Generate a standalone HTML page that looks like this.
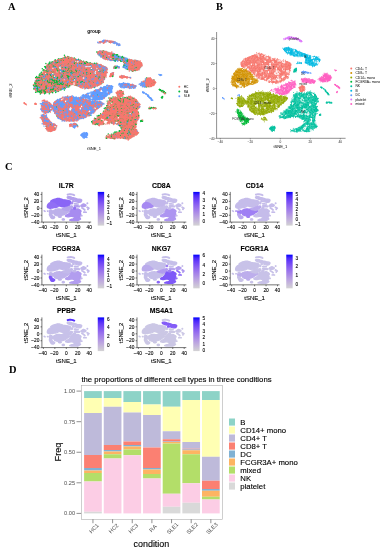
<!DOCTYPE html>
<html><head><meta charset="utf-8"><title>Figure</title><style>html,body{margin:0;padding:0;background:#fff}body{width:384px;height:550px;overflow:hidden}</style></head><body>
<svg width="384" height="550" viewBox="0 0 384 550" style="display:block" font-family="'Liberation Sans',Arial,sans-serif">
<rect width="384" height="550" fill="#fff"/>
<text x="8" y="9.8" font-family="'Liberation Serif','Times New Roman',serif" font-weight="bold" font-size="10.4">A</text>
<text x="216" y="9.8" font-family="'Liberation Serif','Times New Roman',serif" font-weight="bold" font-size="10.4">B</text>
<text x="5.1" y="170.1" font-family="'Liberation Serif','Times New Roman',serif" font-weight="bold" font-size="10.4">C</text>
<text x="9" y="373.2" font-family="'Liberation Serif','Times New Roman',serif" font-weight="bold" font-size="10.4">D</text>
<g id="panelA">
<path d="M44.6 67.3L47.1 64.7L51.0 62.4L54.9 60.1L60.0 58.5L66.0 56.6L71.8 57.0L74.2 58.0L79.0 59.6L83.2 61.1L88.6 62.1L93.7 63.1L99.5 64.2L104.3 65.7L107.3 67.8L107.9 70.2L107.3 73.0L106.6 75.3L105.5 78.2L104.3 80.5L103.1 82.8L101.3 84.4L97.7 86.4L93.7 88.0L88.6 89.0L83.2 88.5L78.4 86.9L74.2 85.6L69.8 85.3L66.7 84.0L63.7 81.3L60.7 79.0L56.5 77.1L51.6 75.1L48.1 72.9L45.9 70.9Z" fill="#ad8a92" opacity="0.8" stroke="#fff" stroke-width="0.6"/>
<path d="M33.7 86.9L34.4 82.8L35.0 80.5L36.8 77.6L38.9 75.3L41.0 73.5L44.0 72.0L47.2 72.2L51.8 73.2L55.7 74.7L58.7 77.3L60.9 79.7L64.2 82.5L66.9 84.9L67.5 87.5L64.5 89.0L59.7 90.6L54.9 91.6L50.1 92.6L45.3 93.4L40.4 93.1L36.8 92.1L34.4 90.0Z" fill="#869575" opacity="0.8" stroke="#fff" stroke-width="0.6"/>
<path d="M40.4 106.0L41.4 103.5L42.7 101.5L45.3 100.7L48.0 100.9L50.1 102.4L52.5 104.8L54.0 102.2L56.7 99.8L60.0 98.3L63.3 97.1L67.5 96.3L71.8 96.2L74.2 97.0L77.8 97.0L81.7 97.0L85.6 98.3L89.2 99.6L93.4 100.4L98.3 100.9L101.9 101.7L104.9 103.3L103.1 105.0L101.3 107.3L98.3 109.1L95.2 111.2L92.8 113.3L90.7 115.1L87.4 116.9L84.7 118.3L81.4 119.5L78.7 120.2L74.2 121.8L68.1 121.8L63.0 120.9L59.7 119.5L57.0 117.7L55.3 114.8L54.0 112.5L53.3 109.7L51.0 111.2L48.9 113.1L46.5 113.8L44.0 113.3L41.9 112.5L40.7 109.7ZM78.0 125.4L77.7 126.1L76.7 126.7L75.3 127.1L73.6 127.2L71.9 127.1L70.4 126.7L69.4 126.1L69.1 125.4L69.4 124.6L70.4 124.0L71.9 123.6L73.6 123.5L75.3 123.6L76.7 124.0L77.7 124.6Z" fill="#a98aae" opacity="0.8" stroke="#fff" stroke-width="0.6"/>
<path d="M40.4 114.4L43.4 114.0L46.5 115.1L47.7 116.9L48.7 119.0L50.4 121.0L52.5 122.8L54.9 124.1L57.0 125.4L57.3 127.2L56.1 129.3L54.3 130.8L51.8 131.9L48.9 131.7L46.5 130.6L45.3 128.8L44.2 126.7L42.8 124.1L41.9 121.5L41.0 119.5L40.4 117.7Z" fill="#9b8ea9" opacity="0.8" stroke="#fff" stroke-width="0.6"/>
<path d="M81.4 95.8L86.2 93.4L90.7 92.1L94.6 90.0L99.8 88.2L103.7 86.7L107.3 85.6L111.5 84.9L113.3 86.9L112.5 90.9L110.3 93.8L107.4 96.0L104.5 98.3L101.9 100.1L97.7 100.8L93.7 100.7L89.0 99.6L84.4 98.1Z" fill="#689af2" opacity="0.8" stroke="#fff" stroke-width="0.6"/>
<path d="M92.2 120.9L95.2 118.3L99.8 115.8L102.5 113.3L104.3 111.2L105.8 108.6L106.6 106.0L107.3 103.5L108.0 100.9L109.1 99.0L110.3 97.7L113.9 97.1L117.8 97.0L121.1 97.6L123.9 98.3L126.6 96.7L129.9 95.8L133.2 97.1L135.9 99.1L138.6 101.4L140.4 104.2L139.2 107.6L137.4 110.7L139.0 113.3L139.7 115.9L138.6 119.0L137.4 122.3L136.8 125.7L135.9 128.8L137.8 131.1L138.9 133.3L136.8 135.3L134.4 136.5L131.4 138.4L128.4 139.7L122.4 139.1L119.3 138.3L114.5 139.1L110.3 139.0L106.7 138.6L104.3 137.6L107.3 135.8L110.9 134.2L114.8 133.2L118.1 131.7L120.5 130.3L122.4 128.7L120.3 126.8L117.8 125.4L114.5 124.1L111.8 123.5L107.9 123.9L104.3 124.7L101.3 125.4L98.3 125.4L95.2 124.6L92.2 123.5L91.4 122.1Z" fill="#c28570" opacity="0.8" stroke="#fff" stroke-width="0.6"/>
<path d="M87.8 135.1L87.5 136.1L86.8 136.9L85.6 137.5L84.3 137.6L82.9 137.5L81.8 136.9L81.1 136.1L80.8 135.1L81.1 134.1L81.8 133.2L82.9 132.7L84.3 132.5L85.6 132.7L86.8 133.2L87.5 134.1Z" fill="#6d99f3" opacity="0.8" stroke="#fff" stroke-width="0.2"/>
<path d="M113.6 75.2L113.0 76.1L112.3 76.8L111.5 77.1L110.7 77.1L110.1 76.7L109.7 76.0L109.7 75.1L109.9 74.1L110.5 73.2L111.2 72.5L112.0 72.2L112.8 72.2L113.4 72.6L113.8 73.3L113.8 74.2Z" fill="#c18485" opacity="0.8" stroke="#fff" stroke-width="0.2"/>
<path d="M142.3 92.6L145.9 94.7L149.5 98.2L151.9 100.8L153.1 99.9L150.7 97.4L147.0 93.7L143.1 91.4Z" fill="#649bfc" opacity="0.8" stroke="#fff" stroke-width="0.2"/>
<path d="M148.8 108.8L152.4 108.5L156.9 109.0L157.1 107.8L152.5 107.3L148.7 107.6Z" fill="#709b50" opacity="0.8" stroke="#fff" stroke-width="0.2"/>
<path d="M143.4 121.0L143.3 121.4L143.0 121.7L142.5 122.0L142.0 122.1L141.4 122.0L141.0 121.7L140.7 121.4L140.5 121.0L140.7 120.6L141.0 120.3L141.4 120.1L142.0 120.0L142.5 120.1L143.0 120.3L143.3 120.6Z" fill="#32ac43" opacity="0.8" stroke="#fff" stroke-width="0.2"/>
<path d="M96.8 52.1L99.5 50.6L104.3 50.2L107.9 51.3L111.8 52.8L115.7 53.9L119.3 55.3L123.6 56.8L127.8 58.2L132.0 59.6L135.6 59.6L139.2 60.6L142.5 63.1L142.2 66.3L139.5 70.2L135.6 71.2L132.0 71.4L128.4 70.4L124.8 68.9L122.4 67.6L123.0 65.2L123.9 63.1L121.7 61.6L119.3 61.1L115.7 61.3L111.8 61.1L107.9 60.3L104.3 59.2L101.3 57.7L98.3 56.0L97.1 53.9ZM119.3 67.3L119.1 67.9L118.5 68.3L117.5 68.6L116.3 68.8L115.2 68.6L114.2 68.3L113.5 67.9L113.3 67.3L113.5 66.8L114.2 66.3L115.2 66.0L116.3 65.9L117.5 66.0L118.5 66.3L119.1 66.8Z" fill="#5d9f9c" opacity="0.8" stroke="#fff" stroke-width="0.6"/>
<path d="M98.0 44.0L101.0 42.8L104.4 42.3L107.3 42.0L110.7 42.4L114.1 43.4L116.9 44.6L118.6 46.2L120.1 45.0L118.1 43.2L114.9 41.8L111.2 40.7L107.3 40.2L104.1 40.5L100.4 41.2L97.1 42.5Z" fill="#ab8ab2" opacity="0.8" stroke="#fff" stroke-width="0.2"/>
<path d="M125.7 76.8L125.5 77.3L124.7 77.8L123.6 78.1L122.4 78.2L121.1 78.1L120.0 77.8L119.2 77.3L119.0 76.8L119.2 76.3L120.0 75.9L121.1 75.6L122.4 75.5L123.6 75.6L124.7 75.9L125.5 76.3ZM124.7 77.6L131.3 78.3L131.5 77.4L124.8 76.7Z" fill="#e47b72" opacity="0.8" stroke="#fff" stroke-width="0.2"/>
<path d="M118.7 84.4L122.4 82.8L127.2 83.3L132.0 84.4L136.5 85.9L135.6 88.0L130.8 88.5L124.8 88.0L119.9 86.9Z" fill="#7a96e1" opacity="0.8" stroke="#fff" stroke-width="0.2"/>
<path d="M123.6 93.7L123.3 94.9L122.5 96.0L121.3 96.7L119.9 97.0L118.6 96.7L117.4 96.0L116.6 94.9L116.3 93.7L116.6 92.4L117.4 91.3L118.6 90.6L119.9 90.3L121.3 90.6L122.5 91.3L123.3 92.4Z" fill="#d87f6f" opacity="0.8" stroke="#fff" stroke-width="0.2"/>
<path d="M156.0 82.1L155.7 83.8L154.2 85.3L151.7 86.6L148.7 87.4L145.6 87.5L142.8 87.1L140.8 86.0L139.8 84.5L140.1 82.9L141.6 81.3L144.0 80.0L147.1 79.3L150.2 79.1L153.0 79.6L155.0 80.6ZM151.9 79.7L151.6 80.5L150.8 81.2L149.6 81.6L148.3 81.8L146.9 81.6L145.7 81.2L144.9 80.5L144.6 79.7L144.9 78.9L145.7 78.2L146.9 77.8L148.3 77.6L149.6 77.8L150.8 78.2L151.6 78.9Z" fill="#d87f6f" opacity="0.8" stroke="#fff" stroke-width="0.6"/>
<path d="M161.4 74.9L161.3 75.2L161.1 75.5L160.7 75.7L160.3 75.8L159.9 75.7L159.5 75.5L159.3 75.2L159.2 74.9L159.3 74.5L159.5 74.2L159.9 74.0L160.3 73.9L160.7 74.0L161.1 74.2L161.3 74.5Z" fill="#7098f0" opacity="0.8" stroke="#fff" stroke-width="0.2"/>
<path d="M158.7 90.1L162.1 92.0L164.6 94.4L165.9 93.4L163.3 90.8L159.7 88.8ZM162.9 97.3L162.9 97.6L162.7 97.9L162.4 98.1L162.1 98.2L161.8 98.1L161.5 97.9L161.3 97.6L161.3 97.3L161.3 96.9L161.5 96.6L161.8 96.4L162.1 96.3L162.4 96.4L162.7 96.6L162.9 96.9Z" fill="#639f4d" opacity="0.8" stroke="#fff" stroke-width="0.2"/>
<path d="M23.5 103.1L26.5 105.7L27.2 105.1L24.2 102.5ZM44.9 100.4L44.8 100.6L44.5 100.9L44.0 101.0L43.4 101.1L42.9 101.0L42.4 100.9L42.1 100.6L42.0 100.4L42.1 100.1L42.4 99.9L42.9 99.7L43.4 99.6L44.0 99.7L44.5 99.9L44.8 100.1Z" fill="#f07874" opacity="0.8" stroke="#fff" stroke-width="0.2"/>
<path d="M36.6 103.8L36.5 104.0L36.2 104.2L35.8 104.3L35.4 104.4L34.9 104.3L34.5 104.2L34.3 104.0L34.2 103.8L34.3 103.5L34.5 103.3L34.9 103.2L35.4 103.2L35.8 103.2L36.2 103.3L36.5 103.5Z" fill="#df7d68" opacity="0.8" stroke="#fff" stroke-width="0.2"/>
<path d="M64.4 55.3h0m3.4 1.1h0m-12.6 3.3h0m3-.3h0m.3-.5h0m1.7 0h0m1.7-.2h0m.4 .5h0m.9-1.1h0m0 1.5h0m1.6-1.6h0m1.2-.1h0m1.7 2.1h0m.5-1.9h0m.1 .3h0m.5 .7h0m1.8-.2h0m.7 .3h0m.2 .7h0m.7-.3h0m.2-.7h0m1.3 .5h0m.6-1.4h0m2.2 2h0m2-.7h0m0 .6h0m-28.6 2h0m.1 .8h0m.1 .2h0m2.1-1.2h0m2.4-.9h0m.3 .3h0m0 1.9h0m.7-1.5h0m.1-.8h0m.4 .4h0m.8 1.2h0m.2-.8h0m0 1.3h0m.3-.8h0m.4-1.9h0m1.5 1.8h0m.1 .7h0m.4-.7h0m1.3 .2h0m.2-1.1h0m2.7-.2h0m0-.3h0m.4-.2h0m.2-.1h0m.2 .1h0m1.1-.3h0m.8 2.6h0m.2-.1h0m.1-1.2h0m1.1-1.3h0m1.2 2.7h0m.1 .2h0m0-1.1h0m.1-1.7h0m.1 2.7h0m.3-1.5h0m.7 .4h0m2.4-.6h0m.7-.6h0m3.6 1.2h0m1.3 0h0m.8-.9h0m.5 1.8h0m.6-2.5h0m.6 2.4h0m.5-.6h0m.5-.3h0m.2 .7h0m1.3-1.1h0m2.4 1.2h0m.3-.7h0m-40.4 1.7h0m2.1 1.4h0m.9-.8h0m.1-.9h0m2.4 .3h0m.1 1.8h0m.6-.4h0m.1 .3h0m.5-.5h0m.9-1.2h0m1.2 1.1h0m.3 .3h0m.6-1.1h0m.3 0h0m1.3-.1h0m.5-.6h0m.4 1.7h0m.3-1.1h0m.1 1.9h0m.4-.9h0m1.1 1.3h0m.8-2h0m1.8 .7h0m.5 .8h0m.1-.4h0m.1 .7h0m0 .3h0m1.4-.8h0m.5-1.5h0m1 1h0m.6 .5h0m.7-1.5h0m.9 1h0m1.2-1.6h0m.1 1.2h0m1.7 1.4h0m1.7 .3h0m1.4-.6h0m.6-.3h0m.7-.4h0m0 .7h0m.4-1.2h0m.4-.5h0m.5 1h0m.7-1.5h0m.2 1.9h0m1.7-1.7h0m2.7-.2h0m.1 1h0m.8 .8h0m.6 .2h0m1.3-1.6h0m1.2 .9h0m.7-.5h0m.3 1.5h0m.4-.5h0m1.4-.1h0m.1-1.3h0m.3 .6h0m.2 1.1h0m.2 .1h0m.2-1.3h0m.4 .5h0m.1 1.2h0m.9-2.2h0m.7 2h0m.3-1.1h0m.2 .8h0m1.1 .3h0m.4-2.4h0m1.5 1.5h0m.4-1.4h0m3.1 2h0m1.6 0h0m-58.7 3.5h0m2.3-2h0m1.1 1.1h0m.2-1.5h0m.3 .2h0m1.7-.5h0m.2 1h0m.7 .7h0m1-1.1h0m.7 .5h0m.4 .6h0m1-1.3h0m1.4 .5h0m.3 .4h0m.1-1.2h0m.2 2.1h0m.3-.6h0m.6 .9h0m.1-2.6h0m.1 .6h0m1.4 0h0m.3-.1h0m.5 0h0m.8 .2h0m0 1.3h0m1.6 1h0m0-.7h0m.2-2.1h0m1.2 1.9h0m.6-.7h0m.2-.5h0m1.3 1.8h0m.2-.1h0m.7-2.5h0m.9 .2h0m.8 2.6h0m1-1.4h0m.5-.2h0m.5 1.3h0m.6-1.1h0m.5-.1h0m.1-.4h0m.1 1.8h0m.1-2h0m.1 .4h0m2.3-1h0m.8 1.2h0m2.1-.6h0m.6 1.2h0m.8-1.5h0m.2 .6h0m.5 1.5h0m.6-.1h0m.7-2.2h0m0-.1h0m.2 .2h0m1.6 2.2h0m.1 .4h0m.1-2h0m.2 1.3h0m.5 .2h0m.1-1.5h0m1.5 1.1h0m3.7 .6h0m.2-.6h0m.1 .7h0m.4-2.5h0m.2 1.1h0m.5 .9h0m1.2 .5h0m.4-2.6h0m.6 1.7h0m1 .9h0m.6 0h0m.5-2.8h0m.1 2.6h0m.4-.2h0m.1-.7h0m.2 .2h0m1.2 .8h0m3.7-2.5h0m.2-.1h0m.1 .9h0m1.1 1.3h0m0-1.6h0m2.9 2.1h0m.5 .2h0m1.7-2.6h0m-60.7 4.3h0m0-.1h0m.5-.9h0m.9 .5h0m.5 .8h0m.3 .5h0m.8-.8h0m.5-.6h0m.3 1.9h0m.5-.9h0m.5-.8h0m.1 1.3h0m.5-.6h0m.2 0h0m.3-.2h0m0 .6h0m.1-.1h0m.6-.3h0m.9 .5h0m.2 .1h0m2.2-.4h0m0 .2h0m.1 .6h0m.6-.3h0m.1 .2h0m1.9-.7h0m1.2-1.4h0m.8 1.7h0m.3-2.2h0m1.2 .6h0m.6 1.4h0m2.1-.1h0m.3-.1h0m.1-1.8h0m.3 .9h0m.9-.6h0m0 1.9h0m1.6-1.8h0m.2 .9h0m.6-.8h0m.8 0h0m.1 .6h0m0 1.2h0m1.1-1.5h0m.2 1.8h0m1.4-1.5h0m.3 0h0m.2-.1h0m1.5 1.4h0m1.2-1.2h0m.4 0h0m.2-.7h0m.1 .7h0m.8 .9h0m.3-.4h0m1.3 0h0m.1-.8h0m.8-.3h0m2.1 1.1h0m.7-.4h0m.9-1.1h0m.3 1.8h0m.6 .7h0m.3-2.3h0m.8 0h0m1.8 .9h0m1.6-.9h0m.5 .3h0m.5 .5h0m.2-.2h0m.3 .5h0m.5-.9h0m.6 .7h0m2.2-.7h0m.1-.5h0m.7 2.4h0m.7-1.9h0m.1-.5h0m.6 .8h0m0 1.2h0m.1 .5h0m1-2.1h0m.6 .2h0m.6 .3h0m.1 0h0m.3 1.2h0m2.7-1.4h0m.9-.7h0m0 2h0m.3-1.7h0m.5 .7h0m1.2 .6h0m2.6 .3h0m.3-1.8h0m1.3 1.4h0m-66 4h0m.8-1.1h0m1.2-1.1h0m.2-.6h0m.2 2.3h0m1.3-.8h0m.5 1.2h0m1-1.5h0m.2 .4h0m.2-1.1h0m.2 1.2h0m.5-1h0m.3-.5h0m.6 1.8h0m.4-1.3h0m.4-.5h0m1.6 1.4h0m.4 .8h0m.8-.3h0m1-1.4h0m0 1h0m.2-.7h0m.2 1.3h0m.1 .5h0m.6-.1h0m.1-1.9h0m.2 1h0m.2 0h0m.1 .8h0m.4-.1h0m.3 0h0m.2-.9h0m.1-1.5h0m.1 1.3h0m.5-.4h0m.3 1.7h0m.2-.5h0m0-1.3h0m.4 1.3h0m.4 .4h0m.1-.1h0m.4-1.1h0m.3-.3h0m0-1.1h0m.4 2.3h0m0-2.1h0m.8 2h0m.6 .2h0m.1-1.3h0m1.5-.6h0m.2-.3h0m.9 .4h0m.1 .1h0m.8 1.5h0m.8-1.3h0m.3 0h0m2.8-.5h0m.6-.1h0m.9 2.3h0m.6-.1h0m1.3-1.1h0m.8-1.4h0m.6 2.2h0m.4-.9h0m.6-.6h0m.1 1.2h0m1.7-.9h0m1.3 .8h0m.5-1.5h0m.1 1.5h0m1-1.5h0m.7 1.9h0m1.3-1.6h0m1-.5h0m3.3 0h0m2.5 .4h0m1.4 .1h0m.3 2.1h0m.1-1.9h0m.8 1h0m1.2 0h0m.7-1.8h0m.1 2.2h0m.6 0h0m0-.8h0m1.3 .3h0m0 .6h0m2.4-.1h0m1.3-1.1h0m.6 0h0m1.6 1.1h0m.2-1.3h0m1.4-1h0m1.4 1.9h0m1.6-1.5h0m.8 1.2h0m1.1 .7h0m.9-2.1h0m-69.2 5.3h0m.4 .3h0m.2-.2h0m.5-1.1h0m2.9-.7h0m.1-.7h0m.8 .6h0m.2 2.2h0m.4-2.2h0m1.4 2.3h0m.2-2h0m1 .2h0m.3 1.6h0m.4-.2h0m1-1.6h0m.2 1.1h0m.6-1.1h0m.6 1.4h0m.7-1.2h0m.2-.9h0m.1 1.9h0m.2-.7h0m0 .7h0m.1-1.7h0m.2 .6h0m.4 1.7h0m.5-2.1h0m.4 1h0m.5-.3h0m.9 .5h0m.2-.7h0m1.5 1.2h0m.1-2.4h0m.3 .2h0m.2 1.9h0m.1 .4h0m.2-2.3h0m.7 .3h0m.1 1h0m.1 1h0m0-1.1h0m.5-1.1h0m.2 .1h0m.2 .7h0m0-.9h0m.2 .5h0m.1 .7h0m.5-.3h0m.3 1.5h0m.3-2.1h0m.9 1.4h0m.3-1.6h0m.5 1.1h0m.3 .8h0m0-.8h0m.4 1.4h0m1.1-.3h0m0-.9h0m0-.7h0m.1 1.9h0m.1-1.8h0m1.5 1.7h0m1.3-1h0m.2-.5h0m0 .7h0m.8-.3h0m1.3-.5h0m.2-.1h0m.9 1.1h0m.1 .1h0m.2 .5h0m.2-1.4h0m.3 .7h0m.6 .3h0m1.7-1.2h0m1.7 .7h0m.5 .8h0m.9-1.6h0m.7 .7h0m0-.2h0m.4-.1h0m1.2 .3h0m2.4 0h0m.1 .4h0m.6 .8h0m.7-.9h0m1.1-1.3h0m.2 1.4h0m1.7-1.8h0m.3 1.8h0m.1-1.2h0m.2 .6h0m1 1.2h0m1-1.2h0m1.2 1.1h0m.4-1.6h0m3 1.6h0m.3-1.9h0m.1 1.2h0m.1 1h0m.4-1.2h0m.1-.4h0m.9 .6h0m2.2-1.5h0m.9 .5h0m.9 .8h0m.8-.1h0m.9 1.1h0m.2-1.9h0m1.4 .8h0m0 .7h0m.1-1.9h0m.1 2.5h0m1.2-1.5h0m.1-.1h0m.3 1.2h0m.2-2h0m1 .7h0m1.4 1.4h0m.6-1h0m-67.2 4.4h0m.5-2.9h0m.3 1.3h0m.3 1.1h0m.7-1.3h0m.7 .5h0m0-.2h0m.3 .6h0m.7-1.3h0m.7 1.4h0m.1-1.7h0m.9 1.4h0m.2-1h0m.2 .3h0m2.1 1.6h0m.4-1.1h0m.2 .6h0m.3-2.3h0m.2 2.5h0m.1-2h0m.3 1.8h0m.6 .3h0m.2-2.3h0m1.3 2.2h0m.1-.1h0m.3 .5h0m1-.7h0m.3-.2h0m.3-1.9h0m.6 1.9h0m.7-2h0m.1 2.9h0m.6-2.7h0m.2 2.1h0m.1-.5h0m.3 .1h0m.1 .4h0m2.3-.9h0m.4 .4h0m.3-.9h0m.9-.6h0m.5 2.4h0m.2-2.7h0m1.2 .9h0m.2 .3h0m.3 .5h0m.2-.6h0m.3-.2h0m.2-.8h0m.1 1.8h0m.5 1.1h0m.2-.1h0m.1-.5h0m.4-2.3h0m0 .9h0m.2 .1h0m0 1.9h0m.1-2.9h0m.5 .1h0m.4 .6h0m.5 1.6h0m.8-.5h0m0-1.7h0m.8 1.6h0m.3-.2h0m.3 1.2h0m.3-2.3h0m.5 .8h0m1-.1h0m.1-.4h0m.2-.5h0m.2-.1h0m1.3 1.6h0m.1-.4h0m.7-.3h0m0-.3h0m.6 .3h0m0 1.8h0m.1-.2h0m.2-1.6h0m.1-.4h0m4 .4h0m1.1-.2h0m.2-.3h0m1.4 .9h0m.8 1.5h0m.2 0h0m0-.8h0m.6 .2h0m.5-1.2h0m.5 .6h0m.2-.6h0m1.7 .1h0m.1 1.6h0m.6-.5h0m5.1-1.9h0m1.7 2h0m0 0h0m.2 .1h0m2.6-.8h0m.4-1.4h0m.8 .1h0m.4 2.4h0m1-1.8h0m.5-1h0m.4 1.2h0m.9-.7h0m.5 .1h0m.6 1.1h0m2.4-.8h0m.7 1.7h0m.9-1.2h0m.1 1.1h0m.2 .1h0m.2-2h0m.4 1.9h0m-66.9 2.5h0m.4-.7h0m.4 .6h0m0-2h0m0 2.5h0m.5-.4h0m.1-1.6h0m0 .7h0m.5 0h0m.1 .2h0m.6 .7h0m.6-.9h0m.5 1.4h0m.5-1.4h0m.3 1.5h0m.2-1.3h0m.2 0h0m.3 0h0m0-1.1h0m.1 .7h0m.1-.9h0m.1 .1h0m.2 2.7h0m.2-2.3h0m.1-.5h0m.5 2.9h0m.3-.5h0m.6-.8h0m.3 .2h0m.1 .9h0m.1 0h0m1.3-2.6h0m.2 1.7h0m0-1.5h0m0 1.7h0m.7 .4h0m.5-.6h0m.1-.5h0m.5 0h0m.1-.6h0m1.3 2.1h0m1.1-.6h0m.4-.2h0m.2-.1h0m.3 .9h0m.2-2.4h0m0-.3h0m.6 2.7h0m.4-2.7h0m.9 1.5h0m.9-.1h0m0 .1h0m.2-.5h0m.9 1.1h0m1-.1h0m1.4-.5h0m1.7-.7h0m.5 .7h0m.5-1h0m.6 2.2h0m.1-1.5h0m.5-.5h0m0-.8h0m.2 1.2h0m3.5-.5h0m0-.5h0m.4 1.8h0m.6-1.7h0m.3 .7h0m.4-.8h0m.1 1.7h0m.3-1.6h0m.1 2.5h0m.3-2.8h0m.6 2.8h0m.2-2h0m.3 1.3h0m.8 .5h0m.6-.7h0m0-.1h0m1.2 .4h0m.1 .3h0m1.8-.6h0m1.5-1.2h0m.1 .6h0m1.2 1.5h0m.4-1h0m1.3-1.8h0m3.6 .8h0m.6 0h0m1-.3h0m1-.3h0m.1 1.8h0m1.1-.3h0m1.1-.5h0m.1-.4h0m2.7 1h0m.1-1.6h0m.8 0h0m0 0h0m.1 .3h0m.2 .7h0m.5-.5h0m.9-.1h0m.1 1.8h0m2.6 .4h0m.6-2.7h0m.4 1.7h0m1.8-1.7h0m.4 .9h0m.4 .6h0m.2-.3h0m0 .6h0m.4-.1h0m0 .1h0m.1 .7h0m.4-.6h0m0 .2h0m.3 .1h0m.7-2h0m.3 1.8h0m1-.8h0m.1-.7h0m.2 .2h0m1.3-.5h0m-67.8 4h0m1.7 1.3h0m0-2.1h0m1.7 .1h0m.6 1.6h0m.3-1.1h0m.1 .1h0m1.6 .7h0m.4-1.4h0m.3-.4h0m.5 1h0m.1-1h0m.1 1.5h0m1.2 .1h0m.3 .3h0m.3-1.3h0m.7 1.3h0m0-1.7h0m.6 1.5h0m3.3-1.8h0m.9 2h0m0 .2h0m.4-2.1h0m.5 1.9h0m.4-.1h0m.9-1.8h0m.1 2.4h0m.2-.9h0m.2 .7h0m0 0h0m.5-1.2h0m.3 1.5h0m.2-2.4h0m.1 .8h0m.1 .4h0m.2 .7h0m0-1.4h0m.6 .2h0m.4 1.6h0m.5-1.1h0m.1 .1h0m.5-1.6h0m.8 1.3h0m1.3-.8h0m.2 2.2h0m.3-2.2h0m.8-.2h0m0 2.4h0m.9-1h0m.2 .3h0m.9-.1h0m.7-.8h0m.1 1.6h0m.4-1.1h0m.2 1.2h0m.3-.9h0m1.1 .5h0m.1 .3h0m.2 .1h0m.7-.2h0m0-1h0m.2 1.1h0m0-1.9h0m.5-.6h0m.3 2h0m.5-.7h0m.1-.2h0m.4 .6h0m.1 .9h0m.1-1h0m.3 0h0m.1 .4h0m.3 0h0m0-1.5h0m.3 1.1h0m.1-1.1h0m1 .9h0m0 .2h0m1.1-.3h0m.1 0h0m.7 .2h0m.1 .1h0m6.7-1h0m1.1 0h0m.1-.3h0m.5 .9h0m2.2-.4h0m.6-.1h0m.8-.7h0m2.7 1.2h0m.2 .9h0m.1-.9h0m.9-.5h0m.5 1.3h0m.6-.5h0m.3 1.3h0m1.3-1.1h0m1.2-1.7h0m.4 .4h0m1.8-.4h0m.6 .7h0m1.4 .1h0m.1 .2h0m.9-1.1h0m-61.2 4.8h0m.3-.3h0m1.2 .2h0m1-.8h0m.2 1.3h0m.2-.2h0m.3 .6h0m.6-2.6h0m.9 .2h0m.6 2.3h0m.9-2.2h0m.2-.1h0m1.5 2.4h0m.3-2.4h0m0 0h0m.2 .4h0m.5 1.1h0m.4 .7h0m.5-2h0m1.1 2.4h0m.1-1.7h0m1.7 1h0m.3 .8h0m2.1-2h0m.1-.3h0m.9 .6h0m.9 .9h0m.3-2h0m.6 2h0m.3 0h0m.4-2.1h0m.2 .2h0m.2 2.4h0m.1 .2h0m.1-.9h0m.2-1.1h0m.3 1h0m.5-.3h0m.6 1.2h0m.6-2.5h0m0 .8h0m.1 .8h0m.8-1.7h0m2.8 .1h0m1.2 1.3h0m.9 1.4h0m.4-1.2h0m.1-1.4h0m.8 .4h0m2.2 2.2h0m2.7-3h0m1.7 .1h0m15 .9h0m3.4-.4h0m.7-.2h0m-52.3 4.8h0m.4 .1h0m.4-2.3h0m.4 1h0m.4 .5h0m.5 .3h0m.8-.3h0m.3-.2h0m.1-.9h0m.2 1.2h0m.3 .1h0m.7-1.5h0m.2 2.7h0m2.2-2.6h0m1 1.8h0m1.5 .7h0m1.9-1.9h0m.2-.6h0m.8 1.6h0m.3-.8h0m.3-.5h0m.7 1.3h0m.4-.2h0m.3-1.1h0m.9 .9h0m.2 .5h0m1-1.6h0m.4 1.8h0m.3 .6h0m2.4-2.4h0m.4 .3h0m.1-.7h0m.1 2.4h0m.9-1h0m1.3-.7h0m.1 .9h0m.6-.5h0m-18.3 3h0m.4-.6h0m3.9 .2h0m.7-.6h0m4 .6h0m59.6 4.2h0m2.2 .5h0m.2-.2h0m1.7-1.2h0m2.3 .1h0m.1 1.9h0m.4-1h0m0-.5h0m3.1 1h0m1.5 .2h0m.7 0h0m0 .2h0m2.4-.6h0m.7-.2h0m.7-.6h0m.8 .5h0m1 .3h0m2-1.8h0m.3 2.2h0m.2-.3h0m1.4-.4h0m1.3 .8h0m.6-.7h0m.9 .4h0m.2 .1h0m.7 .2h0m-27.1 2.3h0m2.9 .1h0m.6-1h0m.6 .6h0m.1 .5h0m1.3-1.1h0m.5-.9h0m1.1 2.4h0m.1-.7h0m.1-1.8h0m.3 .3h0m.1-.4h0m0 .2h0m.2 1.7h0m1.6 .4h0m1.2-1.7h0m.3 0h0m1.1 .9h0m1.4-.1h0m.1 1.4h0m.5-1.9h0m.5 1.6h0m1.1 .1h0m.5-1.2h0m.3-1.5h0m.4 2.1h0m.2-1.9h0m1.4 2.3h0m.2-2h0m1.4 1.7h0m1-1.8h0m.4 2.4h0m3.3-1.7h0m1.3-.5h0m.1 .4h0m.1 1.4h0m.8-.8h0m.4 1.3h0m1-1.5h0m.8 1.1h0m-29 1.6h0m1 .3h0m1.5-.2h0m.2 1.1h0m.6-1.5h0m.2-.4h0m.1 .9h0m2.1-1.1h0m1 1.4h0m.9-1.2h0m.6 1h0m.5 .2h0m1.2-1.3h0m.3 .1h0m2.9 .3h0m.8 2.2h0m.4-.2h0m.9-2.5h0m1 2.8h0m.6-.3h0m.1-2.5h0m1.1 .1h0m.4 1.7h0m.2-.7h0m1.5 .2h0m.5-.5h0m.4 1h0m1.8-.9h0m1.1 1.5h0m.1 0h0m.1 .1h0m.4 .1h0m.2-2.1h0m0 .9h0m.5 0h0m2-.8h0m.9 2.2h0m.5-.5h0m1 0h0m0-1h0m.5 .4h0m.3 .5h0m-31.9 3.5h0m.2-.1h0m0-.3h0m.5-1.8h0m.9 1.8h0m1.8-2.3h0m0 2.6h0m.1-2.3h0m0 2.4h0m.8-.1h0m.5-1.4h0m.7 1.6h0m2-1.5h0m1.7 1.5h0m.1-2.9h0m0 2.1h0m1.1-.6h0m.6 1.3h0m.1-1.8h0m.4-.2h0m.1 1.2h0m.9 .9h0m.4-2.6h0m0 .6h0m.3 .1h0m.8 .1h0m5.5 .3h0m.2 .4h0m.1-.6h0m0 1.3h0m.4-2.1h0m.9 2.2h0m3.1-.4h0m.5-1.3h0m1-.2h0m.2 0h0m1 1.8h0m1.7-.6h0m.1-.9h0m.4 .8h0m.2-1.9h0m.2 1h0m2.2 .5h0m.3 .2h0m.5-.6h0m.3 0h0m-34.6 2.5h0m.3-.5h0m.9 2.1h0m.2-.6h0m.2-1.3h0m1.7 .5h0m.1-.6h0m0 1.9h0m1.7-1.4h0m1.1 1.9h0m.9-2h0m.4 2h0m.2-.6h0m.7-.6h0m.9 .4h0m0-1h0m.5 .1h0m1.3 1h0m2.8-.9h0m.2 1.6h0m.7-1h0m1.3-.6h0m.5 1.3h0m.2-1.1h0m.8-1h0m.4 2.7h0m.7-1.8h0m.1 .1h0m0 .7h0m.5 .7h0m.3-2.6h0m.7 1.2h0m.1-.5h0m.4-.5h0m.1 1.7h0m0 .6h0m1.8-1.7h0m1.9-.8h0m.5 .5h0m.1-.2h0m1.8 2.7h0m.7-1.4h0m.1-1.1h0m1.6 1.1h0m.2 1h0m1.1-.8h0m.5-1.7h0m.3 .1h0m.1 1.7h0m.1 1.1h0m-35.2 2.8h0m2.8-2.6h0m.8 1.7h0m.4 .7h0m.4 .1h0m.4-.9h0m.1-.9h0m1.3 2.1h0m6-2.2h0m.2 .3h0m.1 1.8h0m1.3-.3h0m.7-2.5h0m.9 1.4h0m.4-.9h0m.5 1.3h0m.5 .9h0m.4-2.5h0m.1 2h0m1.7-.2h0m.2 0h0m0 .4h0m1.2 .3h0m.6-.8h0m1.7-.9h0m2.1 1.1h0m1.3 0h0m.8-.4h0m.4-.5h0m.1-.5h0m.6-.2h0m.5 2.2h0m1-.1h0m.8 .1h0m1.1-2.6h0m.2 2.8h0m.8-2.1h0m.1 .8h0m.2 0h0m1.4 1.3h0m.5-1.8h0m1 1.1h0m0-2.2h0m.2 2.5h0m-39.4 2.3h0m.8 .7h0m.7-1.2h0m0 1.3h0m.5 0h0m.2-.7h0m1-1.1h0m.6 .3h0m1.5 1.7h0m0-.7h0m.3-.1h0m.9-.8h0m.2 .4h0m.1-.1h0m.4 1.1h0m0-1.7h0m.4 .5h0m1.9 1h0m.8-.6h0m.7 .2h0m1 .9h0m.7-.5h0m0-.7h0m.4 .4h0m.6-1.3h0m.9-.8h0m.8 1.8h0m.2-.1h0m.2-.7h0m.9-.1h0m1.3 0h0m.1 .9h0m.6-1.7h0m2.1 1.2h0m.3 1.2h0m.7-.5h0m.3 .5h0m.1-.4h0m.4-.2h0m.7-.6h0m.3 .7h0m.9-.4h0m.3-.2h0m.3-.1h0m.1 .5h0m.3-1.8h0m.8 .9h0m.2 .8h0m.9-.6h0m1.4 .8h0m1.9 .7h0m.3-2h0m.2 .4h0m1.3 .3h0m.5-1.3h0m.1 .6h0m.2 1.3h0m.4-.1h0m.9-1.7h0m.1 2.6h0m2.1-1.6h0m.3-.4h0m.6 1.1h0m.9-1.8h0m.1 .8h0m.6 1.6h0m.3-.3h0m.4-1.1h0m-42.4 3.1h0m.1 1h0m3.7 0h0m1.1-.8h0m.4-1h0m1.7 1.3h0m.2 1.2h0m.9-1.9h0m1.5 .7h0m.3 1.1h0m.4-.2h0m.6-1h0m.5-.8h0m2.3 .9h0m.1 .2h0m.4-.7h0m0 .4h0m.8 0h0m1.1 1.3h0m.2-2.7h0m1.2 1.5h0m1.5 .4h0m3-2.1h0m.2 2.7h0m.1-2.2h0m2.7 1.5h0m1.4-.5h0m.6 .5h0m.4 .8h0m.4-1.7h0m0 .8h0m1-.1h0m.4-1.6h0m.1 1.2h0m.2 1.2h0m.3-.6h0m.3-1.1h0m1 1.7h0m0 .2h0m.7 .1h0m.1-.2h0m.3-.8h0m.4-.5h0m.7-1.3h0m.9 .6h0m.7-.2h0m2.5 .4h0m.2-.1h0m0 .7h0m.3-.8h0m0 .6h0m.3-.8h0m.5-.4h0m2.9 2.4h0m-44.7 2.1h0m.8-.3h0m.1 1.6h0m.2-1.6h0m.7 1.2h0m1 .2h0m.1-2.5h0m.2 2.2h0m.6 .5h0m.6-.7h0m.9-1.1h0m1.5-.6h0m.5 2.5h0m.3-1.5h0m.4-1.5h0m.7 .7h0m.1 1.8h0m.7 .4h0m.7-2h0m.1 1.5h0m.9-1.5h0m4.3-.7h0m.5 1.5h0m.1-.5h0m.3-.2h0m.3-.3h0m1.5 .2h0m2.4-.6h0m0 2.1h0m.2-1.8h0m2.2 1.6h0m1.5-.6h0m1.9-.1h0m.2 0h0m1 1.1h0m.4-2h0m1.2-.2h0m.1-.3h0m0 1.7h0m.2 0h0m.4-1.6h0m2.2 1.5h0m.2-1.4h0m.9 .5h0m.7 1h0m.4-.3h0m.1 1.4h0m1.2-.2h0m.2-1.7h0m3.2 .7h0m.2-1.5h0m.1 2.6h0m.2-1.2h0m.9-.4h0m.1-.4h0m1 1h0m.2-1.8h0m.4 2.9h0m.1-1.5h0m.3-.3h0m1.5-1h0m-41.3 3.4h0m3.3 .3h0m1 1h0m20.4-.2h0m.1 .5h0m.7-1h0m2.3 1.6h0m1.1-2.2h0m.6 1.6h0m1-.7h0m.3 1.1h0m.5-2.1h0m1 .1h0m1.4 1.3h0m.1-.6h0m1.1 1.1h0m.8 .6h0m.2-1.8h0m.4 .2h0m1.2 .8h0m.2-2h0m.5 2.8h0m1.3-2.7h0m.9 2.7h0m.2-2.6h0m0 2.7h0m-14.4 .5h0m.8 1.7h0m0-.8h0m1.1-.5h0m0-.6h0m.4 1.4h0m.9 .4h0m1.1-1.6h0m.2 1.8h0m.3 .1h0m.3 .3h0m.2-1.6h0m.2-.2h0m1.2 1h0m.3-1.5h0m.1 .2h0m.7 1.9h0m.6 .3h0m1.8-1.5h0m1.5-.6h0m.4 1.2h0m2.2-1.5h0m-19.8 5.5h0m1.9 .1h0m2.2-.1h0m.3-1.2h0m.7-.1h0m.1 .8h0m1.4-1.4h0m1.3 .5h0m0 .2h0m.6 1.2h0m.3-.8h0m.8-2h0m.1 2h0m1.7-.3h0m2 .3h0m.4 .7h0m3.4 .1h0m.7 0h0m1.4-.2h0m.3-1.9h0m.2 1.4h0m.4-1.7h0m.1 2.2h0m1-.8h0m-27.9 3.1h0m3.1 .2h0m2-1.1h0m.3 1.5h0m1.1-1.7h0m.1 .9h0m.9-1.5h0m2.5 1.5h0m.7-1.7h0m1.3 1h0m.1 1.7h0m.1-.8h0m1.2 1h0m.3-1.9h0m.8 .3h0m1.4 1.3h0m1.3-.4h0m.1-1.1h0m.1 1.4h0m.5-1.2h0m.5 1.3h0m.3-2.5h0m.4 2.1h0m0-1h0m2.4 .6h0m.6 .3h0m.7-.5h0m.3 .9h0m.6-2.4h0m.8 1.7h0m1.3 .1h0m-27.5 1.9h0m1.7 .9h0m1.8 .8h0m1.1-1.4h0m.4-.6h0m.4 1.6h0m.4-2h0m.9 2.3h0m.5-2.1h0m.3 .7h0m.2-1.1h0m.7 .7h0m1.8 .7h0m1.7-.2h0m0-1h0m0 1.1h0m.8-.7h0m.3 .8h0m.6-.7h0m2.5 .3h0m.5 1.4h0m0-.5h0m.2 .5h0m.6 .5h0m.4-2.5h0m.8 2h0m2.4-1.6h0m1.3 .7h0m.6-.3h0m.3 .6h0m.3-.5h0m.7-1h0m0 0h0m.9 .1h0" stroke="#00BA38" stroke-width="1.45" stroke-linecap="round" fill="none"/>
<path d="M112 41.9h0m-11.2 9.8h0m12.3 2.2h0m-48 2.8h0m37.5-1h0m8.5 .2h0m.5-1.7h0m.5 .3h0m.5 2.3h0m2.3-.1h0m2.6-2h0m-58.7 4.5h0m5.8 .6h0m4.1-2.7h0m1.1 2.5h0m6 .3h0m36.9-1.6h0m.4 1h0m.6-.1h0m1-1h0m2.7-1.1h0m3.6 1.3h0m4.1 .1h0m-68.1 4.3h0m.3-1.6h0m1.2 1h0m1.3-.7h0m.8-.9h0m.6-.5h0m11.2 2.6h0m.5-2.2h0m.8 .8h0m1.3 .7h0m1.2 .4h0m10.8-.1h0m.5 .2h0m33.9-1.2h0m0-1h0m2.5 1.7h0m1.4-.5h0m.9 .9h0m.3-1.9h0m.2 .7h0m.4 1h0m.2-.4h0m.1-.6h0m.1 .5h0m.8 .8h0m.5-.1h0m5.7-.6h0m-85.7 2.9h0m2.6-1.1h0m1.8 1.7h0m6.9-.1h0m1-.6h0m.8 .1h0m5.7-.6h0m5.9 1.6h0m1.1-2h0m.8 .2h0m4 .1h0m.8-.3h0m8.2 1.1h0m1.9-.5h0m3 .2h0m30.4 1.4h0m.1 0h0m3.6-.1h0m6.3-.8h0m-87.3 1.6h0m.4 1.9h0m.6-2.2h0m9.1-.1h0m1.5 .8h0m5.8 .4h0m1.1 .1h0m0 .4h0m0-1h0m1.3 1h0m4.9-1.7h0m2.2-.1h0m2.1 0h0m13.2 2.3h0m2.5-1h0m12.3 .3h0m10.9-.6h0m.4 .8h0m.8-1.3h0m2.8 .7h0m5.5-.2h0m2.8-.8h0m2.6 .4h0m3.3 1.9h0m-85 2.1h0m7.6-1.7h0m1 .2h0m.5 .5h0m.3-.3h0m1.4 2.6h0m3.3-2.2h0m1.4 1h0m.1-.8h0m2.2 1.5h0m4.9-2.2h0m.8 1.1h0m4.8 .7h0m.6-1.4h0m3.1 .1h0m1.7-.5h0m.4 .4h0m4.6 1.6h0m.6-1.9h0m0 .2h0m14.2 .9h0m30.9 0h0m-84.3 2.5h0m2.9 1.2h0m1.5 .8h0m9.1-1.4h0m.1-.4h0m1.4 1.6h0m1.6-1.8h0m.6-.5h0m5.8-.2h0m1.4 .8h0m.2 0h0m3.2 0h0m3.9 1.8h0m10.6-1.8h0m.6-.3h0m.5 2.1h0m1.4-.6h0m1.4-.5h0m-53 3.1h0m.1-1.1h0m1.6-.4h0m.1 1.3h0m.6 .1h0m2.4 .6h0m2.9-2.3h0m.2 .1h0m4 1h0m.4-.4h0m2-.4h0m.5 2.2h0m6.2-1h0m8.5-.1h0m4.4 1h0m.1 0h0m3.5-.7h0m17.5-1.7h0m2.3 1.7h0m.8 .5h0m.4 .6h0m3.9-.9h0m43.3 .9h0m-108.9 .3h0m.5 1.1h0m.1 1.4h0m1.6-.5h0m.9-1.3h0m.3 1.2h0m.2 .7h0m.2-.2h0m.6-2.4h0m.7 1.5h0m1.1 1h0m1.8-2h0m4.1 1.5h0m2.6 .8h0m.1-1.1h0m.4-.7h0m.2 .4h0m1.4 .4h0m3.4-1.4h0m9.9 .4h0m.8-.7h0m2.6 1.2h0m.1-.2h0m5.3 .3h0m27-.6h0m-67.5 4.5h0m.4 .1h0m1.6-.5h0m1.9-.7h0m1.5 .1h0m.1 .5h0m.5-.3h0m.9 .1h0m.1 1.1h0m.1-.5h0m.2-2.2h0m1 0h0m1.2 1.3h0m.6-1.3h0m3.5 0h0m1.1 1.5h0m2-1.1h0m.1-.4h0m.8 1.5h0m.4-.7h0m.2-.5h0m.9 1.3h0m1.5-1.2h0m.7 1.7h0m.1-1h0m.7 1.6h0m0-.8h0m1.2 .6h0m.9-.3h0m1 .5h0m1.7-2.2h0m7.8-.4h0m1.9 .8h0m3.2 1.7h0m2-1.2h0m4.4-1.4h0m6.6 .7h0m.8-.3h0m.1 0h0m1 .8h0m5.6-.4h0m.7 .1h0m51.4-.2h0m3.5-.4h0m-116.4 4.3h0m1.7-1.5h0m2.3 0h0m1.1 0h0m.3 1.8h0m2.5 .4h0m1.4-2.4h0m1 2.3h0m5.3-2.2h0m3 .1h0m.7-.1h0m1.9 1.8h0m3.3-1.2h0m2.1 2h0m15.6-1.2h0m8.3 1.4h0m12-2.1h0m54.1-.7h0m-117.4 3.2h0m8.8 2.2h0m2.9-.8h0m2-.1h0m1-.7h0m1.6 .9h0m1 .7h0m1.4-1.2h0m0 0h0m.1-.4h0m0-.1h0m2.2 1.6h0m2.2-1.3h0m.9 0h0m1.2 .2h0m.4 .7h0m0 0h0m1.5-1.2h0m.5-.4h0m0 .3h0m97.3 1.8h0m.6 .2h0m-121.9 .7h0m.4 1.1h0m.4-1.4h0m.4 1.7h0m.2-1.6h0m.2 .6h0m1 .8h0m2.5-.9h0m.2 .1h0m5.8 .6h0m1 .1h0m.8-.7h0m3.1-.2h0m105.8-.2h0m5 2.2h0m-60.6 2.5h0m12.6-2.1h0m3.6 2.7h0m44.8-2.7h0m-98 3.9h0m49.3 1.1h0m5.9-.1h0m6.3-.1h0m1 .7h0m3 .2h0m29.4-2.2h0m.2 .3h0m-45.8 3.3h0m.2-1.1h0m5.4 2.9h0m6.4-1.6h0m1.3-.8h0m5.2 .4h0m.3 2h0m.1-.3h0m-77.2 2.4h0m30.2-1h0m27.6-.2h0m8.1 .4h0m0-.9h0m1-.2h0m1.6 .4h0m2.1 1h0m5.8 1.1h0m.4-2.6h0m-91.3 5.3h0m45.4-1.6h0m16.5 1.9h0m1.2-.1h0m.4-2.3h0m13 1.9h0m.3-.2h0m10.6 0h0m1.7-1.6h0m21.7 2.4h0m-91.7 3.2h0m47.5-.9h0m5.9-1.8h0m13.3 .7h0m20.6-.4h0m.5-.6h0m-107.3 3.2h0m47.5 1.2h0m21.6-1.4h0m1.4 2.1h0m2.9-.2h0m3.9-.3h0m.6-1.1h0m4.6 .4h0m.1-.8h0m1.7 2.3h0m.5 .5h0m.6-1.5h0m.1-1.4h0m2.4 .8h0m-25.6 2.5h0m1.5 1.4h0m.3-.9h0m3.3 .6h0m1.4-1.4h0m2.3 .1h0m7.4 .7h0m.4 1.5h0m8.7-2.1h0m7.3 1.6h0m-93.1 2h0m28.9-.3h0m21.1 1.3h0m10.7-1.7h0m14.5 2.7h0m11.3-.2h0m1-1.2h0m3.8 .5h0m-91.1 2.8h0m2 1h0m49.4-.3h0m4.5 0h0m4 .3h0m6.4-1.4h0m10.5 1.4h0m1.1-2.6h0m3.3 .4h0m.3 .3h0m6.1-.5h0m7.6 .8h0m.4-.6h0m-65.9 4h0m21.3-.7h0m6.7 .3h0m3.3-.9h0m5.2-.1h0m7.9 2.2h0m.5-.4h0m.8 0h0m4.4 .4h0m1.4-2.1h0m.2 .8h0m.3 1.1h0m1.4 .1h0m6.2 .8h0m-1.4 1h0m-83.9 3.7h0m78 1.2h0m-11 1.9h0m3.7 .3h0m.6-1.5h0m1.3 1h0m1.1 .2h0m.9 .9h0m1.4-1.1h0m1.4 .5h0m.1-.8h0m.8 .5h0m2.4-.1h0m1.8-1.5h0m5.4 1.1h0m-17.8 3.2h0m.3-.6h0m3.3-.2h0m.3 .5h0m4.3 1.5h0m.3-2.7h0" stroke="#00BA38" stroke-width="1.5" stroke-linecap="round" fill="none"/>
<path d="M102.5 41.4h0m1.4 .3h0m.5-.3h0m7 .4h0m.1 0h0m1.9-.2h0m-15.6 .7h0m8.2-.2h0m6.7 .2h0m3.4 .6h0m.7 .5h0m1.4 .8h0m.3 1.1h0m1.2-.1h0m-19.4 7.4h0m.4 .7h0m2.6-1.7h0m6.9 2.1h0m-10.3 1.4h0m.5-.3h0m.1 .7h0m3.2-1.2h0m3 1h0m.2 .4h0m.2-1.5h0m.1 .6h0m1.1 2h0m1.7-.5h0m3.3-1.7h0m.5 2.4h0m1.4 0h0m.5-.4h0m.7-.8h0m.7 1.1h0m-40.1 2.9h0m36.3-1.9h0m.3 2h0m.1-.5h0m.2-.1h0m.2-2.1h0m.2 2.7h0m.7-2.4h0m.1 1.8h0m.9-1.3h0m.8-.3h0m.4-.5h0m1 2.6h0m1.8-1.3h0m1.3-.6h0m.9 .9h0m.4 .9h0m.5-.4h0m.3 .6h0m-62.1 .8h0m5.3 .5h0m5.6-.8h0m3.2 .3h0m1.7-.6h0m.7 .6h0m1.5-.3h0m4.1 2h0m29.9-2.2h0m.6 .1h0m.2 0h0m2 0h0m5.8 .3h0m.9 0h0m1.9-.5h0m1.2 1.3h0m5-.9h0m.2 1.5h0m1.9-.2h0m.2 1.1h0m-80.4 2.3h0m.8 .2h0m1.1-1.3h0m.7-.1h0m2.6-.1h0m5.2 .5h0m4.9-.9h0m4.1 2h0m11.8-.1h0m2.2 .5h0m4-.4h0m0-2h0m1.4 1.5h0m2.6 1h0m2.7-.3h0m27.5 0h0m1.7-.6h0m.9 .2h0m1-1.8h0m.5 1.9h0m4-.8h0m1-.9h0m.3 .6h0m2.5 .7h0m-90.1 2.8h0m3.4 .7h0m2.5-1.6h0m2.5 0h0m.3 1.2h0m0-.3h0m.8-.4h0m12.9 .9h0m2.6-.1h0m.2-.6h0m1.8-.9h0m1.3 1.4h0m1.2-.2h0m1.1 .9h0m.4-.6h0m1.1-2h0m1.6 .6h0m.9 1.1h0m.4-.1h0m.7 .3h0m1.1 .3h0m.2 .4h0m2.4-2.6h0m2.8 2.5h0m.1-1.1h0m.3 .3h0m.9-1.8h0m1.8 .2h0m.4 2.5h0m1.2-1.7h0m1.7-.9h0m.2 .3h0m.9-.2h0m.1 1.2h0m.1-1.3h0m1.5 .4h0m.8 .7h0m.1-.6h0m0 2.2h0m.6-2.8h0m.7 1.3h0m1.8 .8h0m3.3-.4h0m.1-.8h0m.6 .2h0m1.4 1.4h0m10.9-1.3h0m1 .6h0m.4-.7h0m3.7-.3h0m2.5-.4h0m.2 1.4h0m1.3 0h0m6.2-1.2h0m-72.6 3.3h0m.8 1.7h0m1.4-.7h0m1.2-.2h0m.6-.5h0m2.9-.7h0m.8-.5h0m2.1 .3h0m6.6 1.7h0m.6-.2h0m3.3-.3h0m.9-1.6h0m6 2.2h0m.8-2h0m5.8 .2h0m6.9 1.7h0m1.8 .3h0m.4-1.9h0m.5 .1h0m.2 1h0m.7-.2h0m-58 4.4h0m1.1 .1h0m.4-.8h0m6.1-.7h0m3.4-.2h0m3.2 .6h0m3 .3h0m1.9 .3h0m.1 .2h0m.6-2.1h0m.6 1.4h0m2.3-1.2h0m1.3 1.6h0m.4-1h0m4.5-1h0m1.4 .7h0m0-.4h0m8.1 1.4h0m.2-.6h0m1.6-.7h0m9 1.3h0m2.4 .6h0m.6-.9h0m.1 .6h0m.8-.1h0m.1-.2h0m1.1 0h0m1.7 .4h0m.3 .3h0m9.7-1.2h0m-70.5 3.7h0m2.6-.4h0m1.8 .9h0m2.2-.4h0m6.9-.8h0m.1 .6h0m.3-.1h0m5.2-.4h0m10.6-.2h0m1.7 1.6h0m1.5-2.3h0m.2 0h0m3.2 1.8h0m3.4-.3h0m1.5-.3h0m2 .4h0m.6 .5h0m2-2.2h0m2.7 1.3h0m.7-1.1h0m.2 1.2h0m.2 .8h0m.4-.1h0m1.8-1.6h0m1.1-.1h0m.9 .4h0m.1-1.4h0m1.5 .4h0m2.3-.4h0m1.7 .6h0m1 1.9h0m23.8-.3h0m33.6-1.8h0m.4-.3h0m-121.9 5.9h0m1.4-.5h0m.1-2.2h0m.6 1.2h0m.4-.1h0m3 .3h0m2.6-.5h0m3.6 .6h0m2.4-1.2h0m2.4-.2h0m2.2 .5h0m6.7 1.8h0m.7-.2h0m2.5-.5h0m9.2 .7h0m5.2-.3h0m5.3-2h0m6 1.2h0m.9-.4h0m.7-1h0m.1 .8h0m2.3 .9h0m2-.6h0m5.4-.7h0m43.6 2.2h0m-112.1 2.4h0m.3 .4h0m2-2.5h0m2.6 2.8h0m1.1-1.8h0m2.9-.6h0m.6 1.6h0m7.6 .4h0m.6 .3h0m6-2.2h0m.5 1.2h0m.5-.9h0m.2 .6h0m.9-.8h0m.2 .7h0m4.5-.4h0m.7-.2h0m4.1 1.2h0m.3-1.4h0m3.7 .8h0m3.4-1.2h0m1.6 2h0m1.1-1.8h0m1.2 .6h0m2.3-.8h0m.4 .2h0m3.2 1.1h0m.1 .3h0m.7-.4h0m5.5 .6h0m.2-1.6h0m2 1.5h0m.8-.4h0m.4-1.2h0m.8 .8h0m1 .2h0m25.7 1.2h0m3.4 .4h0m11.1-.2h0m1.4-1.8h0m.7 2h0m1.2-.9h0m.8-.7h0m9.6-.9h0m-115.6 4.5h0m2-1.2h0m20.1 1.8h0m1.4-2.3h0m15.5-.1h0m8 .8h0m3.8-.6h0m1.4 .2h0m1.3 1.1h0m6.1-1.4h0m8.9 1.3h0m5.5 1.5h0m0-.3h0m.5-.1h0m6.8-2.5h0m1.1 .8h0m.2 .8h0m.2-.7h0m.4-.8h0m.9 0h0m2.2 2.8h0m0-1.7h0m.2-.8h0m0 .5h0m.1-.6h0m1.1 2.6h0m.8-1.4h0m.3-.4h0m5.5-1h0m.1 2.7h0m.3-2.5h0m.1 1h0m.6 .6h0m1 0h0m.1-.2h0m.2 1h0m.6-.7h0m.6 0h0m5.4-1.4h0m.1-.4h0m.8 2.4h0m.2-1.2h0m.1-.5h0m.5 .8h0m.1-1.2h0m1 2.3h0m.6-.2h0m.5-.8h0m-107.3 2.7h0m1-.5h0m3.4 1h0m.3-1.2h0m4.6 .8h0m1.2-1.3h0m5.6 2.4h0m31.2-1.3h0m.2-1.1h0m.3 .1h0m11.5 2.4h0m1.8 .1h0m2-1.6h0m.3-.9h0m.1 1.8h0m.6 .4h0m.2-1.1h0m1.3-.4h0m.1-.9h0m.2 1.4h0m.5 1.1h0m0-1.2h0m.5-1h0m.7 .2h0m.2 .4h0m1-.1h0m.2 1.5h0m.7 .2h0m.3-2.2h0m0 1h0m.2-.7h0m2 1.5h0m.3-.1h0m.1-2.1h0m1.3 1.5h0m12.5-1.2h0m.7-.3h0m1.2 0h0m3.1 1h0m.7-.9h0m.1 0h0m.9 1h0m2.5-.4h0m1.1-.4h0m-87.5 2.8h0m1 0h0m45.2 1.1h0m1 .1h0m.1-.4h0m.4 0h0m.3 .4h0m.3-1.1h0m.7 1.9h0m1.2 .2h0m.1-1.2h0m.1 1.1h0m.3 .2h0m0-.1h0m1.2-1.5h0m2.8 .2h0m.4 1.3h0m.9-.7h0m1 .1h0m.1 0h0m1.6 .7h0m0-2.3h0m.3 1.3h0m.1 .5h0m1.2-1.3h0m.1 1.4h0m.9-1.4h0m.3 2h0m.1-2.7h0m.7 .4h0m.6 1.6h0m.7-.4h0m.3-1h0m31.5 1.6h0m1.3 .2h0m-62.1 3.5h0m.9-.7h0m.5 .6h0m5.3-.5h0m1.3-2.4h0m.4 2.6h0m2.1-1.2h0m.1 1.2h0m0-1.4h0m.1-.4h0m.5 1.3h0m0-1.6h0m.1 .9h0m.9 .4h0m.3-.3h0m.5-.4h0m1.1 1.6h0m.4-.4h0m.1-2.2h0m0 .9h0m0 .7h0m.8-.8h0m.2-.1h0m.1-.7h0m.2 1.5h0m.1-.8h0m.2 1.1h0m.6 .3h0m.4-1h0m.4 .5h0m0 .9h0m.3-.1h0m.4-2.5h0m.3 2.6h0m.2-.7h0m.1 .4h0m0-.4h0m0-.3h0m.3 1.1h0m.4 .1h0m.2-2.3h0m.3 1.6h0m.1-1.7h0m.3 0h0m0 2.3h0m.4-.2h0m1.4-.6h0m0-.5h0m.2-.1h0m1.1-.8h0m.4-.1h0m.6 1.3h0m1.4-1.5h0m1 .5h0m37 0h0m1.8 1h0m.6 1.2h0m-84.3 2.7h0m.8 .3h0m3.8-.8h0m.2-.1h0m3.6 .7h0m.1-.2h0m.1-1.3h0m.7 .3h0m.5 1h0m.5-.8h0m1.9 .5h0m.4 .3h0m.1-.5h0m1.4 .5h0m2.7-.5h0m.2-.6h0m0 1h0m.2 .4h0m.4-.3h0m.3-.5h0m0 .3h0m.3-.2h0m3.6-1.5h0m.6-.1h0m0 .6h0m.5-.1h0m.1 .8h0m1 1.1h0m1-1.6h0m.1 1.4h0m.3-2.2h0m.7 1.9h0m.1-.3h0m.2 .2h0m5.5 .3h0m.1-1.7h0m0 1.8h0m.4-2.6h0m.7 1.7h0m.2 .5h0m.1-1h0m0 1.1h0m.2 .4h0m1.1-.3h0m.4-1.4h0m.2 .2h0m.7-1.3h0m.1 .1h0m.1 1.6h0m.2 .5h0m.1-1.9h0m.2 2h0m.6 .7h0m0-2.3h0m.2 2.3h0m.2-.6h0m.5-1.3h0m.5-.4h0m.8-.7h0m.7 1.2h0m.1-.8h0m.1-.1h0m.1 .1h0m.9 0h0m.6-.1h0m41.9-.2h0m2.2 1.6h0m1 .9h0m.1 .3h0m.1 .1h0m-106.9 2.6h0m11.7-.5h0m.1-.7h0m.7 .2h0m.3 0h0m.4-1.1h0m0 1.9h0m1 .2h0m.4-1.1h0m.6 .1h0m.3 .6h0m3-.5h0m.7 .1h0m3.4 .9h0m1.4-1.8h0m3.5-.6h0m1.2 .4h0m.2 .1h0m.5 .2h0m.1-.5h0m.3-.1h0m.6 .5h0m.1-.3h0m.4 2.1h0m2.6-.1h0m.1-2.4h0m.1 2.8h0m.4 0h0m0-3h0m1 1h0m.1-.2h0m1.8-.1h0m.2-.4h0m1.4 0h0m.2 2.7h0m1.9-.1h0m.4-.2h0m.3-.7h0m.5-.2h0m0-.3h0m2.5 .5h0m.3-.2h0m.7 .6h0m.2 .2h0m.2-.1h0m0 .2h0m.7-.5h0m0 .7h0m1.8-2.3h0m.2-.2h0m1.3 2h0m.3-1.8h0m.7 .5h0m.6 .9h0m1.7 .8h0m2.1-2.6h0m.2 .2h0m9 2.5h0m5.3-1.7h0m4.5 1h0m.4-.3h0m2.8-1.1h0m.5-.6h0m8.6 1.5h0m21.7-.5h0m-110.1 3.1h0m0-.5h0m0 1.5h0m1.5-.9h0m2.9 .7h0m6.7-1h0m1.8 1.8h0m.5-1.5h0m1.3-.6h0m1 1.6h0m1.5-.8h0m.1 1.2h0m.3-.4h0m1.6-.9h0m1 .9h0m1.1 .2h0m2.4-.6h0m.2-1.2h0m2.1 .9h0m0 .7h0m.5 .2h0m.4-1.8h0m.1 1.3h0m.1-1.5h0m.2 .4h0m.7 .1h0m0-.3h0m1.4 1.2h0m.8 .4h0m.3-.9h0m.7-.1h0m.2 1.2h0m0-.4h0m.3-.4h0m.3 .7h0m.8 .3h0m0 0h0m1-.6h0m.6-.7h0m1.8-.9h0m.2 1.1h0m.1-1.7h0m0 1.6h0m.1-.5h0m.5 1.4h0m.9-1.4h0m.2 .3h0m2 .8h0m3.4-1.3h0m.6 2h0m.6-1.5h0m.2 .4h0m1.3-.6h0m.1-.7h0m2.9 .9h0m.5-.4h0m.3-.9h0m.3 0h0m.4 1.4h0m.3 .1h0m.1-.1h0m.3-.5h0m4.1-.6h0m.5 .1h0m.6 1h0m1.3-.9h0m.1 1.7h0m0-1.3h0m.5 .1h0m.9 .5h0m0 .8h0m28.2-.9h0m.4-1.1h0m.9-.4h0m6.7 1.7h0m-95.2 1.5h0m1.6 1.9h0m0-.9h0m.4 0h0m.7 1.3h0m.9-.6h0m1-.8h0m1-.7h0m.1 1h0m1.4 1.3h0m.1-2h0m.3 0h0m0-.3h0m.8 .1h0m.8 1.4h0m.2-.7h0m1.7 1h0m1.4 .1h0m.4-.5h0m1.7-1.1h0m.6 2.1h0m.2-2.5h0m.4 .3h0m.6 1.4h0m1.4-.6h0m0-.6h0m.3 .1h0m.5 1.5h0m.2-2.1h0m.5 .3h0m.3-.2h0m1.2-.3h0m3 1.3h0m1.1-.4h0m.1 .2h0m4.1 0h0m2.1-.7h0m1.2 .3h0m.2 1.4h0m.3-1h0m1.1 .1h0m.7-.3h0m.7-.9h0m.1 2.4h0m.8-.6h0m1.7-.1h0m2.1 .8h0m.5 .2h0m.2 0h0m.9-.6h0m.2-.6h0m1.4 .3h0m.8 .6h0m.2-1h0m0 1h0m.9-.7h0m1.8-.1h0m.3-1h0m.5 .3h0m.1 .8h0m2 .4h0m2.6-1.7h0m1.7 1.8h0m1.1-2.2h0m.7 1h0m2.7-1.1h0m25.7 1.2h0m-82.6 2.6h0m.2 1.7h0m.5-1.3h0m3.7 1.4h0m.7-2.5h0m3.2 1.8h0m.8 .7h0m4.5-.6h0m1.7-.2h0m.7 .8h0m.3-1.4h0m0 1.7h0m.8-1h0m.8-.5h0m.4-.2h0m.1-.8h0m.4 2.6h0m.6-2.7h0m1.1 2.6h0m0-1h0m3.6-.2h0m.8-1.4h0m2.4 .9h0m.1 1h0m1.7-1h0m.7 .2h0m.9 .3h0m1.5 1.3h0m.1-.9h0m.9-2h0m1 2h0m1.8 .8h0m1-1.2h0m.1-.1h0m.1-.5h0m1.6-1h0m.8 .8h0m0 .2h0m.8 1.5h0m1-2.3h0m.1 1.2h0m.3 1.5h0m.2-1.8h0m2 .4h0m.6-1.6h0m1 1.6h0m.9-1.2h0m.3 1.4h0m.5-.3h0m2.6-.9h0m12.2 2.2h0m.2-1.6h0m-62.6 3.7h0m3.5-.3h0m6.8-.5h0m.1 .4h0m0 .4h0m1.4-1.4h0m.5 0h0m2.1 2.1h0m4.8 .3h0m1.1-1.2h0m.2-1.2h0m0-.1h0m1-.2h0m.5 .6h0m.1-.7h0m2.2 1.7h0m.1-.3h0m1.9-.5h0m.4-.8h0m.1 1.4h0m.8-.3h0m.7-1h0m1.8 .3h0m.1 2.3h0m.9-.4h0m.1-1h0m.1 .5h0m.2-1.4h0m.4 1h0m.1-.7h0m.9-.2h0m.4 0h0m.4-.2h0m.2 1.7h0m2-.3h0m.3 .6h0m.2-.2h0m1.4-1.5h0m.7 .2h0m1.1-.8h0m2.2 .8h0m0-.8h0m2.2 1.5h0m1 1.1h0m2.3-.6h0m.1-1.8h0m.3 .6h0m1-.9h0m23.5 .2h0m3.1 1.2h0m.6 .9h0m10.6 .1h0m4.4-2.2h0m-92.3 5.4h0m.4-.3h0m.3-.5h0m.1 .6h0m.2 .4h0m.5-.9h0m1.5-.4h0m13.7-1.3h0m0 .8h0m1.5 1.6h0m.5-2.2h0m1.8 .7h0m.8 .1h0m.6 1.2h0m.2-1.2h0m1.6 1h0m.1-1.6h0m.3 .3h0m1.1 .6h0m1.3-1.2h0m.2-.2h0m.2 2.2h0m.7-1.2h0m.5 .5h0m.3 .3h0m1.4-.4h0m.3-.5h0m.3-.7h0m1.9 1.6h0m1.5 .4h0m.2-2.2h0m.5 2.1h0m3-2.2h0m.3 1.3h0m1.9 1.5h0m0-2h0m.4 .5h0m.6-.6h0m.2-.8h0m1 3h0m.2-.9h0m.6-1.5h0m2.7 .9h0m2.7-.3h0m23.1-1.1h0m12.5 1h0m2.3 .2h0m.4-.4h0m6.2 .6h0m-93.4 4h0m2.6-2.3h0m.1 .7h0m12.8-.4h0m2 .6h0m.1-.4h0m.5 1.5h0m1.3-2.1h0m2.9 1.3h0m.6-.2h0m.5-.4h0m.7 .5h0m1 .7h0m2.9 .5h0m2.3-2.3h0m.1 1.4h0m.4 .3h0m.7-1.5h0m.1 2.2h0m.2-1.5h0m.9-.8h0m.4 1.2h0m1.6-.9h0m.7 .7h0m.5 1.7h0m1.7-2.6h0m.8-.2h0m.1 .3h0m.6 .2h0m38.1 .1h0m13.4-.4h0m-89 3.8h0m.7-.7h0m.5-.2h0m.8 1.3h0m.2-.6h0m1.6-.6h0m.1 1.5h0m.8-.9h0m.2 1.6h0m.7-.1h0m15.1-1.5h0m29.1 1.1h0m12.6-2h0m15.2 2.6h0m2.1-1.5h0m11.8 .6h0m-90.7 2.4h0m.6 0h0m1.3 .7h0m1.9-.3h0m1.2-1h0m.4 .7h0m3.3 .2h0m1.4-.3h0m16.3 .1h0m2-.2h0m.3 1.9h0m.2-2.5h0m2 1.3h0m1.6 .6h0m41.5-.1h0m-70.7 .8h0m2.1 .5h0m.8 .2h0m0-.2h0m3.3-.3h0m0-.1h0m19.7 .6h0m1.5-.3h0m46.4 .6h0m-71 2.1h0m74.3 2.6h0m11.7-1h0m-54.4 3.2h0m.6 .9h0m0-1.7h0m2.7 .7h0m.4-1.1h0m.5 .9h0m0-1h0m.3 1.3h0m0-.8h0m.3 1h0m42.1-.5h0m4.8-.6h0m1.1-.2h0m-53.6 2.4h0m2.5 2.7h0m.5-2.1h0m.1-.4h0m.2 1.2h0m1.2-1.6h0m.2 1.8h0m.6 .6h0m28.3-1.5h0m2.9 1.8h0m.8-1.2h0" stroke="#619CFF" stroke-width="1.5" stroke-linecap="round" fill="none"/>
<path d="M101 41.4h0m2.2-.5h0m2-.5h0m1.6 0h0m2.2 1.5h0m.3-.1h0m.4-.5h0m-9.5 1.5h0m3.5-.6h0m.4 .2h0m5.4-.3h0m1.1 .6h0m-8.5 8.3h0m-4.5 2.4h0m.4-1.4h0m.9 1.8h0m.4-.5h0m.3-.6h0m1-1.4h0m.1 .7h0m.2 1.9h0m2-1.3h0m1.3 1.1h0m.3-1.1h0m.4 .9h0m.2-1.1h0m.4-.3h0m1.2 1.7h0m.2-.3h0m.3 .4h0m4.8 0h0m2.4-.1h0m-45.7 3.2h0m30.7-2.8h0m1.7 1.9h0m0 .3h0m.2-.2h0m.2-.2h0m.1 .1h0m.9 .6h0m.3-1.8h0m.5-.3h0m.1-.3h0m.1 1.4h0m0 .5h0m.8-.1h0m.4-.4h0m0 .9h0m.1 .2h0m.3-.2h0m.3-.3h0m.2 .2h0m0-.6h0m.7-.2h0m.9-1.2h0m.6 1.3h0m0 .7h0m.1-1.4h0m1.4 1.1h0m.1 .1h0m.1-1.2h0m.6-.7h0m0 .8h0m.1 .5h0m.4-1.5h0m.3 .3h0m.5 .7h0m.4-1h0m.7 1.2h0m.9-.6h0m-55.6 4.6h0m5.2-.2h0m1.7 0h0m.6-.1h0m1.3-1.1h0m.2 .8h0m1 .7h0m1.6-.6h0m.4 .9h0m1.1-1.2h0m1.8-.3h0m.7 1.4h0m2-.9h0m27.4-.7h0m.1-.8h0m1.1 1.2h0m0-1.4h0m.9 .5h0m.1 0h0m.7 1.8h0m.8-1.8h0m.7 1.3h0m1.5-1h0m1 1.2h0m.3 .4h0m0-2.3h0m.8 2.3h0m0 .3h0m1.4-2.7h0m4 1.3h0m.9-1.1h0m4.4 .4h0m2.4 .9h0m5.4 .8h0m2.4 .3h0m-78.6 3.1h0m.9-.2h0m.2 0h0m.1 0h0m.1-.6h0m.1-1h0m1.2 1.9h0m.3-1.5h0m.1 .3h0m1.4 .8h0m.1-.2h0m.7 .4h0m.3 0h0m.4-2.6h0m.1 2.6h0m1.5 .3h0m.3-.4h0m1 .4h0m.8-1h0m1.3-1.8h0m.8 .5h0m.2 .6h0m0-.5h0m.4 1.2h0m.4-1.6h0m.4 1.9h0m.9-1.2h0m.1 0h0m.5 .9h0m2-.7h0m.4-.3h0m1.3 .8h0m.1-1.2h0m.2-.1h0m.4 1.6h0m.2-1h0m1.1 1.3h0m4.6-1.1h0m.4 1h0m1.2-2h0m1.6 1.7h0m.3 .9h0m1.4-1.2h0m.1 .4h0m1.7 .2h0m1.1 .1h0m25.7-2.3h0m9.1 .4h0m2.9 .8h0m5.1 1.4h0m.8-.6h0m.2 .1h0m.1-2h0m.6 2.2h0m.2-.8h0m.1-1.4h0m1.1 1.8h0m.4-.4h0m.8-.1h0m1.5-.2h0m.4-1h0m1.2 2.2h0m.3 .4h0m.8-.1h0m.6-1.4h0m.1-.1h0m.2 0h0m0-.1h0m1.3 .6h0m-90.9 3.4h0m2-.2h0m.7-2h0m.2 1.2h0m0-.9h0m.2 0h0m.1 .9h0m1.1-.7h0m1.6 .6h0m.7 .9h0m.4 .3h0m.7 .3h0m.3-.6h0m1.5-1.4h0m1 .4h0m.1 1h0m1.8-1.5h0m.2-.2h0m.9 0h0m.4 1.6h0m1.1 .5h0m1.4-.3h0m1.5 .1h0m1.3-2.1h0m.1 .3h0m1.5-.2h0m.4 1.3h0m.1 1h0m.8-1.6h0m.6 1.6h0m.7-2.5h0m.2 .2h0m2 1.7h0m1.8-1.3h0m.9 1.8h0m1.6-.4h0m.3 .2h0m.1-1.3h0m.1 1.3h0m2.9 0h0m.6-.1h0m.2 .2h0m.1 .4h0m.4-1.6h0m1.9 .8h0m.6-1.6h0m.4 1.9h0m.6-1.2h0m.4 .1h0m.6 1.1h0m.7-1.4h0m3.4 1.1h0m.5 .7h0m.2-.9h0m.1 .7h0m.8-1.2h0m.7 1.3h0m1.4-1.1h0m5.2 1.6h0m1.2-.1h0m22.3-1.6h0m.9-.2h0m.4-.2h0m2.6 1.3h0m.6-.5h0m0 .8h0m1-.7h0m0 .4h0m.1 .4h0m.8-.2h0m.2-1.3h0m.7 .5h0m.2 .3h0m.1-.9h0m.9 .9h0m.2 .6h0m1-.4h0m.3-.4h0m2.8-.6h0m.2 .2h0m1.3-.4h0m.1-.4h0m0 .8h0m.2-.9h0m.9-.1h0m.3 1.3h0m1.4-.8h0m.1-.4h0m.8 2.3h0m-94.3 2.6h0m0 .6h0m.1-1.7h0m1.8 .9h0m.3-.5h0m.9 .7h0m.9 .4h0m.3-1.1h0m0 1.3h0m1.3-1.3h0m.9 .3h0m1.4 0h0m.9-1.7h0m.7 1.4h0m.4 .2h0m.1-.5h0m.7 .3h0m1.6-.3h0m2 1.5h0m.1-2.3h0m.4 1.6h0m1-.1h0m.5 .1h0m0-1.9h0m.1 .5h0m.9-.1h0m.6 .9h0m0-.1h0m0 1.6h0m1.6-.7h0m.9-1h0m1.5 .7h0m.8-.9h0m.1 .5h0m.7 .6h0m.4-1.4h0m.1 .2h0m.3-.6h0m.1 1.5h0m0-1h0m1.8-.8h0m3.9 2.8h0m.1-.5h0m1.1-2.4h0m.3 1.5h0m.4 .5h0m1.1-1.8h0m.8 2h0m2.8-1.8h0m.7-.4h0m2.1 2.4h0m.7-.7h0m.7-1.7h0m.1 .5h0m0 1.5h0m.1 .8h0m.3-2.6h0m4.8 .3h0m2.4-.4h0m2.1 1.7h0m1.1 1.2h0m1-.7h0m.9-.4h0m.8-1.8h0m2.4 .6h0m1.8 1.5h0m0-.7h0m12.7 .3h0m8.5 0h0m1.4-.9h0m.9 1.7h0m.1-.2h0m1.8-1.2h0m.4-.4h0m.2 1h0m.3-1.4h0m1 1.5h0m0 .9h0m4.2-2.5h0m1.2 1h0m.4-.3h0m-95.8 4.4h0m.6-1.3h0m3.8-.6h0m.5-.2h0m.1 .1h0m.3 .6h0m1.3-.8h0m2.4 2.2h0m.4-1.1h0m2.3 1.1h0m3.2 0h0m.6-.4h0m.8 .4h0m.2-.3h0m1.3-1.2h0m1.2 .4h0m.7 .3h0m1.1-1.3h0m1.5 2.1h0m.3-2h0m.6-.1h0m0 2.6h0m.1-2.5h0m.3 1.2h0m1.1 .4h0m0-.9h0m.2 .9h0m1-1.3h0m1.1 .7h0m.6 .3h0m.3-.3h0m1.1 .8h0m.2-.3h0m.1-.2h0m1-1.7h0m1.1 2.9h0m.7-.9h0m1.4 0h0m.1 .9h0m3-2.8h0m.8 1h0m.7-.5h0m.5 .5h0m.1-.5h0m.1 1.2h0m.7-1.2h0m.1 1.1h0m0 .4h0m1.5-1.6h0m.7 0h0m.4 1h0m1.6 1.5h0m.7-2.8h0m.4 2.3h0m.3-2.3h0m.1 1.6h0m.2 .7h0m.1-.3h0m.3-.9h0m0-.9h0m.1 2.5h0m2.8-2.7h0m.3 2.2h0m.5-.1h0m.1-2.1h0m0 2.7h0m1.3-2.3h0m.4 .5h0m.6-.2h0m2 .9h0m.5-1.3h0m1.7-.1h0m.1 2.6h0m.6-2.6h0m.9 2.3h0m1.6-2.2h0m1.4 0h0m.4 0h0m.2 .6h0m1.8-.9h0m.1 .1h0m22.2-.1h0m.5-.1h0m1.4 .5h0m1.9 1.1h0m.6-.9h0m0 .7h0m3.2-.6h0m1.5-.7h0m-96.9 5.2h0m.9-.9h0m.9-.6h0m2.2 1.1h0m.2 1h0m.2-.6h0m.9-1.8h0m.2-.3h0m2 1.5h0m.3 .6h0m.3-.2h0m.1 .1h0m.3-.3h0m.9-.7h0m.3 .1h0m.8-1.1h0m.4 2h0m1.4-1.7h0m.4-.3h0m.7 .4h0m.1 .5h0m0 1.7h0m.1-2h0m1.2 .1h0m.8-1h0m.4 1.2h0m.6 1.7h0m.7-2.8h0m.8 2.7h0m.2-2.4h0m1.1 2.5h0m3.2 .1h0m.2-.7h0m2.4-.9h0m.5 0h0m.2 .2h0m.2 .1h0m.7-.5h0m1.5 .7h0m.1 .4h0m.3 .2h0m2.3-1.7h0m.3 .9h0m.4 1h0m.1 0h0m.1-.6h0m.4 .7h0m2.1-1.6h0m.1-.6h0m.8 .9h0m.5-1.2h0m0 .9h0m.7 .6h0m.7 .8h0m.4-.6h0m2.6-.8h0m.3-.4h0m0 .6h0m.3-.8h0m2.2 1.3h0m2.1 0h0m1.2-.1h0m0 .2h0m.7 .9h0m.4-1.4h0m0 .4h0m.2-.8h0m.9 .4h0m.1 1.4h0m.2-1.3h0m0-.7h0m.1-.3h0m.1 2.2h0m.2 .1h0m.5 0h0m.1-.1h0m.2-.3h0m.1-.2h0m.1-.4h0m.7 .9h0m2.1-.7h0m.2-.2h0m1.9 .2h0m1.6-1.4h0m.9 1.1h0m.2 .6h0m1.7 0h0m1.1-.9h0m.2 .2h0m1.6-.2h0m.2-.6h0m.2 1.5h0m0-2h0m.8 1.4h0m.5-.9h0m0 1.5h0m.8-2.4h0m4.2 2.1h0m1.5-.1h0m1.1-1.1h0m-73.5 3.5h0m.4-.6h0m.2 .7h0m.7 .7h0m.2-1.6h0m3-.1h0m.8 1.8h0m1.7-1h0m1.4 1.5h0m.2-1h0m1.2 .3h0m.7-1.4h0m.1-.2h0m.1 2.4h0m.2-1.5h0m.4 .9h0m.9-2.1h0m.2 .3h0m.4 0h0m.5 .3h0m.5 .7h0m2.2-1h0m.4 0h0m.3 1h0m.5-.7h0m.6 0h0m.6-.5h0m.2 1.1h0m0 .8h0m0-.8h0m.9-1.3h0m.6 1.4h0m.2-.9h0m1.2 1.4h0m.5 .2h0m.9-2.1h0m.7 1.6h0m1.9 .5h0m.2-.4h0m.2-.6h0m.1 .9h0m.3 0h0m1 0h0m.4 .8h0m1.2-.3h0m.7-2.4h0m2.3 .8h0m.1 1.8h0m.8-.7h0m1.6-.3h0m.8 1.1h0m.2-.7h0m1.1 .2h0m.2-2.1h0m.1 2.3h0m.9-2.3h0m.2 2.5h0m.4 0h0m.2-2.3h0m.7 1.7h0m2.5 .8h0m.8-2.6h0m0 0h0m2.2 1h0m1.2 .5h0m.7 .2h0m.1-.6h0m.3-.5h0m.5 .6h0m1.4-.9h0m0 .7h0m.7-.2h0m1.2 .7h0m.5 .4h0m1.5-.8h0m1.3-1h0m0 .2h0m.3 1.6h0m5.3 0h0m.2-1h0m1.7 .1h0m.3 .9h0m.1-1.7h0m2.1 1.3h0m.5-.6h0m0 .9h0m.4-.4h0m.8-.7h0m4.6 .2h0m.5-.3h0m.2-.6h0m1.4 .5h0m.5-.3h0m7.3 1.3h0m.3 .1h0m.5 .6h0m1-.2h0m.1-.9h0m.8 1.4h0m.2-1.1h0m1.2 .8h0m1.7-.7h0m.3-.1h0m1.7 .7h0m-91.5 1h0m.6 1.2h0m3.3-1.1h0m1.8 .5h0m2.8-.2h0m.2 .1h0m0-.6h0m.3 .8h0m1.5 1.4h0m.2-.9h0m1.7-.8h0m0 1.7h0m.1-2.4h0m1.6 2.7h0m.1-1.6h0m.8 .7h0m.3-1.9h0m4 .4h0m3 .6h0m.2 1.3h0m1-2.1h0m.1 2.1h0m.4-2.1h0m.2 1.5h0m1.1-1.1h0m1 .5h0m.5-1h0m.7 1.5h0m.9-1.5h0m2.1 1.1h0m2.6 .7h0m.3 .5h0m1-.1h0m.1-1.9h0m.4 1.7h0m.1-2.1h0m.6 1.8h0m.6-.6h0m.1 1.5h0m2.7-2.5h0m.1 1.9h0m.5-.5h0m.3 .5h0m1.1 .7h0m2.2-1.3h0m0-1h0m.2 1.1h0m.1 1h0m0-.7h0m.3 .4h0m.1-.4h0m.5 .2h0m.7-2h0m.5 1.8h0m1.8-1.2h0m.2-.1h0m.5-.2h0m.5 2.2h0m1.3-1h0m1.5 0h0m.2-.5h0m.7 .5h0m.8-1.1h0m1.1 0h0m.5-.2h0m.1 .3h0m2.3 1.1h0m1.9-.8h0m.3-.6h0m.5 0h0m.4 .8h0m.5-.6h0m1.5 1.9h0m1.9-2h0m.1 .8h0m1.3 .9h0m.5-.2h0m.5-.4h0m1.7-.5h0m41.2 1.2h0m.5-.1h0m.8 .4h0m.3 .2h0m.2-.1h0m.6-1.4h0m.6 1.6h0m.1-1.9h0m.2 1.2h0m.2 .5h0m.1 .2h0m.2-1.8h0m0 .7h0m.1 .2h0m0 .4h0m.6 .4h0m.1-1.6h0m1.7 1.2h0m-115.9 .7h0m.9 .2h0m.1 .9h0m.5-.5h0m.5 1.7h0m0-.7h0m.2-.5h0m2.8-.3h0m1.2 .4h0m.4 .8h0m.3-.8h0m.3 1h0m.1-1.5h0m1-.7h0m.6 .8h0m1.2-.7h0m.6-.1h0m.4 .5h0m.2 2.4h0m3.1-2.1h0m.5 .3h0m.3-.1h0m.7-.2h0m.2 0h0m1.4 1.8h0m3.1 .1h0m1.4-1.9h0m1-.7h0m1.3 2.3h0m2-1h0m.2-1.3h0m1.2 .8h0m.7 .1h0m.4 1.8h0m.3-.1h0m.3-2.1h0m.4 2h0m.1-1.7h0m.3 1.1h0m.5-1.3h0m2-.2h0m.5 1.3h0m.2 .7h0m.8-1.9h0m.1 .4h0m0 .4h0m.3 1.1h0m.2 0h0m.3-.1h0m.1 .4h0m.4-.3h0m.3-1.8h0m.3 1.2h0m.5 .5h0m.9-1.4h0m2 1.6h0m.6-1.8h0m.7 0h0m1.4 1.4h0m.2-1.3h0m.8 .5h0m.1-1.3h0m1.1-.1h0m.5 .2h0m1.5 .2h0m.9 1.4h0m.4-1.8h0m.3 .2h0m.1 2.6h0m1.8-.7h0m1-1.8h0m.3 2h0m.5-.3h0m.4-.3h0m1.9 0h0m3.7-1.6h0m.4 2h0m.8 .4h0m1.1-1.3h0m.4-1h0m.1 1.2h0m2.8-.9h0m.6 2.1h0m.2-1.7h0m.1-.7h0m1.2 1.3h0m1.7-.1h0m40.3-1.1h0m1.8 .1h0m.2 .7h0m.7 1.4h0m0-2h0m1.2 1.8h0m.4-.1h0m.5-2h0m.1 0h0m.2 .7h0m.2-.9h0m.6 2.1h0m0 0h0m.3-.4h0m.8-1.7h0m.4 .3h0m.1 1.8h0m.6 .7h0m.3-.9h0m.4 .8h0m.1 .1h0m.1-1.4h0m.5-.1h0m.1 1.2h0m.1-1h0m0 1.2h0m.4-.9h0m0-.6h0m.9 .6h0m1.1-.3h0m-117.5 3.2h0m.7 .4h0m.3-1.7h0m.3 1.2h0m.6 0h0m1.3-.1h0m.1 .9h0m.3-.3h0m.7-1.7h0m.1 1.9h0m.3 .2h0m.4 .3h0m.7-1.1h0m.3 .4h0m.3-.8h0m.6-1.3h0m.7 2.3h0m1.1-1.3h0m.9 .4h0m.8-.2h0m.7 1.3h0m.4-1.8h0m.4 1.6h0m2.6-1.4h0m.2-.1h0m.2 .5h0m2.5-.6h0m.1 1.3h0m1.2 .3h0m.7-.4h0m.4 .3h0m.5-.8h0m1.3-.2h0m1.5-.8h0m.3 .9h0m.5-.8h0m.5 2h0m.7-1.8h0m.3 .8h0m1.6-.6h0m.4 1.1h0m.5 .4h0m.2-.6h0m1.5-1h0m1.1-.4h0m2 .3h0m.7-.4h0m5.4 1.2h0m3.2-.8h0m1.5 .7h0m.1 .7h0m1.5-1.9h0m.1 1h0m.1 0h0m1.4-.5h0m.7 2h0m1.6-2.3h0m.1 .4h0m.7 1.9h0m.3-.7h0m.5-.4h0m2.2-.6h0m.2 1.1h0m.9 .5h0m1.1-2.6h0m.5 2.5h0m.5-1.7h0m.6 1.3h0m.8-1.1h0m1.6 .9h0m1.3-1.2h0m1.1-.1h0m.3-.4h0m9.4 1.4h0m11.4 .1h0m.6-.2h0m.8 1h0m1.3-2.3h0m1.9 1.1h0m5.3-.9h0m.8 1.4h0m14.2-.7h0m.3 .4h0m1.4 .2h0m.1-.8h0m.2-.3h0m.8-.6h0m1.4 2.7h0m.6-1.8h0m.6 0h0m.1 1.3h0m1.6-1h0m1.2-.8h0m-118.6 2.6h0m.4 .6h0m1.8 1.8h0m2.3-.8h0m2.3 .5h0m.5 .1h0m.4-1.3h0m.3 .4h0m1-.5h0m.6 .8h0m0 .4h0m2.1-1.1h0m3.1 1.6h0m.4-.1h0m.8-1h0m1.3 .6h0m1.9-.8h0m0-.9h0m.4 1.4h0m1.5-.2h0m.6-1.6h0m3.3 2.2h0m.1-1.1h0m.7-1h0m4.1 .7h0m15.7-.4h0m3.8-.3h0m3.2 .9h0m.7 .1h0m1-1.1h0m1.7 .9h0m7.7 1.6h0m30.7-1h0m.3-1.4h0m4.3 0h0m-97.6 4h0m.1 0h0m.3-.7h0m2.4 .7h0m1.1 .6h0m1 .2h0m.5-.3h0m1.4 .9h0m2.1-1.7h0m1.9 1.1h0m.5 .2h0m1.8 .2h0m.8-.5h0m2.7-.2h0m42 1h0m.1-1.1h0m12.3-.5h0m9.6 .2h0m1.6 1.7h0m1-.7h0m.2-1.1h0m.9-.3h0m.4 1.7h0m1.6-1h0m40.5 .6h0m.7 .7h0m-121.2 .2h0m43.2 1.5h0m31.2-1.2h0m.2 1.5h0m.5-1.5h0m0 2.6h0m1.9-.3h0m.8-2.3h0m.7 1.2h0m.4 .6h0m.1 .7h0m.1-.5h0m-61.1 3.2h0m3.4-.6h0m.5 .1h0m1.5 .5h0m.2-1.3h0m2.4 1.7h0m1-.2h0m.1-1.1h0m.1 1.3h0m.5-.4h0m.2-.1h0m.2 0h0m.4-.7h0m.7 1.2h0m.1-.5h0m.2 .1h0m10.1 .4h0m.6-.2h0m13.2-2.6h0m14.3 2.4h0m3-.3h0m3-.2h0m1.4-1.5h0m.4-.1h0m0 2.5h0m1.1-.6h0m0-1.7h0m.6-.5h0m.3 2h0m1.6 .9h0m5.4 0h0m1.2-.2h0m1.3-.2h0m.4-.8h0m1.4 .7h0m2 .4h0m.6-.6h0m-92.3 2.8h0m2.5-.1h0m11.4 .6h0m.2 .2h0m2.3 .1h0m.8-.1h0m.7-2.5h0m1.9 1.8h0m1.3-2h0m1.1 1.1h0m.8-1h0m.6 .8h0m3.8 1.1h0m.3-.4h0m.4 .2h0m7.7 .3h0m.3-1.4h0m0 1.3h0m.5-.9h0m.2 .5h0m1.2-.7h0m.1 1h0m3.2-1.7h0m1.7 1.4h0m1.1 1.1h0m7.3-.5h0m5.8 .1h0m9.9 .1h0m.4 0h0m1.5-.4h0m.4-1.5h0m.3-.5h0m.5 2.8h0m1.2-1.9h0m.1-.7h0m.5 2.5h0m0-1.4h0m.9 1.3h0m.9-1.4h0m.1 1.2h0m.2-.8h0m.4-1.3h0m.3 1.7h0m2.1 .6h0m.4-.8h0m.1-.3h0m1 0h0m.3-.4h0m.7-1h0m.1 1.7h0m.2-.8h0m0 1.6h0m2.5-.3h0m.3-2.1h0m.2 1.3h0m.1 1h0m.1-2h0m.6 .3h0m.3 1.6h0m0-1.8h0m.7 .9h0m.4 .2h0m.9 .2h0m2.2-.8h0m.6-.7h0m.1 .2h0m1.8 .1h0m1.1-.1h0m.1 1.4h0m.4-.6h0m.1 1.4h0m1.9-2.1h0m.5 1.7h0m-112.2 1.8h0m1.5 .9h0m8.6-.3h0m1.4 .4h0m6.7 .6h0m.1-1.3h0m.2-.2h0m1.2 .1h0m1 .8h0m.6 .4h0m1.2-1.2h0m6.8 .5h0m.5 .8h0m2.8-2.5h0m.9 .3h0m.2-.1h0m.8 2.1h0m6.2-1.7h0m.1-.1h0m1 2.1h0m5.2-.5h0m.5-.5h0m4.4 0h0m1.4-.3h0m.2 1h0m3 .2h0m1.3-1.4h0m.4-.5h0m3.5-.5h0m.8 .1h0m2.9 1.6h0m.7 .8h0m1-.1h0m3.8-.2h0m1-2.5h0m.5 .3h0m1.2 2.1h0m2.5-1.7h0m.7 2.1h0m7.6-1.1h0m1.5 .5h0m.1 .1h0m.6-.3h0m1.2 .2h0m.6-2h0m0 2.5h0m.1-1.5h0m1.9 .4h0m.1 .4h0m.1 .2h0m.2-.1h0m.1-.8h0m.3-.1h0m.6-.8h0m.2 .8h0m.2 .6h0m.4 .4h0m.2-2.2h0m.1 1.2h0m.1-1.1h0m.6 0h0m.5 1h0m2.2-.2h0m.8 0h0m1.6-.3h0m1.1-.3h0m.9 .9h0m.5-.7h0m.8 .9h0m.7 1.4h0m0-1h0m0-1.2h0m0 1.6h0m.3 .6h0m.9-1.2h0m1.9-.3h0m.3-.6h0m.2 1.5h0m.5-.5h0m.6-.3h0m1.1 .2h0m.5 .8h0m.8-1.8h0m1.4 1h0m1.1 .6h0m.1 .4h0m1.6-.7h0m0 1h0m.3-.4h0m.5-.3h0m.1-.4h0m.1 .7h0m.1 0h0m-96.9 2.2h0m.3 .7h0m1-2.4h0m.6 .8h0m.1 .4h0m.3-.5h0m.1 2.1h0m.5-2.6h0m1.8 1.9h0m.2-.8h0m.2-.6h0m1.5 .6h0m2.2 .5h0m1.2 .5h0m1.8 .2h0m3.3-.6h0m0 .1h0m.3 0h0m.2 0h0m.3 .8h0m.3-.5h0m.7 .1h0m1.8-.5h0m.3-.3h0m1.9 .8h0m1.6-.3h0m.8-1.6h0m.4 .3h0m.9-.5h0m1-.4h0m2.9 1h0m.3 1.3h0m.3 .4h0m.3-.1h0m.1 .2h0m3.2-.9h0m1.2-.1h0m1.3 .2h0m.9-.4h0m.3 .9h0m1.3-1.1h0m1.4-.7h0m3.3 .7h0m6.4 .4h0m.7-1.4h0m.1-.3h0m1.2 .3h0m1.3 1.1h0m1 1.3h0m1.8-.5h0m1.6-.4h0m9.4 .2h0m.2 .7h0m1.6-1.3h0m.3-.1h0m.1-.5h0m.4-.8h0m.7 1.9h0m1-.8h0m1.4 1.3h0m1.2-1.3h0m.2-.4h0m1 .1h0m.8 .6h0m.2-1.3h0m.1 1.8h0m.9-.1h0m0-1.3h0m.1 .7h0m.7-.9h0m.6 1.4h0m.4-1h0m1.5 0h0m1.4 .4h0m0 1.7h0m1.3-2.1h0m.5-.3h0m1 1.6h0m1 .5h0m.6 .1h0m.1 .3h0m.4-2.4h0m1.8 .8h0m.3 1.2h0m.4-.3h0m.4-2.1h0m1-.2h0m.5 .2h0m0 1.4h0m2.1 .9h0m.2-1.6h0m.3 2h0m1.2-2.1h0m.3-.1h0m.1-.5h0m.2 0h0m.1 .2h0m1.3 1.8h0m.3 .5h0m13.3 .1h0m-110.3 1.5h0m.5 .5h0m.2-.2h0m.8-.5h0m.4 .9h0m.6-1h0m1.4 .2h0m1.3-.6h0m1.5 .8h0m.1-1.3h0m.4 1.2h0m.1-.2h0m.8 .4h0m2.3-1.2h0m.9 .8h0m.5 .2h0m1.3 1.2h0m.5-2.3h0m2.4 1.1h0m1.5-1.3h0m.4 .3h0m1.2 .9h0m4.2 0h0m.2-.2h0m.8 .2h0m1.2 1.6h0m4.3-1.8h0m.2-.4h0m.6 .6h0m.8 .5h0m2.4-1.4h0m.2 1.4h0m1.1 .5h0m0-1.8h0m2.4 .7h0m3.3 1.2h0m.2-.1h0m5.5 .4h0m.2-.1h0m1.9 .2h0m1.5-2.1h0m.6 1.4h0m1-.3h0m.3 0h0m3.6-1.1h0m7.8 .9h0m.3-.3h0m.8 1.1h0m.7-1.2h0m.2-.2h0m1.3 1h0m.1-.1h0m.2 .3h0m.3-1h0m.4 1.2h0m.3 .2h0m.1 .5h0m.8-1.1h0m.2 .3h0m.7-1.8h0m1 .9h0m2.3-.8h0m.1 1.3h0m3 .8h0m.8-1.7h0m.8 1.2h0m.8 .5h0m.4 .3h0m2.3-1.8h0m.9 .9h0m0 1h0m0-.6h0m.5-.1h0m.7 .3h0m.2-2.4h0m.2 .8h0m.3-.5h0m.3 .2h0m.3-.4h0m.2 .9h0m.1 .9h0m.9-.2h0m1.1 1h0m.8-1.9h0m.2-.1h0m1 1.5h0m.1-2h0m.3 .5h0m1.5 1.2h0m.1-1.7h0m.2 2.4h0m.3-1.4h0m.3-.7h0m.3-.5h0m.3 .4h0m1.2 1.8h0m.8-.7h0m.5-.7h0m.2-.8h0m.5 1.4h0m.7-1.2h0m14.9-.3h0m.5 .4h0m2 .2h0m-109.7 3.4h0m.9-.7h0m8.1 1.9h0m.1-.4h0m2.8 .2h0m1.4-.6h0m.7-.2h0m.4 .3h0m1.8-.9h0m.1 .3h0m1.4 1.2h0m.4-.2h0m1.7-.7h0m1 .6h0m1.3-.9h0m.9 .4h0m.9-.5h0m1.2 .8h0m.2 .3h0m.7-1.9h0m0 2.4h0m2.3 .4h0m1.3-.1h0m1.5-.3h0m2.3-1.3h0m1.7-.7h0m.2 .7h0m.9 1.6h0m1.5-1.8h0m.3-.6h0m.2 .9h0m1.1 1.3h0m.2 .3h0m.3-2.2h0m.5 .9h0m.3 .2h0m.7 .1h0m.9-.7h0m1.3 1.5h0m.6-1.1h0m.1-.7h0m1.1-.3h0m0-.3h0m1.7 .6h0m.8 1.1h0m1-1.3h0m8 1.6h0m.6 .6h0m1-1.2h0m.9-.1h0m.2-.2h0m1 .5h0m.6-.5h0m.2-.2h0m.7 .9h0m.1-1h0m.8-.6h0m.6 0h0m0 2.5h0m1.7-2.7h0m.5-.1h0m.3 2.4h0m.2-2.3h0m.8 0h0m1 2.1h0m.5-.7h0m.1-1.4h0m1.5 1.9h0m0-1.9h0m.4 1.4h0m1-.2h0m.1-1.4h0m.3 1.1h0m2.1 .6h0m.1 1.1h0m.1-1.3h0m.5 .5h0m.1-.8h0m2.9 .6h0m.1-1.8h0m.2 .4h0m.3 .3h0m.9 .3h0m.4 1.3h0m.3-.1h0m.7 .6h0m1.5-.9h0m1.8-.7h0m.2-.8h0m.2-.2h0m.6 1h0m.7 .3h0m1.1-.9h0m.2 1.4h0m.5-1h0m.1-.9h0m1.3 .4h0m0 1.8h0m.2-.5h0m.5-1.6h0m.6 .8h0m.9 1.3h0m.1-2h0m.2 2.5h0m1.1-1.5h0m.1 1h0m.2 .6h0m-94.6 1.8h0m13.1-.5h0m.5 .8h0m1.3-.7h0m1 .9h0m.3 .1h0m.2-1.7h0m2 .8h0m.2 .2h0m1.3 .4h0m1.3 .1h0m1.3-1.4h0m1.4 0h0m1.1-.5h0m1.6 .8h0m1 1h0m0-1.2h0m1 .2h0m.8 .2h0m.1 1.1h0m.1 .3h0m0 .3h0m.6-2.1h0m.2 1.6h0m1.2-.1h0m2-1h0m.2 0h0m.4-1h0m.5 2.2h0m.2-2h0m.4 .5h0m.3 1.9h0m2.4-.9h0m.5 0h0m.5-1.9h0m1.7 1.5h0m.2-1h0m1.4-.2h0m0-.1h0m2 1.2h0m1-1.3h0m8.7 2.4h0m1.6-.2h0m1.1-1.3h0m1.4-.7h0m.9 1h0m.3-.7h0m.9 .9h0m.3-1.4h0m1.4 2.4h0m.1-.1h0m.2 .1h0m.9-2.6h0m1.3 1.5h0m.2-.7h0m.3-.7h0m.1 2.5h0m.6-1.6h0m.2 1.4h0m2.7-.8h0m1.2 .3h0m.6 .2h0m.2-2h0m.1 1.3h0m.6 1.5h0m.5-2.7h0m.7 2.1h0m.1 .6h0m.1-.3h0m.4-1h0m0-.2h0m.3-.5h0m.2 .4h0m2 1.2h0m.4 0h0m.2 .2h0m.6-1.3h0m.7 1.2h0m.6-2.4h0m1.1 1.9h0m.1 .6h0m.1-.1h0m.1 0h0m0-1.9h0m.1 1.9h0m.3-1.3h0m1.1 .3h0m.2 1.2h0m.4-.9h0m.2-.3h0m1.3-.8h0m.3 1.9h0m3.2-.8h0m.6-.5h0m.1 .8h0m1.1-2h0m1.3 1.7h0m.8-2h0m.4 2.2h0m0-.8h0m.1 .8h0m.5 .4h0m.2-1.1h0m.4-.6h0m1.4 .6h0m.4-1.2h0m.3 1.7h0m.3 .2h0m.2 0h0m-95.8 2.1h0m1.1 .4h0m.5-.1h0m.3-.1h0m1.1 .2h0m.3 .8h0m.4 .2h0m12.5-2.3h0m2.2 .9h0m.9 1h0m.1-1h0m2-.7h0m.2 2.4h0m.5-2h0m.8 .5h0m.8 1.3h0m1.3-1.3h0m.8-.2h0m.5-1h0m2 2.7h0m1.2-.7h0m1.1-1h0m2.7-1.1h0m1.5 2.2h0m.8-.6h0m7.4-1.3h0m8.4 1.5h0m5-1.3h0m.1-.2h0m.1 .3h0m.3 0h0m1.2 .1h0m.1 1.2h0m.1 .3h0m1.4-.3h0m.1-.8h0m.3-.3h0m.3 .6h0m.4-1.6h0m.4 2.9h0m.5-2.4h0m1.1 1.9h0m.6-.4h0m.8 .7h0m.6-.2h0m.2-2.1h0m.6 1.8h0m.2-1h0m.1 1.7h0m.5-.4h0m.1-.3h0m.4-1.4h0m.3 1.9h0m.1-1.9h0m.6 1h0m.1 1.1h0m.3-1.8h0m.5 1.7h0m.2-1.7h0m.3-.1h0m.3 1.7h0m.9-2.6h0m.3 2.3h0m.2-.4h0m.4 .9h0m2.7-.1h0m.2-.3h0m.4-2h0m.4 .6h0m1.5 .2h0m.8 .3h0m1.3 .9h0m.4-1.4h0m.5-.8h0m1.2 1.7h0m1.4 .1h0m0-.1h0m.1 .2h0m1.2-1.2h0m.3 .2h0m.2 1.2h0m.5 .2h0m.6-2.1h0m.2 1.2h0m1.2-1.2h0m.1 .7h0m.7 .3h0m.3-.3h0m2.3-.6h0m.7 1.4h0m.2 0h0m.5 .3h0m1.7-1.9h0m.4 .6h0m1-1h0m.1 1.8h0m1.5-.9h0m-95.1 4.8h0m0 .3h0m.1-.7h0m1.2 0h0m.4 .4h0m.4-1.7h0m1.4 1.9h0m.2-.2h0m3.8-.1h0m12.4-2.1h0m3.9-.1h0m1.8 .2h0m.6 .7h0m6.2-.5h0m1.1-.1h0m16.4 1.6h0m.3-.4h0m1-.8h0m.3 0h0m.7-.6h0m.3 1.1h0m.2-1h0m.2 2.2h0m.6 0h0m2.1-1.6h0m.9 .5h0m1.4 .8h0m1.8 .5h0m.4-.9h0m.3-1.8h0m.7 1.9h0m.8-1.9h0m.7 .5h0m.1-.6h0m.7 1.6h0m0-.4h0m.5 .2h0m.3 .9h0m.8-.3h0m0-.2h0m.3 .2h0m0 .3h0m.4-2.5h0m.1 2.4h0m1.9-2.2h0m.5 .7h0m.1-.6h0m.8 .5h0m.6 .9h0m.1-.4h0m0-.4h0m.1 .6h0m1.7-.8h0m.5 .2h0m2 1.1h0m.1-.5h0m.4 .2h0m.8-1.4h0m1 .2h0m.9 .5h0m.7 .1h0m0-.1h0m.3-.5h0m.6 2.1h0m.1-1.9h0m.6 .3h0m1.3 1.6h0m.9-.5h0m1 .5h0m0-2.3h0m.1 2.2h0m.2-1.5h0m.8-.3h0m.2-.7h0m0 1.7h0m.9 .4h0m0 .1h0m.3-.7h0m.8 .5h0m.8-.6h0m.3 1.4h0m.4-.4h0m.3 .2h0m.3-1.7h0m.7-.3h0m.2 .9h0m.2 .7h0m1.2 .6h0m.4-1.8h0m.4 1.5h0m.3-2.3h0m.9 .9h0m.2-.2h0m.2-.6h0m-91.3 3.4h0m.3 0h0m.2 1.3h0m.5-1.8h0m.2 0h0m.4 2.6h0m1.4-2.7h0m.2 1.3h0m.2-.7h0m.1 1.2h0m1.4-.6h0m.4-.7h0m.6 1.9h0m0-2.1h0m.3 1.9h0m1.6-.5h0m0 .6h0m.1 .1h0m.2 .1h0m1.3-.6h0m16.3 .4h0m2.9-.4h0m.3-.9h0m.1 1.3h0m.5-1.7h0m.5 2.1h0m19.1-2.7h0m1.1 .3h0m.4 1.1h0m.1-1h0m3.4 1.1h0m.3-.7h0m.2 .7h0m2-.7h0m1.4 0h0m2.4-.1h0m.6-.3h0m1.5 .3h0m4.6-.3h0m1.4 1h0m5.7-.7h0m.3-.6h0m.1 2.5h0m.2 .2h0m.8-.7h0m.9-.1h0m.2-.7h0m.7-1.1h0m1.6 .5h0m1.7 .4h0m2.2-.4h0m.5 1h0m0-1.3h0m.6 .6h0m1.1 .5h0m1.1 .8h0m0-1.6h0m.1 1.7h0m.1-1.3h0m0-.2h0m0 1h0m.8-.8h0m0 1.7h0m.7-2.1h0m1.3 .7h0m.5 1.2h0m.2-2.6h0m-88.1 3.8h0m.1 1.5h0m.6 .3h0m1.1-.2h0m.3-1.4h0m.4 .6h0m.8-1.5h0m.5 2.5h0m.3 .1h0m.7-1h0m.2-.8h0m.6 .4h0m0-1.1h0m.8 .5h0m.2-.4h0m.5 2.6h0m1.3-2.8h0m15.2-.1h0m51.8 1.2h0m.9-.3h0m.3 .6h0m.2-1.4h0m.4 1.9h0m.6-1.2h0m.1-.7h0m.2 0h0m.3 1.3h0m1.1-1h0m1.1 0h0m.2 .6h0m.8-.2h0m1.2 .6h0m1.1 1.5h0m.2-2.4h0m0 .3h0m1.7-.2h0m.2-.2h0m.7 1.8h0m.1-.8h0m.5-.9h0m.2-.6h0m.3 .4h0m.5 .6h0m.1 .4h0m0-.6h0m.1 0h0m-88.5 3.1h0m.2-.8h0m.3 0h0m.5 2.2h0m.7-1.5h0m.3 1h0m.6-.5h0m1.3 0h0m.7 .9h0m3.4-1.6h0m66.1 1.6h0m1.1 .3h0m.6-1.5h0m.4-.4h0m.1 1.7h0m.8-1.5h0m.2-.5h0m.3 .1h0m1.5 .2h0m.3-.4h0m.9 2.5h0m.5-.5h0m0-1.3h0m.3-.5h0m.8 2h0m.3-2h0m.3 .5h0m1.6-.6h0m.2 1.9h0m.3-.3h0m1.4 .9h0m.4-1.6h0m.1 .7h0m2.3-.6h0m.6-.9h0m-22.2 4.9h0m.1-.1h0m0-.1h0m1.5-.3h0m1.6 .5h0m.1-1.8h0m1.1 1.4h0m.5 .1h0m.2-1.3h0m.3 1.5h0m.6-1.6h0m.8-.5h0m3.7 2.2h0m.3-2.3h0m.4 2.6h0m0-.2h0m.7-.8h0m.5 1.2h0m1-.3h0m2-1.8h0m.3-.4h0m.7 0h0m.3-.3h0m.9 2.3h0m.3-1.4h0m.2 .1h0m.6 1.3h0m.1-.7h0m2.2-.6h0m.4 1.7h0m.7-1.4h0m.1 1.4h0m.4-2.6h0m.1 2.4h0m.2-.4h0m.5-1.7h0m-28.1 3.9h0m.4 .7h0m1.8-1.8h0m1.4 2.1h0m1.5-1.9h0m.5 .8h0m.2 0h0m.6 .4h0m.2-.3h0m.7 .6h0m1.3 .3h0m.6-.9h0m.9 .7h0m.2 .5h0m1.5-1.5h0m1 .2h0m0 .4h0m.7 .1h0m.8 .4h0m.9 .6h0m.4-2.4h0m.2 2.7h0m.1-.3h0m0-2.2h0m.3 0h0m.1 1.1h0m.7 .7h0m.1-2.2h0m.2 .9h0m1.3-.3h0m.4 1.3h0m.2 .2h0m.4 .1h0m.1 .2h0m.1-1.2h0m.7 1.1h0m.4-.6h0m.1-.2h0m0-1.3h0m.6 1.8h0m.2-2h0m.8 1h0m.1 .7h0m.7-1.4h0m-26.8 2.9h0m5.5 0h0m1.5 .2h0m.9 .3h0m.3-.6h0m.3 .8h0m.7-.8h0m12.8 1.9h0m.8-1.1h0" stroke="#F8766D" stroke-width="1.5" stroke-linecap="round" fill="none"/>
<path d="M103.4 50.9h0m-2.9 2.7h0m1.5-.7h0m1.5-1.7h0m-3.4 3h0m3.3 2h0m2.4-.5h0m7-.2h0m1.6-.5h0m7.9 1.6h0m-62.1 3.3h0m1.1 .1h0m.1-.5h0m8.3 .1h0m.9-1.4h0m43 .5h0m.3-.8h0m5.2-.7h0m4.1 .5h0m.8 .7h0m-72.3 4.5h0m7.5-1.9h0m.5 .2h0m.3 .6h0m5.7 .1h0m5.1 .3h0m1-2h0m9.5 .9h0m3.6 1.7h0m29-2.7h0m1.1 .4h0m2.6-.2h0m1.7-.2h0m1.4 1h0m3.4 1h0m1 .4h0m1.9-.4h0m.3-2h0m.3 2.6h0m.1-2.3h0m.5 .6h0m4.2 .7h0m5.5 1.2h0m-88.2 .5h0m3.1 2.3h0m.1-.2h0m2.4-2.5h0m2.7 2.3h0m.7-1.7h0m1.9 1h0m6.6-.8h0m.8-.3h0m3 2.5h0m10.3-2.6h0m8.8 1.3h0m10.1 .6h0m24.7-.8h0m2.5-.7h0m4.2 1.9h0m.7-.2h0m1.7-.6h0m.1-.3h0m-86.7 2.6h0m5.5-1.1h0m.6 .2h0m2.3 .5h0m.6 .9h0m2.3 .8h0m.5-2h0m.5-.4h0m1.9 1.4h0m3.2-.2h0m1 .6h0m2.4 .3h0m.3 .7h0m1.4-2.6h0m.8 1.4h0m.2 1.1h0m.9-.3h0m5.9 .4h0m3.5-.8h0m3.5 .2h0m2-.2h0m27.8-1.1h0m1.5 .2h0m.5-.3h0m.1 .8h0m8.3-1.6h0m7.2 2.5h0m-83.7 2.3h0m13.2-.6h0m.7-.7h0m.4 2.2h0m.9-1.1h0m2.7 .8h0m1-1h0m.3 .1h0m3.5 .5h0m.5-.1h0m.6 .4h0m2.3-.5h0m.7-.6h0m1.5 .7h0m1.6-1.1h0m5-.4h0m2.4-.3h0m.1 1.3h0m1.1-.9h0m16.6 .5h0m26.1-1h0m4.9 1.1h0m-89 4.7h0m.3 0h0m1.5-.3h0m1.2-2h0m2.2 .3h0m1.4-.3h0m0 .5h0m.4-.6h0m1.3-.3h0m8 .1h0m0 1.3h0m2.7 .1h0m11.7-.8h0m0 1.1h0m.9-.8h0m8.2 .2h0m.9 .1h0m1.6-.6h0m2.5-.5h0m2.9 2.2h0m-55 3.1h0m.8-.2h0m.4 0h0m2.5-.7h0m1.7-.4h0m2.5-.5h0m.9 .3h0m.1-.9h0m2.6 1.6h0m2.4 1.1h0m1.9-2.1h0m2.6 1.5h0m1.3-.3h0m6.1-1.5h0m3 .4h0m2.3-.4h0m1.4 .5h0m9.2-.8h0m6.2 2.1h0m4.2 0h0m7.8 .2h0m5.1-.7h0m.6 .2h0m.6 .7h0m8.4-1.2h0m-75.9 1.6h0m0 2h0m.4-1.1h0m0-.7h0m1 1.8h0m1-.3h0m.1-1.6h0m1 2.3h0m.7-1.6h0m.6 .4h0m1.8-.9h0m5.7 2.2h0m.2-1.6h0m.4 .4h0m0-.9h0m1 .3h0m.5 .7h0m.4-.5h0m1 1.5h0m1.2-.5h0m.8-.6h0m1.1 .7h0m.1 .2h0m3-1.4h0m7 1.7h0m.9-2h0m1.9 .3h0m3 .3h0m4.5-.1h0m77.7 .9h0m-118.8 2.9h0m2.7 .3h0m3.4-.6h0m.3-.4h0m.7 .8h0m2.5-.1h0m4.1-1.3h0m.7 2h0m.1-1.8h0m.5 .8h0m1.1 1.2h0m.8-1.1h0m1.2 1h0m.7-.4h0m.1 .5h0m3.5-2.4h0m2.4 1.4h0m.5 .6h0m.6-.3h0m.4 .5h0m.5-.7h0m3.2-2h0m5.5 .8h0m1.4 .7h0m.7 1h0m11.1-1.2h0m5.3 .9h0m2-.4h0m.1-.4h0m5.5-.6h0m1.2 2.1h0m3.3-2.8h0m50.4 1.8h0m-117.3 3.5h0m1.5-.3h0m1.2 .7h0m.5 0h0m1.1-2.8h0m.1 .1h0m.4 .3h0m1.1 .7h0m1-.3h0m.4-.4h0m.3 1.9h0m.3-1.8h0m4 1.1h0m.8-.1h0m2.1-.5h0m1.2-.2h0m4.9 1.7h0m.6 .2h0m3.8-1.9h0m.3-.5h0m1 2.6h0m5.7-2.2h0m9.1 .3h0m1.8-.5h0m12.4 1.7h0m.4 .1h0m38-1.4h0m18.5-.2h0m-109.2 5.1h0m6-1.3h0m1.3-.1h0m.4 .6h0m.9-1.4h0m1.3 1.9h0m4.9-.2h0m.1-1.5h0m.6 1.3h0m1.1-.1h0m1.6 .2h0m2.3-.7h0m.5 1h0m.5-2.1h0m3.5 .3h0m1 .5h0m.3-.5h0m23.3 .1h0m7.2-.3h0m65.4 2.1h0m.5 .1h0m.1 0h0m-123.6 .5h0m1 1.1h0m.1-1.1h0m2.2 .3h0m.5 .1h0m.6 1.9h0m3.6-1.7h0m.5 1.7h0m1.7-2.1h0m73.1 2.6h0m41.5-1.5h0m2.4 .1h0m.6 .8h0m-45 4.4h0m7.4 1.8h0m2 .3h0m.2-.6h0m32.7-.4h0m.4 0h0m-98.8 3.7h0m48.6-.4h0m4.6 .3h0m3.1 0h0m1.5-.5h0m6.7-1.2h0m.1-.6h0m1.1 1.1h0m3.7 .7h0m-16.2 3.6h0m2.6-2h0m1 .5h0m3.2-.2h0m5.8-.5h0m-33.8 5.1h0m12.3-.1h0m1.9 0h0m3.4-1.3h0m.3 1.7h0m1.7-2.1h0m.8 1.2h0m3.9 1h0m.5-2h0m1.7-.5h0m9.8 1.6h0m.1-.9h0m1.3 1.9h0m2.5-.7h0m.8 .5h0m14.9-.2h0m2-.1h0m-91.4 2.8h0m45.2-.4h0m7.5-.1h0m5.5-.7h0m3.2 .4h0m4.2 1.1h0m7.6-2.5h0m15.1 .4h0m-70.4 3.6h0m.1-.1h0m37.1 1.4h0m.4-.1h0m.1 .3h0m3.8 .2h0m.3-2.1h0m3 .7h0m1.8-.9h0m2.3 1.3h0m.1 .8h0m4.4-2.4h0m-76.2 5h0m21-1.6h0m27.3 .6h0m8.2 .1h0m1.8 .7h0m7.3-1h0m10.3-.6h0m3.7 .2h0m-92.5 4.1h0m18.2 1h0m11.8-.8h0m21-.1h0m3.9-.7h0m1.5 .8h0m5.4-.5h0m1.9-.8h0m.4 .6h0m6 .2h0m12.9-.2h0m6.2 .9h0m-41.2 3.1h0m7.5-2h0m2.9 .8h0m12.3-.2h0m1.9 1.4h0m.1-1.4h0m3.2 1.6h0m.1-1.3h0m6.5-.1h0m6.3 1.5h0m7.8-1h0m1-.7h0m-96.2 3.3h0m8.7 1.7h0m22.3-1h0m16.8-1.3h0m.6-.1h0m1.1 1h0m2.1-1.1h0m6.6 0h0m13.5 0h0m2.4 2.1h0m1.3-.3h0m3.4-1.1h0m2.6 .6h0m1.3 1.2h0m6.1-2.1h0m1.7 .1h0m-89.1 2.5h0m5.5 1.1h0m69.2 .3h0m2-.7h0m5.9 1.4h0m3-1.2h0m.6-.5h0m1.7 .1h0m-4.3 3.5h0m4.8 .6h0m-7.5 1.9h0m.4-.7h0m.8 2.6h0m.6-.6h0m-17.6 2.7h0m1 1.2h0m.3-2.4h0m11.7 .5h0m.5 1.2h0m-11.5 1h0" stroke="#00BA38" stroke-width="1.5" stroke-linecap="round" fill="none"/>
<path d="M103.1 40.5h0m.4-.3h0m1 .7h0m2.5-.1h0m.5-.4h0m3.6 1.5h0m-11.1 .8h0m4.2-.5h0m8.7 .3h0m.3 .5h0m.4-.5h0m3.8 1.9h0m.3-.9h0m2.2 1.5h0m-21.8 8.9h0m5.7-.4h0m2.9 .4h0m6.3-.7h0m-12.6 2h0m.4-.5h0m0 0h0m.3 1.4h0m6-.2h0m.3-.2h0m1.7-.5h0m.7 1.2h0m.7-2.4h0m4.2 1.4h0m.1 .7h0m1.8-.6h0m-45 2.7h0m6 1.6h0m29.2-1.9h0m.1 .4h0m2 .7h0m1.1 1h0m3.5-2.8h0m.8 .2h0m0 2h0m.4-2.4h0m1.8 1.2h0m.7 .1h0m.1-.2h0m.3 .3h0m1.2 1h0m.3-.5h0m.6-1.7h0m2.2 2.5h0m.2-.7h0m.2 .5h0m.8-1h0m.7-1.2h0m1.6 1.3h0m.5-.6h0m-71.9 4.1h0m3.1 .3h0m.9-1.2h0m.1 .3h0m2.3 .8h0m.2-.6h0m1.5 0h0m3.7-.4h0m.4 .2h0m2.7-.3h0m2.7 1.5h0m2.1-.9h0m.8-1.6h0m4 2.1h0m.3-1.3h0m0 0h0m32.4-.6h0m1.8-.4h0m2 1.3h0m1-1.1h0m1.7 .7h0m5.1 .2h0m.4-1.1h0m1.1 .5h0m1.2-.3h0m.3 1.4h0m1 1.1h0m.5 0h0m3.8-.4h0m2.7 .6h0m-85.4 3h0m1.8-1.7h0m2.4-.2h0m1.6 1.1h0m7.4-1.4h0m1.3 .5h0m3.3 .3h0m3.3 1.3h0m.4-1h0m4.7 .3h0m2.5-.1h0m.5-.2h0m1.7 1h0m2.1-.9h0m1.6-1.8h0m.7 .7h0m.1 1h0m3.7 .4h0m.2 .7h0m2.2-.2h0m3.3-1h0m1.5-.1h0m.2 1.2h0m.5-1.9h0m0 .5h0m1.8 1.3h0m.5-.9h0m1.1 .7h0m2.1 .5h0m16.4-.1h0m8.2-2.7h0m1.2-.2h0m6.5 .3h0m1.9 .2h0m-88.4 4.8h0m7.1 .4h0m1.1-1.1h0m.7 .8h0m.7-.6h0m.4-1h0m.2 1.3h0m1.9-.6h0m2.6-.4h0m4.6-.7h0m12.7 1.7h0m1.8-1.1h0m.5 1h0m9 .3h0m.2-2.2h0m.4 2.8h0m1-2h0m.9 0h0m.1 1h0m2-1.8h0m2.8 .5h0m.9 .2h0m2.4 .7h0m2.3-.9h0m14.9 .7h0m1.3-.2h0m4.7-.1h0m.8-.3h0m1.5 1.2h0m.5 0h0m1.2-1.3h0m.1 1.4h0m.3-2h0m6.6 2.5h0m-84.2 1.6h0m9.2 0h0m.5-1h0m3.3 .7h0m4.8 2.2h0m7.5-3h0m3.6 .1h0m2.3 1.1h0m1.6-1.1h0m1.1 1.2h0m0-1.3h0m2.6 2.1h0m.2-.2h0m3.6-.3h0m.3 .2h0m1.4-1.5h0m.3 1.1h0m.3-.9h0m.9 1.3h0m.9-.1h0m.1-.4h0m.4 .3h0m4.6 1.1h0m1.3-2.4h0m1 .4h0m1 .4h0m1 .9h0m.5-.8h0m.4 1.7h0m.4-2.5h0m-58.4 3.8h0m3.6 1h0m1.3 .1h0m2.1 .2h0m4.5-1.1h0m4.2-1.1h0m.5 1.7h0m0-.7h0m8.7-.3h0m6.8-.9h0m1 .1h0m.3 1.1h0m0-.7h0m5 .5h0m1.1 .2h0m4.5-.7h0m2.2 .9h0m4.8-.7h0m1.7-.2h0m3.6 2.3h0m9.5-1.9h0m46.2 1.4h0m-116.9 1.8h0m1.6 1.6h0m.1-.6h0m.1-1.9h0m1.2 1h0m8.4-1h0m.4-.2h0m6.2 .7h0m2.4 0h0m4.3 .7h0m1.1-.4h0m1.1 1.8h0m3.4-.2h0m.5-.2h0m2.8 .3h0m2-2.1h0m3.6 .7h0m1.6 1.4h0m1-.5h0m2.1-.6h0m9.4-1.1h0m1.7 .9h0m.1-.4h0m3.3 .4h0m2.4 .6h0m24.8 .1h0m33.1-2.1h0m-125.4 5.9h0m10.4-1.4h0m6 .5h0m13.2-.9h0m1.2 .2h0m3.6-.3h0m.5 0h0m3.1 1.3h0m11-.9h0m.3 .1h0m.8-1.5h0m.2 1.3h0m.4 .1h0m1.3-1.1h0m1.7 1.7h0m2.5-1.2h0m6.6-.6h0m1.3 .5h0m4.9 .5h0m41-.2h0m7.3 1.1h0m-111.9 1.8h0m.2-.3h0m6 1.9h0m1.8-2.6h0m4.3 .4h0m5.2 .1h0m.9 1.8h0m.3-.1h0m1.5-2.1h0m.1 1h0m1.3 1.8h0m1.6-1.4h0m4-.2h0m.5-1.1h0m12.1 1.7h0m.7 .1h0m.6-1.2h0m2.1 1.9h0m.8-2.7h0m.6 1.8h0m1.4-1.8h0m.4 .9h0m1.2-.1h0m1.5-.7h0m2 .5h0m1.5 2.2h0m2-1.4h0m0 1.3h0m1.6-1.1h0m.3 .1h0m.3 .7h0m1.1-1h0m3.6-1.2h0m.2 1.4h0m18.4 1.1h0m2.1 .1h0m.7-1.1h0m.6 1h0m.9 .2h0m2.3-.3h0m1.7 .3h0m11.7-.3h0m.5-.3h0m1.1 .6h0m10.1-.6h0m-111.4 1.5h0m2.9 .1h0m8.5 .5h0m2-1h0m1.7 1.8h0m2.2-.5h0m19.8 .1h0m.3-.6h0m.2-.1h0m.3 1h0m1.6-1.9h0m9.7 .2h0m1-.4h0m.6 2.3h0m13 .3h0m2.3-1.4h0m1.7 1h0m1.1-.1h0m1.2-.1h0m7.9-1.7h0m.2-.1h0m1.2 .7h0m.1 2h0m.1-.7h0m.2-1.8h0m.2 1.9h0m1 .7h0m.7-1.8h0m1.2 1.7h0m1.1-1.9h0m2.3 .9h0m.5 .8h0m.1-.9h0m.8 .9h0m.4-1.4h0m.3-.1h0m1.4 1.1h0m2.2-.2h0m1.5-.3h0m5.9-.2h0m1.2-1.3h0m1.3 .6h0m.3 1.1h0m.2-.3h0m.1-1.2h0m.9 .5h0m.3-.1h0m.2-.6h0m.2 1.7h0m.2-.2h0m-98.4 3.8h0m.2-.3h0m.5 .5h0m1.1-1.5h0m.7-.9h0m2.3 .1h0m.8 2.5h0m3.2-2.3h0m1.4-.3h0m2.2 2.2h0m2.2-.8h0m1.3-.1h0m2.1 0h0m22.2-1.1h0m12.8 1.1h0m1 .1h0m1.4-.3h0m.2 .5h0m0 .4h0m.7-2h0m.2 .2h0m.8-.5h0m1 .6h0m.6-.7h0m.5 2.8h0m0-1.5h0m.1-.2h0m.8 1.1h0m.7-.5h0m.1-1h0m.3-.1h0m.6 1.7h0m.4-1.2h0m.1 1.4h0m.2 0h0m.1-1.6h0m.1 0h0m1.1 .2h0m.6 1.2h0m.4-.4h0m.1 .4h0m12.5-1.7h0m0-.3h0m.8 0h0m4 .6h0m3.6-.7h0m1.5 .4h0m.4 .3h0m-93.4 3.7h0m4.3 .9h0m1.5-2.2h0m.9 .5h0m1.4 .8h0m41.4 .4h0m1.9 .5h0m.5 .3h0m.4-1.1h0m1.1 .6h0m.6-1.1h0m.1-.9h0m.1 2.3h0m0-1.1h0m0 .1h0m1 .1h0m.1 0h0m.3 1.2h0m.5-.1h0m1.5-.7h0m.9 .5h0m0-.4h0m.2-1.1h0m.3-.5h0m.4 1.3h0m0 .8h0m.6-2.6h0m.4 .3h0m0 1.5h0m0 .7h0m.6-.1h0m.4-2h0m.2 2.4h0m1-2.8h0m.4 1.6h0m.9-.3h0m.1 .9h0m.3 .7h0m.3-1.1h0m.2-.6h0m.1 1.2h0m1.5-1.6h0m.6 1.3h0m1.4 .2h0m1-.7h0m.1 .9h0m0-1.2h0m.9 .7h0m30.6 0h0m-59.3 2.7h0m.5 .4h0m1.3 .4h0m1.1 0h0m.1 .3h0m.4-.5h0m.8-1.9h0m.8-.1h0m0 .5h0m2 .1h0m.9 .7h0m.2-.1h0m.4 1.3h0m.2-1.6h0m.8 1.2h0m.5-2.4h0m1.5-.1h0m.1 2.5h0m.6-1.9h0m.7 2.1h0m.6-2.6h0m.8 1.2h0m.5 .3h0m.6-.5h0m.4-1h0m.2 1.2h0m.8-1h0m.2 2.2h0m.5-.9h0m0 .3h0m.5-.4h0m.8-.7h0m.2-.3h0m.8 2.2h0m1.7-.6h0m.1 .6h0m.4-.6h0m.4-.9h0m.3 .5h0m.7 .4h0m1-1.6h0m.2-.5h0m0 .3h0m.1 .2h0m1.5 .5h0m9.2 .4h0m27.5-.2h0m2.3 1.3h0m.1 .4h0m-88.5 2.8h0m3.9-1.7h0m3.4 .6h0m.5 .5h0m.1-.8h0m.9 .6h0m1.1-1.5h0m.1 1.4h0m.7-.8h0m.5-.4h0m2.1 .5h0m0 .4h0m.1 .5h0m.2-1h0m0 1.8h0m.1-.7h0m.3 .7h0m1.2-1h0m0 .6h0m0-.8h0m.9-.5h0m.4 .8h0m0 1h0m.5-.6h0m.9-.1h0m2.9-.4h0m.2 .9h0m1.6-1.6h0m1.3-.9h0m1-.1h0m0 1.3h0m1.3 .1h0m1.1-.4h0m1.8 .7h0m.5-1.2h0m.9 .3h0m1.9 1.8h0m1.2-.9h0m.2-1.3h0m1.6-.1h0m.3 .4h0m.4-.8h0m.4 .9h0m.4 1.4h0m1.3-.4h0m.1-.1h0m.5-.6h0m.1 1.4h0m.3-1.7h0m.9 .6h0m.8 .5h0m.1 0h0m.3-1h0m0 1.5h0m1.2-1.5h0m.2 .8h0m.8-.7h0m.7-.8h0m.4-.3h0m43.1 .1h0m.3 0h0m.1 0h0m.8 .9h0m1 1h0m.5 .4h0m.9 .2h0m-94.9 2.6h0m1.9 .8h0m.5-1.7h0m.4 .4h0m.4 .1h0m.5-.5h0m1.2 1.4h0m1.3-2h0m.8 .5h0m1.7-.7h0m2 2.5h0m2.7-.6h0m3.1-1.3h0m.2 1.1h0m1.1-2h0m1.4 .7h0m.3 1.4h0m.2-1.7h0m.7 2.2h0m1.2-.1h0m.2-2.3h0m.5 .6h0m.1-.7h0m.4 .3h0m.4 2.1h0m1-2.5h0m.1 2h0m.5-1.7h0m.3 .1h0m1 .4h0m1.2 1.9h0m1.5-.5h0m.6-1.7h0m1.9 .9h0m.1 1.1h0m2.5-.4h0m1.5-2h0m.5 2.4h0m.2-1.8h0m.1 1.4h0m2.7-2h0m1.2 .5h0m1.1-.2h0m.1 .2h0m.8-.5h0m.4-.2h0m1.8 2.3h0m.4-2.3h0m.4 .2h0m11.6 1.4h0m6.2 .3h0m13-1.5h0m19.2-.3h0m-111.2 4.6h0m1.1-.1h0m1.2-.5h0m.1-.6h0m4.2-.1h0m7.5 .5h0m.7 .1h0m.7 .2h0m.5 .9h0m.1 .8h0m1.6-1.3h0m1 .2h0m.4 .9h0m.6-2h0m.1 1.2h0m.4-.2h0m.2 .8h0m.1 .1h0m.6-2.3h0m.1 1.9h0m.9-1h0m.9-.8h0m.4 1.8h0m4.5-.2h0m.9 .1h0m1.8-1.5h0m.2-.3h0m.1-.3h0m1.5 1.8h0m.1-1.5h0m.2 .1h0m.2 1.6h0m1.2-1.7h0m.4-.3h0m.2 .9h0m.1 .9h0m.4 .7h0m.1-2h0m.1 2.2h0m0-2.7h0m.3 .7h0m.4 1h0m.6 .1h0m.8-1.1h0m.8 2.1h0m.1 0h0m.2-.6h0m.2-.2h0m.9-1.5h0m3.3 1.7h0m.5-1.1h0m.5-.8h0m.1 2.2h0m1-.1h0m2.4-1.4h0m2.2 1.8h0m1.7-.7h0m0-2.2h0m1 1.2h0m.1-.7h0m.1 .5h0m.3 .9h0m1.5-1.3h0m.2 .8h0m1 .1h0m1.1-1.3h0m.3 2.3h0m.1-1.2h0m1 .6h0m.4 .2h0m.3 .3h0m.1-.9h0m.3-.2h0m0 0h0m.7-.1h0m.1 .1h0m.5 1h0m1.1-.8h0m.5 .3h0m1.4 .3h0m4.9-1.5h0m19.4 .3h0m1.6-.2h0m5.3 .1h0m2.3-.5h0m-93.3 4.9h0m1.2-1.3h0m.1 1.3h0m.5-2.1h0m2.7 .9h0m1.6 1.3h0m.3-1.4h0m1 .4h0m2.4-.8h0m.6 2.5h0m1.3-.3h0m.5-1.6h0m.8 .7h0m.4-1.6h0m.9 1.1h0m.3 1h0m.2-1.3h0m.6 .8h0m1.1-.3h0m.3 0h0m0-.3h0m.3 .1h0m1.3 .2h0m.5 .4h0m.4 .3h0m2.1-.5h0m1.5-1.2h0m.1 2.4h0m.3-1.6h0m1.5 1.7h0m.1-1.6h0m.2-.1h0m.4 .5h0m3.4 .7h0m.1-.5h0m1.5-.8h0m0-.9h0m4.5-.2h0m.6 1h0m.1-.3h0m.4 1.6h0m2.3-1.5h0m.3-.7h0m1.7 2.8h0m.6-2.2h0m.3 1.1h0m.4 .2h0m.4 0h0m.4-.6h0m.6 .9h0m.3-2.2h0m1.2 .1h0m.3-.1h0m.2 2.6h0m.9-1.1h0m.2 1.2h0m1-.5h0m.8 .2h0m.2-2.3h0m.5 1.1h0m3.3-1h0m1.3-.1h0m.3 1.4h0m.3-1.7h0m.6 .5h0m.2 1.3h0m24.2-1.4h0m12 1.6h0m-91.5 3.4h0m1-.5h0m1 .4h0m.6-1.1h0m1 1.4h0m0-1.1h0m2-1.5h0m4.4 .5h0m.6 1.6h0m1-.4h0m.7-1.3h0m.5-.2h0m.2 1h0m.5-.2h0m1.3 1.6h0m.1-1.3h0m2-.8h0m.7 1.9h0m.3-1.5h0m.6 1.5h0m.1-.7h0m1-1.1h0m.9 1.3h0m.5-1.6h0m1.2 2.4h0m.4-.2h0m.6 .5h0m.3-1.7h0m1.8 1.2h0m1.6 .3h0m1.7-1.4h0m0 .3h0m1.5-.8h0m.2-.6h0m1.2 1.2h0m0 .9h0m1.3 .3h0m4.3-.8h0m.2-.6h0m0-.4h0m2.5-.5h0m.6 1.8h0m.7-1.4h0m.8 1.3h0m1-2h0m.1 2.4h0m.1-1h0m.6 1.2h0m.6-2.7h0m.8 1.8h0m.1 .7h0m.6-1.5h0m2.1 .4h0m.8 .9h0m0-1.9h0m2.6 1.9h0m.4-1.8h0m2.3 0h0m15.9 1.6h0m13.5-1h0m.7 1.8h0m8.3-2.7h0m-92.4 3.3h0m.9-.4h0m2.2 0h0m.1 1.1h0m.1-.2h0m1.8-.2h0m6.4-.4h0m1 .9h0m.9 1.2h0m.5-.3h0m1.4-1.3h0m.3 1.4h0m2-2.3h0m1.5 .8h0m.1 .5h0m.1 .1h0m.8-.4h0m.3-.5h0m.3 1.8h0m.3-1.7h0m.7-.3h0m.5 2.2h0m.8-2h0m.4 1.1h0m.5-1.6h0m.4 .3h0m.1 1.2h0m.2 .7h0m2.7-2.1h0m.7 1.7h0m.5-1.4h0m1 .7h0m.4-.1h0m1.8 1.9h0m.5-2.1h0m.3-.7h0m.7 2.7h0m.9-2.1h0m2.6-.5h0m.2 2.6h0m2.2-1.7h0m1.9 1.5h0m.1-1.4h0m.6 .5h0m1.7-.7h0m.5 .4h0m1.7 1h0m.2-.3h0m.9-.9h0m.3 1.5h0m1.4-2.2h0m1-.2h0m24.4 .7h0m.3 .3h0m3 .1h0m7.4-1.3h0m1.2 1h0m5.4 1.4h0m-93 2.4h0m1.2-.5h0m.4 1.1h0m.2-.3h0m.3-.2h0m13.7-.8h0m1.7-.6h0m.5 .5h0m.1 .8h0m.7-1.2h0m0 2.3h0m.2-1.2h0m.1 .8h0m.6-2.3h0m1.4 .2h0m4.3 1.7h0m1.6-.1h0m.5 .1h0m1.4 .3h0m.7-.3h0m.2 0h0m.7-1.1h0m2.7-.9h0m5.5 .5h0m2 0h0m.5 1.6h0m.6-1.9h0m.7 2.5h0m5.7-2.8h0m11.9 1.6h0m1.1-1h0m17.7 1.9h0m.6-.1h0m.9-.4h0m15.6 .5h0m-94.8 2.7h0m1-1.1h0m.4 1.2h0m1.9 .5h0m.2-.7h0m.6-1.4h0m11.4 .8h0m.4-1.5h0m4.8 .4h0m1.1 .4h0m.1-.2h0m1.1 .9h0m1.3 .4h0m.7 .6h0m3.5-2h0m.4 1.3h0m.3-1.5h0m1 .9h0m.3 1.6h0m.1-.8h0m.1 .6h0m1-1.9h0m0-.7h0m2.2 .3h0m.2 1.6h0m.7-.6h0m3.8-.2h0m4-1h0m25 2h0m23.5 .8h0m2.5-.3h0m1.7-.2h0m-94.3 .7h0m.7 1.3h0m.2-.2h0m0-1h0m.9 2.7h0m.2-1.3h0m.1-.4h0m.2 .4h0m0-1.2h0m.9 .1h0m2-.2h0m.1 2.1h0m1.1 .2h0m11.9-1.6h0m1-.8h0m.8 .1h0m7.7 .3h0m2.7-.4h0m18.8 1.5h0m27.2-1.8h0m9.7 2.2h0m-87.8 1.6h0m5.8 .8h0m.4-.2h0m.4 .9h0m.7-.8h0m.9-.1h0m1 .1h0m.2-.6h0m.5 1.7h0m.3-1.2h0m1.4 0h0m17.1-.3h0m.4 .3h0m3.3-1.2h0m1.3 .5h0m22.5 .3h0m19.9 .3h0m6-.1h0m-70.1 3.9h0m19.3-.9h0m.8-.2h0m1.3-.3h0m58.3 4.4h0m-52.2 3.5h0m.5-.9h0m.6 .3h0m1.3 .2h0m.4-.2h0m.6-.8h0m.1 1.2h0m1.6-.9h0m44.3 1.2h0m-49.7 .8h0m.4-.2h0m1.1 2.2h0m0-1.1h0m.7 .7h0m.6-1.9h0m1.1 1.7h0m1.3-1h0m.2-.8h0m26.1 .2h0m1.7 1h0m10.1 1.7h0m-14 .2h0" stroke="#619CFF" stroke-width="1.5" stroke-linecap="round" fill="none"/>
<path d="M102.1 41.9h0m3 0h0m.2-1.3h0m.4-.1h0m2.1 .2h0m2.5 .8h0m1.6-.4h0m.1 .6h0m-10 .6h0m13-.2h0m2.1 2.1h0m2.3 .4h0m-21.3 8.6h0m.2-1h0m1.6-.3h0m.5 .4h0m.7 1.2h0m.3 .3h0m.7-2.1h0m.4 2.3h0m1.6-2.1h0m2.8 1.9h0m.3-1h0m.6 .6h0m1.3 .2h0m0 .3h0m1.9-.2h0m.4-.3h0m.2 .1h0m.2-1.4h0m-46.4 4.4h0m33.1-2.1h0m2.4 1.8h0m.3-.1h0m.5 .3h0m0-.2h0m.4-1.1h0m.6 1.8h0m0-1.2h0m.5-.8h0m.4 1.1h0m.3 .6h0m1.3-.1h0m.5-.2h0m0 .7h0m.4-.2h0m.7-.7h0m.1-1.3h0m1.2 .9h0m0-.9h0m1.5-.1h0m1.3 1.6h0m.3-.8h0m.8-.8h0m.7 .1h0m.7 1.3h0m.2 .6h0m-53.4 3.2h0m3.3-2h0m2.1 1.1h0m1.2-.1h0m.3-.1h0m.4-1.5h0m1.4 2.3h0m.7-.5h0m.3-.4h0m.2 .1h0m.6 .7h0m.3-1.3h0m.6-.7h0m1.1 1.5h0m1 .4h0m.5 .4h0m30-1.6h0m1.2-.4h0m.5 0h0m.8 1.1h0m1-.8h0m0-1h0m.4 .2h0m.7 1.4h0m.9 .8h0m2.4-2h0m.4 2.2h0m.6-2.5h0m1.2 .4h0m2.2 2h0m.3-1.2h0m.1 0h0m2.1 1.2h0m.4 .3h0m4.3-1.2h0m.4-.4h0m1.9 1.7h0m3.8-.5h0m-76.6 3.4h0m.9-1.3h0m1.9 1.1h0m.3-1.9h0m.3 1.3h0m.1 0h0m.7 .7h0m1 .1h0m2.3-2.4h0m.6 .4h0m1.3 1h0m.4-1.9h0m.7 .2h0m.2 1.1h0m.7 .9h0m.8-.7h0m.1 .5h0m0-.3h0m.5 .1h0m.2-.5h0m1.2 .4h0m.1-1.7h0m.6 2h0m.2-.3h0m.2-1.2h0m.2-.3h0m.5 2.4h0m.1 .1h0m.5-1.7h0m.2 1h0m.3-.8h0m.2 1.7h0m.7-1.7h0m.1-.5h0m1 1.8h0m.3-2.4h0m.3 .6h0m1.5 1.2h0m.6-1.5h0m0 2.2h0m.2-1.5h0m.6 .8h0m1.2 1h0m1.3-.9h0m1.6 .6h0m0-1.6h0m.4 .4h0m.3 .1h0m.8-.4h0m1.3 1.6h0m27.9-2.6h0m0 .4h0m12.4 .2h0m1.4 1.1h0m.2-1.1h0m.9 .8h0m2.9-.4h0m0-.9h0m.7 .4h0m1.2 1h0m0 .6h0m1.2 0h0m.1-.2h0m.6 .9h0m.3-2h0m.6 .1h0m.4 1.1h0m1.1-1.1h0m.7 .7h0m.2 .6h0m.1-.2h0m.1-1.7h0m1.3 .3h0m0 .6h0m.6 1.3h0m.1-.2h0m.1-1.3h0m3.2 1.6h0m-94 2.7h0m3.4-.6h0m0-.1h0m2.7-.7h0m1.6 .4h0m1.4 .8h0m.7-.1h0m.4-.8h0m.8 1.4h0m0-1.4h0m.1 1.6h0m.2-.1h0m.2-1.4h0m.1-.3h0m.1-.9h0m.3-.1h0m.3 .3h0m1.1 1.2h0m.7-1.3h0m.7 .4h0m.1 1.7h0m.3-1.7h0m1.3-.7h0m.9 1.9h0m.1-.1h0m.1 .9h0m1.9-2.5h0m0 .4h0m1.7 2.4h0m1.6-2.6h0m.2 .5h0m.9 .1h0m1.6-.2h0m.7 .3h0m1.5 1h0m.5 .2h0m.1 0h0m.9 .7h0m2.2-2.6h0m1 1.4h0m.2-.4h0m1-.4h0m.8 1.3h0m.1-1.1h0m.4-.6h0m.1 1.6h0m.6-.5h0m1.5-1.3h0m.2 .7h0m.5 1.9h0m.2-2.2h0m3.1 .3h0m.2 .3h0m2.6 .6h0m1-.8h0m.6 1.5h0m1.7-.1h0m.4-.7h0m1.5 .6h0m1.2-2.1h0m.5 .7h0m2.4 .5h0m25.2-1.2h0m.1-.1h0m3.6 .8h0m.8 1.5h0m0-1.5h0m.1 .7h0m.7-.3h0m1.4-1.2h0m.3 .9h0m1.3 1.4h0m1.4-1.5h0m.7 .8h0m1.6 .2h0m.6-.1h0m.3 0h0m.7 .7h0m.9-.9h0m.3-.5h0m.6-.9h0m.4 2.2h0m.2-2.3h0m.1 2.1h0m-94.9 1.3h0m.9 .8h0m2-1.3h0m1.8 1.5h0m.4-1.5h0m.2 2.8h0m.7-1.6h0m.8-.7h0m.3 .7h0m.3 1h0m.4-1.6h0m.4 1.6h0m1 .1h0m1.3-2h0m.4 2.3h0m.6-1.3h0m.2 0h0m.3-.1h0m.4 .5h0m4.2 .9h0m0-2.3h0m.9 1.9h0m.3-2.3h0m.1 2.3h0m3.5-.7h0m2.1 .5h0m.1-.1h0m.2-1.8h0m.2 1.8h0m.1 .7h0m1.7-1.5h0m1 .9h0m.1-.8h0m.5 .6h0m.2-.8h0m.1 .5h0m.5-.5h0m0 1.4h0m1-2h0m.3 1h0m.6-1.5h0m.6 .9h0m0 .2h0m.6 .7h0m.4 .3h0m.8 .4h0m2.7-.5h0m2.2-.6h0m0 1.4h0m1-2h0m1 1h0m0-.2h0m.2 .2h0m1.1 .8h0m.1 .3h0m.1-2.1h0m.3 0h0m.8 1.4h0m.2 .1h0m1.4-.9h0m2.2-.2h0m.9-.6h0m1.2 .5h0m.1-1h0m.8 2.4h0m.2-2h0m.5 1.3h0m0-1.7h0m.7 1h0m.8 .6h0m.8-1h0m.7 1.6h0m2.5-.7h0m.3 .5h0m.7-2h0m1.9 1.2h0m1 .8h0m9-1h0m3.3 .1h0m10.6-.3h0m.6 1.7h0m.1-1.6h0m.1 .4h0m.2-.5h0m0 1.3h0m.1-2.3h0m0 .2h0m1.5 .8h0m.6 1.1h0m.2-.4h0m.2 .4h0m.5-.8h0m2.7-.5h0m.5 .5h0m.1-.3h0m.5 1h0m.9 .6h0m1-1.2h0m.2 .7h0m.3-1.1h0m.1 .2h0m.4 .7h0m.1-1.2h0m1.2 .3h0m-95.1 4.9h0m5-.3h0m2.2-2.2h0m.3 2.5h0m.2-2.1h0m.1 1h0m.9-.6h0m1 .4h0m.9-.8h0m.4 1.7h0m.1-1.6h0m1.6-.4h0m1.1-.4h0m8.7 2.3h0m1-.6h0m.1 1.2h0m.3-1.1h0m1.6-1.9h0m1 1h0m.3-.5h0m.8 .9h0m.7-.7h0m.2 1.5h0m0 .1h0m.9 .6h0m1.5-.8h0m.5-.7h0m0-.7h0m.6 .4h0m.6-.4h0m.3 .6h0m0 1.5h0m.2-2.5h0m.1-.1h0m1.2 2.3h0m1.1-2h0m2.4 .6h0m.3 1.7h0m.9-.9h0m.6 0h0m1.8 .3h0m0-2.1h0m.1 1.6h0m.5 .7h0m.1 0h0m.7-.7h0m.2-.5h0m1.3-.3h0m2-.3h0m.8 1.4h0m.8-.2h0m1.4-1.7h0m.2 .4h0m.3 1.5h0m.2-.8h0m.5 1.3h0m.4-.3h0m1.1-.5h0m1.4 0h0m.7-1.3h0m.4 1.1h0m.2 .1h0m.2-.1h0m2-.1h0m.1 1.2h0m.1-2.2h0m.9 .2h0m.9 1h0m1.5 .6h0m23.6-1.8h0m.5-.3h0m.2 .3h0m2.5 1.8h0m2.1-.9h0m.2-1h0m1.4 .1h0m.1 .4h0m.4-.6h0m2 .5h0m-94.8 3h0m.3 1.4h0m1.1-.7h0m.3 .2h0m1.4-.8h0m1.2-.4h0m1 2.6h0m.2-.8h0m.2-.8h0m.4-.8h0m.1 .4h0m.5-.1h0m.5 1.4h0m3.3-.5h0m.6-.1h0m.4-.1h0m.5-1.4h0m.9 1.4h0m.5 .6h0m.8-.7h0m.8-1.3h0m.4 1.6h0m.3 .5h0m1.4-1.2h0m.7 .5h0m.9 .6h0m1-.4h0m.7-.7h0m1-.7h0m.7 2.3h0m.2-2.6h0m2.5 2.1h0m.1-.9h0m.1-.5h0m.1 1.6h0m.1-.2h0m.9-.3h0m2.3 .4h0m.1-.5h0m.8 .3h0m.5 .4h0m.3-2.2h0m.4 .5h0m1.9 1.4h0m.2-1.7h0m.1 1.4h0m.2-1.7h0m.1 1.4h0m.2-.2h0m0 .3h0m2-.1h0m.2-1.1h0m1.4 2.2h0m.2-2.3h0m1.5 1h0m1.2-.4h0m.2 1.8h0m1.2-2.7h0m0 1.3h0m5.2-.6h0m.3 1.2h0m1.4-1h0m1.2 1.9h0m3.1-.7h0m.1-1.9h0m.6 .4h0m1.3 .9h0m.7-1.4h0m.4 .3h0m1.3 1.8h0m.5 .5h0m.5-2.7h0m1.1 1.3h0m1.2 .9h0m.5-.6h0m.3-.3h0m0 .4h0m1.1-.9h0m.3-.8h0m4.6 1.9h0m1.6 .8h0m.2-1.5h0m.6 .5h0m-69 3.9h0m1-.3h0m.9-1.9h0m0 .7h0m.1-.3h0m2.2-.1h0m.9 1.8h0m.2-1.6h0m.3-.7h0m0 2h0m.7-.6h0m.2-1.6h0m.8 .3h0m.1 1.4h0m.3 1.2h0m.2-1h0m.4 .7h0m.5-2.4h0m.1 .2h0m.2 .7h0m.5-.6h0m2.5 .6h0m.2 1.4h0m1-.8h0m1 .7h0m.3-.8h0m0 .5h0m.5-1.7h0m.2 1.7h0m.5-2h0m.7 2.5h0m.1-2.6h0m.5 2.7h0m.3-.9h0m1.1 .8h0m.7-2.6h0m.9 .9h0m.4 1.4h0m0-.2h0m.1-2.2h0m4.1 .1h0m.7 1.3h0m.9-.6h0m.8-.3h0m.1 1.4h0m.2-1.1h0m1.4-.7h0m.5 .5h0m.2 .1h0m.2-.4h0m.2 2h0m0-.3h0m.8 .6h0m1-2.5h0m1.8 .3h0m1.5 1.9h0m.2-.8h0m.1-.4h0m1.3 1.1h0m.4-.6h0m.6-1.4h0m.4 2.5h0m.4-.4h0m.8 .3h0m2.3-1.7h0m1.5 .2h0m0 .8h0m0 1h0m1.1-1h0m1.2-1h0m1.5 1.2h0m.2 .5h0m.1-2.1h0m1.9-.5h0m.6 .7h0m.2 1.7h0m.1-2.3h0m.5 1.6h0m.8 1h0m2.2-.8h0m0-1.4h0m1.8 1h0m1.3 .8h0m.5-.1h0m1.2-1.5h0m.1 1.5h0m.2-.9h0m.7-.8h0m1.7-.4h0m.9 .2h0m0 1.6h0m3.7-.3h0m.7-1.3h0m.1 0h0m.1 1.3h0m9.5 .8h0m.2-.6h0m1.1 .8h0m.2-2h0m2.3 .6h0m.4 .6h0m.7 .2h0m.6-.3h0m.9 1h0m2.8-.1h0m20.7 .3h0m-114.7 3h0m.9-2.4h0m2.3 .1h0m2.9 2.2h0m1-1h0m.9-.6h0m4.4-.7h0m.6 .2h0m.2 1h0m5.1 .1h0m1.1 .3h0m.5 .7h0m.8-1.5h0m.3-1h0m1.8 .8h0m.1 .2h0m0-.8h0m0 2.3h0m.6-2.7h0m.2 1.8h0m1.4 0h0m.1 .1h0m.1 .6h0m.2-2.3h0m2 1.6h0m.2 .7h0m.2-.8h0m.2 .4h0m.7-.9h0m.1-1h0m1.1 2.3h0m.2-.4h0m.1 .6h0m.5-1.3h0m.6 .8h0m1.3-2h0m1 2.2h0m.1-2.3h0m.4 1.6h0m0 .2h0m.9-.1h0m.4 0h0m.4 .1h0m1.2-1.5h0m.4 0h0m1.6 .2h0m.5 1h0m.1 .1h0m.9 .7h0m.8-.2h0m.5-1.7h0m.1 1.7h0m3.3-1.8h0m.4 1h0m.3-.2h0m1.1 1.5h0m.1-.3h0m1.4 0h0m.9-2.3h0m3.8 1.8h0m.2-.8h0m1.7-.6h0m0 1.4h0m.7-.6h0m.5-1.4h0m.2 1.4h0m.8-1.4h0m1.9 .3h0m.1 1.9h0m.3-.4h0m0-.9h0m.8 1.6h0m.2-1.9h0m.1 2.3h0m1.1 .1h0m.7-.4h0m.9-2h0m.3 .9h0m1.3 1.1h0m.9-1.9h0m2.2-.4h0m.6 1h0m26.4-1.2h0m16 2.7h0m.5-1.2h0m.2-1h0m.1 .5h0m.4 1.2h0m.6-.6h0m0-.5h0m.1 1.5h0m.2-1.7h0m.6 1.8h0m.3-.4h0m.2 .1h0m.3-.8h0m.7 .3h0m.4 .6h0m0-1.6h0m0 1.2h0m.2 .6h0m.5 0h0m1.4-.9h0m.8 .4h0m-118.1 1.7h0m1.7 1.2h0m1.9-.9h0m.5 .8h0m.1-2h0m.4 2.2h0m0-1.4h0m.1-.7h0m0 2.1h0m.2-1.4h0m0 1.1h0m.2-.6h0m.1-.4h0m2.2 1.4h0m.1-.7h0m.1 .2h0m.4-1.5h0m.5 2h0m.2 .1h0m.9-1.2h0m1.7-.9h0m.3 1.9h0m.5-.6h0m1.9 1.1h0m.1-.1h0m0-1.9h0m2.7-.5h0m3.7 2.5h0m2.3-1h0m1.7-1.2h0m1.9 2.4h0m1.6-2.5h0m1.5 1.4h0m.5 .5h0m2.4-.1h0m1.1 .3h0m.2-1.8h0m.7 .9h0m.1 0h0m.9-1.2h0m1.3 1.7h0m0 .5h0m.9-.5h0m1.1-1h0m0 1.6h0m.1-.7h0m.2-.1h0m.9-2h0m.1 1.6h0m1.8-1.6h0m.5 1.7h0m.1 0h0m0 1.1h0m1.1-1h0m.2-1.5h0m3-.1h0m.3 1h0m.1 1.6h0m.3-2.1h0m4.4 0h0m.8 .4h0m1.5 1.1h0m0-.4h0m.7-1.8h0m.1 .3h0m.4 .8h0m.1 .6h0m.6-.4h0m.4 1.2h0m1.4-1.9h0m.6 .1h0m.4-.3h0m1.1 .6h0m.3-.9h0m.3 .3h0m.1-.2h0m.1 1.3h0m1.4 .3h0m1.4-.7h0m1.1-.8h0m45.8 2.5h0m.9 .2h0m.1-.4h0m.2-2.4h0m.4 .7h0m.7 2h0m.1-2h0m.4 1.1h0m.8-1.6h0m.1 .4h0m.1 1.2h0m.1-1h0m.1 1h0m1-1.6h0m.1-.1h0m.6 1h0m.2 .8h0m.7-1.9h0m.7 2.1h0m.6 0h0m.2 .6h0m.4-.9h0m-119.1 1.7h0m1.3 .1h0m1 1.7h0m.1-1h0m1.6-.3h0m1.2 .3h0m.3-.1h0m1.5 1.1h0m.3-.5h0m.7 .9h0m.4-1.5h0m.2 .1h0m.8 0h0m.2-1.2h0m.8 1.3h0m2.3-1.3h0m.6 2.4h0m.5-.3h0m.6-.8h0m0-1.3h0m.1 2.2h0m.9-1.1h0m1.2 .1h0m.6-.5h0m.8 1h0m.7-1.7h0m1.6 1.9h0m.3-.5h0m3.9 1.1h0m.7-1.1h0m.6 .4h0m1.8-.7h0m.5 .2h0m.4-.3h0m.9 0h0m.2 .1h0m.6-.3h0m1 .8h0m0 .3h0m1.6-1.4h0m6.2 .3h0m1.4-1h0m.2 .5h0m.5 1h0m2.7-1h0m.3 1.7h0m.1-.7h0m.6-1.1h0m1.1 .9h0m1.2 .4h0m.8-.1h0m.5-.4h0m.1 1.6h0m1.2-.7h0m.6-.1h0m1.3-.8h0m1.3-.2h0m0 .5h0m.8 1h0m.4-2h0m1.9-.5h0m.3 .7h0m1.2 .1h0m0 .7h0m.2-1.3h0m0-.3h0m.3 1.5h0m0-.5h0m.4 1.5h0m4-2.5h0m.5 .3h0m10 1.6h0m11.7 .8h0m1.7-.7h0m3.5 .2h0m.5-.6h0m.1 .5h0m2-.3h0m3-1.3h0m1.3 .8h0m2.8 .8h0m8.1-.8h0m1.9-.7h0m1.8 .7h0m1.3-1.1h0m0 2h0m1.7-2h0m0 .1h0m.1 .7h0m.6 .9h0m.3 .3h0m.9-2h0m.3 .3h0m.1 .9h0m.6 .2h0m.1-.7h0m.1-.6h0m-118.7 3.4h0m1.4-.1h0m3.9 .8h0m.4 1.3h0m.2-.9h0m.1 .3h0m.7-1.5h0m.2 .4h0m.6-.7h0m.2 .5h0m1.3 2h0m1.1-2.4h0m.6-.3h0m.1 1.5h0m.4-1.1h0m3.2 2.3h0m.1-.6h0m.2-.4h0m.6-1.5h0m.1 .9h0m4.4 .4h0m.3 .8h0m.3-1.2h0m.3 .3h0m1.2 1.5h0m1.3-2.9h0m1 1.7h0m.7-.4h0m.3-.7h0m.5 .2h0m1.8-.8h0m3.7 .2h0m14.5 0h0m.3 .1h0m1.7 .9h0m1.7-1.2h0m.7 1.7h0m.5-1.6h0m.7-.2h0m2.2 .4h0m.7 1h0m12.5 1.3h0m-64.9 1.2h0m4 .3h0m.7 1.7h0m.3-1.9h0m.2 2h0m.6-2.1h0m.9-.6h0m0 .7h0m1.5 .8h0m1.5 .1h0m1.2-1.3h0m.6 .2h0m.4 0h0m.2 .5h0m.7 .1h0m.8-.7h0m.5-.2h0m.2 1.9h0m1.4-1.1h0m1.1-.3h0m46.1-1h0m16.9 2.7h0m.6 .2h0m1.4-.4h0m2-.6h0m.9 0h0m.2-.1h0m.7 .4h0m1.5 .7h0m38.7-1.4h0m2.1 1.1h0m-73.9 3.4h0m26.6-2.7h0m.5-.1h0m.1 .8h0m.9 1.2h0m2-.1h0m.6-1.6h0m0 1.2h0m.2 1.2h0m.4-1.2h0m2.1-.3h0m-61.2 2.8h0m1.9 .8h0m1.6-.9h0m.9 1.8h0m.4-.1h0m.4-2.8h0m2.3 2h0m0-.1h0m1.6-1.7h0m.3 1.5h0m11.4 .8h0m.4-1.1h0m7.1-.4h0m7.8-.8h0m3.6 .1h0m7.7 2.5h0m2.2 0h0m3.2-1.5h0m1.4 1h0m.2 .4h0m2.3-1.4h0m.8-.9h0m.3-.2h0m.8 2.7h0m1.3 .1h0m4.4-1.8h0m2.3 .1h0m.4-.1h0m.4 .5h0m.5-1.4h0m.5 1.9h0m-87.5 2.2h0m1.2 0h0m12.1 .9h0m.7-.4h0m2.8 .1h0m.6-.4h0m.9-.4h0m.3 1.5h0m.1-2.6h0m1 .9h0m.7-.7h0m.5 1.2h0m4.4 .5h0m2-1h0m.7 .2h0m6 .1h0m2 .9h0m.9-1.3h0m.4 .8h0m.4-.6h0m1.4 1.5h0m1.1-2.1h0m0 1.8h0m2.2-.6h0m.6-.1h0m23.5 1.2h0m.1-2.6h0m.8 2.1h0m.9-.7h0m.9-.9h0m0 1.8h0m.2-.4h0m.5-.8h0m.3-.7h0m.7 1.7h0m.6-2.2h0m.9 2.7h0m.9-.6h0m0-1.9h0m1.3 1.7h0m.6 .4h0m.1-2.4h0m2 1.3h0m.3-.6h0m1.5 1h0m2.3 0h0m.1-1.2h0m.3 .2h0m1.3 1.4h0m.3 .3h0m.4-1.5h0m.2 .4h0m.8 .3h0m.1-.6h0m.5 1.8h0m.2-.8h0m.7 .1h0m.1-1.2h0m.2 .4h0m.3-.8h0m.3 1.6h0m.3-.3h0m.5 .5h0m.4-.5h0m.7 .6h0m.8-1.2h0m1.3-.9h0m0 .5h0m.1-.4h0m.1 .9h0m.1-.5h0m.3 .7h0m1.1 .5h0m.6 0h0m-112.6 2h0m1 1h0m10.3 .1h0m.1-.4h0m8.1 .9h0m.2-1.1h0m.8-.1h0m.2 .5h0m.6 .4h0m.6 .3h0m2.8-2.2h0m5.6-.1h0m1.8 2.3h0m1.2-.7h0m1.6 0h0m8.9-.8h0m.5 1.6h0m.3-.6h0m.5 .4h0m1.2 .4h0m.3-.7h0m1.6-1.8h0m1.6 0h0m9.2 .7h0m4.5-.8h0m.3 .8h0m.1-.6h0m.2 1.2h0m.8-1h0m.5 1.9h0m4.1 .3h0m1.2-.1h0m1.4-1.2h0m2.2 .9h0m1.4-.3h0m2.1-.6h0m5.6 .9h0m0 .2h0m.7-.4h0m.7-.5h0m.2 0h0m0-.5h0m.1-1h0m.5 1.9h0m.7 .6h0m.8-2.4h0m.4 1.5h0m.5-1.4h0m.2 .6h0m.1 1.7h0m.1-2.5h0m2.3 .2h0m.3 .4h0m.2 2.1h0m2-.8h0m1.5-1.9h0m.1 2.5h0m.5-2.3h0m.2 1.5h0m.1 .7h0m.7-2.5h0m.7 1.2h0m.4-.2h0m.7 .4h0m.3-.6h0m.3 .2h0m.1 .3h0m1.7 0h0m.2-1.2h0m1.4-.3h0m.2 .2h0m.1 .3h0m0 .3h0m2.1 1.8h0m.1 0h0m.4-.7h0m1.8 .6h0m.6-.6h0m.1-1.1h0m2.2 2.1h0m.3-2.6h0m0 2.5h0m1.3-1.7h0m0-.5h0m.1 .9h0m.6 .8h0m.6-.3h0m.1-1.1h0m.3 2h0m1-.7h0m1.5 .6h0m-97 1.5h0m.3-.4h0m.2 1.1h0m.2-1.7h0m.1 2h0m.6-1.2h0m.2 .7h0m.3 1.1h0m.2-.7h0m.9-1.8h0m1.5 .1h0m.3 .4h0m1.6-.6h0m.4 .7h0m1.4 1h0m.5-.5h0m.1 1.1h0m.2 .2h0m1.5-.4h0m1.8 .4h0m.1-.6h0m4.1-.7h0m.1 .7h0m.1-1.8h0m4.1 .1h0m.9 1.7h0m.1-1.2h0m1 .8h0m1 .9h0m.2-.8h0m.8-.2h0m.7-1.3h0m.2 .8h0m.4 1.3h0m1.3-2.1h0m.4 1.2h0m.8-.5h0m.6-.2h0m.1 .6h0m.7 .4h0m1 0h0m1.7 .2h0m0-.1h0m.6-1.7h0m.1 2.5h0m1.3-2.3h0m.1-.2h0m.2 2.2h0m.2-.5h0m.5-.1h0m1.7 0h0m.2-.1h0m0-1.2h0m.5 1.4h0m.9 .4h0m0-1.5h0m.8 .8h0m3.1 .7h0m1.2-2.3h0m.6 2.8h0m6.2-2h0m.3 0h0m.3 .6h0m.6-.2h0m.3-.3h0m.1-.2h0m.1-.6h0m.9 .4h0m5.2 .5h0m6.3 .5h0m1.1-.7h0m1.6 0h0m.3-.8h0m.7 2.1h0m.3-.9h0m0 1.6h0m1.9-2.7h0m1.4 1.9h0m.3-1.2h0m1.4 1.9h0m.1-2.1h0m.7 1.8h0m.1-1.6h0m.1 1h0m.8 1.1h0m.4-.7h0m0 .4h0m.4-.5h0m.1-.3h0m.3-.3h0m.2-.8h0m0 .3h0m1.4 1.2h0m.1-2.2h0m.7 1.5h0m.7 .4h0m.3 .8h0m.2-2h0m.5 .7h0m1.7-.2h0m0-.7h0m.9 1.6h0m.3 .4h0m.5-.8h0m.5-1.7h0m1.4 1.3h0m2 .7h0m.2 .7h0m.6-1h0m.5-1.5h0m.4 1.3h0m2-.4h0m.7 .4h0m.2 1.3h0m.4-2.2h0m.3 1.5h0m.1-.6h0m.3-1h0m2.2 2.1h0m.7-.9h0m9.6 1.2h0m-108.1 .9h0m1-.1h0m.2 .7h0m.3 .3h0m.4-.4h0m.4-1.2h0m.3 .6h0m.9 1.1h0m.5-.8h0m1.6 .5h0m1.6-1.5h0m2.4 2h0m.4-.4h0m.3-1.3h0m2.3 .5h0m.1-.1h0m3.3 1.4h0m1.2-2.1h0m.1 1.7h0m.4-.8h0m.4 .3h0m.7-.2h0m.1-1h0m.1 1.2h0m1.9 0h0m1-1h0m.5 .3h0m0 .3h0m1.7 .6h0m.3-.8h0m2.2 1.2h0m.1-1.1h0m1.5 2.2h0m2.7-.5h0m0-.7h0m0-1.2h0m2.1 1.9h0m1.9 .3h0m.1-2h0m1.8 1.1h0m0-1h0m.4 2h0m.3-1.6h0m2.3-1.1h0m.9-.2h0m.5 0h0m.8 1.4h0m.7 .8h0m1.2 .5h0m3.4-.2h0m4.6-.4h0m1.4-.6h0m.2-.9h0m0 1.9h0m.9-.8h0m.2-.5h0m.3-.6h0m9.5 2.2h0m.2-.2h0m1.9-2.2h0m.9 .7h0m.2-.8h0m.6-.2h0m.4 2.3h0m.6-1.5h0m.1 .7h0m.1 .6h0m.7-1.8h0m.9-.4h0m.1 1.3h0m1.6 .4h0m.8-1.4h0m0 2.3h0m.4-1.6h0m.2-.7h0m.1 0h0m0 .4h0m.1 1.9h0m.8-2.1h0m.6 .2h0m.2 1.4h0m.3-2h0m.2 2.3h0m0-1.5h0m0 .8h0m.4-.8h0m.4 .8h0m.6 .7h0m.5 .1h0m0-1.8h0m.5-.1h0m.8 .9h0m.8 .9h0m.5-1.3h0m0 1.1h0m1.7 .2h0m.2-.4h0m.4-1h0m.4 1.7h0m.4-1.8h0m.4 1.4h0m0-1.2h0m.2-.9h0m.1 1.3h0m.8 .9h0m.4-2.1h0m1.4-.1h0m.4 2.7h0m1.1-1.2h0m.3 .3h0m0-.1h0m1-.8h0m.6 1.9h0m.5-2.4h0m1.5 2.1h0m.4-1.3h0m.3 1.3h0m.1-2h0m1.1-.1h0m0 1.3h0m.4-.3h0m0-.7h0m.1 1.7h0m.4-.7h0m.3-1h0m.5 .1h0m11.6 0h0m6.1-1h0m.1 .5h0m-113.3 2.5h0m.3 .5h0m2.8 .4h0m2.5 .1h0m.3-.7h0m7.5 .1h0m2.5 .6h0m.2-.4h0m.9 2h0m1.8-1.7h0m.1 .2h0m1.8 .9h0m1.5-.8h0m1.3-.6h0m.7 .4h0m.2-.3h0m.7 1.5h0m2.3-.9h0m1.2-.4h0m2.5 .2h0m4.8 1.6h0m.2-2.4h0m.4 2.3h0m.5-2.6h0m1.2 .8h0m.4 .7h0m.8-1.3h0m.3 .1h0m.3-.1h0m.1 .2h0m.2 2.4h0m1.7-.1h0m2.7-2h0m0 .7h0m.9-1.1h0m0 2.5h0m.1-2.1h0m.4-.5h0m3.4 1.5h0m3-1.3h0m10.3 .8h0m.5 1.7h0m2.6-1.1h0m.8-.8h0m1.1 .3h0m1.2-.7h0m1.1 1.2h0m.8-.3h0m.2 1.5h0m2-.9h0m0-.3h0m0-.3h0m.2 .4h0m1.1-1.8h0m.6 .4h0m.7 2.3h0m.2-.5h0m1.1-1.9h0m.4 2.3h0m.2-1.5h0m.1-1.1h0m.1 2.5h0m.9-2.6h0m1.3 1.6h0m.1-1.5h0m.4 1.7h0m.7-1.2h0m.6-.1h0m1.7 1.7h0m0 0h0m.3-1.1h0m.4-.9h0m.4 .4h0m3.9-.3h0m.4 .4h0m3 1.2h0m0 .4h0m0-2.1h0m.4 1.3h0m.3-.7h0m1.1-.7h0m.4 .6h0m0 1.5h0m.1 .6h0m.3-1.3h0m.1-.5h0m0 .2h0m.4-1.1h0m1.2 2.4h0m-95.1 3.4h0m.4-2.6h0m13.6 .6h0m.7 .4h0m1.6 1.1h0m2.3 .3h0m1.2-.8h0m0 .2h0m.1-1h0m3.6 .7h0m3-1.8h0m.9 1.8h0m.1-1.4h0m1.1-.3h0m1.7 1.7h0m.8-1.6h0m1.2 1.5h0m1.4 .7h0m.2-2.1h0m.4 1.5h0m0-1.4h0m.7 .8h0m.3 1.1h0m.3-1h0m.5-.3h0m.3 .3h0m3.5 .9h0m.1 0h0m.7-.4h0m2.1-.3h0m1.3-1.3h0m.3 0h0m1.3 .1h0m12.1 .3h0m.1 2.4h0m.3-1.8h0m.7 1.8h0m.1-1.1h0m1.6 .8h0m1.3-.7h0m.1 .6h0m.2-.7h0m2.1 1.1h0m.2-1.7h0m.5-1.2h0m.3 .6h0m.1 0h0m.2 .9h0m.7-1h0m.3 1.6h0m.3-.8h0m1.1 .7h0m.2 .6h0m.4-.3h0m.9 .6h0m.8-.1h0m.2-.5h0m.3 .1h0m1-.6h0m2.4-1.3h0m.1 .8h0m2-.9h0m0 2.3h0m1.1-2.5h0m1.8 1h0m.7-.8h0m2.2 2.5h0m.3-.9h0m.3 .5h0m0-.7h0m.4-.6h0m0 .4h0m1.2 .4h0m2.1-.3h0m.4-1.3h0m.3 .3h0m.7 1.5h0m.2-1.4h0m.1 .1h0m1.1-.2h0m.2 1.9h0m.2-1.4h0m.2-.3h0m.2 1.9h0m.4-1.5h0m.8 0h0m.6 .9h0m.3-.4h0m.6 1.1h0m.9-1.8h0m.4 .8h0m.1-2h0m.9 2.9h0m.3-1.5h0m-98.2 2.4h0m1.6 .7h0m0-.3h0m1-1h0m.5 .7h0m1-.8h0m1.3 .8h0m1 1.1h0m.6 .5h0m12.4-1.9h0m.4-.1h0m.8 .2h0m1.9 1.8h0m.2-2.1h0m1.9 2.4h0m.2-1.2h0m1.5-1.1h0m1 2.4h0m3.8-1.9h0m.3 .3h0m.2-.1h0m.2-.7h0m2.6 1.2h0m1.3-1.3h0m.1 .3h0m3.1 .9h0m19.7-1h0m1 1.4h0m.3 0h0m.2-1.1h0m0-.9h0m.2 2h0m1-.1h0m1.8-.9h0m.8 1.2h0m.1-1.2h0m.3 .5h0m.2-1.4h0m.5 .3h0m.5-.1h0m1.4 1.4h0m.9-.3h0m.4 .1h0m.6 1h0m.7 .3h0m.8-2.7h0m0 .1h0m.4 2.3h0m.5-1.6h0m.2-.2h0m.4-.7h0m0 1.9h0m.4-1h0m.4-.9h0m.1 .4h0m.6 2.1h0m.7-1.4h0m2.9-.3h0m.5 .1h0m.7 1.7h0m1.1-2.2h0m.2 1.4h0m3.1 1h0m.3-2.7h0m.3 1.7h0m.2-1h0m.3 1.4h0m.4 .6h0m.5-1.4h0m.4-.5h0m.9-.2h0m0 1.9h0m1.5-1.3h0m1.8 .7h0m.7-.8h0m0 .4h0m.2 1h0m.8-1.9h0m.5 .3h0m.4 1.5h0m1-1.5h0m.3 .9h0m.1 0h0m.5-.9h0m.2-.1h0m.6-.8h0m2.3 .3h0m.2 0h0m1.8-.3h0m-96.3 3.1h0m1.2 1.9h0m1.1-.1h0m.3-.2h0m.2 .6h0m.3 .6h0m.1-.2h0m1.2 .2h0m1.5-.2h0m1.3-1.5h0m16.4-.2h0m3.1-1h0m.4 .2h0m3.2 .2h0m.9 0h0m19.1 .4h0m.2 1.6h0m.9-.9h0m.1 .3h0m0 .4h0m.6-.4h0m.6 .5h0m.1-1.1h0m.3-.4h0m.2-.1h0m.2-.5h0m1.2 1h0m.4 .6h0m.3-1.3h0m.2 1h0m.4-.3h0m.4-.2h0m.5-.6h0m.2 2.1h0m.2-1.9h0m.2 2.2h0m.2-.2h0m.4-1.6h0m.2 .4h0m1.5 .6h0m.3-.5h0m.1-.9h0m.1 2.3h0m.9-1h0m.4 .9h0m3.6-2h0m.1 1.6h0m.4-.7h0m.3-.2h0m.5 0h0m.5 .8h0m.2-1.1h0m.4 .1h0m.1 .2h0m.9-1.3h0m.8 .5h0m.2 .1h0m.1 1.5h0m.6-1.1h0m0 .4h0m.1 1h0m.2-2.3h0m.1-.2h0m.2 0h0m.6 1.6h0m.1 .1h0m.1 1h0m2.8-.5h0m.3 .5h0m.4-.8h0m.3-1.8h0m.9 2.1h0m.3 .2h0m.7-1.8h0m.9-.3h0m0-.3h0m.2 .9h0m1 1.5h0m0-1.5h0m.3 .6h0m.9 .4h0m.3-2h0m.2-.1h0m.4 .5h0m.6 .3h0m.1 1.6h0m.9 .5h0m.2-.9h0m.3 .5h0m.8-2.3h0m.8 1.2h0m.2 1.2h0m.4-2.4h0m.1-.2h0m.5 1.6h0m.1-1.1h0m2 1.9h0m.3-.4h0m1.1-.2h0m1.5-1.3h0m.9 1.6h0m1-1.4h0m0 .2h0m1.1-.8h0m-91.6 4h0m1.1 1.4h0m1.4-1.7h0m1.2 2.1h0m.2-2.2h0m.9 1.3h0m0-1h0m1.5 1.7h0m.7 .2h0m0-.6h0m1-.9h0m1.1 1.3h0m.7-.8h0m14.4-.3h0m.5 .6h0m.2-.8h0m.8 0h0m1.9-.1h0m.7 1.5h0m1.7-1.8h0m17.2 .1h0m1-.5h0m3.7-.2h0m1 1.5h0m0-.1h0m2.4-1.1h0m.4-.6h0m.4 .1h0m.7 .3h0m10.5-.5h0m.5 .5h0m.5 .1h0m6.6 0h0m1.3 2.2h0m.7-2.4h0m.2 1.1h0m1.8 .6h0m.2-1.4h0m.3 1h0m.2-.3h0m.2 .2h0m.3 .3h0m2.7-1.4h0m.8 .1h0m.2 1.7h0m1.4-1h0m.5 .6h0m.1 .1h0m.1 .2h0m.2-1.5h0m.4 .8h0m.7-.6h0m1.2 1h0m.4 0h0m.2-1.1h0m.1 .6h0m1.6-.6h0m-90.6 4.2h0m.3 .3h0m0-.8h0m1.6-.5h0m.3 1.8h0m.5-.2h0m.9-1.4h0m1 .2h0m1.3-.1h0m.3 1h0m.3-1.6h0m.6 1.6h0m.5-1.5h0m.1-.8h0m.1 2.6h0m.5-.4h0m1.2 .3h0m65.7-1.9h0m.8 .2h0m.1-.8h0m.7 2.5h0m1.1-.2h0m.7-1.1h0m2.2 1h0m.1 0h0m.2-.3h0m.2-.9h0m.3 .8h0m.7-1.6h0m.4 2.1h0m.2-.5h0m.8-1.4h0m.4 0h0m.5 .9h0m0 0h0m1-.1h0m.3 .8h0m0-1.8h0m.6 .4h0m.9 .6h0m.3 .8h0m0-1h0m.1 .5h0m.3 .5h0m.2-1.4h0m.9-.2h0m.9 .5h0m-88 2.6h0m.8-.4h0m2.3 .8h0m.3-.1h0m.6 .3h0m.8 .1h0m.7-.4h0m0-.5h0m.1 .2h0m.1 0h0m0-.2h0m.8 0h0m66.2 2.4h0m1.4-.6h0m.2-.5h0m.4-.5h0m.5 .5h0m1.2 .9h0m1.5-.3h0m.1-.7h0m.3 .3h0m.2-1.2h0m.1 2.2h0m.2-2.6h0m0 .5h0m.1 1.2h0m.4-.8h0m.9 1.7h0m.6-1.5h0m2.4 .2h0m.6-.2h0m.6 .4h0m1-1.1h0m.1 1.3h0m1.6-.6h0m.3 1.6h0m.9-1.1h0m0 .2h0m1.3 .5h0m-20.7 2.2h0m.6-.2h0m.3 .9h0m.1-1.2h0m.2 1.5h0m.2-.2h0m1.4-1.7h0m.4 1.7h0m.9-2.4h0m.2 2.5h0m1.1-.1h0m.9-2.5h0m1 2.2h0m.1-.4h0m.1 1.1h0m.4-.7h0m.4-.7h0m.8 1h0m.1-.7h0m.5 .4h0m3.8-1.4h0m.8-.7h0m.1 .9h0m.7 1.8h0m2.2-.1h0m.8-1.7h0m.5 .5h0m1.1-.1h0m0-.5h0m.1 1.6h0m0-1.7h0m.1 .1h0m.6 0h0m1.3-.2h0m-32.2 3.6h0m1.1 1.4h0m0-.8h0m.6-1.8h0m.6 1.8h0m.3 .2h0m1.3-1.6h0m3 .6h0m.2 1.3h0m.1-.3h0m.3 .1h0m.9-.6h0m1.5-1.1h0m.4 .5h0m1.4 .2h0m.6-.5h0m.2-.6h0m.2 2.7h0m.8-.2h0m.1-2.4h0m.4 .1h0m.3 1.8h0m.4-1.5h0m.5-.4h0m.2 .5h0m1.5 1.1h0m0-.7h0m1.5 1.5h0m.9-1.5h0m1.2 .2h0m.1 .7h0m.6-1.4h0m0 .1h0m.3 .9h0m.3-.2h0m.6 1.1h0m.6-2.3h0m.1 1.5h0m.6 .8h0m0-.3h0m.6 .8h0m.2-.2h0m.1-1.4h0m.3 0h0m.8-.5h0m.7 .2h0m-21.4 2.2h0m2.6-.2h0m3.6 0h0m3.1 .2h0m4.4 .3h0m.5-.2h0m.7-.4h0" stroke="#F8766D" stroke-width="1.5" stroke-linecap="round" fill="none"/>
<path d="M109.9 42.1h0m-13.1 9.9h0m5.2 .2h0m1.3 3.8h0m8.3 .1h0m1.3-1.4h0m.2 1.3h0m.3-1.1h0m2.7-.2h0m.6 .4h0m1.6 1.3h0m-11.5 1.2h0m4.5 .5h0m1.6 .5h0m3.2 .4h0m2-.7h0m3.6-.6h0m1.1 2.1h0m.8-1.9h0m2.5 1.9h0m-74.2 2.6h0m4.2-.2h0m1.4-1.5h0m.1 1.5h0m3.6-1.9h0m2.1-.1h0m6.4 1.8h0m4.6 .9h0m.1-1.4h0m.6 .7h0m5.6 .3h0m4.3 .2h0m5.2 0h0m25.2-1.8h0m5.3-.1h0m.3 0h0m2.8 .6h0m1 .1h0m.5-1.3h0m.5-.2h0m.6 .5h0m1.3 .6h0m.4-.8h0m7.1 1.5h0m1.7-.2h0m-85.1 2.1h0m.1 .6h0m3.3 .7h0m21 .8h0m5.1-2.2h0m2.4 1.1h0m.7-1.4h0m1.3 .1h0m4.8 .4h0m4.3 0h0m29.8 .5h0m.3-1.2h0m-79.2 4.3h0m3.1-1.1h0m.2 .6h0m.6 .7h0m3.7-1.4h0m1.3-.2h0m6 3h0m2.1-1.9h0m7.2 1h0m20.8-.2h0m24.6-.7h0m.4 1h0m1.2-1.6h0m9.8-.2h0m9.5 1.1h0m-88.9 2.6h0m3.7 1.8h0m5.9-2.8h0m.7 1.8h0m0 0h0m.4-.2h0m1.1-.6h0m.4 .5h0m.7-.6h0m3.9 1.5h0m1.6-1.3h0m3.2-.9h0m.4 1.9h0m2.2 .3h0m.9 0h0m4.1 .3h0m.4-.7h0m10.2-1.5h0m.2 1.3h0m4.9-1.2h0m7.8 1.5h0m2.5 .6h0m.7-1.5h0m24.1-1h0m5.4 1.7h0m1.5-1.7h0m1.1 1.2h0m-93.2 4.1h0m3.8-.1h0m1.5-1.3h0m.2 .8h0m.1 .8h0m2.2-.6h0m.5 .2h0m6 .1h0m3.7-1.5h0m2 1.7h0m1.5-1.1h0m3.6-.6h0m1.1-.4h0m.4-.5h0m2.3 1h0m.1-.9h0m.8 1.3h0m2.5-1.1h0m0 .5h0m1.8 .1h0m.2 .1h0m7.4-.1h0m3.3 0h0m2.4 1.8h0m1.3-1.2h0m9.6-1h0m3.2-.6h0m-63.5 3.6h0m5.5 1.7h0m5.3-1.8h0m.5 1h0m2.5-.3h0m.4-.9h0m3 1.9h0m2.2-1.6h0m1.9 1.7h0m1.1-1.3h0m.3-.6h0m1.1 0h0m3 .1h0m.5 1.1h0m.8-.9h0m.2 1.5h0m0-1.2h0m.5 0h0m1 0h0m.8-.4h0m3.8 1.7h0m3.8-.6h0m17.5 0h0m4.2 .4h0m12.7-1.6h0m-75.3 5.4h0m1.8-.8h0m2.8-.9h0m1 .9h0m.2 .4h0m.8-1.1h0m1.6 .4h0m2.4 .5h0m.6-.3h0m1.8-1.5h0m.4 1.3h0m.8-.6h0m1.5 1.2h0m.3 .4h0m0 .1h0m1.5-.5h0m2.3-1.4h0m.1-.8h0m.4 .2h0m.6-.3h0m.4 2.7h0m.7-.3h0m4-2h0m4.2-.5h0m0 2.2h0m.7-.6h0m.1-1.2h0m.1 .8h0m6.1-1.2h0m2.8 2.8h0m20.7-2h0m.3-.6h0m2.7 1.8h0m44.6 .4h0m-110 2.7h0m.3 .2h0m.2-1h0m1.3 1.1h0m.2 .5h0m1.4-.3h0m3.5-.1h0m.7-.6h0m.2 .3h0m1.5-1.8h0m.4 1h0m2.2-.7h0m1.6 .7h0m5.4 1h0m1.3 .4h0m.8-1.8h0m.3-.8h0m1.5 .1h0m1.5 .5h0m.6 1.9h0m1.7-2h0m14.9 1.1h0m1.2-1h0m.2 .3h0m.8-1h0m1.2 .4h0m.3 .7h0m1.1-.5h0m.5-.3h0m6.7 .5h0m12.2 .9h0m.2-.3h0m.7 .5h0m51.8-.9h0m-117.8 2.1h0m.4 1.3h0m.7-1.2h0m.7-.1h0m.4 .6h0m.5 2.1h0m2.3-2.2h0m0 .7h0m2.6-1.4h0m2.2 2.3h0m4.9-1.9h0m.5 .1h0m.6 .1h0m.8 1.2h0m7-1.3h0m.9-.4h0m1.5 .5h0m.4 2.4h0m.8-2.9h0m1.8 1h0m1.2 1.8h0m.6-1.2h0m9.6-1h0m71.7 1.9h0m-111.3 .4h0m.6 1.5h0m8.3 .5h0m0-.2h0m.1-1.2h0m4.6 1.7h0m2 .5h0m1.1-1.5h0m7.3 .9h0m1.1-1.6h0m.7 .5h0m1.1-.8h0m1.1 .6h0m.6-.3h0m80.6-.6h0m13 2.5h0m-119.7 1.7h0m.3-.9h0m1 .9h0m.6 1h0m.4-2.2h0m2.2 .2h0m.2 .7h0m.5 0h0m.4-.5h0m.3 1.9h0m.3-.7h0m.6-.9h0m3.7 1.5h0m.9-1h0m.3-.6h0m.3-.4h0m.2 .6h0m69.2-.4h0m40.7 .4h0m1.3-.2h0m.4 1.7h0m.7 0h0m.3-.6h0m-66.5 3.4h0m25.1-1.9h0m-11.9 5.2h0m9.5 .1h0m5-.6h0m1.7 .7h0m.2-.7h0m34-.3h0m.1-.3h0m-51.7 2.5h0m9-.3h0m.5 1h0m1 .7h0m3.4-2.1h0m6.2 .1h0m6 2h0m-23.8 1.6h0m.3-.8h0m3.8 2h0m3.9-.2h0m0-.6h0m2.8-.8h0m2.5 2.3h0m.2 .3h0m8-.7h0m-77.4 2.7h0m53.3 .5h0m13.9-2.4h0m4.1 1h0m5.1-.7h0m-83.2 5.5h0m9.3-.8h0m4.3 .5h0m44.2-2.5h0m.1 .7h0m.1 1.4h0m5.9-1.4h0m.6-.4h0m1.5 1.2h0m2.2-.6h0m8.9 1.9h0m.7-.3h0m9.2-1.9h0m12.7-.5h0m4.4 .4h0m-44.5 2.5h0m7.7 2.5h0m.4 .2h0m.4-2.5h0m4.7 1h0m6.7 .2h0m.1-.1h0m.1 .9h0m1.8-.5h0m1.4-.6h0m6 0h0m-76.6 2.2h0m12.5-.2h0m5.7 1.3h0m8.3-1.4h0m1.7 1.4h0m20-.1h0m3.1 .3h0m1.7 1.1h0m2.5-1.5h0m.9 0h0m17.6 1.3h0m3-1.2h0m.1 .5h0m-96 1.3h0m56.9 .7h0m.4 1.7h0m7.2-1.5h0m.9-.9h0m0 0h0m12 .7h0m2.8 1.7h0m5.2 .1h0m4-2.1h0m.2 .2h0m2.6 2h0m-16.8 1h0m2.1 1h0m.9 .2h0m4.1 .6h0m2-.6h0m.7-1.1h0m3-.3h0m10.1-.2h0m1 .3h0m.2 .6h0m-91.7 2.6h0m1 .9h0m44.7-1.4h0m.9 .1h0m.5 .6h0m34.4 1.4h0m.6-.6h0m2.8-.4h0m.8-.6h0m-81.9 3.8h0m23.2-1.7h0m55.8 2.9h0m0-2.5h0m-8.9 4h0m4.1 .5h0m.9-1.1h0m.1-.3h0m1.4 .7h0m.5-.8h0m-15.5 5.3h0m5.2-2.1h0m.8 1.3h0m1.7-.1h0m4.9-1.6h0m0 1.6h0m.9-1.5h0m-17.9 4.3h0m.1-.4h0m3.7 .7h0m5-1.5h0m3.2 2.3h0m4.8-2.4h0m-21.9 3h0m18.8-.1h0" stroke="#00BA38" stroke-width="1.5" stroke-linecap="round" fill="none"/>
<path d="M102.3 41.2h0m2.2-.9h0m7.1 1.5h0m3.2 0h0m-11.4 .3h0m10.8 1.5h0m.7-1h0m1.6 1h0m.2 1.3h0m.2-1.6h0m.1 1h0m2.5-.3h0m-.6 1.5h0m-19 5.5h0m-.2 2.1h0m1.9-1h0m2 1.4h0m-4.6 .9h0m2.6 1.7h0m3.7-.3h0m.1-1.6h0m1.3 2.1h0m4.5-1.4h0m4.2 .8h0m.5 .8h0m.2 0h0m1.2 .5h0m-52.7 1.9h0m36.3-1.9h0m3 1.2h0m3.9-.3h0m.6 1h0m.3 .5h0m5.3-1.9h0m.8 .1h0m.8-.2h0m.2 .4h0m2.3 1.9h0m1-2.1h0m.1 1.4h0m0 .4h0m.3-.9h0m.7 .1h0m.2-1.2h0m.2 .4h0m1.2 1.7h0m2.5 .5h0m.8-1h0m.9 .4h0m.2 .4h0m.9-1.3h0m-72.2 4.5h0m2.5-2.1h0m15.3 .8h0m.5 .1h0m.1-1h0m6.3-.4h0m30.8-.2h0m7.3 .5h0m3.9-.3h0m.1 .1h0m.3-.1h0m3.1 1.6h0m.5-1.2h0m1.8 2h0m4.3-.2h0m1-.4h0m4.2-1.1h0m-84.9 2.1h0m6.1 1.6h0m1.9 .2h0m6.8-1.2h0m9.8 1h0m.4 .6h0m.5-1.2h0m2 .6h0m.3 .6h0m1.2 .3h0m1.5-.3h0m.4-2.4h0m.4 2.2h0m0-2.1h0m.6 2.6h0m1.2-.8h0m1.8-.3h0m4.1 1.3h0m.1-.2h0m4.9-.7h0m2.9 0h0m0 .8h0m1.5-.1h0m24.1-1.8h0m1.1 .5h0m.6 .8h0m.8 0h0m.5-.9h0m.2 .5h0m4.6-1.3h0m1.2 1.2h0m-85.1 2.4h0m3.9 .6h0m1.7-.5h0m.6 .4h0m5.5-1.2h0m3.5-.3h0m.4 1.5h0m2.8-.5h0m.2 .5h0m4.2 1.3h0m6.3-2.4h0m.4-.2h0m2 1.3h0m1-.6h0m5-.6h0m1.9-.4h0m.7 .2h0m1.9 2.2h0m2 .5h0m2.1 .1h0m2-2.5h0m.3 .7h0m2.6-.8h0m.9-.2h0m1 2.3h0m.6-.9h0m1.3 .5h0m.1-1.6h0m.4 .8h0m.2 1.3h0m.8-1.5h0m1.6 1.3h0m7.6-.5h0m2.2-1.6h0m2.4 .4h0m6.2 .4h0m1-.6h0m0 .7h0m0 1.4h0m.2-1.6h0m1 .5h0m.6-.5h0m-80.6 2.3h0m1.9 1.7h0m1.9-1h0m9.5 0h0m.4-.1h0m1 .3h0m3.2-.3h0m13.6 .2h0m2.5 1.5h0m.1-2.1h0m.2 .5h0m.1-.6h0m3.5 .4h0m2.5 1h0m2.5 .6h0m3.1-.8h0m.7-.7h0m5.2 .2h0m.4 .9h0m2.8 1h0m1.5-.3h0m.5-1.7h0m.6 .3h0m27.6-.3h0m-86.5 4.9h0m.4-.1h0m0 .1h0m2-.8h0m3.2 .6h0m.6 .2h0m3.3-.7h0m5.8 .5h0m.2-2.4h0m.8-.2h0m.4 1.6h0m2.1-.6h0m3.3 0h0m3.1 .2h0m.2 0h0m3.2 0h0m1.6 .3h0m3.9 .4h0m1.7-.8h0m.7-.7h0m.2 .4h0m2.2 1.2h0m2.9-.5h0m6-.6h0m1.8-.1h0m5.2 0h0m13 1.4h0m46.5 .6h0m1.6 0h0m-119.1 1.7h0m.3-.8h0m.8 1.6h0m1.1-.4h0m4.7 0h0m6.2 .5h0m.6-2.4h0m0 2.2h0m2.8-1.9h0m1.8-.4h0m1.3 3h0m2-2h0m.6 .9h0m4.5 1.1h0m1.3-1.2h0m.1 .5h0m.9-2.2h0m.4 .4h0m0 0h0m2.6 1.8h0m3.4-2.1h0m1.5 2.5h0m1.7-1.3h0m2.2 1h0m.3-.3h0m2.2 .8h0m8.3-.3h0m2.9-.4h0m0-.3h0m3.4-1.2h0m.7 1h0m.4 .1h0m20.7-.7h0m8.1 1.4h0m-92.8 2.3h0m1.6-.4h0m1.3-.4h0m4.4 1.4h0m1.2-.7h0m.2-.5h0m4.8-.5h0m3.3-.5h0m3.9 1h0m2 0h0m3.6-.6h0m1.7 .3h0m1.3-.2h0m.8 1.2h0m2.1 0h0m.5 .7h0m5.4-2.6h0m.6 1.6h0m8.6-1h0m1.2 1.9h0m5.4-1.6h0m1.5 .7h0m0-1h0m.2 1.7h0m.5-1.6h0m.3 .8h0m5.7-.1h0m.5-.9h0m2.2 1.8h0m1.2-.8h0m41.8 1.2h0m-100 1.9h0m1.1 1.1h0m14.7-2.1h0m6.2 1h0m10.3 1.2h0m.6-1.7h0m2.5-1.1h0m1.7 1.6h0m2.7-.8h0m.5 1.2h0m.3-.4h0m.2-1.6h0m.3 1.2h0m0-1.2h0m2 2.4h0m6.9-1.3h0m.7 1h0m1.1-.1h0m.1-1.9h0m.5 2h0m0 .6h0m0-1.3h0m.1 1.4h0m.4 .1h0m3.9-2.7h0m.4 .8h0m16.9 1.5h0m.4 .4h0m1.9-.2h0m1.2-.3h0m1.7 .6h0m3.5-.5h0m13.9-.3h0m.8-.1h0m.2 .8h0m0-.7h0m1.8 .7h0m.1-1h0m.5-1.3h0m3.4-.4h0m1.1 2.2h0m4.1-1.9h0m-113.7 2.5h0m12.3 2.5h0m.3-2.3h0m10 2.4h0m3.6 .2h0m12.7-1.1h0m1.9-1.1h0m2.5 .3h0m.6-.5h0m.4 .5h0m5 .4h0m5.3 1.6h0m.5-1.3h0m8.7 1.4h0m3.9-1.6h0m2.8 1.6h0m.7-.6h0m.1-.5h0m7.3-1h0m1.3 1.6h0m.8-.2h0m.2 .1h0m.5-.2h0m.2-.8h0m.7-.2h0m.9-.9h0m1.1 .2h0m.4-.3h0m1.1 .9h0m.6-1.1h0m.3 2.2h0m1.3-1.2h0m.6 1.6h0m1.7-.2h0m1.1-.5h0m.2 .1h0m.1-.9h0m.3 1.5h0m6.9-2.4h0m2.5 .6h0m2.5 .6h0m.6 1.2h0m.6-1.3h0m0-1.1h0m.2 .3h0m-111.3 2.7h0m1.3 2.1h0m.7-1.9h0m.4 2.5h0m1.7-2.6h0m1.4 1.2h0m1.8 .3h0m.8-.9h0m8.1 .2h0m3.6-.5h0m5 1.1h0m.1-.3h0m3.4-.3h0m.1 1.1h0m3.4-2h0m17.5 .2h0m3.8 .5h0m2.7-.7h0m6.5 2.7h0m3.6-1.7h0m0 1.6h0m.4-2.4h0m.2 .2h0m0 2.1h0m.3-.2h0m1.5 .1h0m2.2-1.5h0m0 .3h0m.2-.5h0m.7 1.2h0m0-1.7h0m.2 2.2h0m.2-.6h0m1.1-.4h0m1.5-1.2h0m.1 1.9h0m0 0h0m.3 .6h0m1.3-2.1h0m.2 .4h0m.1-1h0m.1 2.3h0m11.2-1.8h0m1.6 0h0m1-.2h0m1.2-.5h0m.6 0h0m6.4 .4h0m.6 .2h0m.1 .4h0m-84.9 2.7h0m7.8 .5h0m36 1.4h0m.2 .2h0m1.1-.2h0m.2-.3h0m.5-.9h0m.9-.1h0m.1 1.5h0m.3-2.4h0m.1-.3h0m1.7 1.9h0m.6-.5h0m0-.6h0m.1 .4h0m.2-.9h0m.4 2.4h0m.7-1.2h0m.6 1.4h0m.6-2.6h0m.6 2.4h0m.3 .1h0m.3-1.2h0m.3-.7h0m1.3-.8h0m.3 .5h0m.6 1.3h0m.1-1.1h0m.4-.4h0m0 1.5h0m.3-1.5h0m1.6 1.4h0m.1 1.1h0m.4-.1h0m.1-2.1h0m0 .1h0m1.2 1.8h0m.1 0h0m.4-1.3h0m.1-1.3h0m.4 1.7h0m.4 .1h0m.4-1.8h0m.2 2.4h0m.3-1.8h0m.2-.6h0m.5 .5h0m31.2 2h0m.4-.3h0m.2 .5h0m-58 2.5h0m1 .7h0m.1 0h0m.8-2.4h0m1.2-.1h0m0 2.3h0m.1-1h0m.1-.4h0m1 1.2h0m.6-1.5h0m1.5 1.7h0m.4-1.5h0m0-1h0m.2 2.4h0m.1-2.2h0m.2 .8h0m.3 1.3h0m.2-1.7h0m1.3 .6h0m.1 1.4h0m.6-2.4h0m1.1 1.8h0m.7-1.8h0m.1 2.4h0m.3-2.8h0m.8 .8h0m.2-.2h0m.1 1.6h0m.5-1.7h0m.1-.2h0m.4 1.2h0m.1-1.1h0m0 .4h0m.1-.1h0m.1 1.9h0m1.7-1.4h0m.2-1.1h0m.4-.1h0m.5 .9h0m1.6 0h0m0 .7h0m.1 0h0m.2-.8h0m2.3 .1h0m.6 .7h0m0-1h0m35.9-.6h0m.5 0h0m-78.7 5.1h0m.7-1.2h0m1.4 1.3h0m2.6 .5h0m2.8-2.7h0m1.5 1.3h0m1.5 .5h0m3 .4h0m.3-.9h0m.6 1h0m1.3-1.3h0m1 .4h0m.4 .1h0m.4 .7h0m.4-1.2h0m.5 1.2h0m.8-2h0m.9 .9h0m.2-.7h0m.2 2.3h0m2-2.3h0m1 0h0m.3 1.8h0m.5-1h0m.4 .1h0m.8-.3h0m.6-.1h0m1.3 1.8h0m.6 0h0m.4-1.2h0m1 1.2h0m.4-1.6h0m.5 1.7h0m.4-1.1h0m1.5 1.1h0m0-1.3h0m1.6 .5h0m.4 .5h0m.8-2.2h0m1-.3h0m.3 .4h0m.3 1.2h0m.1 .3h0m.2-.6h0m.1 .5h0m.5-1.4h0m.2 2.4h0m.1-.2h0m1-1.7h0m.3 1.1h0m21.6 .8h0m22.5-2.7h0m.8 1.3h0m1.1 .6h0m.4-.1h0m.2 .2h0m-105.2 3.7h0m11.9-.5h0m1.6-1.1h0m.3 .3h0m.6-1.2h0m.3 1.5h0m1.6 1.1h0m1-.5h0m2.4-2.3h0m2.7 2.6h0m.2-1.6h0m.1-.4h0m1.1 2.1h0m.5-2.4h0m2.1 .5h0m.7-.9h0m.2 .8h0m.2 1.3h0m.1-1.5h0m.4 .8h0m.1-.6h0m1 1.6h0m.1-.5h0m.4 .3h0m1.6-.4h0m.5 .6h0m.1-.3h0m.6-1.9h0m.3 1.8h0m.3 .7h0m.8 .2h0m.8-2.7h0m.2 2.1h0m.6-1.5h0m.2 .5h0m.8-.5h0m.2-.1h0m.1 .6h0m4.3 .4h0m1.9-.2h0m.6-.1h0m.3 .9h0m.4-2.2h0m.1 .9h0m0 .1h0m.1 1.5h0m.3-1.9h0m2.2 2h0m1-.3h0m.1-2.5h0m.8 2.6h0m.6-.2h0m.1-1.6h0m.4-.1h0m.3-.2h0m.3-.2h0m2.4 0h0m.3-.1h0m3.3-.2h0m49.3 1.2h0m0-.4h0m-109 5h0m.9-.9h0m.2-1h0m.1 1.8h0m.2-2.5h0m.5 .7h0m1.9-.7h0m.5-.1h0m1.8 2.6h0m.9 0h0m7.1-2.5h0m.5 1.3h0m.6-1h0m.2 1.1h0m.7-1.1h0m.7 2h0m1.5 0h0m.5-.5h0m.7-2h0m.9 1.8h0m.9 .4h0m0 .4h0m.2-1.9h0m.6 2.2h0m1.1-1.9h0m.2 .6h0m.2 .3h0m.9-1.4h0m.8-.4h0m2.9 2.7h0m.3-.9h0m1.1-.2h0m.2-1.2h0m.4 .5h0m.5 .3h0m.4-.4h0m.2 .9h0m.4-1.6h0m.2 2.3h0m.8-2.2h0m1.1 1.3h0m1 .6h0m.6-2h0m.4 1.1h0m1.5 1.1h0m.8-1.9h0m.8 1.3h0m.6-.6h0m.1 .2h0m0-.6h0m2-.5h0m.4 1.9h0m.8 .5h0m.2-.1h0m.4-2.2h0m.1 1.5h0m.2-1.6h0m.2-.1h0m0-.1h0m.5 2.8h0m.5-.9h0m3-1.6h0m.3 1.6h0m.4-.8h0m.8-.5h0m.1-.5h0m.6 .7h0m.2 .4h0m.4 .1h0m.5 .2h0m1.1-1.6h0m.1 1.7h0m1.5 0h0m1.6-1.5h0m.2 1.3h0m.1-.5h0m.1 .9h0m1.1-1.4h0m.2-.5h0m2 2.5h0m.3-.8h0m28.3-.8h0m5.1-.2h0m2.1-.2h0m-95.7 2.7h0m1.8-.1h0m1.1 .2h0m.3 .3h0m.7 1.1h0m.2-.6h0m.4 0h0m.6 .3h0m.3 1.4h0m1.8-.2h0m.1-1.4h0m.6 .4h0m1.1 .9h0m.9-.8h0m.2-.8h0m1.2 .4h0m.9 .5h0m.2 .5h0m.7-.4h0m0-.1h0m.3 .1h0m.4 0h0m.2 1h0m3.5-.5h0m.2 .2h0m1.1-1.8h0m1.1-.1h0m.5 1.7h0m.3-1h0m0-.1h0m.6-.3h0m3.9 .1h0m2.9 .6h0m2.6-1.5h0m.6 .8h0m.3 .4h0m2 1.1h0m.2-.2h0m0 .6h0m3.2-2.1h0m.6-.2h0m4.1 1.9h0m.5-.8h0m.2-1h0m1.1 .5h0m.2 1.8h0m.8-2.5h0m.7 1.1h0m.2-.7h0m.6-.1h0m.3 1.1h0m.6-.6h0m.1 1.6h0m1.7-.9h0m1.2 .2h0m.3-.3h0m.1-1h0m.1 1.3h0m.1-1h0m1.1-.1h0m0 1.2h0m.3-.5h0m.3 .2h0m.1-1.6h0m1-.3h0m1.4 2.1h0m2-.7h0m.5 .8h0m.8-2h0m1 .3h0m.3-.3h0m31 2.2h0m2.1-1.6h0m4.7 1.1h0m.9-.3h0m-98.8 2.4h0m.1 .4h0m.9 .9h0m2.4-2.1h0m2.4 2h0m.5-1.2h0m1.1 1.7h0m.5-.8h0m.9-1.4h0m.5 2.1h0m.7-2.1h0m3.6 .3h0m.1-.6h0m.4-.2h0m.3 2.7h0m1.9-2.1h0m.7 2.2h0m.5-1.7h0m.8 .5h0m.3 .3h0m.1 .4h0m3.2-.6h0m2.5 0h0m.2 .6h0m.3-1h0m.1 .4h0m.1-.7h0m.1 .8h0m.2-1.4h0m.1 .5h0m.3 .1h0m.4 .4h0m.1 1.1h0m.2-.6h0m1.4 .4h0m1.9 .2h0m2-.4h0m.2-1.1h0m.1 1.6h0m1.2-1h0m.3 1.2h0m.9-.1h0m0-1.1h0m4.1-.5h0m1.5 .5h0m.2-.7h0m1.6-1h0m.4 1h0m.6-.7h0m.4-.2h0m2.2 2.1h0m0-2.2h0m0 .5h0m.2 2.1h0m.8-1.2h0m.4-1h0m1.1 .4h0m.3 .4h0m.3 .8h0m1.3-.7h0m2.6 .6h0m.6 0h0m3.5-1.7h0m.4 .1h0m10.2 1.2h0m4.8-.5h0m.9 1.1h0m11.1 .3h0m-79.9 1.4h0m.2 .6h0m0-.2h0m0 .6h0m1.5-1.7h0m1.3-.1h0m.5 1.1h0m4.9-1.1h0m3.3 2.2h0m1.8-1.5h0m2.7 2.2h0m1.5-2.6h0m1.1 .7h0m.2 .8h0m1.3-.6h0m1.5-.6h0m.4-.2h0m.1 1.6h0m.5-1.5h0m.5 .1h0m1.7-.5h0m4.2 .9h0m.1-.5h0m.2 .7h0m1.1-.7h0m.1-.4h0m.8 2.8h0m.4-2.3h0m.2-.3h0m.3 1.5h0m.2-.5h0m1.3 .8h0m2.4-2.1h0m.3 1.8h0m0-.4h0m1.6-1.2h0m2.3 1.3h0m4.9-.7h0m.4-.3h0m.7 .4h0m0 1.6h0m.7-2.1h0m.7 1.2h0m.1 0h0m1-1h0m35.3 1.6h0m4.5-1.2h0m-91.4 3h0m.6 1.3h0m.4-.3h0m.8-.3h0m1 .2h0m1.3-1h0m11.8 1.9h0m.6-2.8h0m.7 .5h0m1.7 2.2h0m.3-.4h0m2.1-1.9h0m1 .2h0m.1 1.8h0m.8-1.3h0m1.8 1h0m.1-.5h0m.4-1.5h0m0 2.2h0m0-.7h0m.5 .9h0m1.1-.3h0m0-.1h0m.7-1.9h0m2.4 .5h0m2.1 .9h0m2.2-.9h0m.7-.6h0m2.6 .9h0m3.4 .6h0m.2 .7h0m.3-1.4h0m1.3 1.2h0m.1-.3h0m.5-.6h0m2.6-.5h0m.5-.6h0m19.2 2.1h0m11.4-1.9h0m11.6 .7h0m4.1-.1h0m-92.2 2.9h0m.3 1h0m1 .8h0m.2-.7h0m.9-1.4h0m.7-.4h0m1.7 2.6h0m13.9-1.1h0m6.5 .4h0m1.9 .8h0m1.9-.5h0m2.7-1.2h0m1.6 1.6h0m.8-2.6h0m.2 1.5h0m1.7-.8h0m1.6 .3h0m2.2 .1h0m.5 .4h0m24.9-1.2h0m1.8 1.9h0m8.8-1.5h0m1-.2h0m-75.9 3.6h0m.1 0h0m.6-.4h0m.2 0h0m2.1 .7h0m.6 .2h0m.9-1.1h0m.1 1.8h0m0 .3h0m2.7 .2h0m21.2-2.3h0m1.2-.5h0m21 .4h0m2.7 2.3h0m24.5-1h0m5.2 .4h0m-82.8 2.7h0m.4-1.1h0m3.1 2.1h0m1.4-2.6h0m.7-.2h0m1.6 1.9h0m1-.4h0m.1 .9h0m1.8-.2h0m.3 .1h0m19.2-.2h0m.8 .6h0m1.4-.4h0m.7 .3h0m35.6-2.6h0m2.8 0h0m6.3 2.4h0m-77.4 .8h0m9.7 2.3h0m19.4-2.2h0m.2 .6h0m.9 .1h0m.1 .9h0m51.5 1.2h0m2.7 2.7h0m.5-2.6h0m7.8 2.3h0m-56.2 3.3h0m2.3-.2h0m.1-.4h0m.2 .1h0m.7-2h0m.7 1.6h0m.1 .3h0m.8-.7h0m1.7-.2h0m.1 1.6h0m0-.9h0m36.5 .9h0m4.6-1h0m-47.1 1.7h0m1.7 0h0m.7 .1h0m.1 2.1h0m0-1.2h0m1.2 .2h0m.8-.2h0m27.1-.2h0m1.9-1.1h0m.6 .2h0m.5 1.8h0m2.1-2.4h0m6.5 3h0" stroke="#619CFF" stroke-width="1.5" stroke-linecap="round" fill="none"/>
<path d="M99.4 41.8h0m.9-.1h0m4.5-.7h0m4.7 .4h0m.5-.5h0m1.7 1h0m1.5-.1h0m-9.8 1.4h0m.9-.4h0m5.6-.7h0m.8 .5h0m.1-.1h0m-12.4 10.2h0m.2-.1h0m.3-.8h0m1-.5h0m.4 1.7h0m1-.7h0m.7 1.6h0m.9-.1h0m.5-2.6h0m.2 1.4h0m1 .7h0m.2-1.9h0m1.3 0h0m.4 2h0m.2 .4h0m0-1.7h0m.9 1.3h0m1.1-.5h0m.5 .5h0m0 .3h0m.4-.5h0m.6-.1h0m1 .4h0m1.1 .1h0m-11.2 .8h0m2.6 .2h0m.5 .5h0m1.3 1.3h0m.1-1.2h0m.3 .9h0m1.6 .5h0m.3-2.2h0m1.4 .3h0m1 2.2h0m.2-2.2h0m.3 1.8h0m.1-2.4h0m.2 2.5h0m.1-1.6h0m.8 2h0m-52.8 2.7h0m.4-.1h0m1.4 0h0m.3 0h0m1.9-1.1h0m.1 1h0m1.3 .5h0m.3-.6h0m.3-.1h0m1 .3h0m.5-.8h0m1.3-1h0m.4 2.2h0m1.3-.8h0m2.4 .3h0m.1-.6h0m.5 .2h0m1.5 .5h0m.1 .1h0m29.3-2.4h0m.7 1.7h0m3.4 .8h0m.3-2.5h0m.1-.1h0m2.5 .3h0m.1-.4h0m1 .9h0m.2 1.3h0m2.1-2.1h0m.5 1.7h0m4.4 0h0m1.5 .5h0m2.9-.5h0m0 .2h0m.9 .8h0m4.7 .1h0m-76.6 2.9h0m4.3-2.1h0m.3 .8h0m2.6-1.4h0m.3 1.1h0m2.6-.5h0m.1-.6h0m.2 1.4h0m.1 1.3h0m.7-1.2h0m.4 .9h0m.4-1.2h0m.8 .4h0m.1-.5h0m.8 1.2h0m0-2.3h0m0 2.2h0m.4-.3h0m.2-.7h0m1.1 1.3h0m.4-2.3h0m.4 .8h0m.1 1.2h0m.6-1.5h0m.7 1.3h0m.8 .2h0m1.5-2.2h0m.6 .5h0m.1-.1h0m1.3 1.4h0m.1-.9h0m2 1.9h0m.8-2.1h0m.1-.3h0m.9 .1h0m2.3 .8h0m.3 1.3h0m.9-.7h0m1.5 .4h0m2.5-.6h0m32.9-1.9h0m4.8 1.4h0m.5 .4h0m.8 .6h0m.9 .5h0m3-.3h0m.4-.9h0m.1-.2h0m.6-.1h0m0 1.5h0m.1-1.2h0m1.8-1.2h0m.8 .5h0m.5 1.4h0m.1-.1h0m2.1-1.5h0m.3 1.5h0m0-.5h0m.7-.1h0m.3 1.1h0m1-1h0m1 .9h0m.4-.5h0m1.6-1.1h0m.5 1.4h0m-93.5 1.8h0m1.9 1.3h0m1.4-1.2h0m.3 1.5h0m.2-.2h0m1-1.5h0m0-1h0m.1 2.2h0m1.5-1.9h0m.1 .1h0m.1 .6h0m.4 .7h0m.1 .2h0m1.2 .7h0m.3-1.9h0m.4 1.8h0m0-.3h0m.1-.7h0m.2 .9h0m.5-1.1h0m.2-.1h0m.1 .4h0m.1 .6h0m.6 .5h0m1.4-.7h0m.5-.8h0m.5-1.1h0m1.1 2.1h0m.6-.5h0m.8 .4h0m.2-.4h0m1.2 .9h0m.6-2.5h0m.2 1h0m.7 .4h0m.3-.6h0m.3 .9h0m.1-.1h0m.7-1.8h0m.2 2.6h0m.4-1.7h0m.4 .9h0m.8 0h0m1.1 1h0m.1 0h0m.2-2.6h0m.2 0h0m.1 .6h0m1.6 .8h0m.3-.7h0m0 .3h0m2.8 1.5h0m.3-2.3h0m.1 1h0m.4 1.3h0m3 0h0m3 0h0m1.6-.9h0m2.5-.1h0m.6-1.6h0m.3 1.7h0m.1-.6h0m.4 .6h0m.1 .9h0m.1-1h0m1-.3h0m.3 .6h0m.3-1.2h0m1-.3h0m.7 .2h0m.1 .5h0m1.1 .3h0m1.6 .7h0m.1-.2h0m.9-.6h0m2.6 1.2h0m3-.8h0m.8 0h0m26.1-1h0m2.3-.5h0m.2 1.6h0m0-.2h0m.7 1h0m.2-1.2h0m.1-1.1h0m.5 1.2h0m.8-.1h0m.7-.5h0m.1 1.6h0m.9-.2h0m.4-2.2h0m.5-.2h0m0 1.8h0m.6-1.8h0m.4 2h0m0 .4h0m.3 .2h0m.3-2.1h0m.1 1.9h0m1.1-.1h0m.2-1.8h0m.2 .3h0m.2 1.2h0m.8-.3h0m.1-1.2h0m.4 2.2h0m.4-2.6h0m.1 2.8h0m.9-.3h0m.3-1.1h0m0-.4h0m.7 0h0m-94.9 2.9h0m.5 .8h0m1.1-1.1h0m.8 1.3h0m1.3-1.6h0m.2 .8h0m.5 1.4h0m.4-2.6h0m.7 2.9h0m.2-.9h0m.1-.8h0m.7 1.5h0m1.6 .1h0m1.7-1.8h0m2.4 1.5h0m1.8-1.7h0m.4-.3h0m.2 2.2h0m1-.4h0m0-2.1h0m.5 1.8h0m1.2-2h0m2.5 .4h0m.8 2.3h0m2.1 .1h0m0-1.7h0m1.5 1.7h0m1.2-.7h0m.7-.1h0m.1-2h0m.1 .5h0m.5 .4h0m.4 .2h0m1.8 .6h0m0-1.6h0m2 2.6h0m.6-2h0m.1 .1h0m.4 1.9h0m.2-.7h0m.1 0h0m0-.8h0m.3 1h0m.4 .4h0m.3-1.5h0m1.2-.6h0m.9 .5h0m1 1.2h0m1.9 .3h0m1.4-.9h0m.9 .5h0m1.6 .6h0m.2 0h0m.2-.2h0m.3-1.3h0m.3 .6h0m1.7-1h0m1 1.7h0m.4 .1h0m.4-2h0m.8 1.2h0m1.3-1.2h0m1-.1h0m.5 2.2h0m2.8-.2h0m1-.1h0m.2-1.3h0m2.2-.7h0m9.9 1.4h0m1.4-1.8h0m13.6 .9h0m.3 1.8h0m.1-2.2h0m.2 1.5h0m1.1-.7h0m.5-.3h0m.1 .2h0m.9 .3h0m.1-1.4h0m.3 2.2h0m1-1.9h0m.1 .3h0m.4 1.2h0m1.5-1.3h0m.6-.1h0m.2-.1h0m1.1 2.1h0m.3-.5h0m.2 0h0m.5 .2h0m.1-1.5h0m.1 2.1h0m.7-.3h0m-93.9 3h0m1.5-2.3h0m.6 1.4h0m1.3-.9h0m1.3 1.2h0m.2 .3h0m1.5-1.5h0m1.3 .3h0m2.3 1.4h0m.3-.7h0m.5-1.1h0m.4 1.6h0m2.4-1.7h0m.3 1.9h0m0-1h0m3.4-.9h0m.4-.5h0m2 .6h0m1.2-.2h0m.2 1.3h0m.3-.8h0m.3 .1h0m.4-1.1h0m.8 2.6h0m.9 .3h0m.1-.2h0m.3-2h0m1.5 1.7h0m1.9-.3h0m1.5 .1h0m.2 .5h0m.1-1.1h0m.8 1.4h0m2.2-2.5h0m0 1.9h0m2.3-1.5h0m.3-.3h0m.7 .4h0m1.1 1.1h0m.3-1.6h0m.7 2.1h0m.4-2.5h0m.2 .7h0m.4 2.1h0m.8-2.1h0m.3 1.7h0m.7-.3h0m1.1-.1h0m.6-1.8h0m.6 1.8h0m.1 .3h0m.5-2.2h0m.4 .2h0m.4 1.2h0m.3 1h0m.2-.9h0m1.3 .5h0m.6 0h0m.4-.9h0m1.4 1.3h0m1.1-1.4h0m1.1 .8h0m.4 .1h0m.1 .1h0m.2 .6h0m5.7-.8h0m2.3 .9h0m.6-.1h0m1.1-2.1h0m.3-.3h0m.3 .2h0m.1-.3h0m22 0h0m.4 1.6h0m2.7-1.6h0m0 .8h0m.2 .6h0m.6-.4h0m.4-.9h0m1.5 .2h0m.5 .1h0m.2-.3h0m.9 .6h0m1 0h0m-94.4 3h0m.9 .9h0m.3 .9h0m1.3-.7h0m.1-1.1h0m.9 .1h0m1.4 0h0m.4 0h0m.2 1.8h0m0-2h0m.7 1.2h0m.1-2h0m.9 1.5h0m.6-1.4h0m1.1 .4h0m2.1 .2h0m.1-.2h0m0 0h0m1.9 1.2h0m.3 .6h0m.1 0h0m.3-.6h0m.9 .1h0m1.2 .1h0m.2-1.7h0m1.3 1.8h0m.9-1.9h0m1.4 1.2h0m.5-.4h0m1.4-.4h0m.3 1.8h0m.1-1.1h0m2-.1h0m.4 1.4h0m1.7 .3h0m.1-.4h0m.4-1.1h0m4.3 .5h0m.1 .3h0m.2-.1h0m.2-.3h0m1.1 .3h0m1.3-1.2h0m.1 .1h0m1-.6h0m0 2.1h0m2.9-.5h0m.8-1.6h0m.7 1.2h0m.9 1.4h0m1.8-1.5h0m.2-1.5h0m.3 2.7h0m2.2-1.4h0m1.4-.6h0m.1 2h0m.2-1.9h0m.1 .5h0m.1-.2h0m.4 1.6h0m.2-2.4h0m1.7 .7h0m0 .4h0m.2-1.4h0m.4 2.3h0m.3-.6h0m.6 .9h0m.1 .3h0m.5-2.3h0m2.7-.3h0m.1 1.1h0m.8-1h0m0 1h0m.4 .5h0m.2-.4h0m1.8 .7h0m.2-1.6h0m.4 0h0m1.2 1.2h0m.5-1.1h0m.4 1.3h0m.7 .9h0m1.8-2h0m.1-.3h0m.1 2h0m2.1-2.1h0m3.8 2.5h0m.2-.7h0m.7 .3h0m.2-.5h0m.9 .8h0m.1-.1h0m.3-2h0m-73.9 3.6h0m1.3-.4h0m.5 .6h0m0-.6h0m.7 .3h0m.8 .6h0m1-1.8h0m.3 .1h0m1.9 1.8h0m.1 .3h0m.5-1.5h0m.2 1.9h0m.7-1.4h0m.2-.4h0m0 .5h0m.3 .9h0m.2-1.8h0m.2 .5h0m.3 0h0m.6 .6h0m0-.4h0m.3 .5h0m1 0h0m1.8-1.1h0m.1-.3h0m2 0h0m.2 .4h0m1-.6h0m.8 1.2h0m1-1.1h0m.5 .4h0m.5-.3h0m.3 .6h0m.3 0h0m.2 1.7h0m.2-2.3h0m3.4-.2h0m.6 1.1h0m.4 0h0m.7 1.8h0m0-2.4h0m.7-.1h0m.3 .2h0m.9 .9h0m.1 .4h0m3.2-1.3h0m.8 .6h0m.8-.4h0m1.2 1.9h0m.2-.6h0m2 .4h0m1.2-2.5h0m.5-.1h0m.4 1h0m2.6 1.1h0m.9-.2h0m.3-.5h0m2.3 1.5h0m0-1.9h0m1.5 .7h0m.4-1.4h0m2.2 .7h0m.2 .8h0m.6-1.1h0m.2 .8h0m.4-.8h0m.3-.4h0m.7 2.2h0m.1-.3h0m.4-1.3h0m.7-.5h0m.2 2.6h0m.1 0h0m1.3-.3h0m.5-2.6h0m.5 2.2h0m1.9-.1h0m0-2.1h0m1.3 2.6h0m1.7-1.6h0m0-.8h0m2.5 1.1h0m.2-.2h0m.7 1.6h0m0-1.8h0m.1-.9h0m1.8 .5h0m.1-.3h0m.3-.1h0m.1 1.7h0m7.3-.9h0m8.6 .2h0m.8 .4h0m.9 .8h0m.2 .5h0m.2-1.8h0m1.6 0h0m.4 0h0m.9 1h0m2.5-.1h0m0 .1h0m22.8 .9h0m-113.5 1.6h0m0-.6h0m1.4-.3h0m1.5 .2h0m.2-.2h0m1.2 1.3h0m1-1.3h0m1.3 .3h0m1.2 .6h0m.7-1.6h0m1.9 1.2h0m1.4 .5h0m.2 1h0m1.1-2h0m1 1.9h0m2.6-2h0m2.5 .8h0m2.3 1.4h0m.2-2.6h0m3.7 2.4h0m.4-.6h0m.5-.9h0m.2 0h0m.6 1.6h0m.7 0h0m.4-.1h0m.4-.5h0m.1 .5h0m1.5-2.3h0m.5 .6h0m0 1.4h0m1.4-.4h0m.5 .3h0m.8-1.8h0m.8 1.1h0m1.1-1.3h0m4.9 .8h0m.4 1.5h0m.2-1.6h0m.6 .9h0m.3 .5h0m.1-2.1h0m.1 .5h0m.3 .6h0m.1-.9h0m.4-.1h0m.3-.3h0m.3 2.3h0m.8-.9h0m.8-.1h0m.2-1.1h0m.8 .9h0m.7 1.1h0m.8 .8h0m.3-2.7h0m1.8 1.7h0m.1-.1h0m1.8-1.7h0m1.7 1h0m2.7 1.3h0m1.5-1.3h0m.1 .7h0m.3-1.1h0m0 2h0m2.4-2.6h0m.2 .9h0m.2 .7h0m.4-.2h0m.4-1.6h0m2 2.1h0m.1 .8h0m.5-.2h0m.5-2.7h0m.1 1.6h0m.3 .7h0m.7-.2h0m1.1-1.1h0m23.7-.9h0m19.2 2.4h0m.1 .2h0m.1-.4h0m.1 .6h0m.1-1.2h0m.2-.8h0m1 .7h0m.1-1.5h0m.9 1.7h0m.1 .7h0m0-2h0m.4 .1h0m2 .8h0m1 1.1h0m-116.3 1.9h0m1.4 1.1h0m.6-1.5h0m1.5-.4h0m.3 1.9h0m.3-.9h0m.9 .8h0m.2-.6h0m1.2-.1h0m1 .3h0m.1 .9h0m0-.5h0m.2-1.7h0m.1 .7h0m1.4 .9h0m.2-1.7h0m1.1 .8h0m1 1.3h0m2.3 .1h0m.6-.1h0m2.2 .1h0m.6-1.6h0m1.8 1.3h0m5.1-2.1h0m1.9-.3h0m2.3 2.7h0m.5-.4h0m.1-1.6h0m.9 1.7h0m2.5 .2h0m.8-.1h0m.5-2.5h0m2.2 2.1h0m.6-1.7h0m.6 2.1h0m1.2-2.2h0m0 1.8h0m0-.7h0m1.1 .9h0m.2 0h0m.1-2.4h0m0 1.4h0m2.1 1.6h0m1.1-2.3h0m.3 1.5h0m0-.6h0m.5-.9h0m2.5 1.8h0m2.8 .4h0m.3 0h0m.2-1.6h0m0 .2h0m.2 .9h0m.2-.5h0m1.4-.7h0m.1-1.1h0m1.7 .8h0m0 .9h0m.6 .8h0m1.2-1.8h0m.7 1.2h0m.2-.2h0m.5-.3h0m2-1.5h0m.2 .9h0m.8 1.8h0m.1-2.7h0m.3 1.1h0m2.6-1h0m1.6 2.6h0m.4-1h0m.1-1.6h0m.1 2.2h0m.2-1h0m.4 1.7h0m.7-1.4h0m1-1.4h0m.3 0h0m.1 1.1h0m42.3 .4h0m.4-.7h0m.4-.1h0m.3 .8h0m0 1h0m1.6-2.1h0m.2-.1h0m.1 1.6h0m.1 .4h0m0-2.3h0m.2 1.9h0m.5-.4h0m0 1.1h0m.4 0h0m.1-.3h0m.3-.7h0m.2-1.5h0m.2 1.5h0m.3-1h0m.1 1.5h0m1.1-.7h0m.5 .5h0m.3-.2h0m.2 .4h0m.6-1.8h0m.2 1.8h0m.6-1.5h0m.4-.2h0m.4 .3h0m-121.7 2.5h0m3.3 .1h0m1.4 .1h0m.1-.4h0m.8 1.9h0m.9-.9h0m.9 1.3h0m0 .1h0m.8-.4h0m.8-.6h0m.2-1.3h0m1.2 0h0m0 2.1h0m.1-1.6h0m3-.5h0m.2 2.4h0m.2 .1h0m.4-1h0m.9 .2h0m.1-1.2h0m.2 .2h0m0 1.1h0m.4-1h0m.6 .2h0m.1 0h0m.9-.2h0m.8 .8h0m.1-.2h0m1.1-.9h0m.4-.1h0m3.6 .9h0m1.3-.2h0m1.1 .9h0m.1 .4h0m0-.7h0m.7 .7h0m.1-.2h0m.2 .4h0m0-2h0m.2 1.9h0m2.8-1.3h0m.6 .3h0m.3-1.5h0m.3 1.7h0m0 .4h0m.3-.3h0m1.6-2h0m1.6 1.9h0m.9-1.8h0m.2 .1h0m3.7-.3h0m2.1 1h0m1.3-.9h0m2.7 2.1h0m1.3 .7h0m.4-1.4h0m.3 1.5h0m2.2-2.2h0m1.8 .5h0m.5 .5h0m.1 .6h0m.2 .5h0m.7-1.5h0m.4 .6h0m.7 .5h0m2.4 .3h0m1-2.2h0m.1-.4h0m1.1 2.1h0m1.1-.4h0m.7-1.3h0m.6-.3h0m.4 1.3h0m.2 .3h0m.4-1.7h0m.1 .3h0m1.9 0h0m.7 .4h0m25.7-.2h0m1.8-.5h0m.4 .4h0m1.7 2.3h0m2.6-1.5h0m1.3-.6h0m1.8 .1h0m12 .1h0m.7 .7h0m.3 .3h0m.1-.9h0m.5 1.5h0m.3-.3h0m.8-.3h0m1.7-1.3h0m1 1.8h0m0-1.2h0m.5-.6h0m.2 .8h0m.2-.6h0m0 .5h0m1-.8h0m.8 .8h0m-119.3 3.9h0m.9 0h0m3.8-.2h0m1.1 .3h0m.7-1.3h0m.6-1.1h0m.3 1.6h0m1.7 0h0m.9 .1h0m.4-.7h0m2 1.8h0m.7-.1h0m2.2-1.1h0m2.3-1.1h0m.3-.5h0m.2 .9h0m2.5 .9h0m.4-.7h0m.7 1.4h0m.1-.7h0m.3-.2h0m1.3-1.2h0m1 1.3h0m.3-.3h0m.1 1.5h0m1.4-2.6h0m.4 1.8h0m.5-1.9h0m1.5 .1h0m.3-.2h0m2.3 .2h0m19.4 .8h0m2.5-.8h0m2.5 .7h0m2.1-.7h0m8.8 1.4h0m6.4-.5h0m21.1-1.2h0m5 .5h0m-97.6 3h0m2.9-.2h0m6.6 .1h0m.8 0h0m.5 .8h0m0-.8h0m.2 0h0m0 2.2h0m3.1-.1h0m.7-1h0m1.2-1.1h0m2 .4h0m3.2-.1h0m.2-.5h0m.2 .8h0m1.2-.6h0m36.2 .2h0m.2 .4h0m5.2-.2h0m17.7 1.7h0m.9-.6h0m.6-1.5h0m.3 1.3h0m.2 1.3h0m.4-1.9h0m1.4 1.4h0m.4-.9h0m.1 1.2h0m42-.1h0m-71.1 3.1h0m15.3-2.7h0m8.2 .1h0m.5 2.7h0m.8-1.6h0m0 1h0m2.1-2.1h0m1 1.5h0m1.2-.2h0m.1 1.2h0m42.7-1.9h0m-99.7 5.1h0m1.6 0h0m.1-.2h0m2.4 .1h0m.6-.6h0m1 .7h0m1.1-.7h0m7.6-.2h0m24.3 .1h0m5.4 .7h0m.5-1h0m3.9-.7h0m1.9 1.2h0m.4-.5h0m.2 1.1h0m.5-.1h0m1.5-2h0m1.2 1.3h0m.1-1h0m1.1-.9h0m2.1 0h0m.9 2.6h0m1.9 .1h0m.4-.8h0m2.4-1.3h0m.1 1.3h0m1.5 .2h0m1.2 0h0m.4-1h0m-87.2 4.2h0m.1-1.2h0m.2 1.5h0m1.5 0h0m.7-.7h0m0 .3h0m7.6 .6h0m1-.3h0m4.7-1.1h0m1.2 .2h0m1-1h0m0 .4h0m.5-.8h0m.6 1.5h0m.5 .8h0m3.5-2.2h0m2.6 1.9h0m.1-1.8h0m.4 .6h0m.3 .6h0m.2-.8h0m0 .3h0m.9-.2h0m4.6 .4h0m.6 .8h0m.6 .2h0m2.5-1h0m2-1.2h0m2 1.6h0m1.7-1.3h0m.8 2.2h0m.3-.3h0m.8-1.2h0m2.2 1.4h0m4.2-.7h0m4.9 .3h0m9.1 0h0m1.9-1.8h0m.7 2.1h0m1-1.6h0m1.6-.7h0m.1-.1h0m.1 1.8h0m.1-.5h0m1.1 .1h0m.2 1.2h0m.1-1.5h0m0 0h0m.4-.3h0m.3 0h0m.1 1.9h0m.7-2.2h0m.7 1.1h0m1.4 1h0m.2-2.7h0m.7 .3h0m1.6 2h0m.4-.7h0m.4 1h0m.4-1.5h0m2 .1h0m.1-1h0m.3-.2h0m.1 1.6h0m.1-1.5h0m.2 .6h0m.4 .1h0m.2 .9h0m.6-.5h0m.4-.4h0m.1-.7h0m.7 2.1h0m.4-1.3h0m3.2 .1h0m.7 .1h0m.7-.5h0m.8 .2h0m.3 .6h0m.1 .2h0m0 0h0m0 0h0m.8 .2h0m.9-1.5h0m.4 .9h0m1.2 1.3h0m-113.2 1.4h0m.4 .5h0m10.8-.2h0m.7 .7h0m7.6-.6h0m5.9-.3h0m.2 .9h0m0-.4h0m.1-.1h0m.5 .9h0m.5-.1h0m2.8-.1h0m.4 .8h0m1.3-2.9h0m1 2.7h0m1-1.1h0m6.6-1.5h0m.1 0h0m.1 .4h0m.3-.4h0m.2 .3h0m.8 .4h0m.2 2.1h0m.9-.2h0m.7-2.4h0m3.1 2.4h0m0 0h0m.3-.5h0m1.4 .3h0m6.1 .2h0m1.2-2.3h0m2.4 2.1h0m2.2-2h0m2.8-.5h0m.2 .4h0m.9 1.8h0m1.4-.9h0m.1 .6h0m1-.7h0m4.9 .2h0m.3-.1h0m2.5 .8h0m.9 .7h0m.5-.5h0m1.9 .4h0m6.1-.7h0m.6-1.7h0m.3 2h0m1.4 .3h0m1.9-1h0m.2 .1h0m.1 .7h0m1-2.3h0m.3 1.6h0m.2-1.4h0m.8 .1h0m.3 .6h0m2.1 .5h0m.1 .6h0m.4 .1h0m.6-.3h0m0 .4h0m.9-1.4h0m0-.3h0m.4 .9h0m.5-.1h0m.1-.6h0m.2 1.6h0m.8-.8h0m1.9 .7h0m.6-1.4h0m.3 1.5h0m.7-.1h0m.6-2.1h0m.6 .9h0m.1 1.3h0m1.6-.8h0m0 .6h0m.4-.2h0m.3 .6h0m.1-.3h0m.2-.2h0m.6-1h0m.5-.4h0m.2 1.3h0m.4 .6h0m1.6-2.1h0m1 .3h0m.2-.3h0m1-.6h0m0 1.2h0m.9 0h0m.2-1.1h0m.2 2.5h0m1.4-.3h0m0-1.1h0m2.3 1.2h0m0-.2h0m.3 .5h0m-97.2 1.1h0m2.6 1.4h0m.3-1.5h0m.5 1.7h0m2.1-2.2h0m.7 2.2h0m.6-.4h0m2.8 .1h0m2.6-1.2h0m2.1-.1h0m.1-.7h0m.1 0h0m1.6 .8h0m.4 1.7h0m6.9 .1h0m.5 .1h0m4.4-.5h0m.8-1.2h0m.3-1h0m.1 1h0m.9-.3h0m.3 .5h0m.8 1.4h0m.8-.2h0m.6-2.1h0m1.2 1.4h0m.7 1.1h0m.1-1.2h0m.5-.4h0m.6 .2h0m1.5 .3h0m1.3 .4h0m.3 0h0m1.1-.9h0m.1 .3h0m1.4 1.3h0m1.9-1.1h0m.4-1.4h0m1.7 1.3h0m1.7-.8h0m1.1-.5h0m.8-.1h0m.8 .8h0m.6-.5h0m.7 1.9h0m.2-1.2h0m.4-1.3h0m.5 2.6h0m1.6-1.6h0m11 1.3h0m.4-.5h0m2.1 .7h0m.5-.4h0m.5-1.7h0m1.2 1.6h0m1.1-1.6h0m0 0h0m.9-.1h0m.3 2.1h0m1 .3h0m.4-.8h0m.3-1.1h0m3.9 .7h0m1.2 .7h0m.3 .2h0m1-.7h0m1.8-1.4h0m.7 1.1h0m0 .9h0m.4-1.4h0m.1-.9h0m.1 1.8h0m.2-1h0m.7 .4h0m.2 1.3h0m.6-1.3h0m.3 1.5h0m.6-2.5h0m.2 2.4h0m1.3-2.3h0m.4 2h0m2.1-.9h0m.4 1.4h0m.9-1.8h0m.6-.6h0m.1 .2h0m1.2 .9h0m.5-.1h0m.5 1.2h0m.2-1.5h0m.1 .9h0m2.2-.6h0m.1-1.3h0m11.5 2.2h0m-107 .9h0m2.3 .3h0m1.5 .8h0m1.7 .6h0m0-.6h0m.4 .7h0m2.3-.4h0m3.7 .8h0m4-1h0m.2-.8h0m.3 .4h0m.2 1h0m.1-1h0m.3-.9h0m1.8 1.3h0m.7 .6h0m0-1.6h0m1.3 .5h0m.8 1.3h0m.3-.2h0m1.2 .7h0m2.2-1.1h0m.3 1.4h0m7.1-1.4h0m.1-1h0m.1-.5h0m.8 1.9h0m.8-.1h0m.1-1.1h0m.1 .2h0m.9-.9h0m2.2 1.6h0m2.3-1.7h0m.1 2.7h0m2.1-.1h0m3.2-2.3h0m8-.1h0m1.1 .1h0m8.1 2h0m1.1 .3h0m.6-2.3h0m1.4 2.7h0m2.2-2h0m.5 1.3h0m.2-1.5h0m.6 .2h0m.3 1h0m.3 .6h0m.1-2h0m1 1.9h0m.7 .1h0m.3-.3h0m.6-1.2h0m.3 1.2h0m.3-.1h0m.3-.2h0m1.3 .4h0m.7-1.3h0m1.1-.6h0m.2 1.4h0m0 .1h0m.4 .5h0m1.1 0h0m.2-.7h0m1 .6h0m.6-1.3h0m.1 1.4h0m.4-.8h0m1.1 .4h0m0-.2h0m.2-.6h0m.4 1.6h0m.9-1.6h0m.6 .7h0m1.3-1.6h0m1.4 1.5h0m.7 .4h0m.1 .5h0m.1-.8h0m.5-.7h0m.7 1.3h0m1.3-.1h0m.3 .1h0m0-2.5h0m1 2.6h0m.3-1.8h0m.2 .6h0m.5 .5h0m1.2-.1h0m.1-.1h0m17-1.4h0m.9 .1h0m-109.8 3.4h0m.7 .7h0m.5 .9h0m.1-.4h0m.2-1.6h0m1-.1h0m3.5 .7h0m5.3 .2h0m.5-.6h0m2.3 .9h0m0-1.4h0m3.7 .6h0m.3 1h0m.2-1.1h0m1.3 .1h0m1.1 1.7h0m3.7-.3h0m.9-1.2h0m0-.3h0m.6 .9h0m.1 .2h0m.4 1h0m.4-1.8h0m.1 .8h0m0-1.7h0m.9 2.6h0m.8-1.2h0m1.5 1.4h0m1-2.9h0m2.5 .9h0m0 .5h0m1.1-.3h0m1 1.4h0m0-1.2h0m.6 .8h0m1.3-.1h0m.3-.5h0m.8-.7h0m.3-.7h0m.1 .2h0m.9 1.2h0m.1 .9h0m1.7 .6h0m.5-.4h0m.2-.7h0m1-1h0m.2 .7h0m1.7 .4h0m13.6-.4h0m.5 .8h0m.4-1.5h0m0 1h0m.2-1.6h0m.6 2.3h0m.2-.5h0m.4 .8h0m.5-.3h0m.6-2h0m.1 2.2h0m0-.6h0m.4-.1h0m.1-1.8h0m.8 2.1h0m.9-2.1h0m1.2 2.5h0m0-.2h0m.4-.7h0m.4-1.5h0m.3 1.8h0m.3-1h0m1.2-.9h0m.2 .3h0m.4 .2h0m.3-.2h0m.2 1.2h0m.1-1.1h0m.1-.4h0m.3 1.9h0m.1-1.8h0m.1 2.2h0m.7-2.2h0m.3 1.7h0m.9-1.2h0m.2-.2h0m0 2.2h0m2-1.6h0m.8-.8h0m.9 .8h0m1.2 .4h0m.4 .3h0m.9 .5h0m.1-1.2h0m.1 .5h0m0 .7h0m0 .1h0m.9 .1h0m.1-.4h0m.6 .2h0m.1-.9h0m.1-.2h0m.2-1.4h0m.6 1.6h0m.9-1h0m.5-.4h0m.1 0h0m.3 .4h0m0-.3h0m.5 .3h0m.1 1.5h0m.6-1.7h0m1.2 .7h0m.8 1h0m.6-1.6h0m.2 1.1h0m1.7 1.1h0m.9-2.4h0m1 2.1h0m.6-.4h0m.8-1h0m.2 .7h0m.5-.1h0m0-.8h0m.6 .7h0m-96.1 4.5h0m2.1-2.3h0m1.4 1.6h0m.1 .3h0m12.3 .2h0m1.6 .2h0m.3-2.8h0m1.4 1.5h0m.2-1.2h0m0 2.3h0m.5-1.7h0m.4 .4h0m.2 1.4h0m.6-2.5h0m.3 1.6h0m2-1.5h0m0 .8h0m1.8-.6h0m1.6-.6h0m.2 .8h0m.8 0h0m3.1-.7h0m.2 .8h0m.9 .1h0m.9 .1h0m.1-.6h0m4-.2h0m1.5 2.5h0m.4-.4h0m1.2-2.2h0m1 2.6h0m3.2-2h0m.4 1.4h0m.5-2.3h0m2.1 1.8h0m11.6 1.2h0m.7-.8h0m1.7 0h0m.1 .1h0m.5 .5h0m.5-1.3h0m0 1.1h0m.5-2.1h0m.2 1.7h0m.5 0h0m.1-2.2h0m.6 .5h0m.3 1.3h0m1.3-.4h0m.4-.5h0m.3 1.4h0m1.9-2.1h0m0 .6h0m.5-.6h0m.9 2.5h0m.2-.9h0m0-1h0m1 1.8h0m.1-1.8h0m.5 .6h0m.3-.4h0m.1 1.6h0m.1-2h0m.1 1.8h0m1.6-1h0m.5 1.1h0m.4-.4h0m1.2-2h0m.4 .4h0m.8 2.4h0m.1-2.6h0m.6 .2h0m.2 0h0m.1 2.1h0m.2-2.3h0m.6 2.5h0m.5-1.2h0m0-1.3h0m.1 1.1h0m.3 .7h0m.2-1.5h0m.9 .7h0m.1 1.2h0m1.3-.3h0m.5 .3h0m1.1-1.1h0m.9-.7h0m1.4-.4h0m.1 .4h0m.5 .1h0m1.1 1.7h0m.8-1h0m.4 .8h0m.1 .1h0m.2 .4h0m.8-.3h0m.7-.7h0m.6-1h0m.6 1.2h0m.7-1.5h0m.2 .9h0m.5 .8h0m.8-1.9h0m.3-.1h0m.3 .8h0m.3-.7h0m.1-.2h0m.3 1.1h0m.2-.6h0m-95.4 2.6h0m.3 1.3h0m.2 .4h0m0-.3h0m1.4-1.1h0m1.1 1.3h0m1.5 .3h0m.1-.6h0m1.7 .8h0m.1 .5h0m12.8-1.2h0m.4-1.5h0m.3 .7h0m.4 .8h0m.1 0h0m.2 1.4h0m2.3-1.1h0m.5-.3h0m1.2 .3h0m1.6 0h0m.1 .9h0m.2-1.6h0m.4 1.7h0m.3-2.9h0m.4 2.5h0m.6-1.5h0m.1-.5h0m0-.2h0m1.6 2.7h0m.3-.9h0m.1-1.2h0m.1 1.8h0m.4 .2h0m.1-2.9h0m.9 1.9h0m.6-.3h0m1.6-.3h0m2.7-1.2h0m.6 .2h0m1.5 .1h0m2.9 .1h0m10.6 1.9h0m.2-.1h0m1.3 .6h0m1.2-1.9h0m.1 .4h0m1.3-.8h0m.1 .6h0m.2 .2h0m.4-1.4h0m.8 .3h0m.2 2.2h0m.4-1.7h0m.2 .7h0m.7 .4h0m.9-1.3h0m.4 2.1h0m.1-1.1h0m0-.8h0m.4-.1h0m.2 .8h0m.2-1.3h0m.3 1.5h0m0 .7h0m.4-.6h0m1 .4h0m5-1.3h0m.3 .4h0m.4 1h0m.2-.1h0m0-1.9h0m.3 2.3h0m.7-1.5h0m1.7 .6h0m.3 .3h0m0 0h0m.7-1h0m.6-.8h0m.4 2.4h0m.8 .3h0m.1-1.3h0m1.3-.3h0m1.4-1h0m0 .8h0m.1-.5h0m.1-.2h0m.1 1.9h0m0-1.7h0m.2 .1h0m1 2.1h0m.6-.7h0m.1-1.6h0m.3 1.6h0m.4-1.8h0m.4 2.1h0m.7-2h0m.9 .4h0m.2 1.2h0m.8-.2h0m.2-.8h0m0 1.9h0m.8-2.3h0m.7-.2h0m.1 1.9h0m1.1-2.1h0m.2 .7h0m1.8-.5h0m1.3 2.5h0m.9-2h0m1.7 .3h0m3.2 1.1h0m.1-2.3h0m.2 1.7h0m4.5 1.2h0m-99.6 1.7h0m.5-1.3h0m.1-.2h0m5.6 2.8h0m.7-1.4h0m19-.7h0m3.8 0h0m.9 0h0m.5 .2h0m20.7 1.7h0m1.5 .1h0m1.3-.4h0m.5-.5h0m.8 0h0m.5-.1h0m.3 .7h0m.7-2.3h0m3.5 1.6h0m.1 .3h0m.2-1.6h0m3.3 .8h0m.5 .3h0m1 1h0m.4-.5h0m0-2h0m.3 1.3h0m1.8-.6h0m.4-.5h0m1.6 .2h0m.1 1.4h0m.2 .1h0m.7-1.9h0m.1 2.4h0m1.6-1.5h0m1.9 1.1h0m1.2-.8h0m.3-.8h0m.1 .5h0m.1-.8h0m1.4 1.3h0m.4-1.3h0m.6 .6h0m.5 .5h0m.3 .2h0m1.3-1h0m.8 .3h0m.2-.6h0m.1 1.9h0m.3 .8h0m.3-1.4h0m3.1 .9h0m.2-2.4h0m.1 .9h0m.3-.5h0m.7 .8h0m1.6 1.8h0m.5-.4h0m.4-.4h0m.2 .6h0m.6-1.7h0m.2-1h0m.2 .9h0m1.1 .6h0m-91.6 2.3h0m1.1 .1h0m.3 .5h0m1.2-.2h0m2.1 .1h0m.2-1.3h0m.4 .2h0m1.9 2.2h0m0-2h0m.5 .7h0m2.2 1.2h0m.1-1.4h0m.6-.1h0m.8 2h0m1.8-.2h0m12.9-.7h0m4.2-.2h0m.4-1h0m.9 .2h0m.9 .8h0m18.4-.7h0m.3-.7h0m4.4 .9h0m.2 1.4h0m.8-1.5h0m0-.1h0m9.3-.3h0m2.6-.8h0m4.6 1.1h0m2.4-.2h0m1 .4h0m.5 0h0m.9-.7h0m1 .5h0m0 .2h0m.8-.5h0m.5 .9h0m.5-1.3h0m.1-.2h0m1.1 1.3h0m.6-.6h0m.1 1.4h0m1.6 0h0m.1-1.2h0m.1 .1h0m.5 .1h0m.5 1.1h0m.7-2h0m.6 2.1h0m.1-2.2h0m.8 1.8h0m.1-2h0m.1 .6h0m.1 1.3h0m.1-.2h0m.5-.7h0m.4-.2h0m.4 .4h0m0 .7h0m.2 .8h0m.2-2.3h0m1.3 2.4h0m.5-.7h0m1.4-1.6h0m-90.3 3.7h0m.5 .8h0m.3-.3h0m.2 1h0m.3-2.8h0m1.7 1.4h0m.5 .5h0m.6-.9h0m1 1.6h0m.3-1.4h0m1.1 .6h0m.1-.6h0m.1 1.1h0m.3 .1h0m.7-1h0m.4-.2h0m1.2 1.5h0m.2 .3h0m.1-.7h0m.2-1.9h0m14 0h0m2.3 .2h0m5.5 .1h0m44.1-.2h0m1.7-.2h0m.4 1.7h0m1.6-.5h0m.7-1.4h0m1.9 2.3h0m.5-.9h0m1.5 .5h0m.4 0h0m.2 .2h0m.7-.6h0m1.5-1.5h0m.1 2.9h0m.8-.4h0m.5-.6h0m1.3-1.4h0m-87.5 2.9h0m1.2-.2h0m.8 1.3h0m.3 .8h0m.1-2.2h0m1.1 .1h0m1.2 .3h0m.7 .3h0m1.2 .3h0m66.6 .5h0m.1 .6h0m.7-2h0m.9 1.9h0m.1 .1h0m.8 0h0m.3 .5h0m1.2-.1h0m0-1.8h0m.6 .8h0m.2-.5h0m0-.8h0m.2 .3h0m.6 .9h0m.2-.5h0m.7 .9h0m.7-1.9h0m1.3 1.3h0m.7 .6h0m.2-1.7h0m.2 .6h0m1.3 1h0m2-1.8h0m.3 2.2h0m0-1.7h0m.2 2.1h0m.3-1h0m.3-.8h0m.2 1.9h0m.1 0h0m.8 0h0m-27.1 3.1h0m2.8-.1h0m3.8-.9h0m0-1h0m.4 1.5h0m.1-.4h0m.7 .7h0m.5-1.9h0m.3 2.1h0m.9-1.5h0m0-1h0m.2 1.5h0m.2-.3h0m.2 .4h0m.8 .3h0m.1-1.1h0m.2 1.1h0m0-2.1h0m.3-.1h0m.1 1.9h0m.7-1.7h0m.1-.3h0m1 2.1h0m.1 .4h0m.7-.2h0m.1 .4h0m.9-1h0m.1-1.2h0m.5-.3h0m.2 2.5h0m.7-2.5h0m1.1 .4h0m1.8 .7h0m.3 1.5h0m2.1-1.8h0m1.5 0h0m.2 .2h0m.2-.1h0m.1 .2h0m.5-.4h0m.4 .2h0m.3-1h0m.5 2.3h0m.9-2h0m.9-.3h0m.6 .6h0m-29.8 4.7h0m.1-.4h0m1.5 .5h0m.2-.8h0m.6 .9h0m2.2-.3h0m.2-.9h0m.4-.9h0m.2 1.6h0m.4-.7h0m.3-.7h0m.3-.7h0m.2 1.7h0m.8 .1h0m.3-.7h0m0 1.5h0m0 .2h0m.2-.2h0m.8-1.2h0m1-.3h0m.5 1.1h0m1.1-1.7h0m.3 .4h0m.1 1.5h0m.8-1h0m.5 1h0m.5-1h0m.3-1.4h0m.3 .4h0m.7 1.7h0m.2 .2h0m.6-.4h0m.1-1.4h0m1.2 .1h0m1.2 .1h0m1.1-.5h0m.6 1.1h0m1.2 1h0m.3-1.5h0m.4-.2h0m.8 1.8h0m0-2h0m.6 .6h0m.6 .5h0m.7-.5h0m.1-.3h0m.4-.3h0m1.3 1.1h0m-23.3 1.8h0m12.7-.2h0m2.7 .1h0m.7 .2h0m.3 .7h0" stroke="#F8766D" stroke-width="1.5" stroke-linecap="round" fill="none"/>
<path d="M109 55.6h0m1.9 2.9h0m-35.1 3.1h0m1.7 .4h0m.1-.1h0m.2-.3h0m.3 0h0m-25.2 6.8h0m6.8-1.1h0m.1 .6h0m.2-1.1h0m.2 1.9h0m.2-.7h0m25.2-1.3h0m.8 .1h0m.3-.1h0m.3-.1h0m1.2 0h0m1.5 0h0m.5-.1h0m1.1 1.8h0m.2 .1h0m5.4-.2h0m-39.9 3.7h0m3.6-.2h0m35.1-.3h0m2.9-1h0m-53.2 3.1h0m7.2 0h0m0 0h0m.6 .2h0m41.8-1h0m.3 .9h0m.1-.8h0m-41.3 3.8h0m.5-.5h0m29.1 1.9h0m-40.5 2.1h0m21-.3h0m10.4 .1h0m8.6-1.8h0m.1-.1h0m.1 .2h0m.5-.1h0m-10.1 4.9h0m.1 .3h0m.2-.2h0m0-.1h0m.1 .1h0m28.7 .1h0m-28.8 1.2h0m9.7 3.8h0m28.9 1.7h0m-11.8 1.3h0m.1 .1h0m.1 .1h0m.2-1.1h0m.3 1.1h0m0-.1h0m0 0h0m.1 .2h0m.3 0h0m5.2 .4h0m-18 2.5h0m.6 .8h0m0-.4h0m.3-.7h0m.1-.1h0m-27.2 4.8h0m28.1-.9h0m.7 .4h0m-30.4 1.4h0m.6-.1h0m3.4 2h0m.1-.5h0m.2 .4h0m43.6 3.5h0m1.6-2.2h0m.9 .4h0m-41.1 4.4h0m10.8-1h0m.1-.2h0m.1 .2h0m0-.3h0m13.3 1.6h0m.2 0h0m-44.5 .7h0m.2-.3h0m18.8 .7h0m.3 .8h0m0-1.3h0m.4 1.5h0m.3-.8h0m.4-.8h0m9-.3h0m.2 .9h0m.2-.8h0m.1 .1h0m14.5 0h0m.2 .2h0m-6.1 2.9h0m.6-.3h0m40.3 2.4h0m.1 0h0m9.6 2.5h0m-38.3 3.1h0m1.2 .4h0m.6 .4h0m14.8-1.9h0m0-.1h0m.2 0h0m.3-.3h0m-15.3 2.7h0m.9 1.5h0m.3 .4h0m.2 .4h0m.2-1.5h0m0 .3h0m.3 .4h0m0 .8h0m.2-1.4h0m.4-.3h0m.3 .2h0m0 .7h0m.2 1h0m.1 .2h0m.2 0h0m.3-1.4h0m.2-.1h0m9 .8h0m.2 .3h0m.3 .1h0m0-.4h0m.5 .2h0m-72.6 3.4h0m.5-.6h0m60.1-2.2h0m.6 .1h0m-60.8 4.1h0m.6 .2h0m9.3-.8h0m.5-.1h0" stroke="#fff" stroke-width="1.1" stroke-linecap="round" fill="none"/>
</g>
<text x="94" y="33.2" font-size="4.7" font-weight="bold" text-anchor="middle">group</text>
<text x="94" y="149.8" font-size="4.05" text-anchor="middle">tSNE_1</text>
<text transform="translate(12 90.6) rotate(-90)" font-size="4.05" text-anchor="middle">tSNE_2</text>
<circle cx="179.3" cy="86.70" r="1" fill="#F8766D"/>
<text x="183.7" y="87.85" font-size="3.3">HC</text>
<circle cx="179.3" cy="91.45" r="1" fill="#00BA38"/>
<text x="183.7" y="92.60" font-size="3.3">RA</text>
<circle cx="179.3" cy="96.20" r="1" fill="#619CFF"/>
<text x="183.7" y="97.35" font-size="3.3">SLE</text>
<g id="panelB">
<path d="M239.5 63.0L241.5 60.5L244.8 58.2L248.0 56.0L252.2 54.5L257.2 52.6L262.0 53.0L264.0 54.0L268.0 55.5L271.5 57.0L276.0 58.0L280.2 58.9L285.0 60.0L289.0 61.4L291.5 63.5L292.0 65.8L291.5 68.5L290.9 70.8L290.0 73.5L289.0 75.8L288.0 78.0L286.5 79.5L283.5 81.5L280.2 83.0L276.0 84.0L271.5 83.5L267.5 82.0L264.0 80.8L260.4 80.4L257.8 79.2L255.3 76.5L252.8 74.3L249.3 72.5L245.3 70.5L242.4 68.4L240.5 66.5Z" fill="#F8766D" opacity="0.72" stroke="#fff" stroke-width="1.5"/>
<path d="M230.4 82.0L231.0 78.0L231.5 75.8L233.0 73.0L234.8 70.8L236.5 69.0L239.0 67.5L241.6 67.7L245.4 68.7L248.7 70.2L251.2 72.7L253.0 75.0L255.7 77.7L258.0 80.0L258.5 82.5L256.0 84.0L252.0 85.5L248.0 86.5L244.0 87.5L240.0 88.2L236.0 88.0L233.0 87.0L231.0 85.0Z" fill="#D39200" opacity="0.72" stroke="#fff" stroke-width="1.5"/>
<path d="M236.0 100.5L236.8 98.0L237.9 96.1L240.0 95.3L242.2 95.5L244.0 97.0L246.0 99.2L247.2 96.8L249.5 94.5L252.2 93.0L255.0 91.8L258.5 91.1L262.0 91.0L264.0 91.8L267.0 91.8L270.2 91.8L273.5 93.0L276.5 94.2L280.0 95.0L284.0 95.5L287.0 96.3L289.5 97.8L288.0 99.5L286.5 101.8L284.0 103.5L281.5 105.5L279.5 107.5L277.8 109.2L275.0 111.0L272.8 112.4L270.0 113.5L267.8 114.2L264.0 115.8L259.0 115.8L254.8 114.9L252.0 113.5L249.8 111.8L248.3 109.0L247.2 106.8L246.7 104.0L244.8 105.5L243.0 107.3L241.0 108.0L239.0 107.5L237.2 106.8L236.2 104.0ZM267.2 119.2L266.9 119.9L266.1 120.5L264.9 120.9L263.5 121.0L262.1 120.9L260.9 120.5L260.1 119.9L259.8 119.2L260.1 118.5L260.9 117.9L262.1 117.5L263.5 117.4L264.9 117.5L266.1 117.9L266.9 118.5Z" fill="#93AA00" opacity="0.72" stroke="#fff" stroke-width="1.5"/>
<path d="M236.0 108.6L238.5 108.2L241.0 109.2L242.0 111.0L242.9 113.0L244.3 115.0L246.0 116.8L248.0 118.0L249.8 119.2L250.0 121.0L249.0 123.0L247.5 124.5L245.4 125.5L243.0 125.3L241.0 124.2L240.0 122.5L239.1 120.5L238.0 118.0L237.2 115.5L236.5 113.5L236.0 111.8Z" fill="#00BA38" opacity="0.72" stroke="#fff" stroke-width="1.5"/>
<path d="M270.0 90.6L274.0 88.3L277.8 87.0L281.0 85.0L285.2 83.2L288.5 81.8L291.5 80.8L295.0 80.0L296.5 82.0L295.8 85.8L294.0 88.6L291.6 90.8L289.2 93.0L287.0 94.7L283.5 95.4L280.2 95.3L276.3 94.3L272.5 92.8Z" fill="#FF61C3" opacity="0.72" stroke="#fff" stroke-width="1.5"/>
<path d="M279.0 114.9L281.5 112.4L285.2 109.9L287.5 107.5L289.0 105.5L290.3 103.0L290.9 100.5L291.5 98.0L292.1 95.5L293.0 93.7L294.0 92.4L297.0 91.8L300.2 91.8L303.0 92.3L305.2 93.0L307.5 91.5L310.2 90.6L313.0 91.8L315.2 93.8L317.5 96.0L319.0 98.8L318.0 102.0L316.5 105.0L317.8 107.5L318.4 110.0L317.5 113.0L316.5 116.2L316.0 119.5L315.2 122.5L316.8 124.8L317.8 126.9L316.0 128.8L314.0 130.0L311.5 131.8L309.0 133.1L304.0 132.5L301.5 131.8L297.5 132.5L294.0 132.4L291.0 132.0L289.0 131.1L291.5 129.3L294.5 127.8L297.8 126.8L300.5 125.3L302.5 124.0L304.0 122.4L302.3 120.6L300.2 119.2L297.5 118.0L295.2 117.4L292.0 117.8L289.0 118.6L286.5 119.2L284.0 119.2L281.5 118.5L279.0 117.4L278.3 116.0Z" fill="#00C19F" opacity="0.72" stroke="#fff" stroke-width="1.5"/>
<path d="M275.3 128.6L275.1 129.6L274.5 130.4L273.5 130.9L272.4 131.1L271.3 130.9L270.3 130.4L269.7 129.6L269.5 128.6L269.7 127.6L270.3 126.8L271.3 126.3L272.4 126.1L273.5 126.3L274.5 126.8L275.1 127.6Z" fill="#00C19F" opacity="0.72" stroke="#fff" stroke-width="0.4"/>
<path d="M296.7 70.6L296.3 71.5L295.7 72.1L295.0 72.5L294.3 72.4L293.8 72.1L293.5 71.4L293.5 70.5L293.7 69.6L294.1 68.7L294.7 68.1L295.4 67.7L296.1 67.8L296.6 68.1L296.9 68.8L296.9 69.7Z" fill="#00C19F" opacity="0.72" stroke="#fff" stroke-width="0.4"/>
<path d="M320.5 87.4L323.6 89.5L326.5 92.9L328.5 95.4L329.5 94.6L327.5 92.1L324.4 88.5L321.3 86.4Z" fill="#00C19F" opacity="0.72" stroke="#fff" stroke-width="0.4"/>
<path d="M326.0 103.2L329.0 102.9L332.7 103.4L332.8 102.2L329.0 101.7L325.8 102.0Z" fill="#00C19F" opacity="0.72" stroke="#fff" stroke-width="0.4"/>
<path d="M321.5 115.0L321.4 115.4L321.1 115.7L320.8 115.9L320.3 116.0L319.8 115.9L319.5 115.7L319.2 115.4L319.1 115.0L319.2 114.6L319.5 114.3L319.8 114.1L320.3 114.0L320.8 114.1L321.1 114.3L321.4 114.6Z" fill="#00C19F" opacity="0.72" stroke="#fff" stroke-width="0.4"/>
<path d="M282.8 48.2L285.0 46.8L289.0 46.4L292.0 47.5L295.2 48.9L298.5 50.0L301.5 51.4L305.0 52.8L308.5 54.2L312.0 55.5L315.0 55.5L318.0 56.5L320.8 58.9L320.5 62.0L318.2 65.8L315.0 66.8L312.0 67.0L309.0 66.0L306.0 64.5L304.0 63.2L304.5 61.0L305.2 58.9L303.5 57.5L301.5 57.0L298.5 57.2L295.2 57.0L292.0 56.2L289.0 55.1L286.5 53.7L284.0 52.0L283.0 50.0ZM301.5 63.0L301.3 63.5L300.8 64.0L300.0 64.3L299.0 64.4L298.0 64.3L297.2 64.0L296.7 63.5L296.5 63.0L296.7 62.5L297.2 62.0L298.0 61.7L299.0 61.6L300.0 61.7L300.8 62.0L301.3 62.5Z" fill="#00B9E3" opacity="0.72" stroke="#fff" stroke-width="1.5"/>
<path d="M283.8 40.5L286.3 39.3L289.1 38.7L291.5 38.4L294.3 38.9L297.2 39.9L299.5 41.0L300.9 42.6L302.1 41.4L300.5 39.6L297.8 38.3L294.7 37.3L291.5 36.8L288.9 37.1L285.7 37.7L283.0 38.9Z" fill="#DB72FB" opacity="0.72" stroke="#fff" stroke-width="0.4"/>
<path d="M306.8 72.2L306.6 72.7L306.0 73.1L305.1 73.4L304.0 73.5L302.9 73.4L302.0 73.1L301.4 72.7L301.2 72.2L301.4 71.7L302.0 71.3L302.9 71.0L304.0 70.9L305.1 71.0L306.0 71.3L306.6 71.7ZM305.9 72.9L311.4 73.6L311.6 72.8L306.1 72.1Z" fill="#619CFF" opacity="0.72" stroke="#fff" stroke-width="0.4"/>
<path d="M301.0 79.5L304.0 78.0L308.0 78.5L312.0 79.5L315.8 81.0L315.0 83.0L311.0 83.5L306.0 83.0L302.0 82.0Z" fill="#FF61C3" opacity="0.72" stroke="#fff" stroke-width="0.4"/>
<path d="M305.0 88.5L304.8 89.7L304.1 90.8L303.1 91.5L302.0 91.7L300.9 91.5L299.9 90.8L299.2 89.7L299.0 88.5L299.2 87.3L299.9 86.2L300.9 85.5L302.0 85.3L303.1 85.5L304.1 86.2L304.8 87.3Z" fill="#F8766D" opacity="0.72" stroke="#fff" stroke-width="0.4"/>
<path d="M331.9 77.3L331.7 78.9L330.4 80.5L328.4 81.7L325.9 82.4L323.3 82.6L321.0 82.1L319.3 81.1L318.5 79.7L318.7 78.1L320.0 76.5L322.0 75.3L324.5 74.6L327.1 74.4L329.4 74.9L331.1 75.9ZM328.5 75.0L328.3 75.8L327.6 76.4L326.6 76.8L325.5 77.0L324.4 76.8L323.4 76.4L322.7 75.8L322.5 75.0L322.7 74.2L323.4 73.6L324.4 73.2L325.5 73.0L326.6 73.2L327.6 73.6L328.3 74.2Z" fill="#FF61C3" opacity="0.72" stroke="#fff" stroke-width="1.5"/>
<path d="M336.4 70.3L336.3 70.6L336.1 70.9L335.8 71.1L335.5 71.2L335.2 71.1L334.9 70.9L334.7 70.6L334.6 70.3L334.7 70.0L334.9 69.7L335.2 69.5L335.5 69.4L335.8 69.5L336.1 69.7L336.3 70.0Z" fill="#FF61C3" opacity="0.72" stroke="#fff" stroke-width="0.4"/>
<path d="M334.2 85.0L337.0 86.9L339.0 89.2L340.2 88.3L338.0 85.7L335.0 83.8ZM337.7 92.0L337.6 92.3L337.5 92.6L337.3 92.8L337.0 92.9L336.7 92.8L336.5 92.6L336.4 92.3L336.3 92.0L336.4 91.7L336.5 91.4L336.7 91.2L337.0 91.1L337.3 91.2L337.5 91.4L337.6 91.7Z" fill="#FF61C3" opacity="0.72" stroke="#fff" stroke-width="0.4"/>
<path d="M222.0 97.7L224.5 100.2L225.0 99.6L222.5 97.1ZM239.7 95.0L239.6 95.3L239.3 95.5L239.0 95.6L238.5 95.7L238.0 95.6L237.7 95.5L237.4 95.3L237.3 95.0L237.4 94.7L237.7 94.5L238.0 94.4L238.5 94.3L239.0 94.4L239.3 94.5L239.6 94.7Z" fill="#619CFF" opacity="0.72" stroke="#fff" stroke-width="0.4"/>
<path d="M232.8 98.3L232.7 98.5L232.5 98.7L232.2 98.9L231.8 98.9L231.4 98.9L231.1 98.7L230.9 98.5L230.8 98.3L230.9 98.1L231.1 97.9L231.4 97.7L231.8 97.7L232.2 97.7L232.5 97.9L232.7 98.1Z" fill="#93AA00" opacity="0.72" stroke="#fff" stroke-width="0.4"/>
<path d="M256.7 52.6h0m1.7 .7h0m.4 .5h0m.7-.7h0m2.3 .4h0m-11.7 3.3h0m1.3-.8h0m1-.2h0m.4 .7h0m0-.1h0m.2-.9h0m.3 .7h0m0-.7h0m0 .4h0m.9 .2h0m.6-.9h0m0-.8h0m.1 1h0m.1 .7h0m.3 0h0m.3 .1h0m.8 .5h0m.6-.4h0m.1-.2h0m2.7 .7h0m.4-1.7h0m0 .1h0m.2 .5h0m0-.2h0m0-.8h0m.2 .1h0m0 2.1h0m.5-2.8h0m.2 0h0m.6 2.3h0m.5-.1h0m.3-.3h0m.1 .6h0m0-2.3h0m0 .7h0m0 1.5h0m.1-.1h0m.1 .2h0m.3 .1h0m.1-1.1h0m.2-.3h0m.4 .2h0m0 .1h0m.3 .5h0m.7-1.4h0m1.4 2.1h0m0-.8h0m.7 .6h0m1.4-.3h0m0-.1h0m1.4 .7h0m-26.2 2.3h0m1.2-.4h0m.1 1.2h0m0-.9h0m.3-.3h0m.2-.6h0m.1 1.8h0m0-.9h0m0-.1h0m1-.2h0m.5 1.2h0m.1-2h0m.3 1.9h0m.1-2.1h0m.3 2.1h0m.1-1.1h0m.4 0h0m0 1h0m.3-.1h0m.2-1.2h0m0-1.2h0m.1 .8h0m0-.5h0m.4 .3h0m.1 0h0m.1-.5h0m1-.4h0m.4 1.1h0m.1 1.8h0m0-1.4h0m.2 1.3h0m.2-1.3h0m.5-1.4h0m.6 1h0m.1-.5h0m.3 1.5h0m.1 0h0m.8 0h0m.1-1.5h0m.1 1.9h0m.3-1.7h0m.1 1h0m.6-1.2h0m0 1.3h0m.3-.5h0m0-1.2h0m1 0h0m.3 .1h0m.1 .2h0m.3-.3h0m.1 1h0m0-.5h0m.1 2.2h0m.1-1.7h0m0-1h0m.2 2.2h0m.1-2.3h0m.2 2.5h0m.2-2.6h0m.5 2h0m0 .9h0m.1-.1h0m.3-2h0m.3 .4h0m.6 .2h0m0 .1h0m.5 .8h0m.2-1.4h0m.2-.8h0m.1 1.7h0m0 .9h0m.1-1.5h0m0 .9h0m.2 .6h0m0-1.6h0m.1 1.7h0m.5-1.3h0m.2 .3h0m.5-.5h0m0-1.3h0m.2 2.8h0m.5 .1h0m.2-1.6h0m.2-1.1h0m.3 .6h0m.3-.4h0m.2 2.1h0m.3-1.6h0m0 .1h0m.7 1.4h0m.3-.6h0m1 1.2h0m.4-2.8h0m.1 .2h0m.6 2.3h0m.5 .1h0m.7-.3h0m.1-2.1h0m.2 0h0m.1 1.2h0m0-.3h0m.6-1.3h0m.1 3h0m0-2.1h0m.3 1.5h0m.7-.9h0m1.1 .7h0m.8 .4h0m.5-.4h0m.8 .6h0m.2-.7h0m.5-.8h0m2.3 .2h0m6.3 1.3h0m-42.6 2.6h0m.8-.4h0m.8-1h0m0 .7h0m.6-.4h0m.9-1.3h0m.2 .5h0m.3 1.7h0m.1-.7h0m.1 1.5h0m.4-3h0m.1 1.9h0m.1-1.8h0m.3 2.5h0m.6-1.7h0m0 .3h0m.1 .7h0m.2 0h0m0-.8h0m.2 1.3h0m.6-1.7h0m0 .1h0m.2 1.7h0m.1 .1h0m.2-2.4h0m.3 .6h0m.6 1.7h0m.2-1.1h0m.2-.9h0m.1 1.4h0m.2 .6h0m.3-2.2h0m0 1.9h0m.1-2.2h0m.5 3h0m.1-1.9h0m.1 .5h0m.1-1h0m.9 1.6h0m.4 .8h0m0-1.1h0m.3 .2h0m0-1.2h0m.5-.5h0m.4 0h0m.3 .8h0m0 1.1h0m.3-1.2h0m.2 1.1h0m.4 .6h0m.1-.8h0m.1-2h0m.3 .2h0m.2 .9h0m.6 1.3h0m.1-.8h0m.1 .3h0m0-.1h0m.1-1.3h0m.2 2.5h0m.1-2.2h0m.2-.7h0m.9 .2h0m.5 1.9h0m1.1-1.5h0m1.2-.5h0m.1 1.1h0m0 1.6h0m.3-1.3h0m.8 .1h0m0-.5h0m.5 1.3h0m.4-.4h0m.1-.9h0m0 1.4h0m.1-2.1h0m.7 1.9h0m.1-.6h0m.1 .6h0m.1-1h0m.3 1.3h0m.1-.9h0m.1 1.1h0m.4-2h0m.6 .7h0m0 .2h0m.4 .6h0m.3-.7h0m.3-1.1h0m.1 1.2h0m.4-1.1h0m.1 2h0m.2-.5h0m.1-1.7h0m.2 1.5h0m.3-1.2h0m.3 .2h0m.1 1.6h0m.3-.8h0m.2-.2h0m.2-1.4h0m.3 2.3h0m.5 .2h0m.4-1.3h0m.3-.8h0m.6 .9h0m.2-.7h0m.2-.3h0m0 1h0m0 1.3h0m.8-2.3h0m.2 .2h0m0-.1h0m.5 1.5h0m.6-1.4h0m.7 1.4h0m.2-.5h0m.1-1h0m.3 1.8h0m.2-2h0m0 1.9h0m.2-1.6h0m.1-.6h0m.1 .8h0m.2-.3h0m.1 1.1h0m0-.2h0m0 1.1h0m.1-2h0m.2 1.7h0m.1-2.2h0m.2 1.8h0m.2 .3h0m.3-.3h0m.1-1.1h0m.4 1h0m.2-.3h0m.2-.3h0m0 .7h0m.1-1.8h0m.6 1.5h0m.3-1.5h0m.1 1.9h0m.1 .6h0m.6 .4h0m.1-.4h0m.7-.2h0m0-2.1h0m.6 2h0m0-1.2h0m.2 .6h0m0-.3h0m.2 1.5h0m.1-1.1h0m.2-.3h0m.9 .9h0m.7 .5h0m0 0h0m2.8-2.6h0m0 .8h0m.1 .8h0m.5-.2h0m.5 1.2h0m.1-1.3h0m.5 .2h0m.3 .1h0m.3 .4h0m.6-.1h0m.9 .2h0m.7 .5h0m-49 2h0m.1-.9h0m.1 .9h0m.3 .8h0m.3-2.6h0m.1 .4h0m.2 1.1h0m.5 .8h0m.1-.5h0m.1 .1h0m.3 .6h0m.3-1.9h0m.8 1.1h0m.4-.9h0m.3-.5h0m.2 .9h0m0 1.1h0m.3-.8h0m.2-.1h0m.4 .5h0m.2-1.3h0m.1-.7h0m0 1h0m.1 1.4h0m.1 .5h0m.5-1.5h0m.1-.3h0m.2 1.7h0m.5-1.8h0m.1-.5h0m.2 1.1h0m0-.1h0m.5-1.4h0m.1 1.1h0m.2 .6h0m.3-1.4h0m.4 .3h0m0 1.4h0m.3-1.9h0m.6 1.9h0m.1-1.9h0m.3 .1h0m.4 2.4h0m.7 0h0m.2-2.7h0m.1 2.6h0m.2-.8h0m0-.2h0m.1 .9h0m.1 .1h0m.8-.1h0m0-2.3h0m.8 .6h0m0 .2h0m.1 .7h0m.1 1.2h0m.2-.3h0m.1-1.8h0m.7-.5h0m.7 2.2h0m0-2.4h0m0 .5h0m.6 2.2h0m.1-2.7h0m.1 .4h0m.1 1.6h0m.4-.1h0m0 .6h0m.3 .1h0m.1-.8h0m.2 .1h0m.4-.6h0m.3-1.1h0m.2 1.4h0m.3-.7h0m.1 .9h0m.4 .4h0m1.2-.8h0m.2 .2h0m0-.3h0m.3-.6h0m.4 .3h0m.4 1h0m1-1.2h0m0-.8h0m.5 1.5h0m.3-.8h0m.4 .4h0m.3 1.7h0m.7-1.2h0m0-1.5h0m.6 2.1h0m.3-1.4h0m.6 .7h0m.1-.5h0m.1 .3h0m.3 .5h0m.1-.1h0m0-1h0m.8 1h0m.2-.9h0m.1-.6h0m.2 1.1h0m.5-.8h0m.3-.1h0m1.1 1.7h0m.4-1.1h0m.2 .4h0m.3-.5h0m.4 .6h0m.4 1.3h0m.2-.5h0m.6-1.1h0m.2 .5h0m.9 .4h0m.1-.5h0m.3-.4h0m.8 .5h0m.1-.5h0m.2 .6h0m.3-.5h0m0 .6h0m.5-.6h0m.1 1.5h0m0-1.7h0m.2-.3h0m.6 .6h0m.5-.5h0m.8 1.9h0m.1-1.3h0m1.7 .4h0m.1-.4h0m.1 1.2h0m.1-1.1h0m.1 .5h0m.1-.1h0m.1 .6h0m.1 .2h0m.1-1.6h0m.1 1.5h0m.3-.3h0m.1-2.3h0m.1 .3h0m1.9 1.6h0m.1-.5h0m.9 0h0m.2-1.5h0m.2 1.9h0m.4-1h0m.1 1h0m.5-.9h0m.2 .8h0m.1-1h0m.6 2.1h0m.2-1h0m.5-1.3h0m.2 2h0m0 0h0m.1-.6h0m0 .1h0m.2-.9h0m.1 1.3h0m.5-2.5h0m0 2h0m.3 .9h0m.1-2.5h0m0 1.6h0m0 .7h0m.1-.1h0m.3-1.9h0m.3 1.2h0m.3 .3h0m.1-1.3h0m.1-.1h0m0 1.2h0m.4-.3h0m-49.6 1.5h0m.3-.1h0m.7 .3h0m.1 1.6h0m.3-1.5h0m.3 1h0m.6-.7h0m1.8 1.7h0m1.4-.5h0m0 .2h0m.2-.2h0m.1-.2h0m1.1-.9h0m.5 .8h0m.1 .7h0m.2-1.5h0m.5 .6h0m.7 1.1h0m.7-1h0m.1 1.2h0m.1-1.8h0m.1 .7h0m.2-1.2h0m0-.4h0m.5 2.3h0m.9-.8h0m.1 .1h0m.1 .9h0m.6-1h0m.5 1.2h0m.1-1.6h0m0-.7h0m.3 1.2h0m.5 1h0m.3-2.5h0m0 .7h0m.1 1.5h0m.2-.4h0m.1 .5h0m.3 .2h0m.3-1.7h0m.2 .9h0m.5-1.1h0m.2 .2h0m0 .5h0m.3 1.3h0m.3-1.5h0m.5-1.2h0m.1 2.4h0m.2-1.5h0m.7 .3h0m.1 .1h0m0 1.3h0m.1-1.5h0m0 1h0m.4-.1h0m.9-.4h0m.1-.9h0m.1 1.9h0m0-.2h0m.1-.8h0m.3-1.5h0m.7 2.2h0m.4-1.8h0m.1 .1h0m.1-.3h0m.8 .2h0m.2 1.1h0m.1 .1h0m.2-1.4h0m0-.3h0m0 2.1h0m.5-.9h0m.5-.7h0m.1-.1h0m.1 1.6h0m.3-1.5h0m.1 .7h0m1.5 0h0m.7 .2h0m.8 .1h0m.3 1.1h0m.4-2.6h0m0 .9h0m.1 .8h0m.3 0h0m.1 .8h0m.3-2h0m.1 1.6h0m.7-1.1h0m.7 1.3h0m1.1-1h0m.2 .2h0m.5-1.6h0m.3 2.9h0m.2-.2h0m.2-2.2h0m.1 .2h0m.1 1.7h0m0-2.2h0m.1 2h0m.1-1.6h0m.3 2.1h0m0-1.8h0m.1 .5h0m.1-.7h0m0 1.6h0m.1-1.7h0m.2 .3h0m.5 0h0m.3-.7h0m.2 .8h0m0-.9h0m.1 .5h0m.4-.4h0m0 1.5h0m.5 .5h0m.4-.2h0m.2-1.7h0m.3 2.2h0m.1 .3h0m.1-1.4h0m.8-.6h0m.1-.9h0m.2 3h0m.2-1.6h0m.3 .7h0m1 .1h0m.2-1.7h0m.4 .5h0m.1-.4h0m.4 .1h0m.1 1.1h0m0-.5h0m.8-1.1h0m.3 .2h0m1.2 .1h0m.6 .3h0m0 1.3h0m.1-2h0m.3 2h0m.1 .3h0m.4-2.3h0m.2 .5h0m.2 .7h0m.3 .3h0m.3-1h0m.2 .5h0m1.4 1.3h0m0-2.2h0m.1 1.7h0m.1-.4h0m.1-.9h0m.3 2.3h0m.1-.5h0m0-1h0m.7-.6h0m.1 1.6h0m.4-.8h0m-44.3 3.6h0m1.3-.4h0m.1 .3h0m.9-.5h0m.4 1.3h0m.2-2.6h0m0 2.4h0m.2-.5h0m1-.8h0m0 .3h0m.2-1.7h0m.3 1.7h0m.4 .1h0m0 .5h0m.3-.3h0m.5 .2h0m0-.6h0m.1-1h0m.5 .9h0m.1-.1h0m0 .2h0m.1-.4h0m.7 1.8h0m.1-2.9h0m.5 1.2h0m.1 .5h0m.7-1.4h0m.2 1.5h0m.2-.5h0m.2-.6h0m.9 1.1h0m.3 .2h0m.4-.9h0m.5 .7h0m.1 .5h0m.4-2.3h0m.1 .1h0m.3 2.3h0m.3 0h0m.4-.1h0m.1-1.7h0m0 .6h0m.1-.3h0m.1-.1h0m.1-.3h0m.1 1.4h0m.4 .4h0m0-2h0m.1 .3h0m.6 1.8h0m1.8-2.4h0m.2 1.4h0m.1-.4h0m.2-.5h0m0-.1h0m.3 .1h0m.1 .4h0m.1 .7h0m1.1 .4h0m.1 0h0m.7-.4h0m.9 0h0m.2-.7h0m.8 .1h0m.4-.6h0m.2 .9h0m0-1.3h0m.5 1.6h0m.5-1.3h0m.3 .7h0m.4 1.7h0m.6-2.8h0m.7 1.4h0m.1 1h0m.7-1.1h0m.5-.9h0m.1 .2h0m.5-.1h0m0 .7h0m.5 1.1h0m.5 .6h0m.2-.5h0m.5 0h0m0 .1h0m.2-2.4h0m.2 .3h0m.2 1.7h0m2.2-2h0m0 1.2h0m.4 0h0m.5-.9h0m.5 .4h0m0 0h0m.1 .5h0m.4 .2h0m.2-.5h0m.1 .4h0m0-.1h0m0 .2h0m.4 .4h0m0-1.7h0m.1 1.9h0m.6-1.7h0m.6 2h0m0-2.3h0m0 1.4h0m.1 .6h0m.5-1.6h0m.1 2.3h0m1.3-2.4h0m.4 2.1h0m1.1 .4h0m0-.2h0m.2-2h0m.1-.1h0m.1-.1h0m.1 1h0m.1 .6h0m.4-1.3h0m.2 1.8h0m0-1.8h0m.5-.5h0m.4-.3h0m.3 .4h0m1.2-.4h0m.2 .7h0m.1 .1h0m.3-.6h0m.2 .1h0m.2 0h0m.1 1.2h0m.7 .3h0m-39.4 2.1h0m.2-.8h0m1.7 1.6h0m.5 .3h0m.1-1.4h0m.1-.3h0m1.1 2.1h0m.1-2.3h0m.1 2.3h0m0-.6h0m2.4 1h0m.3-2.8h0m.1 .4h0m.1 1.7h0m0 0h0m0 .6h0m.2-2.2h0m0 1.1h0m.3-.4h0m.2 1.1h0m.4-.7h0m.2 .2h0m0 .7h0m.7-1h0m.5 1h0m.4 0h0m.4-.7h0m.6-1.5h0m.1 .9h0m.4 .4h0m.2-.6h0m.1 .9h0m0-1.4h0m0 2.1h0m.2-1.4h0m.1 .6h0m1.3-1.2h0m.1 0h0m.1 .3h0m.2 .1h0m.1 0h0m0-.5h0m.2 1.2h0m.3-.3h0m.5 1.5h0m.7-.6h0m1-2.2h0m0 .1h0m.3 1.3h0m.7 .4h0m.8-1.6h0m.2 1.5h0m.6 .8h0m0-1.1h0m0-.2h0m.2 1.3h0m.2-1h0m.7-1h0m.2 .5h0m.1 .2h0m.1 .2h0m.1-.1h0m.1 .2h0m0-.6h0m.1-.5h0m.1 .8h0m0 .8h0m.2-.7h0m0 .6h0m.4 .8h0m0-1.2h0m.2-1.5h0m.8 .6h0m.1 .5h0m.3-.4h0m0 2h0m.1 .2h0m1.2 0h0m.7-.1h0m1.6-2.6h0m.4 0h0m.1 .4h0m.7-.3h0m.8 1h0m.9 1.4h0m.1-.3h0m0-1.8h0m.4 1.5h0m0-.7h0m.1-1.4h0m0 1.5h0m.1 .7h0m.2-.1h0m.2-1.6h0m.2 .5h0m.1 .6h0m.4 .2h0m.4 .6h0m.3-1h0m0-1h0m0 1.4h0m.1-1.6h0m.5 0h0m.4-.1h0m.1 1.4h0m0-.1h0m.5-.8h0m.5 0h0m.1 2h0m.7-.9h0m.1 .8h0m.7-.6h0m1.1-1.1h0m.1 2h0m.8-2.4h0m0-.2h0m.4 2.3h0m0-2h0m.1 2h0m0-1.5h0m-34.1 2h0m.1 .3h0m.4 .6h0m.7-.2h0m.2 1.2h0m0-1.2h0m.3-.5h0m.4 .6h0m.8 1.1h0m.4 .8h0m.2-2.3h0m.4 2h0m.4-1.1h0m.7-1.1h0m0 .2h0m.3-.3h0m.7 0h0m.3 0h0m.3 .3h0m.2 1.3h0m.4-1.6h0m0 2.5h0m.5-1.7h0m1.7-.8h0m0 2.2h0m.4-2.4h0m.5 1.3h0m.2 0h0m0 1.5h0m.7-2.3h0m.4 .5h0m0 .2h0m.1-.4h0m.3 .5h0m.3 1h0m.9 .5h0m.1-1.5h0m.1 1.4h0m0-1.3h0m.2 .6h0m0-2h0m0 1.6h0m.3-1.1h0m.1-.2h0m.2 1.4h0m.1-.4h0m.1 0h0m0-.8h0m.1 1.9h0m.2-.8h0m.2 .1h0m.4-1h0m.1 1.3h0m.1 .1h0m.2-.6h0m.3-.1h0m.3 1h0m.4-1.9h0m.7 1h0m.4-.2h0m.2 .7h0m.1-.3h0m.3 1.3h0m0-.5h0m.3 .3h0m.5-2.6h0m.5 1.4h0m.1 .5h0m.1 .3h0m.9 .3h0m.1-.6h0m0 .9h0m.1-.7h0m.1-2h0m.1 1.8h0m.2 0h0m.1 .6h0m.3-.9h0m.1 .1h0m.4 1.1h0m.4-2.7h0m1.1 1.6h0m.2 .8h0m.7-2.1h0m1.1 1.4h0m.1-.9h0m0 1.1h0m.2-.5h0m.2-1.6h0m.3 2.5h0m1.4-2.4h0m.2 2.7h0m1.2-.3h0m.6-.7h0m.6-1.5h0m.1 .8h0m0 1h0m0-.9h0m.2-.4h0m.1 .7h0m.4-.3h0m.5-.9h0m.1 2.4h0m.2-1.3h0m.1 0h0m.1-1.2h0m.4 1.1h0m.2 0h0m.1 1.2h0m.1 .1h0m-30.7 .6h0m2.4 .4h0m1.2 .1h0m.4-.6h0m0 .5h0m.5 .8h0m.2-1.1h0m.2-.2h0m.3 .2h0m.1 .3h0m.3 .1h0m.7-.3h0m.1-.3h0m.1 1.4h0m.1-1.2h0m.4 1.8h0m0-1.9h0m.8 1.8h0m.6-.8h0m.4 1.4h0m.1 0h0m.2-1.5h0m.9-.7h0m0 .5h0m.7-.6h0m.8 0h0m.3-.3h0m2.1 .8h0m.4 1.6h0m0-2.4h0m0 2.3h0m.3-1.6h0m.2 .7h0m.1-.4h0m.8 0h0m.4-.5h0m.1-.5h0m.2 .3h0m1 1.2h0m.5-1.3h0m.7 2.4h0m.7-.3h0m3.5 .2h0m.8-2.5h0m.3 .7h0m0 1.9h0m.1-1.9h0m.1 1.9h0m.3-.4h0m.1-.6h0m.1-1.4h0m1.3 .3h0m.1-.3h0m.2 .8h0m.1 .9h0m.2-.9h0m.2 .9h0m.1-.1h0m1.3-1h0m1.7-.7h0m.6 .1h0m-19.1 3h0m.2 1.1h0m.2-.4h0m0 .4h0m.5 0h0m.7-1.1h0m1.5 1.1h0m.2-.2h0m.3-.2h0m.3 1.8h0m.1-1.7h0m.7 .3h0m.1-1h0m.1 .7h0m0-.1h0m0 .5h0m.1-.5h0m.1-.9h0m1.3 1.2h0m.3 .7h0m.5 .2h0m.1 .3h0m.6-1.9h0m.2 .5h0m.1-.9h0m.2 1.9h0m0-1.2h0m1.1 1h0m.7-1.1h0m1.3-.1h0m.3-.1h0m.2 1h0m.4-1.3h0m2-.2h0m16.7 5.1h0m1.2 .6h0m.5-1.4h0m.3 1.2h0m.3 .2h0m0-.7h0m.2 0h0m.4-.7h0m.1 1.4h0m0-1h0m.1 .9h0m.8-.2h0m.8-.1h0m-5.8 1.2h0m.5 .5h0m0-.3h0m.1 .4h0m.3-.2h0m.2 .1h0m0 .7h0m.1-.7h0m.2 1.5h0m.2-.4h0m0-1.8h0m.1 0h0m.1 .7h0m.3 1.2h0m.3-1.6h0m.8-.6h0m.1 .8h0m0 0h0m.1 .2h0m.1 1.8h0m.5-1.8h0m.1 .3h0m0 1.1h0m0 0h0m.4-2.1h0m0 2.1h0m.1-.2h0m.1-1.9h0m.1-.3h0m.1 2.8h0m.2-2.3h0m.1 1.7h0m.5-1.3h0m.4-.2h0m.2 1.4h0m-5.4 1.5h0m.7-.6h0m.2 .6h0m0 .5h0m.1 .3h0m0-1.5h0m.1 1.1h0m.5 .9h0m.5-.4h0m0 .2h0m0-.4h0m.3-.2h0m0-.8h0m.2 .5h0m0-.1h0m.4-.2h0m0 .4h0m.4-.3h0m.7-.1h0m.1-.5h0m.2 .4h0m.4 .5h0" stroke="#F8766D" stroke-width="0.95" stroke-linecap="round" fill="none"/>
<path d="M237.7 69h0m.3-.4h0m1.1-.4h0m1.1 .3h0m1.6 .2h0m.2-.2h0m.4 .1h0m2.2-.2h0m-9.3 3.4h0m.3-.8h0m.2 .2h0m.6 0h0m.4 .2h0m.1-1.6h0m.4 1.8h0m.1 .1h0m.4 .3h0m1-2.6h0m.1 1.1h0m0 .3h0m.1-.6h0m.1 .5h0m0 .2h0m.2-1.4h0m1.1 .9h0m0-.1h0m.2-.4h0m.6 1.8h0m0-.5h0m.1-1h0m.4-.2h0m.2 .3h0m.2 1.5h0m.2-1.5h0m.3 .7h0m0-.7h0m.1 .9h0m0-.7h0m.7 1.4h0m.1-.3h0m.1-1.9h0m.3-.2h0m.2 1.7h0m.3 .6h0m.2-.8h0m.4-.8h0m.6 .2h0m0 0h0m.1 .5h0m.2-1.1h0m.1 0h0m0 1.1h0m.2 .8h0m.2-.5h0m.2-2h0m.3 2.7h0m.2-.8h0m.1-.6h0m1.7 1.4h0m-15.2 1.7h0m.5-.6h0m0 1h0m.3-.1h0m.3-1h0m.1 1.8h0m.6-.6h0m.7 .1h0m.1-2h0m.2 .4h0m.1 1.7h0m.2-2.3h0m.4 2.6h0m.1-.2h0m.1-.4h0m.2-1.5h0m.5-.2h0m.2-.2h0m.4 .6h0m0 .5h0m.1 1.5h0m.7-2.3h0m.3 1.9h0m0-.5h0m0-1.6h0m0 .5h0m.4 0h0m.1 .1h0m.2 2.1h0m.2-2.5h0m.1 2.1h0m.8 0h0m.5-.6h0m.3-.7h0m.2-1h0m.2 2.8h0m.1-.8h0m0-.7h0m.5 .9h0m.4 .4h0m0-.9h0m.6 .7h0m0-2.5h0m.2 2.1h0m.2-.2h0m.2 .9h0m.7-1.6h0m.4-.2h0m.1 1.4h0m.2 .4h0m.5-1h0m.5-1.9h0m.1 1.5h0m.4 1.3h0m.4-1.1h0m.3 .2h0m.9-.9h0m0-.2h0m.3 1.5h0m.1-1.7h0m.3 1.2h0m.1-1.6h0m.1 1.8h0m.1-1.6h0m.3 1.1h0m0 1h0m0 .1h0m0-.7h0m.6 .4h0m1 .2h0m-20.5 1.7h0m.5 .1h0m0 1.2h0m.8-.1h0m.2-1.3h0m.3 .8h0m.4 1h0m0-1.6h0m.1-.9h0m0 2h0m.3-1.2h0m.4-.8h0m.1-.2h0m.5 .2h0m.2 .4h0m.1 2h0m.1-1.9h0m.3 .5h0m.3 .5h0m0-1.5h0m0-.2h0m.1 1.9h0m.2 .6h0m0-1.9h0m.5 2.1h0m.2-.4h0m.2 .4h0m.1-2.8h0m.2 .3h0m.3 .4h0m0-.5h0m.1 1.2h0m0 .5h0m.4-1.1h0m.1 1.7h0m.3-1.1h0m.1-.1h0m.3-.7h0m0 1h0m.4 .9h0m0 .2h0m.2-1h0m.9 .8h0m.3-2.6h0m.2 1.9h0m.1-.3h0m1-1.3h0m.1-.3h0m.1 1.9h0m0-1h0m.1 .4h0m.2 1.3h0m.4-1.2h0m.1-.9h0m.3 1.5h0m.3-.8h0m.1 .9h0m.6 .2h0m0-2.1h0m.4 .2h0m.2 1.7h0m.6-.7h0m.3 .2h0m.1-.5h0m.1 1.3h0m0-1.2h0m.2 1.7h0m.5-1.1h0m.2-1.5h0m.3 .4h0m.3 2.3h0m1.5-1.6h0m.4 .3h0m.6 .4h0m.1-.4h0m.3-.6h0m.1-.4h0m.7 1.1h0m.2 .2h0m.6-1.7h0m.1 1.8h0m.1 .6h0m.2-1.4h0m.1 .5h0m0 .5h0m1.4-.4h0m-23 1.3h0m.3 2.7h0m.1-2.6h0m.3 .4h0m.2 .7h0m.7 .5h0m.3-1.2h0m.2 .3h0m.1-.7h0m0 .2h0m.3 2.1h0m.2-.6h0m.2-.8h0m0 0h0m.3-.4h0m.1 .8h0m.4-.2h0m.2 .9h0m.1 0h0m.1-2h0m.1 1.6h0m0 .3h0m.5-1.1h0m.2 1.5h0m.1-.7h0m.1 .1h0m0 .5h0m0-2.5h0m0 2.5h0m.2-2.3h0m.6 .1h0m.2 2.4h0m.2-1.2h0m.3-.9h0m.2-.2h0m0 0h0m.3-.4h0m0 .6h0m.2 1.3h0m.1 1h0m.3-.3h0m.1-2h0m.3 .6h0m.4-.9h0m.9 .6h0m.4 .5h0m.4-.3h0m.4 1.5h0m.5-1.2h0m.3 .6h0m.1 .1h0m.8-1.1h0m.1-.1h0m.3 0h0m1.7 1.7h0m.3 .3h0m.1-2.2h0m.1 1.5h0m0-.3h0m.1-.9h0m.1 .8h0m.3-.9h0m.4 .5h0m.3-.8h0m0 .8h0m.5-.8h0m.5 1.3h0m.1-.9h0m.5-.1h0m.2 .1h0m.3 1.7h0m1.9-1.9h0m.2-.4h0m.1 1.2h0m.1-.1h0m.1 .4h0m.6-.7h0m.3-.8h0m.1 .6h0m1 .1h0m.8 .1h0m.1 1.3h0m0 .1h0m.2 .1h0m.4 .2h0m.1-.5h0m.5-1.4h0m.2 1.2h0m.1 .3h0m.1-.4h0m.5 .1h0m.5-.4h0m.3 1h0m-27.1 1.4h0m1.4 .4h0m.2-.2h0m.6-.5h0m.5-.1h0m.5-.2h0m.1-.6h0m.1 1.3h0m.4-1h0m.7 2.2h0m.1-.1h0m.1 .3h0m.8-2.1h0m.6 .5h0m0-.9h0m.1 .1h0m.2 1.1h0m.1 .4h0m.2 .1h0m.4-1.4h0m.2-.5h0m.1 1h0m.6-.5h0m.8 1.6h0m0 .3h0m.7-.8h0m.1-1.1h0m.1-.1h0m.2 1.2h0m.1 1.2h0m.6-.8h0m.1-1.2h0m.2 .1h0m0 1.8h0m.8 0h0m.3-2.6h0m.1 2.2h0m.1-2.2h0m.1 .7h0m.1 2.1h0m.1-.9h0m.3-.7h0m.1 1.3h0m.1-.4h0m.5-.1h0m1-2.1h0m.6 1.9h0m1.1-1.8h0m.4 2.5h0m.3-.3h0m0-.9h0m.2 .8h0m.1 .6h0m.1 0h0m.1-2.2h0m.4 .1h0m.1 1h0m.6 .9h0m1.1-.4h0m.2 .3h0m.6-.3h0m.2-.8h0m.1 1h0m.1 0h0m0-2h0m.3 1.3h0m.4 .3h0m0-1.2h0m.1 0h0m0-.2h0m.2 .4h0m.1 .4h0m.4-.3h0m.4 1.7h0m.3-1.7h0m.1-.3h0m.4 .9h0m.1-1h0m.2 2h0m.1-1.3h0m.5 .8h0m.1-.8h0m1.3 .5h0m.3-.6h0m0-1.1h0m.3 1.1h0m.7-1h0m-26.2 3h0m1.1 .6h0m0 .3h0m0 .8h0m.8-1.5h0m.2 .7h0m.4 .3h0m.4-.3h0m.3-1.1h0m.2 2h0m.1 .7h0m0-.8h0m.4-.2h0m0-.3h0m.2 .6h0m.4 0h0m.2 .5h0m.3-.7h0m.6 0h0m.7 0h0m2-1.9h0m.4 0h0m1.2 1.3h0m.1 0h0m.1-.9h0m.1 .2h0m.1 1.1h0m.7-.1h0m.2-.8h0m.1-.6h0m.8 1.4h0m.3-.2h0m.2 1.1h0m0-2.1h0m.1-.1h0m0 2.1h0m0 .3h0m.2-.6h0m.2-.6h0m.3-.3h0m.4 1h0m.3-1.9h0m.2 .5h0m.1-.7h0m.3 1.8h0m.7-.2h0m.4-.1h0m1.1-1.1h0m.1-.3h0m.3 .3h0m2 0h0m1.5-.4h0m0 0h0m.6 0h0m-16.7 3.7h0m.1-.4h0m.2-.3h0m.1 .8h0m3.6-.6h0m.9 .2h0m2.5-.1h0m.5-.1h0" stroke="#D39200" stroke-width="0.95" stroke-linecap="round" fill="none"/>
<path d="M255.6 91.8h0m.3 .9h0m.5 0h0m2.3-1.9h0m.8 2h0m.1-.1h0m.9-.1h0m.7-.9h0m1.5-.8h0m.7 1.3h0m.3 .7h0m1.3-.6h0m1 .3h0m.4 .4h0m.8-.1h0m.7-.8h0m.7 .7h0m.9-1h0m1 .9h0m.2-.4h0m-29.3 3.4h0m7.8-.6h0m.1 .7h0m.7-.5h0m.1 .2h0m1.2-.6h0m.2 .2h0m0-.2h0m.5 .3h0m.2 .6h0m0-1.7h0m.1-.2h0m.1 1.7h0m.1-.1h0m.9-1.2h0m.1 1.2h0m.4 .2h0m0-1.4h0m.4 .2h0m0 .3h0m.2-.4h0m.9 1.1h0m0-1.6h0m.2-.6h0m.2 1.8h0m.5-1.6h0m.4 .1h0m.3 1h0m.6-1.4h0m.7 .3h0m.3 .7h0m.5 .2h0m.4 1.2h0m.6-2.1h0m.3 0h0m.1 .7h0m.1-.8h0m.2 2.6h0m0-.5h0m.5-2.4h0m.2 .5h0m.8 1.1h0m.2-1.6h0m.3 .7h0m.4 2h0m0-1.5h0m0 1.6h0m0-1.5h0m.3 .7h0m.2-1.7h0m.1-.2h0m0 1.4h0m.8-.1h0m.1-.3h0m.6 .3h0m.8-.9h0m.1 1.9h0m.5 .3h0m0-.9h0m.5 .9h0m0-1.8h0m.2 1.7h0m0-1.6h0m0 .3h0m.4 .2h0m0 .2h0m.2 .6h0m.5-.8h0m.1-.1h0m.4 .1h0m0-.6h0m.1 1.6h0m.1 .4h0m0-.9h0m.2 .3h0m0-1.6h0m.1 2h0m.1-1.2h0m.3-1.1h0m.1 .6h0m.1 .2h0m.1-.1h0m.1-1h0m.2 1.3h0m.2-.1h0m.1 .6h0m0-1h0m.2 .6h0m.1-1h0m.6 .4h0m.2 1.9h0m1.6-2.4h0m.2 .9h0m.5 .8h0m0-.1h0m1.2 .2h0m.5-.1h0m.3 .4h0m.2-.5h0m.1 .3h0m.2 .6h0m.4-1.1h0m.4 1h0m3.3-.3h0m1.2 0h0m2.8 .3h0m-53.6 2.5h0m.5-.5h0m.3 .7h0m.1-.4h0m.2 .3h0m.1 .3h0m3.6-.4h0m1.8-.6h0m0-.5h0m.3 .8h0m.3 .4h0m.1-1.1h0m.1 .5h0m.5 .1h0m.1 0h0m.4-1.6h0m.2 2h0m.2 .4h0m1.2-2.1h0m.3 2h0m2.2-.2h0m0-.3h0m3.5 .3h0m.5-1.7h0m.1-.3h0m.5 1.1h0m.9-1.2h0m.1 2.3h0m.4-.6h0m.5-2.1h0m.6 2.9h0m.3-2.4h0m.1-.3h0m.3 2.8h0m.1-.6h0m.8 .1h0m.5 .5h0m.9-2.4h0m.1 0h0m.6 1.8h0m.5-1.4h0m.3 1.7h0m.1 .1h0m.1-2h0m0 0h0m.1-.5h0m.5 .8h0m.6 .3h0m.2 .2h0m0-1.5h0m.5 2.4h0m.6-1.4h0m.2-.5h0m.7-.3h0m.1 1.3h0m.8 1.1h0m.3-1.3h0m.1 1.3h0m.9-1.3h0m.2 1h0m0 .3h0m.1-1.4h0m.8 .9h0m0 .3h0m.7 .4h0m.2-.8h0m0-1.1h0m.1 .8h0m.3-.4h0m.6 1h0m.2-1.4h0m.2-.9h0m.5 .2h0m.3 .9h0m.1-.5h0m.2 .7h0m.1 .7h0m.2 .6h0m.1-.3h0m.4-.3h0m.6-1.4h0m.2-.5h0m.1 .1h0m0 .3h0m.4 0h0m0-.2h0m.1 .7h0m.2 1.7h0m0-.6h0m.1 0h0m0-.5h0m.1 .9h0m.1-1.5h0m0-.5h0m.3 2.3h0m0-2.6h0m.3 .9h0m.4 .5h0m.2 .3h0m.4 .3h0m.5-.6h0m.1 .2h0m.4 .1h0m0-1.8h0m.3 2.5h0m.4-2.1h0m0 1.1h0m.1 1.1h0m.4-1.6h0m0 .5h0m0-.8h0m.4 .1h0m.7-.5h0m.1-.5h0m.6 .8h0m.1 .7h0m0-.7h0m.1-.4h0m0 .3h0m.6 .3h0m.1-.9h0m.1 2.4h0m.4 .3h0m.1-2.5h0m0 1.4h0m.3-.6h0m.1 1.1h0m.7-.2h0m.6-1.7h0m0 2.3h0m.2-2.3h0m.1 0h0m0 .6h0m0 1h0m.3 .6h0m.3-.7h0m.7-.5h0m0 .6h0m0-1.1h0m.4 .7h0m.1-.1h0m.2-.8h0m.2 .1h0m.1 1.3h0m.2 .4h0m.1-.4h0m.2 .1h0m.5-2.1h0m.1 .2h0m.3 .4h0m0 1.7h0m.1-1.1h0m.1-1.2h0m2.1 .4h0m.3 .4h0m.1 1.9h0m0-.7h0m.1-1h0m.1 .5h0m.3 1.5h0m.2-.4h0m.3-.5h0m.1 0h0m.1-1.1h0m.1 .9h0m0-1.3h0m.6 1.1h0m.1 .1h0m.3-1.8h0m.1 2.8h0m.2-1.1h0m.6 .5h0m.1-.1h0m.1 .8h0m0-.8h0m-49.6 1.2h0m.4 1.9h0m.3-1.5h0m.1 1.7h0m.1-1.9h0m0 .3h0m.1-.6h0m.2-.1h0m.2 2.7h0m.1-2.2h0m.2 1.6h0m.1-1h0m0-.4h0m.1 .5h0m.1 .5h0m.1-.7h0m.1 1.7h0m.3-.2h0m.3 .4h0m.4-1.4h0m0-1.5h0m.9 .8h0m.2 1.7h0m.1-.7h0m.1 1h0m.1-1.6h0m.4 1.1h0m.2-1h0m.3 .3h0m.4-1.5h0m.1 1.8h0m.8-.8h0m.1-.3h0m.3 1.5h0m.4-.7h0m.1 .6h0m0-.1h0m1 .6h0m.4 0h0m.5-.5h0m.2 .3h0m.4 .4h0m.1-.7h0m0-.1h0m.2 .1h0m.4-1.9h0m0 1.9h0m0 .4h0m.5-2.1h0m.3-.1h0m1 .9h0m.6 1.1h0m0-.7h0m.3 .9h0m0-1.6h0m.1 .3h0m.4 1h0m.1-1.6h0m.1-.5h0m.1 2.7h0m.8-1.1h0m.1-1.8h0m.1 1.9h0m0-.4h0m.2-.2h0m0 .4h0m.4 1h0m.8-1.9h0m.3 .5h0m.1 .9h0m.3 .3h0m.1-1.6h0m.1 1.9h0m0-2.8h0m.6 .3h0m.8 2.2h0m.9-1.2h0m.3 .5h0m.1-.4h0m.9 .1h0m.2-.7h0m.2 .7h0m.3 1.3h0m.1-1.1h0m.3-1.8h0m.2 2.3h0m.2-.2h0m.1 .6h0m.3-2.4h0m.2 .1h0m0 1.7h0m.4-1.5h0m.1 1h0m.1-.1h0m.1 .1h0m.5-1.5h0m.1 1.6h0m.1 .1h0m.6-.3h0m.1 .9h0m.2-.5h0m.4 .5h0m.1-2.3h0m.5 .8h0m0 .8h0m.6 1.2h0m.2-2.6h0m0 1h0m0 1.4h0m.1-.1h0m.2-2.3h0m.2 .5h0m1.1 .1h0m.5-.8h0m.4 2.2h0m.2-1.9h0m0 .8h0m0-.8h0m.2 1.7h0m.1-1.5h0m.1 2.3h0m.1-1.9h0m.3 .5h0m.1-.2h0m.5 1h0m0-1.2h0m.1 .8h0m.3 .6h0m.1-.2h0m.5-.3h0m.1-1.9h0m.1 1.6h0m0 1.1h0m0-1.7h0m.5 .2h0m.3-.6h0m.3 2.3h0m.2-.1h0m.3-.8h0m.2-.9h0m.4-1.1h0m.2 2.6h0m.4-1h0m0 .6h0m0-.5h0m.1 .5h0m.1-2.3h0m.1 .9h0m.6 1.4h0m.2-.3h0m.2-1.6h0m0 0h0m.1 .1h0m.2 2.3h0m.1 .1h0m.3-1.7h0m.8 .6h0m.3-1.1h0m.6-.6h0m.2 2.1h0m.1-.1h0m0-1.2h0m.3 1.6h0m.2-2.1h0m.1 1h0m.1 .8h0m0-1.4h0m.3 2.1h0m.2-.3h0m.1-.3h0m.1-2h0m.1 2h0m.2 .7h0m.1-2.3h0m.1-.1h0m.4 1.2h0m.1 1.1h0m.2-1.1h0m.3-1.3h0m1.1 1.2h0m.3-.3h0m.2-.4h0m0-.9h0m.2 1.4h0m.3-.6h0m.2 .2h0m.8 1.6h0m.1-2.7h0m.2 2.1h0m0 .6h0m.5-2.1h0m.1 1.4h0m.2-1h0m.1 1.2h0m.1 .5h0m.3-.4h0m1.2-1.2h0m.3-.3h0m.5-.8h0m-50.4 4.5h0m.8 .2h0m0 1h0m.5-.9h0m.1 .1h0m.8-1.3h0m.7 .8h0m.2-1.1h0m.1 .9h0m.4-.9h0m1.1 1.4h0m.4-1.5h0m0 2.7h0m0-1.9h0m.1 .8h0m.9-.2h0m.2-1.1h0m.1 1.2h0m.2-1.7h0m.2 1.5h0m.5-.5h0m.4-.9h0m.9 2h0m.2-1.4h0m.2-.5h0m.4 .5h0m.7 1.5h0m.1-.7h0m.3-.7h0m.3 2.1h0m.1-1.8h0m.3 .2h0m.2-.6h0m.3-.3h0m0 2.4h0m.1-.7h0m.3-1.6h0m.2-.2h0m.4 .3h0m.2 1h0m1.2 .1h0m.1-1.7h0m.3 1.6h0m.1-1.1h0m.1 1.6h0m0 .3h0m.1-2.1h0m.1 .7h0m.3 .4h0m.2-1.4h0m.1 2.7h0m.2-2.2h0m.8 2.4h0m.3-1.4h0m.2-.3h0m.6 .8h0m.1-.3h0m.4 0h0m.1 .5h0m.2-.7h0m.1-.7h0m.4 .4h0m.1 0h0m.2 1h0m.1-1.5h0m.2 1.8h0m.2-.1h0m.5-.9h0m.1 .7h0m.7-.6h0m.2-.3h0m.1-1.2h0m.3 1.6h0m.2-1.4h0m0 1.5h0m.2 .6h0m.4-1.2h0m.7 1.5h0m1-.5h0m.3 .2h0m1.5-.3h0m.5 .5h0m.8-1.3h0m.1-.6h0m1.4 1.3h0m.1-1h0m.1-.5h0m.1 1.6h0m.4-.9h0m0-.9h0m.2 2h0m.4 .2h0m0-1.8h0m0 1.7h0m.2-.2h0m.2-.8h0m.5 .8h0m0-1h0m1.1 .2h0m.5-.9h0m.2 .8h0m.2-.7h0m0 1.4h0m0 .2h0m.1-1.5h0m.3-.1h0m.1 .8h0m.6 .5h0m.7-1.5h0m.1 0h0m.4 .4h0m0 1h0m.4-1.1h0m.3-.2h0m.7 2.4h0m.1 .1h0m.1-.1h0m.1-2.6h0m.8 2.3h0m.1-2.2h0m0 .5h0m.1 1.9h0m.1-.9h0m.1-.3h0m.3 1.4h0m.2-1.2h0m.3-1h0m1.2-.6h0m0 1.4h0m.1-.3h0m.8-1h0m.1 2.7h0m1.3-2.1h0m1 1.6h0m.3-.4h0m.3 0h0m.6-1.1h0m.2 1.6h0m0 .3h0m.1-2.6h0m.7 1.3h0m.3-.6h0m0-.4h0m1 .1h0m0 .3h0m0-.4h0m.1 .3h0m.3-.2h0m-46.3 2.6h0m1.1 .4h0m.8-.3h0m0 .7h0m.6 .7h0m0-.2h0m.1 .4h0m0-.8h0m1.1-.8h0m.1 1h0m.1-.2h0m0-.5h0m0 0h0m.7 .5h0m.7 .2h0m0-.4h0m.7-.8h0m4.5 1.2h0m.1 .4h0m0 .4h0m.1-1.6h0m.4 .1h0m.2 .8h0m.5-.7h0m1.2 1.5h0m.6-.4h0m.5 .9h0m0-1.1h0m.7-.2h0m.8-.4h0m.1 .3h0m.1-1.2h0m.8 .8h0m.1 .1h0m.3 0h0m.2 .6h0m.7 .7h0m.3-.4h0m0 .3h0m.1 .2h0m.5-.5h0m.2 .7h0m1.5-1.8h0m.4 1.4h0m.1-2.2h0m.3 .7h0m.1 1h0m.1-.6h0m.3-.9h0m.4 1.7h0m.5-1.7h0m0 1.2h0m.7-1.4h0m.4 1.1h0m0-.8h0m0 2.6h0m.2-1.1h0m.1 .3h0m0-1.7h0m.1 1.5h0m.1-.2h0m.1 .3h0m.3 .6h0m.2-1.2h0m1.1-.2h0m.6-.1h0m.3 .3h0m0-1.3h0m.1 .7h0m.9 .8h0m.3-.8h0m.1-.8h0m.6 .8h0m0-.6h0m.1 2.4h0m.4-1.1h0m.2-.6h0m.2 .7h0m.1-1.1h0m.1 .2h0m.1 1.6h0m.1-2.2h0m.3 2.1h0m.8-.9h0m.2-.2h0m0 1.5h0m.1-1.1h0m0-1.1h0m.2 1.6h0m.2 .6h0m0-.4h0m0-.6h0m.1-1.5h0m.2 .6h0m.2-.5h0m.2 .2h0m0 1.5h0m.5-1.5h0m.1 .6h0m.3 .3h0m.5-.9h0m.1-.1h0m.2 .2h0m.2 .1h0m.5 1.1h0m.1 1h0m0-.2h0m1-1.6h0m.7-.7h0m.1 2.5h0m.1-1.8h0m0 .7h0m.1 .4h0m.3 .1h0m.5-1.1h0m.1 .4h0m.1 .4h0m.1-1.4h0m1.8 .5h0m.9 .2h0m.1 .8h0m.1 .4h0m.1-1.6h0m0-.1h0m.3 .5h0m0-.5h0m.5 .4h0m.1 .8h0m.2-1.5h0m-30 4.1h0m0 .8h0m.1-1.2h0m.2 .3h0m.1 .8h0m.1 .7h0m1-2.7h0m.6 .2h0m0 .3h0m.2 .6h0m.4-.4h0m.4 1.8h0m.3-2.6h0m0 2.9h0m.1-2.5h0m0 2.3h0m.4-1.6h0m0 1.6h0m.5-1.2h0m.4-1h0m.3 1.5h0m.4-2h0m.2 2.2h0m.6-1.5h0m.3 1.9h0m.1-2h0m1.2 .2h0m.3 1.4h0m.4 0h0m.1-.6h0m.3-.7h0m0 .8h0m.5 .8h0m0-.4h0m.5-1.7h0m.4 .6h0m.5-.7h0m.3 2.2h0m.1-1.3h0m.1-.7h0m.3 1.8h0m0-.6h0m.4 .5h0m.4-1.1h0m.4 0h0m.1-.8h0m.1 .8h0m.5 .3h0m.1 .4h0m0 .6h0m.2-1.2h0m.3-.2h0m0-.7h0m.5 .4h0m.1-.4h0m.6 2.1h0m.7-2.4h0m.3 2.4h0m.2-2h0m0-.1h0m.4 .2h0m0 1.8h0m.5-1.6h0m0 .6h0m.3 1h0m.2 .3h0m0-2.1h0m.2 .2h0m.3 .4h0m.2 .3h0m.3 .1h0m.2-.4h0m1.4-.7h0m.1 1.8h0m.5-.1h0m.2-1.1h0m.2-.7h0m0 2h0m.4-.6h0m.4-1.6h0m0 2.8h0m.7-2.1h0m.4 1.3h0m0-2h0m.1 1.7h0m.5-.9h0m.1-.3h0m.7-.5h0m.5 .2h0m.4-.1h0m.2 1.5h0m.4-1.3h0m.8-.2h0m.1 1.4h0m-25.7 1.8h0m.2-.4h0m.4 .6h0m.1 .4h0m0-.3h0m.5-.7h0m.4 .7h0m.2 .6h0m.3 .3h0m.3-1.5h0m0 1.4h0m.2 .8h0m0-1.5h0m.1 .4h0m.1-1.3h0m.2 1.7h0m.1 0h0m.1 1.3h0m.2-2.5h0m1.1 2.5h0m.1-1.5h0m.2-.7h0m.3 .9h0m1.2 1.1h0m.8 .1h0m.7-.9h0m.1 0h0m.1-.7h0m0 1.5h0m.4-2.4h0m1 2.4h0m0-.2h0m.1-1.5h0m.1-.5h0m.5 2.4h0m.1-2.3h0m.1 .4h0m.3 .3h0m0 .6h0m.1-.8h0m.2-.6h0m0 1.7h0m.1 0h0m.3-1.3h0m.4 1h0m.1-1.8h0m.2 2h0m.1 .5h0m0-2.6h0m.2 .4h0m0 2.2h0m.3-.8h0m.1 0h0m.2-1h0m0-.7h0m.3 1h0m1-.4h0m.2 .6h0m.1 1.3h0m.2-2.2h0m.2 1.5h0m0-1.3h0m.5 1h0m.2-.3h0m.5 .4h0m.7-.9h0m.5-.4h0m.8 .1h0m0 .6h0m.5 .1h0m1.3-1.3h0m.1 1.3h0m.3 .4h0m1.3-1.6h0m.3 .2h0m.4 .3h0m-18.9 2.7h0m.7 .1h0m2 .6h0m2.5-.9h0m.4 1.2h0m2.3-.6h0m0-.1h0m1-.5h0m.1 .9h0m.3-.7h0m-2.5 4h0m0 0h0m2-.9h0m.4 .3h0m.3-.6h0m.2 2.5h0m.1-2h0m.1 .3h0m.3 1.7h0m.2-1.7h0m.2-.3h0m.1 1.1h0m.6-.1h0m.2 .9h0m.6 .3h0m-3.6 .4h0m1 1.6h0m.7-1.5h0m1.9 .2h0" stroke="#93AA00" stroke-width="0.95" stroke-linecap="round" fill="none"/>
<path d="M237 110h0m.6-.9h0m.6 1.3h0m0 .4h0m.2-.6h0m.1 .1h0m.1 .2h0m.1-.4h0m-2.8 1.7h0m1.2-.7h0m.1 1.4h0m0-.2h0m.3 1.2h0m.3-.9h0m.1 .4h0m.1-1.7h0m0 1.4h0m.1-1.4h0m.4 1.5h0m.7 0h0m.1-.1h0m0 1h0m.3-1.2h0m0 .4h0m.4 0h0m.2-1h0m.3 .9h0m.2 .7h0m.2-.2h0m.3-.3h0m.2-.5h0m1.4 .8h0m-4.8 2.3h0m.5-1.3h0m.1-.1h0m.1 2.5h0m0 .2h0m.1-2.7h0m0 2.1h0m.1-1.2h0m.5 .4h0m.4 .5h0m0 .3h0m0-1.5h0m.3 1h0m.1 .5h0m.1 .6h0m.2 0h0m0-1.7h0m.1 1.5h0m.1-1h0m.8-1.1h0m0 .9h0m.1 1.4h0m1.2-.1h0m.1-.2h0m.1-.1h0m.2-.1h0m0 .4h0m.7-1.5h0m1.2 1.5h0m-5.1 1.3h0m.3-.1h0m0-.4h0m.1 1.2h0m.4-1.7h0m.3 1.6h0m.1 .6h0m.2 .3h0m.4 .3h0m.5-1.5h0m.2-1.4h0m.4 1.7h0m0-1.5h0m.5 0h0m0 2.5h0m.6-1.6h0m.1 .1h0m.2 .7h0m0 1.1h0m.1-2.2h0m.1-.3h0m.4 .6h0m.3 1h0m0-1.3h0m.1 1.1h0m.8 .8h0m0-1.2h0m.4 .8h0m.1 0h0m.1 .5h0m.1-1.4h0m0 1.1h0m.1-1.6h0m.4-.1h0m.6 1h0m0 .5h0m.1 .4h0m.4-1h0m1.1 .9h0m-10.3 .5h0m1 1.2h0m.5-.2h0m.8-1h0m.5 2.7h0m1.3 .2h0m.8-2.2h0m.1 .4h0m.4 1.8h0m.1-2.4h0m0-.2h0m.5 .6h0m.3 1h0m.3-1.5h0m.2 .7h0m.1 .3h0m.1-1.4h0m0 .9h0m0 1h0m.3 .1h0m.2 .9h0m.1-.6h0m.1-1.8h0m.1-.4h0m.1 1h0m.1 1.1h0m.1-.4h0m.1-.9h0m0-.9h0m.1 1.8h0m.1-.4h0m.3-1h0m.3 1.7h0m.1-1.8h0m.1 2h0m.1-2.4h0m-6.4 3.2h0m.2 1.7h0m.1-1.7h0m.6 .3h0m.2 1h0m.5-.1h0m.4-.2h0m.2 .8h0m.4-1.4h0m2.1-.4h0m0 .4h0m.1-.6h0" stroke="#00BA38" stroke-width="0.95" stroke-linecap="round" fill="none"/>
<path d="M334.5 69.9h0m.8 .4h0m.1 .6h0m.4-.4h0m.1 0h0m.7-.1h0m-13.5 4h0m1-1.2h0m.3 1.1h0m.1 .6h0m.2-1h0m.1 .5h0m.4 .5h0m.1-1.5h0m.1 1.2h0m.2 .4h0m0-.5h0m.3-.2h0m0 0h0m.2-.5h0m.3 .1h0m.1 .5h0m.6-1.1h0m.1 1.3h0m0-1.3h0m.8 1h0m.1 .4h0m-23 3.2h0m14.8-.7h0m1.7-.6h0m.6 .9h0m.8-1.6h0m.1 1h0m.1-.2h0m0 1.2h0m.1-.4h0m0-1.9h0m.1 0h0m.1 1.6h0m.3-1.7h0m0 1.6h0m.1-1.3h0m0 1h0m0-.8h0m.1-.4h0m.1 2.3h0m0-1.9h0m.1 .1h0m0-1.1h0m.3 .9h0m.2 .2h0m.1-.1h0m.2 .5h0m.1-.9h0m.2 .5h0m0 1h0m.1-.3h0m.2 .4h0m0-.5h0m0-.1h0m.1 0h0m0-.6h0m.1 .4h0m0-.2h0m.1 1h0m0-.1h0m.1-.7h0m0 0h0m.1-1.3h0m0 .7h0m.1-.3h0m.1 .4h0m0 2h0m.1-1.8h0m0 .1h0m.2-1.1h0m0 .5h0m0-.4h0m0 .5h0m.1 .1h0m.1 2.2h0m.2-1.3h0m0-1.7h0m0 2h0m.1-1h0m.1 1.2h0m0-.6h0m.3-.3h0m.1-1h0m0 1.7h0m.2-.4h0m.1-.7h0m.1-.5h0m.1 1.2h0m0-.6h0m.1 .5h0m.3-.4h0m0 .6h0m.1 1.1h0m0-2.1h0m.1 1.8h0m.3-1.7h0m.1 1.9h0m.1-2.2h0m.3 1h0m0 1.1h0m.2 .2h0m0-2.6h0m.2 1.5h0m.1 .9h0m.1-1h0m.1-1.2h0m.1 1.3h0m0 .6h0m.1-1.7h0m.2 1.4h0m.3-.2h0m.4 .3h0m.4 .7h0m-40.7 2.8h0m.5-.3h0m.6 .2h0m9.1-.5h0m.2-.5h0m.2-.1h0m0-.7h0m.1 .6h0m.2-.2h0m.6 .9h0m.1 0h0m.1 .9h0m0-.1h0m.1-2h0m0 .8h0m.1 .5h0m.3-.7h0m0 1.3h0m.2-1.8h0m.3 1.6h0m.3-1.1h0m.2 .9h0m.2-1.7h0m.1 1.7h0m0-1.3h0m.5 .5h0m0 0h0m.5 .4h0m.1-1h0m.2 1.6h0m0-.9h0m.1-.5h0m.1 .5h0m0 .6h0m.1-.7h0m.1-.1h0m.1 .7h0m.1-1h0m.2 1.4h0m.1-1.8h0m.3 .7h0m.1 1.3h0m0-.5h0m.2-.5h0m.3 1h0m0-1.5h0m.2 1.1h0m.4-1.5h0m.5 2.1h0m.1-2.2h0m.1 2.2h0m0-.9h0m.1 .2h0m.5-1.2h0m.2 .1h0m.1 1.3h0m.2-.1h0m.9 .3h0m0-1h0m.4 0h0m.3 1.4h0m.2 0h0m.1-1.1h0m.1 .3h0m.4 .2h0m.1-1h0m.3 .2h0m0 .9h0m.6-.5h0m.8 .9h0m.1 0h0m3.7-1.5h0m.7-.5h0m.5 1.8h0m.2-2h0m.4-.2h0m.1 1.3h0m.1-.4h0m.1 .6h0m.1-.5h0m.1-1.1h0m.2 .7h0m.2-.1h0m.1 1.6h0m.1-.5h0m0-1.8h0m.2 .8h0m0-.7h0m.1 1.6h0m.1 .9h0m.1-1.2h0m.1 .8h0m0-2.4h0m.2 2.7h0m0-1.1h0m.5 .8h0m.3-.4h0m.1-1.1h0m.1-.9h0m0 2h0m.2-.7h0m.1 .3h0m.1 .7h0m.1-1h0m0 1.5h0m.1-1.3h0m.1 .7h0m0-.2h0m.3 .6h0m.1-1.9h0m.1 2h0m0-1.8h0m.2-.2h0m.2 1.4h0m0-.4h0m.2 .6h0m.2-1.3h0m.1-.3h0m0 2.1h0m.1-2.3h0m0 1.5h0m.2-.3h0m.1-1.3h0m.4 .8h0m.1-.1h0m0-.9h0m.1 .4h0m.1 .4h0m.1-.9h0m.3 0h0m.1 .8h0m.1-.6h0m0 0h0m.2 .5h0m0-.2h0m.2-.1h0m.1 .8h0m0 0h0m0-1.4h0m.1 1.8h0m0-1.6h0m0 1.9h0m.2-1.9h0m.1 1.9h0m0-2.1h0m.2 3h0m.1-2.6h0m.1 1.8h0m0-1.8h0m0 2h0m.5-2.3h0m0 1.7h0m.1-.8h0m0 1.6h0m.2-.5h0m0 .4h0m0-2.3h0m0 1.2h0m.1 0h0m.2 .2h0m0-1.3h0m.1 .6h0m0 1.6h0m0-1.4h0m0-.8h0m.1 .1h0m.1-.3h0m.1 2.4h0m.1-.8h0m.1 1h0m0-2.2h0m0 1.5h0m.1-1.2h0m0 .6h0m.1-.4h0m.3-.6h0m0-.3h0m.1 .4h0m0 2h0m.2-.8h0m.2-1.2h0m.2 .6h0m0-1h0m.3 .1h0m-45.4 5.1h0m.7 .4h0m1.2-.1h0m.2 .4h0m.9-1.6h0m.2-.4h0m.3 .2h0m.3 .9h0m0 .3h0m.2-.7h0m.3 .1h0m.3 0h0m0-.3h0m1.4 .7h0m.6 .5h0m.5-1.2h0m.3-1.2h0m.7 1.6h0m.6 .3h0m0-1h0m.4 1h0m.1-2.1h0m.3-.1h0m.3 2.7h0m6.8-2.1h0m.1 .2h0m.3 .1h0m.1-.6h0m.2 0h0m.1 .1h0m0 0h0m.4-.1h0m.3 1.4h0m.1-1.6h0m.1 .9h0m0-.3h0m1.1 1h0m.5-.7h0m.3 0h0m0 .5h0m.1 0h0m0 .2h0m.1-.3h0m.4-.2h0m.2 .2h0m.1-1.1h0m.2 .8h0m0-.1h0m.3-.8h0m.2 .9h0m0 .1h0m.5-.9h0m.3-.3h0m.5 .8h0m0 .2h0m.4 .1h0m.3-.4h0m.1 0h0m.4 1.6h0m.1-.3h0m.2 .5h0m.2-1.3h0m.1 .1h0m.1 0h0m.3-.9h0m.2-.1h0m.2 2h0m.6-2.2h0m.3 .5h0m.3 .3h0m.2 .6h0m.2-.2h0m.1-1.1h0m.1 1.4h0m.1 0h0m.1 .5h0m.1-2h0m0 1.9h0m.6-.8h0m.1 .4h0m.1-1.5h0m.1 1.5h0m.1-.7h0m.1 1h0m.3-1.7h0m.1 0h0m.5-.1h0m5.2 .7h0m.9-.7h0m.8 .8h0m.4-.3h0m0 .2h0m.4-.7h0m0-.1h0m.7 1.1h0m.4-1h0m.5 .6h0m.2-.3h0m.7 .3h0m0-.6h0m0 .2h0m1.3 .6h0m.9-.6h0m0 .3h0m.1-.3h0m-49.9 5.6h0m2.9-.5h0m.1-.4h0m.5 .2h0m.1 .2h0m.2-1h0m.1 0h0m0-.2h0m0-.1h0m.1 1.4h0m.8 .1h0m.5-1.7h0m.8 .5h0m.7-.4h0m.8-.2h0m.6-.1h0m0 1.4h0m.1 .1h0m0 .6h0m.1-2.4h0m0 1.9h0m.3-2h0m0 2h0m.1-.1h0m0-1.2h0m.1 1.4h0m.1 .2h0m.1-.1h0m.2-1.8h0m1 .4h0m.3 .5h0m.3-.5h0m.2 1.7h0m0 .1h0m0-.1h0m0-2.1h0m.2 1.9h0m.2-1.2h0m.8-.8h0m.2-.6h0m.1 2.8h0m.1 .2h0m.1-.7h0m.3 .5h0m.2-2.3h0m.3 1.3h0m0 0h0m.1-.1h0m.3-1h0m.1 1.2h0m.7-1.6h0m.2 .7h0m0 1.3h0m0-1.4h0m.4-.4h0m0 2.2h0m.3 .2h0m.3-2.5h0m.1 .7h0m.1-.8h0m.4 2.4h0m0-.1h0m.5-1h0m.1-1.4h0m.2 2.8h0m.2-2.7h0m.4 .6h0m38.6-.5h0m.4 .2h0m0 0h0m.4 .9h0m.1-.8h0m0 .1h0m.1-.1h0m1 1h0m0 .8h0m.4-.1h0m.7-.9h0m.6 1.5h0m.3-.5h0m.2 .1h0m-67.3 3h0m2.5-.2h0m.9-.9h0m.8-.2h0m.4 1h0m.9 .7h0m0-.4h0m.2-.7h0m1.6 .2h0m.1 0h0m.4-.1h0m.1 .1h0m.8-1.6h0m.4 2.1h0m.3-.2h0m0-.1h0m.4-.3h0m0-1.9h0m.3 .6h0m.3-.3h0m1.1 .9h0m.2-.5h0m.1 .2h0m.2 .6h0m0-1.3h0m0 .4h0m.1 2.2h0m.2-2.4h0m.1 2h0m.1 .2h0m.4-.8h0m.1-1.2h0m.2 .7h0m0-.2h0m0-.2h0m.1 1h0m.1 .1h0m.1 .3h0m.5-1.9h0m0 .6h0m.1-.2h0m.1 0h0m.4 1.8h0m.1 0h0m.1-2.1h0m.4 1.5h0m.2-.8h0m.2-.8h0m.1 .5h0m.2 .4h0m0-1h0m.1 .9h0m1.5 1.2h0m.2-.4h0m.6 .8h0m.3-1.5h0m0-1.2h0m.3 .3h0m.1 2.1h0m.5 .3h0m.1-1.1h0m.4-1h0m.1 .8h0m.2-1.5h0m.2 1.1h0m0 .1h0m.1-.2h0m.5-.5h0m.1 0h0m.2 .9h0m1.1-1.5h0m.2 .4h0m.5 .1h0m43.3-.3h0m.6 0h0m.1 .3h0m.1 .1h0m0 0h0m.3-.3h0m.3 1.3h0m.2-1.1h0m.3 .5h0m-69.4 2.7h0m1.1 0h0m.4-.7h0m1.7 1.3h0m2.2-.7h0m.1-.4h0m.5 2.3h0m.9-1.8h0m0 2.1h0m.3-1.1h0m.4 0h0m.6-1.1h0m.6-.2h0m.5 .2h0m.3 1.7h0m1.1-2h0m1 1.3h0m0-1.1h0m.1 .3h0m0-.3h0m.3 1.2h0m.6 .7h0m.2-.3h0m1.1-.2h0m.3-.1h0m0-.1h0m.5-1.2h0m0-.2h0m.2 .9h0m.1-.4h0m.1-.5h0m0 2.1h0m.3-2h0m.3 2.3h0m0 0h0m.3-.9h0m0-.3h0m0-.2h0m.1-.7h0m.2 1.8h0m.4-1.3h0m.3-.6h0m0 1.3h0m.1-.4h0m.1 1.1h0m.6-.7h0m0-1h0m.3 1h0m.2 1h0m.1-1.7h0m0 .8h0m.3-1.9h0m.1 .8h0m47 1.5h0m.1-.2h0m.3 .5h0m.4 0h0m.1-1.2h0m.2 .2h0m-61.9 2h0m3.1-.6h0m.5 .5h0m0-.1h0m.1 1.2h0m.2-.4h0m.1-.1h0m.1-.6h0m.4 .2h0m.8-.2h0m.8 .5h0m0 .4h0m.3-.2h0m.2-.2h0m.4 .4h0m.4-1.4h0m.3 0h0m.1 .1h0m.1 1.1h0m.2 .3h0m.6-.5h0m.1-.8h0m.1 .7h0m.1-.6h0m.6 .6h0m.2 .1h0m1.1-.2h0m.3-.2h0m.4 .1h0m.6-.3h0" stroke="#FF61C3" stroke-width="0.95" stroke-linecap="round" fill="none"/>
<path d="M296 68.8h0m.1-.2h0m0 .4h0m.3-.6h0m.2-.1h0m-3 3.7h0m.3-.3h0m.2-.9h0m.1-.1h0m0 .7h0m0-1.8h0m.2 1.2h0m.1-1.3h0m.2 .9h0m.1-.7h0m.1 1.7h0m.5-1.4h0m.1-.5h0m.1 .1h0m0 1.7h0m.2-1.1h0m.1 .7h0m.1 .1h0m0 1h0m.4-1.7h0m0 0h0m0-1h0m.3 .5h0m-2.4 2.2h0m26.5 15h0m.1 .4h0m.1-.2h0m.3 0h0m.1 .8h0m.1-.3h0m.3 .2h0m.3-.5h0m1.6 1.2h0m.1 .4h0m1.3 .5h0m-31.4 3h0m3.3-.7h0m2.4 .9h0m2.3 .1h0m.1 .2h0m.8-.1h0m1.7-.2h0m2.3-.1h0m.5 .2h0m.6-.9h0m1.4-.3h0m.1 1.3h0m.5 .1h0m1-2h0m.4 1.9h0m.4 .1h0m13.6-2.2h0m.2 .1h0m.1 0h0m.1-.1h0m0 .1h0m.2-.2h0m0-.4h0m.1 .4h0m.3 1h0m.1 .5h0m.7 .5h0m.2-.3h0m.1 .4h0m.3 0h0m.1 .2h0m-34 1.5h0m.8 1.4h0m.7-.6h0m.3-.6h0m.1 1.1h0m.9-.4h0m.1-.5h0m.3-.9h0m0 .7h0m0-.8h0m.5 2h0m1.4-1h0m.6 .9h0m0-1.7h0m0-.2h0m.1-.5h0m.1 1.4h0m0-1.3h0m0 2.2h0m.5-.3h0m.9-1.8h0m0 .1h0m.4 0h0m.3 1.8h0m.1-.3h0m.2-1.2h0m.7 1.3h0m.1-.4h0m.1-.6h0m.7 1.1h0m.1-.9h0m.4-.8h0m.1 .2h0m.1 .9h0m.9-1h0m.9 .2h0m.1 1.2h0m.1-1h0m.2-.4h0m.4-.2h0m.2 .8h0m.5 .5h0m.4-.4h0m.1 .1h0m.7-.1h0m0-.6h0m.2 .8h0m.5-1.2h0m0 1.6h0m.8-.6h0m0-.6h0m.2-.9h0m.2 1.8h0m.4-.6h0m.5 .5h0m.3 .7h0m1.8-1.8h0m.3 1.5h0m.2-2.1h0m.1 1.4h0m0-.3h0m.1 1.4h0m.1-.6h0m0-.4h0m.3 .7h0m.1-.6h0m.4 1.2h0m.2-.8h0m.2-.6h0m0 1.2h0m11.8-2.5h0m.5 .2h0m.1 .3h0m.1-.3h0m0 1.5h0m0-.4h0m0-.7h0m.2 .2h0m.9 1h0m-35.7 1.2h0m.2 2.6h0m.5 .1h0m.3-1.4h0m0-1.2h0m.2 2.4h0m.5-.3h0m0 .1h0m.3-1h0m.2-.8h0m.1 1.1h0m.2-.8h0m.1-.1h0m.2 1h0m.2-.9h0m.7 .2h0m.7 0h0m.1-.8h0m.2 1.2h0m0 1.2h0m.7-.2h0m.1-1.4h0m.3-1h0m0 2.6h0m.3 .1h0m.5-2h0m0 1.7h0m0 .4h0m.5-2.1h0m.7-.5h0m.1 .9h0m.5-1.1h0m.7 .6h0m.8 1h0m.2-1.4h0m.3 0h0m.1 1.8h0m.3-.5h0m.3 .2h0m0 .2h0m.1-.4h0m1 .2h0m.3-.9h0m.2-.7h0m0 .7h0m.2 .8h0m.2-.9h0m.9 1.2h0m.1-.9h0m0 .2h0m.5 1.1h0m0-1.1h0m1 1h0m.1-.6h0m.5-.7h0m.1 1.4h0m1.1-1h0m0-.4h0m.9 .4h0m.6-.2h0m.8-.6h0m.2 2.2h0m.5-2h0m.1 .9h0m0-1.2h0m1 .7h0m0 .8h0m.2 .2h0m0-1.9h0m.3 2.5h0m.1 0h0m.4-2.7h0m0 2.7h0m.1-.2h0m.1-1.1h0m.2-1.3h0m.1 .9h0m0-.2h0m.7 1.9h0m.2 .1h0m0-.1h0m.8 0h0m0-.4h0m-26.9 2.8h0m.5-2.2h0m.2 2h0m0 .8h0m.7-.3h0m.6 .4h0m.2-.4h0m.7-.6h0m.2-1.3h0m0 1.3h0m.4-1.3h0m.1 1.8h0m.1 .3h0m.4-2.7h0m.4 .9h0m0 0h0m.1-.6h0m.3 1.3h0m.6 1.3h0m1.2-.4h0m.2-1.3h0m1.1-1.1h0m.1 1.2h0m.7 .7h0m1.1 .7h0m.5-1.8h0m.4 .4h0m.2 .1h0m.4 1.5h0m1.1-1.6h0m.7 1.1h0m.3-1.2h0m.1-1.2h0m0 1.7h0m.4 .2h0m.7-.6h0m.1 .9h0m.1-.9h0m.6 .4h0m.7 .9h0m0-.9h0m.6-1.3h0m.2 1.2h0m.1-1.2h0m0 2.6h0m.1-2.8h0m0 .4h0m1.2 1.3h0m.1 .8h0m.3-2.5h0m.4 1.6h0m.3 1.2h0m.5-3h0m.6 2.4h0m0-.8h0m.4-1.1h0m.4 .9h0m0-.7h0m.3 .2h0m.2 0h0m.1 .2h0m.5 .3h0m.5 .6h0m0-1.9h0m.1 2.8h0m0-1.2h0m.1-1.5h0m.6 2.5h0m0 .3h0m.4-1.8h0m.3 1.4h0m0-.5h0m0-.8h0m.3-.2h0m.2-.4h0m.9 1.1h0m.5 .6h0m.7-.2h0m.1 0h0m8.3 .6h0m1.3 .2h0m1.6-.1h0m-39.4 3h0m.1-2.8h0m.4 2.6h0m.6-2h0m0-.2h0m.1 1.7h0m1.9 .4h0m.3 .1h0m0 .2h0m.5-1h0m.1 .5h0m.1-1.1h0m0 .9h0m.6-1h0m.3-.9h0m.2 1.1h0m.1-1h0m.1 1.2h0m.3 1.3h0m.9-.5h0m0 .4h0m.6 .1h0m.2-2.8h0m0 2h0m.1 .5h0m.2-1.2h0m.5 1.3h0m.2-.2h0m.4-1.6h0m.2-.2h0m.1-.5h0m.2 .9h0m.1 1.3h0m.2-1.9h0m.2 1.5h0m.4-.7h0m.4-.9h0m.4-.3h0m.3 .8h0m.6 .5h0m1.3 1.4h0m.3-1.4h0m.1 1.1h0m.7 .3h0m.3-1h0m.5 .5h0m.1 0h0m.3-.1h0m.1 .4h0m.2 .1h0m.1 .3h0m.3-.1h0m.3-.2h0m0-1.4h0m.2-.8h0m.5 .2h0m0 1.6h0m.2-2.3h0m.1 .1h0m0 1.3h0m.2 1.5h0m0-2.2h0m.4 2.3h0m.1-.8h0m.1-1.4h0m1.5 .5h0m.2 .1h0m.6 .2h0m.3-.8h0m.3-.6h0m0 1.2h0m.9-.5h0m.2 1.9h0m.2 .1h0m.1-2.4h0m1 .5h0m.2 .8h0m.3-.7h0m.4-.8h0m.1 2.4h0m.4-.4h0m.2 0h0m.1-1h0m0 .8h0m.1 .8h0m.3-1.6h0m0 1h0m.3-1h0m.3 .6h0m1.2-1.8h0m.1 0h0m8.3 .5h0m.1 .8h0m.2-1h0m.7 .5h0m.1 .1h0m.4-.6h0m1.1-.2h0m.8 .3h0m.1 .3h0m.2 .2h0m.1-.1h0m.5 0h0m.5-.7h0m.3 .2h0m.2 .5h0m.1 .2h0m-43.3 3.7h0m.7 .4h0m.7 .6h0m0-1h0m.2 .5h0m.7 .6h0m.2-.7h0m.3-1.3h0m.1 1.5h0m.3-.9h0m.1-.9h0m.4 1.7h0m.1-.9h0m.6-.2h0m.3-.6h0m.6 .9h0m.1-1.2h0m1.8 .3h0m.1 1.4h0m.5-1.5h0m.2 1.3h0m0-.9h0m.7 1.7h0m0-.5h0m.2-1.1h0m0-.4h0m.3 1.9h0m0-1.9h0m.1 .1h0m0 2.1h0m.5-.5h0m.2-1.6h0m.2 1.6h0m.6-1.9h0m.1 .8h0m.1-.6h0m.1 .4h0m.2 2h0m.3-.5h0m0-2.1h0m.1 1.1h0m.4 1h0m.9-1.8h0m.3 2.2h0m.3-2.5h0m.1 1.7h0m0 .7h0m.2-1h0m.2 .8h0m0-1.1h0m.2 .2h0m0-.1h0m.1-1.3h0m.7 .5h0m.1 .2h0m.3 1.2h0m.1-1.8h0m.3 1.7h0m.4-.6h0m.1 .5h0m0 .7h0m0 .1h0m.4-.7h0m.1-1.3h0m.1 0h0m.3 1.7h0m.3-.8h0m.2 1h0m.2-1.3h0m0-1.2h0m.1 .1h0m.3 2.1h0m.1-.5h0m.2-.6h0m1-.8h0m.1 0h0m.2-.3h0m.4 .2h0m0 1.9h0m.6-1.6h0m.1 1.3h0m.1-.3h0m0 0h0m.1-.4h0m.2 1.1h0m.5-1.1h0m.1 1.4h0m.1-2.1h0m1 .2h0m.1 1.1h0m.7-.5h0m.6-1.3h0m.2 2.8h0m.1-2.4h0m.3 .7h0m.1 .9h0m.1 .4h0m0-2.1h0m.3 1.4h0m.3-.9h0m.4 1.7h0m.1-2h0m.3 1.6h0m.7-.4h0m.1-.5h0m0 0h0m.1 .6h0m0 .7h0m.9-.8h0m.4-.1h0m0-.3h0m-33.5 4.5h0m1.3-.3h0m.9-1.2h0m.6 .9h0m0-1h0m.2 .6h0m.5 .1h0m.7 .4h0m.1-2.3h0m.4 2.8h0m.1-.1h0m.5-2.3h0m.6 1.7h0m.2 .2h0m0-2.2h0m.1 0h0m.3 2.6h0m.1-2.3h0m.1 .2h0m.1 2.1h0m.2-.9h0m.9-.1h0m.2-.4h0m0-.4h0m.2 .1h0m.1-.8h0m.1 2h0m.1 .1h0m.2-1.3h0m.2 .7h0m0-1.4h0m.1 2.4h0m.3-2.6h0m.2 1.1h0m.6-1h0m.4 .1h0m.5 2.4h0m.3-.3h0m1 .2h0m0-.9h0m.2-1.6h0m.2 2.8h0m.2-.9h0m.2 .6h0m.3-2.4h0m.2 .1h0m.1 1.3h0m.6 .5h0m.2-1.8h0m.1 1.1h0m.6 1.1h0m.1-.4h0m.2-2.1h0m.3 1.3h0m.3 .2h0m1.3-1.1h0m.3 2.2h0m0-2h0m0 2.2h0m.2-2.4h0m0 .2h0m.1 2h0m.1-2.1h0m0-.5h0m.1 2.8h0m.1-2.4h0m.5 2.4h0m.4-2.4h0m1.4 2.2h0m.1-.3h0m1.6-.5h0m.4 .3h0m.2-.4h0m0-.2h0m.2 .4h0m.3-.5h0m.5-.4h0m.3 1.9h0m.2-.7h0m.4-1.8h0m1.3 1.4h0m.8 .3h0m.4 .3h0m.1-.8h0m0-.6h0m.1 .1h0m0 1.7h0m.1-2.5h0m.6 2.2h0m.2-1.6h0m1 1.1h0m0-.6h0m.7 0h0m.3 .8h0m.1-.7h0m0 .8h0m0-.8h0m.4 .7h0m.1 .4h0m.2-1h0m0 1.1h0m.4-2.3h0m.3-.1h0m.1 .4h0m.1 .6h0m0-.2h0m.3-.9h0m0-.2h0m0 2h0m.3-.7h0m.1 1.3h0m0-1.9h0m.4 1.3h0m.3-.6h0m.1 .8h0m.2-.2h0m.8 .1h0m-37.9 2.8h0m.4 .4h0m.5-.5h0m1.7-.9h0m1.5 .1h0m.1-.3h0m.1-.7h0m.3 .8h0m.2 1.1h0m.2 0h0m.2-1h0m0 1.5h0m0-2.4h0m.1 1.9h0m.1 .1h0m.1-1.2h0m.1 1.3h0m.1-.7h0m0-1.4h0m.1 2.3h0m1.1-.2h0m.1-1.5h0m.4 .2h0m.2 2h0m.2-2.1h0m.1 .8h0m.2-1.3h0m.2 2h0m.1-.5h0m0 .6h0m0-1.3h0m.1-.5h0m.2 1.3h0m.1-1.7h0m.9 .2h0m.2 1h0m.1 .7h0m.6 .6h0m.2-1h0m.1-.5h0m.2-1.1h0m.1 2.5h0m.2-2.1h0m0 .1h0m.2 .9h0m.5 1.4h0m.3-.3h0m.5-1.7h0m.6 1.3h0m.5 .4h0m0-1.4h0m.2 1.1h0m.2-1.3h0m.1 1.8h0m.1-1.7h0m0 1.5h0m.3-1.5h0m0-1h0m0 1.8h0m.3 .8h0m.2-2.6h0m.1 0h0m.1 .4h0m.3-.3h0m.8 1.3h0m.2 .6h0m.5-1.1h0m0-.9h0m1.5 2.7h0m.2-1.1h0m.4-.7h0m.2 .2h0m.2-.1h0m0-.1h0m.2 0h0m0 .4h0m1.3-.7h0m0 0h0m.1-.2h0m1.6 .7h0m.9 1.5h0m0-2.5h0m.4 1.8h0m.2-1.5h0m.8 1h0m.2 .5h0m.1-2h0m0 2.2h0m.1-1.2h0m.4 .9h0m.1-.8h0m.7-.4h0m1.8 .3h0m.3-.4h0m.1 1.5h0m.6-.9h0m0 .4h0m0 .1h0m1.3-.6h0m.2 1.8h0m.1-.4h0m.6-1.8h0m.2-.2h0m.3 1.5h0m0-.1h0m.1 .2h0m0 0h0m.1-.1h0m.3-.9h0m.1 1.2h0m.6-2.1h0m.9 .3h0m0-.4h0m.5 2.6h0m.4-2.2h0m.2 0h0m.5 1.9h0m0-2.3h0m.3 2.4h0m.7-2.3h0m2.9 2.7h0m-41.7 2.3h0m.7-.4h0m.4 .5h0m1.9-1.4h0m.2-.1h0m.1 1.9h0m0-2.4h0m.1 .3h0m.8 2.1h0m.2 0h0m0-.3h0m.4-.6h0m.6-.5h0m.5 .5h0m0-.7h0m.3 1.4h0m.4 .3h0m.1-2.6h0m1.1 2.3h0m.8-.5h0m.2-.4h0m0-.9h0m.8 1.1h0m0 .2h0m.1 .1h0m0-.2h0m.3-.2h0m.4 .8h0m.1-1.4h0m0 .3h0m.2 1.6h0m.1-.4h0m.3 .1h0m0-2.4h0m.2 .6h0m.2 .2h0m0 .7h0m.2 1.1h0m0-2.6h0m.6 1.5h0m0-.4h0m.3-.1h0m.1 .2h0m.3-.6h0m0 1.5h0m0-.9h0m.9 .6h0m0 .3h0m.2-.4h0m0-1.9h0m.1-.1h0m.1 2.3h0m.3-1h0m.4 0h0m.8-1h0m.5 .6h0m.1 2.1h0m.1-2.3h0m.1 .1h0m.1 1.5h0m.6 .3h0m.2-2.2h0m0 .1h0m.1-.2h0m.1 .5h0m0 .7h0m.1 .5h0m.5-.2h0m0 0h0m.1 1h0m0-.4h0m.4-1.6h0m.4-.1h0m.6 1.5h0m.2 .3h0m.2-.3h0m.5 .2h0m0-.1h0m.5-.4h0m.1 .2h0m.1-.1h0m.9 .3h0m.1-1h0m.1 1.2h0m.6-.2h0m.1-1.2h0m.7-.2h0m0 .6h0m.1-.4h0m.3 1.5h0m0-2.4h0m.2 .9h0m.3-.4h0m0 1.8h0m.1-1.4h0m.2 1.6h0m0-1h0m.1 .8h0m0-1.2h0m.1-.6h0m.5 .3h0m1.4 1.3h0m.4-.3h0m.3-.6h0m.2 .5h0m.2 .5h0m.1 .1h0m.7-.5h0m1.1 0h0m.1 .2h0m.2-.8h0m0 .9h0m.2-2.3h0m.1 .9h0m.2-.5h0m.3 1.8h0m.3-1h0m.5 1.5h0m.3 .3h0m.3-.5h0m.2 .4h0m.6-2.3h0m.1 1.2h0m.1-.4h0m.7-.3h0m.2-.1h0m.9 1.4h0m.1-.3h0m.2-1.8h0m.8 .6h0m.2-.6h0m3.5 1.1h0m.1-.3h0m.2-.7h0m.2 .1h0m.3 .3h0m.3-.1h0m.1 .6h0m-41 2.7h0m.5-.6h0m.3 .1h0m.5 .5h0m.2-.7h0m.7 .1h0m.5 0h0m.5 .3h0m.5-.5h0m.4 .7h0m.5 0h0m.1 .9h0m.5-.6h0m.5-.4h0m.2 .7h0m.2-.5h0m.6-.4h0m.6-.5h0m.2 .7h0m1.1 0h0m.5-.6h0m1.5 .5h0m.5-.3h0m2.7 .3h0m2.1-.7h0m.3 .4h0m3.6 .5h0m.5-.7h0m.9 .9h0m.5-.3h0m.8 1.8h0m.1-1.4h0m.2 .6h0m.1-.6h0m.1-.7h0m.3 1.5h0m.1 0h0m.3-1.5h0m.2 1.8h0m.1 .6h0m.2-1.7h0m.3-.2h0m0 .2h0m.1-.9h0m.2 1h0m1.4-.4h0m.1 1.1h0m.4-.4h0m.1-.3h0m.3 .2h0m.2 .3h0m.2-.7h0m.2 1.8h0m.7-1.4h0m.5 .6h0m.2-1h0m.3 1.6h0m.4-2.3h0m.1 1.8h0m.3-1.7h0m.1 .5h0m.2-.7h0m1 .9h0m.6-.5h0m.1 .4h0m.3-.2h0m.4 .2h0m.3-.3h0m.1 1.8h0m.2-1.9h0m1.1 2h0m.1-2h0m.3 2.1h0m0-.2h0m0-.5h0m.1-2h0m-11.1 4.3h0m.6-.4h0m.8-.2h0m.1-.7h0m.3-.1h0m.4 3h0m.4-2.3h0m.9 2.2h0m.4 0h0m.1-1h0m0 1h0m0-1h0m.2-.3h0m.2-.8h0m.2 .8h0m.3-1.3h0m.2 .6h0m.4 1.2h0m.2-.8h0m1-1.1h0m2.6 .3h0m.1 .5h0m0-.7h0m.2 .5h0m.1 .5h0m.1-.5h0m.2 1.6h0m0-.4h0m.4 .8h0m.6-2.6h0m.4 .6h0m0 .4h0m.1-.8h0m-12.6 5h0m.3 .3h0m.1 .1h0m.2-.1h0m0-.8h0m.2 .1h0m.4-.2h0m.2-1.8h0m0 1.3h0m.6-.6h0m.2 1.2h0m.2 0h0m1.2-1.8h0m.8 1.1h0m.2 .2h0m.2-.5h0m0-.8h0m0 .2h0m.1 0h0m.3 .1h0m0 1.2h0m.4-.8h0m0 0h0m.8-.7h0m.1 2.7h0m.3-1.9h0m0 .6h0m0 1.3h0m0-.3h0m.3-.4h0m.4 .8h0m.9-1.9h0m.2-1h0m.2 .9h0m.2-.8h0m.1 1.7h0m.3-.3h0m.3-.2h0m.1 .3h0m.8-1.3h0m.2 .6h0m.1 .7h0m.9 .4h0m0-1.7h0m.4 1.1h0m.3 .2h0m.1 .9h0m.1-.1h0m.7-2.3h0m.2 1.4h0m0 1.2h0m.7 .3h0m-47.2 2.4h0m.5 .6h0m.2-.2h0m0-.6h0m.1 .6h0m.3-1.5h0m.3 .3h0m.3-.1h0m.1 .9h0m0-1.7h0m.1 1.6h0m.1-.4h0m.1 0h0m.7-.2h0m0-1.7h0m0 2.8h0m.2-1.3h0m.3 1.5h0m0-1.4h0m.1 .2h0m.2-1h0m.1 1.2h0m.4-.8h0m0 .3h0m.3-1.1h0m0 2.2h0m.4-1.3h0m0-1h0m.2 .8h0m0 1.6h0m.1-1.2h0m0-.7h0m.2 1h0m.2-.8h0m0 1.5h0m.1-.8h0m18.2 .7h0m2.8 .4h0m1.8 .1h0m.8-1.5h0m.4 .6h0m.7 .2h0m0-1.1h0m.5 1.1h0m.3 .3h0m.4-1h0m0 1.2h0m.1-2.7h0m.2 1.5h0m.1 .1h0m.1-.4h0m.1-.8h0m.1 1.2h0m.1 .2h0m.1 .2h0m.5-.4h0m.1 .3h0m.4-1.7h0m0 1.3h0m0 .7h0m.2-2h0m.6 1.3h0m2.3 .3h0m.6 .5h0m0-.1h0m.1-.2h0m0-.8h0m.3 .1h0m.4 .5h0m.2 .9h0m0-.4h0m.1 .4h0m.3-2.5h0m0 .7h0m.6-.5h0m.3 2.2h0m.6-1.7h0m.3 .4h0m.3 .3h0m1.2-1h0m.2 0h0m.3 1.8h0m.2-.5h0m.3-1.3h0m.5 1.2h0m1-1.1h0m.1 0h0m.4-.1h0m.3 1.3h0m1.1-.9h0m0-.1h0m0-.4h0m.6 1.2h0m.1-1.2h0m.2-.2h0m.1 .6h0m.7-.6h0m-47.3 2.9h0m1.2 1.7h0m0-1h0m.2-.6h0m.4 1.2h0m.2-1.2h0m.1 2h0m0-1.1h0m.1 1.2h0m.4-2h0m.3 .8h0m.2 .1h0m.1 .1h0m.5-.2h0m.3 .2h0m.2-1h0m.2 1.5h0m16.1-1.1h0m.2 1.9h0m.8-1.3h0m.3 .1h0m.9 .1h0m.4 .3h0m1 .8h0m.9-1.6h0m0 1.7h0m1.2-.4h0m.1-1.8h0m0 2.3h0m.2-1h0m0-1.7h0m.1 1.4h0m0-.7h0m.5 1.8h0m.1-1.6h0m.3 0h0m.5-.6h0m.1 1.7h0m.1-.8h0m.4-.3h0m.2-.3h0m.3-.3h0m.3 .8h0m.4-.7h0m.1 1.9h0m.3-.8h0m.6-1.5h0m.4 2.1h0m.2-1.9h0m1.1 1.1h0m.3-1.3h0m.2 .7h0m.3-.7h0m.6 .9h0m.1 .4h0m.7 1.1h0m.5-1h0m.7 .8h0m0-.3h0m0 .3h0m.6 .4h0m.1-2.8h0m0 1.8h0m0-1.2h0m.1-.4h0m0-.2h0m.2 2.7h0m.7-1.9h0m.6 0h0m.2 .3h0m.2 1h0m.2-1.9h0m.3 1.2h0m.1 .4h0m.6-1.7h0m2.7 .5h0m1 .4h0m-16.5 2.2h0" stroke="#00C19F" stroke-width="0.95" stroke-linecap="round" fill="none"/>
<path d="M284.5 48h0m1.5-.5h0m1.2 .4h0m1-.1h0m.1-.4h0m0-.3h0m-5.5 1.1h0m.7 1.4h0m.4-.3h0m.2-.5h0m.2-.1h0m.3 1.2h0m0 .6h0m.3-1.1h0m.2-.5h0m.1 .3h0m.6 .5h0m.3-1.5h0m0 2.6h0m.3-.3h0m.1-2.1h0m.1 1.6h0m.1-1.8h0m.4 1.8h0m0-1h0m.4 1.1h0m.4-1.3h0m.2 1.9h0m.3-1.1h0m.1-.9h0m.4-.6h0m.3 .7h0m0 .7h0m.3 .1h0m.2-1h0m.2 1.7h0m1.1-.3h0m0-.1h0m.2 1h0m.2-2h0m0 1.7h0m.5-.1h0m1.1-.8h0m0 .3h0m.1 .8h0m.3-1.4h0m.5-.1h0m.9 1.7h0m0-1.4h0m.2 .7h0m.1-.7h0m.1 .7h0m.2-.3h0m.3-.3h0m.3 1.1h0m.2 0h0m.1-.8h0m.2 .9h0m-11.2 .3h0m.5 .1h0m.4 1.7h0m.1-.8h0m0 .2h0m.2-.2h0m.4 .1h0m.6 .5h0m.3-1.8h0m0 2.3h0m.3-2.3h0m0 1.1h0m.3 .2h0m0-.3h0m.5-.8h0m.5 1.7h0m.4-.3h0m.3-1.4h0m0 1.3h0m0-.6h0m.1 .4h0m0 .7h0m0-1.3h0m.1 2.1h0m.2-.9h0m.4 .7h0m.1-1.3h0m.1 1.3h0m.3-1.7h0m.2-.1h0m.3 1.3h0m0-1.2h0m0 .6h0m.1 .8h0m0-2.2h0m.1 2.1h0m.8-1.6h0m.2 .6h0m.6 .2h0m.1 .8h0m.1-.3h0m.2 .6h0m.2-1h0m.3-.6h0m.3-.7h0m.2 .9h0m0 1.9h0m.8-1.2h0m.2-1.2h0m.2 .5h0m.1 1.8h0m.2-1.7h0m.1 1h0m.5 0h0m.1 .4h0m.3-2.1h0m0 1.5h0m.2-.3h0m.4-1h0m.4 .8h0m.1 1.5h0m.6-2.8h0m.6 1.9h0m.8-.7h0m.6 .8h0m.5 0h0m.7 .6h0m.9-.1h0m1.3 0h0m.3 .1h0m-17.3 .3h0m2.5 1.2h0m.8-.5h0m.2-.5h0m.2 .5h0m.4-.8h0m1 .6h0m.7 .9h0m0-.5h0m.2 .9h0m0-.5h0m.4 .7h0m.3-.7h0m.4 .9h0m.2-.3h0m1-1.8h0m.2 .4h0m.6 1.2h0m0-.4h0m.5 .5h0m0-.5h0m.3-1.3h0m.4 1.1h0m.1 1.6h0m1.1-1.3h0m.2-1.1h0m0 0h0m.4-.1h0m.3 1.9h0m0 .6h0m1-1.4h0m0-.5h0m.3 .5h0m.1 .7h0m.1-.3h0m.1-1.4h0m.3 .1h0m.2 .1h0m.1 .8h0m.2 1h0m.4-2h0m1.3 1.2h0m.1 .9h0m.2 .1h0m.1-2.2h0m0 .9h0m.1-.5h0m0 .2h0m0 1h0m.6-1.5h0m0-.1h0m.2 1.4h0m.4 .2h0m.3-1.5h0m.1 .5h0m.3 1.1h0m.2-.1h0m.3-.6h0m.1 .3h0m.3 .7h0m.4-2h0m.2 1.6h0m1.5 .5h0m.1-1.1h0m.5 .1h0m.7 .6h0m2 .8h0m1.3 0h0m.1-.7h0m.1 .5h0m1.7 .2h0m-11 .3h0m0 .5h0m.2 .2h0m.4-.2h0m.1 2h0m0-1.5h0m.1-.8h0m.4 .9h0m.2 1.4h0m0-2.3h0m0 1.8h0m.1-1.8h0m.3 0h0m.3 .9h0m.4-1.2h0m.3 .9h0m.2 .5h0m0-.8h0m.1-.6h0m0 2.5h0m.2-1h0m.6-1.6h0m.3 .6h0m0 .6h0m.2-.9h0m.1 2.6h0m.2-1.9h0m.2 .1h0m.2 1.1h0m.4-.9h0m0-.2h0m.2-.7h0m0 2.5h0m1.3-.8h0m.2 .2h0m0 .6h0m.7-1.2h0m.5 0h0m.5 .4h0m0-1.9h0m.6 2.7h0m.7-2.3h0m0 .7h0m.3 .4h0m.1 .7h0m.3-1.9h0m.2-.3h0m.5 1h0m0-1h0m.2 2.2h0m.1-2.2h0m0-.1h0m.1 2.6h0m.1 0h0m.3-.5h0m0-1.2h0m.5 1.4h0m.7-.4h0m.1-2h0m.5 2.2h0m.4 .4h0m0 .4h0m0-.8h0m.6 .8h0m-22.8 2.7h0m.4-.8h0m1.5 .4h0m.9 .7h0m.4-.1h0m.7-.1h0m.1 .1h0m3.7-1.2h0m0 1.1h0m.1-.1h0m.1-2.6h0m.4 0h0m.1 2.7h0m.2-2.6h0m.6 0h0m0 2h0m.1 .7h0m.2-.2h0m.2-1.7h0m1-1h0m.1 2.7h0m.2-2.2h0m.1 1.8h0m.3-.5h0m.1 .9h0m.1-2.3h0m0 .9h0m.4 1h0m.4-.5h0m0-1.2h0m0 .3h0m.1 .5h0m.4-.8h0m.3 .6h0m.2 .3h0m0-1.3h0m.1 2.6h0m.1 .2h0m0-2.6h0m.4 0h0m.9 .2h0m.1-.2h0m.2 1.7h0m.3 .1h0m.5-2.1h0m.2 .3h0m1 2.1h0m.8-1.1h0m.6-1.3h0m.6 1.1h0m.7-1.1h0m1.1 .3h0m1 1.1h0m.2-1.1h0m-23 3.2h0m1 0h0m1.5-.2h0m2 .2h0m.2-.1h0m5.8 0h0m.8 1.4h0m1.4 0h0m.2-.6h0m.1-.5h0m.1 .2h0m.2 1.1h0m.3-.9h0m1.4-.4h0m.1-.5h0m0 .1h0m.2 .3h0m.1 .6h0m0-.2h0m.1 1.5h0m.2-2.6h0m.1 .5h0m.2 2.4h0m.8-2.3h0m0 .8h0m.6 1.4h0m.2 .1h0m.4-.6h0m.1-.3h0m.3-2h0m.4 .7h0m.2 1.3h0m.5-.8h0m.3-.5h0m.6 .2h0m.2 .9h0m-4.7 2h0m.3-.6h0m1.7-.1h0" stroke="#00B9E3" stroke-width="0.95" stroke-linecap="round" fill="none"/>
<path d="M283.6 38.8h0m1.4-.5h0m.7-.1h0m.6-.3h0m.8 .9h0m.1-.4h0m.2-.6h0m.1 .1h0m.5-.8h0m.1 .3h0m.1 1.2h0m.1-1.8h0m.2 1.9h0m.2-.5h0m.2 .7h0m0-.3h0m.2-.7h0m.1-1.1h0m0 .6h0m.2 .1h0m.3 .9h0m0-1.5h0m.1 .2h0m.4-.1h0m.2 1.6h0m.7-1.6h0m.2 .3h0m.4-.3h0m.3 .2h0m.9 1.2h0m.3-.1h0m.1-.4h0m0 .7h0m.2-.8h0m.1 .8h0m.1 0h0m.1-1.2h0m.2 .6h0m.6 .4h0m.3-.1h0m.1 0h0m.1 0h0m.1 .1h0m.2-.7h0m0 .7h0m0-.2h0m.6 .6h0m.2 .2h0m.2-.7h0m.1-.2h0m.3 .9h0m.9-.7h0m.2 .3h0m-12.4 .6h0m.1 .1h0m2.7 .3h0m.7-.3h0m5.2-.2h0m.1-.1h0m.1 0h0m2 .4h0m.8 .7h0m.6-1h0m1 .2h0m.4 .7h0m.1 1.3h0m.1-1.5h0m.1 0h0m.1 .9h0m.1 0h0m.2 .1h0m.3-.9h0m.4 .7h0m.2 1h0m.3 .3h0m.5-.9h0m0-.5h0m.2 1.1h0m.2-.2h0" stroke="#DB72FB" stroke-width="0.95" stroke-linecap="round" fill="none"/>
<path d="M302.1 71.6h0m.6 .4h0m.8-1h0m.1 .9h0m.2-.4h0m.1 0h0m1.2 0h0m.3 .1h0m.1-.1h0m-3.4 .7h0m.1 .6h0m.1-.5h0m.1-.1h0m.3 .8h0m.6-.1h0m.2-.1h0m.1 0h0m0 .5h0m.7 0h0m.2-1.1h0m.9 .8h0m.3-.8h0m.5 .3h0m.1-.1h0m.5-.3h0m.1 .2h0m.2-.1h0m.5 .9h0m0-.5h0m.4 .8h0m.3-1h0m0 .1h0m.1 .1h0m.1 .3h0m1.4 0h0m.7 0h0m.3 .5h0m-73.4 22.3h0m.9-.7h0m1 .1h0m.1-.2h0m.1 .8h0m-17.1 1.8h0m.1 .1h0m.2 .5h0m.1-.3h0m.5 .7h0m.7 .2h0m15.3-2.6h0" stroke="#619CFF" stroke-width="0.95" stroke-linecap="round" fill="none"/>
<path d="M293.9 49.8h0m.2 1h0m.1-.5h0m.2-.1h0m1.8-.9h0m1.2 .6h0m1.4 .9h0m-43.7 3.1h0m32.1-2.7h0m.5 .6h0m1.6-.1h0m4.7 .1h0m1.3 1.2h0m1 .2h0m-38.4 1.6h0m.2 0h0m.4 1.1h0m.4 .4h0m3.3-.9h0m2.5 .9h0m.2 .7h0m.5-1.2h0m1-.1h0m22.3-1.3h0m10.1 .5h0m9.9 1.3h0m2.8 .2h0m.3-.8h0m.3 1.3h0m-45.3 1h0m.6-.1h0m.2 .3h0m3.6 .7h0m.2-.5h0m.5 1.3h0m3.8 0h0m5.9 .1h0m29.7-1.5h0m.3-.1h0m.1-.2h0m.7-.3h0m.2 .7h0m0-.2h0m0 0h0m.2-.7h0m0 .2h0m.5 .3h0m1.3-.2h0m.1-.1h0m0 0h0m-70.3 2.5h0m20.5 1h0m0 0h0m.7 .4h0m.1 0h0m7.1 .2h0m.3 0h0m.4 .7h0m4.4-1.6h0m.1 .6h0m1-.9h0m.1 .6h0m.7-.6h0m.6 .8h0m.6-.9h0m.5-.2h0m.6 .6h0m.1 1.1h0m.3 0h0m.1 .3h0m.9 .1h0m.5 .2h0m.1 0h0m.3-1.3h0m.3 .6h0m.2 .3h0m28.3-1.6h0m.2 .8h0m.2-.9h0m1.5 1.9h0m.1 .4h0m.1-1.4h0m1.7 .7h0m.2 .5h0m0-1.6h0m0-.1h0m.5 2h0m.2-2.3h0m.1 2.4h0m.1-.5h0m.2 .3h0m.1-1.2h0m.6 1.2h0m-70.1 2.7h0m2.3-1.3h0m.4 .6h0m.1-.5h0m4-.2h0m.3 .1h0m0 .9h0m6.3-1.5h0m4.4 2.2h0m.8 0h0m2.2-2h0m.1 2h0m.1-.1h0m0-1.9h0m0 1.2h0m.3 .4h0m0-1.5h0m.1-.1h0m.1 1.5h0m9.6-.4h0m4.1-1.8h0m33.2 .8h0m.7-.3h0m-73.8 5h0m1.4-.6h0m.1 .2h0m.6-1.1h0m.1 .5h0m1.3 1.4h0m.4-.2h0m14.9-2.7h0m2.4 2.7h0m.2-.1h0m.1-.2h0m.3 0h0m.4-.6h0m.1 .7h0m0-.4h0m.1-.2h0m0-1.3h0m.3-.2h0m9.3 1.8h0m0 .8h0m.3-.7h0m.1 .5h0m0-.2h0m1.4-2.4h0m4.6 2.7h0m-40.2 .6h0m5.2 .4h0m.6-.2h0m13.7 1.5h0m.2-.3h0m0 0h0m3.8-1.3h0m.3-.6h0m.3 0h0m.7 .3h0m1.2 2.6h0m.1-.4h0m7.5 .3h0m.2-1.1h0m.1-.6h0m.3 1.5h0m.2-.3h0m.5 0h0m.5-.4h0m.5 0h0m1 1h0m3.3-2.3h0m1.4 1.1h0m2.9 .3h0m0 .5h0m0-.9h0m0 .5h0m.6 .1h0m.7-.9h0m.1 .6h0m.1 .2h0m-33 2.9h0m.7-.7h0m.1-1h0m.1 .3h0m4.7-.4h0m7.2 .5h0m.3-.2h0m6.2 1.2h0m.2-1.4h0m0 .9h0m0 .6h0m.5 .7h0m.3-.9h0m.1-1.3h0m.4 2.2h0m.7-2h0m.2 2h0m.3-1.8h0m.2 1.3h0m.4-.3h0m.1-.4h0m.4 1h0m.1-.9h0m1.4-.8h0m8.1-.3h0m0 .1h0m-55 3.1h0m20.7 2.1h0m.4 .1h0m1.5-2.6h0m1.5 2.1h0m3.6-.3h0m2.6-1.2h0m14.4 .6h0m.1 .3h0m0 .4h0m.4 .9h0m3.6-.6h0m.1-.1h0m.4 0h0m.2-.8h0m.1 .2h0m0 .4h0m0 .7h0m.3 .1h0m.1-1.4h0m.7-.5h0m0 .6h0m.3-.1h0m3.2-1h0m.1 .1h0m-36.5 5h0m.1 .3h0m0-.2h0m9.1-1.9h0m5-.1h0m.1-.1h0m.1 .4h0m.1 0h0m2.3 1.5h0m.5 .4h0m.4-1.1h0m.5 .3h0m.3-.4h0m0-.3h0m.4 .4h0m.2-1.5h0m.3 2.3h0m.1 .1h0m.3-1.9h0m2.3 1.2h0m.1 .5h0m1.2 .1h0m.7-.5h0m0 .4h0m1.4-2h0m.5 .3h0m.2 1h0m.4-.1h0m0 .1h0m.6 0h0m0-1.7h0m.1 1.4h0m.1-.2h0m.3 1.5h0m0-1.4h0m.2 .7h0m1.1 0h0m.1-1.1h0m.1 .6h0m-43.7 3.7h0m.2-.5h0m.2 .3h0m.5 .6h0m1.4 0h0m.6 .1h0m11.1-2.6h0m.1 1.3h0m1.7 1h0m-14.8 .7h0m.3 0h0m.2 .2h0m.6 .4h0m.1-.1h0m.4 .6h0m.4 1.5h0m.1-.9h0m.4-.5h0m.2 .1h0m.3 1.1h0m0-.7h0m.5-.2h0m.6-.3h0m.4 1.5h0m3.6-1.5h0m3.8 .8h0m.7-.9h0m1.1 .2h0m31.5-.6h0m1.3 1.6h0m.9 .6h0m.3-.5h0m-45 .7h0m2.2-.2h0m37.1 1.6h0m.2-1.2h0m.2 1.3h0m.1-.8h0m12.7-.8h0m-21.5 4.7h0m1.1-.8h0m.8-.1h0m.1-.5h0m.2-.3h0m.8 2.1h0m.1-1h0m.2-1h0m.3 2.3h0m.3-.7h0m.1-.5h0m9.3-1.3h0m-12.9 3.2h0m.1 .2h0m.2-.4h0m21.8 .5h0m.1 .4h0m.7-.7h0m.1-.1h0m8 .1h0m5.2 2.8h0m1.1-1.4h0m3.1-1.4h0m.5 .9h0m.2 .3h0m.1-.1h0m.4 .5h0m.3-.3h0m.2 .6h0m0 .2h0m.1 0h0m-51 1.7h0m29.4-.1h0m.3 1.9h0m.4-2.3h0m.2 1.8h0m.2-.5h0m5.6-1.7h0m0 .3h0m2.8 1.6h0m.5 .3h0m.5-.1h0m5-1.4h0m1.7-.4h0m-55.6 3.4h0m.5 .2h0m10.9 1.4h0m0-.1h0m1.3-.5h0m.6 1.1h0m.2-.4h0m2.6-2.2h0m30.4 .4h0m.8 .4h0m.3-.8h0m.2 1.6h0m.4 .1h0m.9 .5h0m.4 .2h0m.1-2.1h0m.4 .3h0m4.4 1.3h0m-51 3h0m0 .8h0m.2-.8h0m0 .6h0m3.8-1.3h0m1-.5h0m.2 .5h0m4.9-1h0m4 2h0m.2 .5h0m.7-.5h0m3.7 .4h0m.3-.1h0m16.4-.5h0m.1-.2h0m.1-.7h0m.1-.8h0m.3 .9h0m6.9 1.3h0m.8-.8h0m1.2 .8h0m2.7-2.6h0m5 2h0m.6 .4h0m.1-.6h0m4.9-1.4h0m-59.8 3.1h0m0 .4h0m.5-.3h0m.6-.6h0m.3 .6h0m.1 1.9h0m0-1.2h0m.2-1h0m.4 .5h0m0 0h0m.1-.2h0m.1 1.4h0m3.1-.1h0m4.2 .9h0m.1-.3h0m10.7-.8h0m.7 .5h0m.3-2h0m0 1.9h0m23.1-1.7h0m.2 .9h0m9.3-1.3h0m.1 .1h0m.9-.2h0m-71.3 4.7h0m.8 .6h0m1-1.3h0m19.4-.7h0m4.1-.3h0m.4 0h0m23.3 .9h0m1.7 .4h0m6.8 0h0m6.3 1.2h0m.2-1h0m.2 .7h0m.2-1.5h0m.1 1.4h0m.1-1.2h0m.5 .2h0m.6-.2h0m.3 .5h0m1.7 1.3h0m-67.2 .5h0m12.9 2h0m47 .7h0m0-.5h0m1.1 .2h0m1.1-.9h0m.1-.7h0m.3-.1h0m.1-.2h0m3.3 2h0m.8-2.7h0m.7 2.6h0m.9-1.4h0m.1 1.3h0m.3-1.2h0m5.2 1.6h0m2.8-1.1h0m-35.2 2.9h0m.5-.5h0m.6 .3h0m3.3 0h0m9.8-.3h0m.8-.1h0m0 .5h0m1.2-1.6h0m4.4 .1h0m.3 .3h0m.2-.5h0m2.7 .1h0m.1 0h0m.2-.1h0m1.1 .2h0m1.1 .1h0m.1 .7h0m.1 0h0m.7-.3h0m.1-.7h0m.2 .9h0m.6-.9h0m2.4 2h0m-50.9 3.1h0m49.9-.6h0m.6 .4h0m.1-.2h0m.2 .6h0m0-.6h0m0 .3h0m.1 .4h0m0-.5h0m-70.1 3.2h0m.5 .4h0m.5-.2h0m.5-.1h0m.1-1h0m.4 .2h0m59.2-1h0m.6 .2h0m.1 .3h0m0-.6h0m1.8 1.5h0m4.7 .4h0m.3-.9h0m.5 .5h0m.6-1.1h0m0 .3h0m.1 .4h0m.1 .3h0m.1-1.7h0m-64.2 3h0m.3 .9h0m58.5 1.6h0m.1 .3h0m.1-.4h0m.6 .4h0m1.6-.4h0m-5.4 3.3h0m.2 .2h0m.3-.9h0m.6-.3h0m0 .3h0m.6-.2h0m.4 .7h0m0-1.1h0m.1 1.1h0m.4-.7h0m0-.5h0m.3-.3h0m-10.7 3.3h0m6 .6h0m.3-.4h0m.1-.5h0m2.8-.4h0m.1-.3h0m.3 .4h0m4.8 .5h0m.5 .5h0m.4-.6h0m0 1.3h0m.2-1.9h0m.1 .4h0m.3 .7h0m.9-.4h0" stroke="#fff" stroke-width="0.9" stroke-linecap="round" fill="none"/>
<path d="M216.6 32V138.3H345.6" fill="none" stroke="#222" stroke-width="0.5"/>
<text x="220.30" y="142.6" font-size="3.2" text-anchor="middle" fill="#222">−40</text>
<text x="214.6" y="139.60" font-size="3.2" text-anchor="end" fill="#222">−40</text>
<text x="250.30" y="142.6" font-size="3.2" text-anchor="middle" fill="#222">−20</text>
<text x="214.6" y="114.60" font-size="3.2" text-anchor="end" fill="#222">−20</text>
<text x="280.30" y="142.6" font-size="3.2" text-anchor="middle" fill="#222">0</text>
<text x="214.6" y="89.60" font-size="3.2" text-anchor="end" fill="#222">0</text>
<text x="310.30" y="142.6" font-size="3.2" text-anchor="middle" fill="#222">20</text>
<text x="214.6" y="64.60" font-size="3.2" text-anchor="end" fill="#222">20</text>
<text x="340.30" y="142.6" font-size="3.2" text-anchor="middle" fill="#222">40</text>
<text x="214.6" y="39.60" font-size="3.2" text-anchor="end" fill="#222">40</text>
<path d="M220.30 138.3v1.2M216.6 138.50h-1.2M250.30 138.3v1.2M216.6 113.50h-1.2M280.30 138.3v1.2M216.6 88.50h-1.2M310.30 138.3v1.2M216.6 63.50h-1.2M340.30 138.3v1.2M216.6 38.50h-1.2" stroke="#222" stroke-width="0.4"/>
<text x="280.4" y="148" font-size="4.05" text-anchor="middle">tSNE_1</text>
<text transform="translate(208.5 85.3) rotate(-90)" font-size="4.05" text-anchor="middle">tSNE_2</text>
<text x="269.25" y="68.7" font-size="2.9" text-anchor="middle" fill="#222">CD4+ T</text>
<text x="241.75" y="80.5" font-size="2.9" text-anchor="middle" fill="#222">CD8+ T</text>
<text x="262.5" y="103.75" font-size="2.9" text-anchor="middle" fill="#222">CD14+ mono</text>
<text x="243" y="120" font-size="2.9" text-anchor="middle" fill="#222">FCGR3A+ mono</text>
<text x="303" y="112.5" font-size="2.9" text-anchor="middle" fill="#222">NK</text>
<text x="305.5" y="57.5" font-size="2.9" text-anchor="middle" fill="#222">B</text>
<text x="303" y="74.5" font-size="2.9" text-anchor="middle" fill="#222">DC</text>
<text x="294.25" y="39.9" font-size="2.9" text-anchor="middle" fill="#222">platelet</text>
<text x="303" y="85" font-size="2.9" text-anchor="middle" fill="#222">mixed</text>
<circle cx="351.25" cy="68.50" r="1" fill="#F8766D"/>
<text x="355.4" y="69.65" font-size="3.35" fill="#000">CD4+ T</text>
<circle cx="351.25" cy="72.94" r="1" fill="#D39200"/>
<text x="355.4" y="74.09" font-size="3.35" fill="#000">CD8+ T</text>
<circle cx="351.25" cy="77.38" r="1" fill="#93AA00"/>
<text x="355.4" y="78.53" font-size="3.35" fill="#000">CD14+ mono</text>
<circle cx="351.25" cy="81.82" r="1" fill="#00BA38"/>
<text x="355.4" y="82.97" font-size="3.35" fill="#000">FCGR3A+ mono</text>
<circle cx="351.25" cy="86.26" r="1" fill="#00C19F"/>
<text x="355.4" y="87.41" font-size="3.35" fill="#000">NK</text>
<circle cx="351.25" cy="90.70" r="1" fill="#00B9E3"/>
<text x="355.4" y="91.85" font-size="3.35" fill="#000">B</text>
<circle cx="351.25" cy="95.14" r="1" fill="#619CFF"/>
<text x="355.4" y="96.29" font-size="3.35" fill="#000">DC</text>
<circle cx="351.25" cy="99.58" r="1" fill="#DB72FB"/>
<text x="355.4" y="100.73" font-size="3.35" fill="#000">platelet</text>
<circle cx="351.25" cy="104.02" r="1" fill="#FF61C3"/>
<text x="355.4" y="105.17" font-size="3.35" fill="#000">mixed</text>
</g>
<defs><linearGradient id="gb" x1="0" y1="0" x2="0" y2="1"><stop offset="0.0" stop-color="#0000ff"/><stop offset="0.1" stop-color="#4926fb"/><stop offset="0.2" stop-color="#673df8"/><stop offset="0.3" stop-color="#7c51f4"/><stop offset="0.4" stop-color="#8e65f0"/><stop offset="0.5" stop-color="#9d77ec"/><stop offset="0.6" stop-color="#aa89e7"/><stop offset="0.7" stop-color="#b69ce3"/><stop offset="0.8" stop-color="#c1aede"/><stop offset="0.9" stop-color="#cac0d9"/><stop offset="1.0" stop-color="#d3d3d3"/></linearGradient></defs>
<g stroke="#000" stroke-width="0.1">
<path d="M50.7 201.2L51.5 200.5L52.7 199.9L54.0 199.3L55.6 198.9L57.5 198.3L59.3 198.4L60.1 198.7L61.6 199.1L62.9 199.6L64.7 199.8L66.3 200.1L68.1 200.4L69.6 200.8L70.6 201.4L70.8 202.0L70.6 202.7L70.3 203.4L70.0 204.1L69.6 204.8L69.2 205.4L68.7 205.8L67.5 206.4L66.3 206.8L64.7 207.1L62.9 206.9L61.4 206.5L60.1 206.1L58.7 206.1L57.7 205.7L56.8 205.0L55.8 204.4L54.5 203.9L52.9 203.3L51.8 202.7L51.1 202.2Z" fill="#8a66f6" stroke="#8a66f6" stroke-width="1.35" stroke-linejoin="round"/>
<path d="M47.3 206.5L47.5 205.4L47.7 204.8L48.2 204.0L48.9 203.4L49.6 202.9L50.5 202.5L51.5 202.5L53.0 202.8L54.2 203.2L55.2 203.9L55.9 204.6L56.9 205.3L57.8 205.9L58.0 206.6L57.0 207.1L55.5 207.5L54.0 207.7L52.4 208.0L50.9 208.2L49.4 208.2L48.2 207.9L47.5 207.3Z" fill="#916ff5" stroke="#916ff5" stroke-width="1.35" stroke-linejoin="round"/>
<path d="M49.4 211.6L49.7 210.9L50.1 210.4L50.9 210.2L51.8 210.2L52.4 210.7L53.2 211.3L53.7 210.6L54.5 210.0L55.6 209.5L56.6 209.2L58.0 209.0L59.3 209.0L60.1 209.2L61.2 209.2L62.5 209.2L63.7 209.5L64.8 209.9L66.2 210.1L67.7 210.2L68.9 210.5L69.8 210.9L69.2 211.4L68.7 212.0L67.7 212.5L66.8 213.0L66.0 213.6L65.3 214.1L64.3 214.5L63.4 214.9L62.4 215.2L61.5 215.4L60.1 215.9L58.2 215.9L56.5 215.6L55.5 215.2L54.6 214.8L54.1 214.0L53.7 213.4L53.5 212.6L52.7 213.0L52.1 213.5L51.3 213.7L50.5 213.6L49.9 213.4L49.5 212.6ZM61.3 216.8L61.2 217.0L60.9 217.2L60.4 217.3L59.9 217.3L59.3 217.3L58.9 217.2L58.6 217.0L58.5 216.8L58.6 216.6L58.9 216.5L59.3 216.4L59.9 216.3L60.4 216.4L60.9 216.5L61.2 216.6Z" fill="#bcb0ea" stroke="#bcb0ea" stroke-width="1.35" stroke-linejoin="round"/>
<path d="M49.4 213.9L50.3 213.8L51.3 214.1L51.7 214.5L52.0 215.1L52.6 215.7L53.2 216.1L54.0 216.5L54.6 216.8L54.7 217.3L54.4 217.9L53.8 218.3L53.0 218.6L52.1 218.5L51.3 218.2L50.9 217.7L50.6 217.2L50.2 216.5L49.9 215.8L49.6 215.2L49.4 214.8Z" fill="#bcb0ea" stroke="#bcb0ea" stroke-width="1.35" stroke-linejoin="round"/>
<path d="M62.4 208.9L63.9 208.2L65.3 207.9L66.6 207.3L68.2 206.8L69.4 206.4L70.6 206.1L71.9 205.9L72.5 206.5L72.2 207.6L71.5 208.3L70.6 208.9L69.7 209.5L68.9 210.0L67.5 210.2L66.3 210.2L64.8 209.9L63.3 209.5Z" fill="#b5a4ec" stroke="#b5a4ec" stroke-width="1.35" stroke-linejoin="round"/>
<path d="M65.8 215.6L66.8 214.9L68.2 214.2L69.0 213.6L69.6 213.0L70.1 212.3L70.3 211.6L70.6 210.9L70.8 210.2L71.1 209.7L71.5 209.4L72.7 209.2L73.9 209.2L75.0 209.4L75.8 209.5L76.7 209.1L77.7 208.9L78.8 209.2L79.6 209.8L80.5 210.4L81.1 211.1L80.7 212.0L80.1 212.9L80.6 213.6L80.8 214.3L80.5 215.1L80.1 216.0L79.9 216.9L79.6 217.7L80.2 218.4L80.6 219.0L79.9 219.5L79.2 219.8L78.2 220.3L77.3 220.7L75.3 220.5L74.4 220.3L72.9 220.5L71.5 220.5L70.4 220.4L69.6 220.1L70.6 219.6L71.7 219.2L73.0 218.9L74.0 218.5L74.8 218.2L75.3 217.7L74.7 217.2L73.9 216.8L72.9 216.5L72.0 216.3L70.8 216.4L69.6 216.7L68.7 216.8L67.7 216.8L66.8 216.6L65.8 216.3L65.5 215.9Z" fill="#a78cf0" stroke="#a78cf0" stroke-width="1.35" stroke-linejoin="round"/>
<path d="M64.4 219.4L64.3 219.7L64.1 219.9L63.7 220.1L63.3 220.1L62.9 220.1L62.5 219.9L62.3 219.7L62.2 219.4L62.3 219.2L62.5 218.9L62.9 218.8L63.3 218.7L63.7 218.8L64.1 218.9L64.3 219.2Z" fill="#bcb0ea" stroke="#bcb0ea" stroke-width="1.35" stroke-linejoin="round"/>
<path d="M72.6 203.3L72.4 203.6L72.2 203.8L71.9 203.9L71.7 203.8L71.5 203.7L71.4 203.5L71.3 203.3L71.4 203.0L71.6 202.8L71.8 202.6L72.1 202.5L72.3 202.5L72.5 202.6L72.6 202.8L72.6 203.1Z" fill="#a68bf0" stroke="#a68bf0" stroke-width="1.35" stroke-linejoin="round"/>
<path d="M81.7 208.0L82.8 208.6L83.9 209.5L84.7 210.2L85.1 210.0L84.3 209.3L83.1 208.3L81.9 207.7Z" fill="#bcb0ea" stroke="#bcb0ea" stroke-width="1.35" stroke-linejoin="round"/>
<path d="M83.7 212.4L84.9 212.3L86.3 212.4L86.3 212.1L84.9 212.0L83.7 212.0Z" fill="#bcb0ea" stroke="#bcb0ea" stroke-width="1.35" stroke-linejoin="round"/>
<path d="M82.0 215.7L82.0 215.8L81.9 215.9L81.7 215.9L81.6 215.9L81.4 215.9L81.2 215.9L81.1 215.8L81.1 215.7L81.1 215.6L81.2 215.5L81.4 215.4L81.6 215.4L81.7 215.4L81.9 215.5L82.0 215.6Z" fill="#bcb0ea" stroke="#bcb0ea" stroke-width="1.35" stroke-linejoin="round"/>
<path d="M67.2 197.1L68.1 196.7L69.6 196.6L70.8 196.9L72.0 197.3L73.2 197.6L74.4 198.0L75.7 198.4L77.1 198.8L78.4 199.1L79.5 199.1L80.7 199.4L81.7 200.1L81.6 200.9L80.8 202.0L79.5 202.3L78.4 202.3L77.3 202.1L76.1 201.6L75.3 201.3L75.5 200.7L75.8 200.1L75.2 199.7L74.4 199.6L73.2 199.6L72.0 199.6L70.8 199.3L69.6 199.0L68.7 198.6L67.7 198.2L67.3 197.6ZM74.4 201.2L74.3 201.4L74.1 201.5L73.8 201.6L73.4 201.6L73.1 201.6L72.8 201.5L72.6 201.4L72.5 201.2L72.6 201.1L72.8 200.9L73.1 200.9L73.4 200.8L73.8 200.9L74.1 200.9L74.3 201.1Z" fill="#b4a1ed" stroke="#b4a1ed" stroke-width="1.35" stroke-linejoin="round"/>
<path d="M67.6 195.0L68.6 194.6L69.7 194.5L70.6 194.4L71.6 194.5L72.7 194.8L73.6 195.1L74.1 195.5L74.6 195.2L74.0 194.7L73.0 194.4L71.8 194.1L70.6 193.9L69.6 194.0L68.4 194.2L67.3 194.5Z" fill="#bcb0ea" stroke="#bcb0ea" stroke-width="1.35" stroke-linejoin="round"/>
<path d="M76.4 203.8L76.3 203.9L76.1 204.0L75.8 204.1L75.3 204.1L74.9 204.1L74.6 204.0L74.4 203.9L74.3 203.8L74.4 203.6L74.6 203.5L74.9 203.4L75.3 203.4L75.8 203.4L76.1 203.5L76.3 203.6ZM76.1 204.0L78.2 204.2L78.2 203.9L76.1 203.7Z" fill="#bcb0ea" stroke="#bcb0ea" stroke-width="1.35" stroke-linejoin="round"/>
<path d="M74.2 205.8L75.3 205.4L76.9 205.5L78.4 205.8L79.8 206.2L79.5 206.8L78.0 206.9L76.1 206.8L74.6 206.5Z" fill="#b29eed" stroke="#b29eed" stroke-width="1.35" stroke-linejoin="round"/>
<path d="M75.7 208.3L75.6 208.6L75.4 208.9L75.0 209.1L74.6 209.2L74.1 209.1L73.8 208.9L73.5 208.6L73.4 208.3L73.5 208.0L73.8 207.7L74.1 207.5L74.6 207.4L75.0 207.5L75.4 207.7L75.6 208.0Z" fill="#9675f4" stroke="#9675f4" stroke-width="1.35" stroke-linejoin="round"/>
<path d="M86.0 205.2L85.9 205.6L85.4 206.1L84.7 206.4L83.7 206.6L82.7 206.7L81.8 206.5L81.2 206.2L80.9 205.9L81.0 205.4L81.4 205.0L82.2 204.6L83.2 204.4L84.2 204.4L85.1 204.5L85.7 204.8ZM84.7 204.6L84.6 204.8L84.4 204.9L84.0 205.1L83.6 205.1L83.1 205.1L82.7 204.9L82.5 204.8L82.4 204.6L82.5 204.3L82.7 204.2L83.1 204.0L83.6 204.0L84.0 204.0L84.4 204.2L84.6 204.3Z" fill="#b29eed" stroke="#b29eed" stroke-width="1.35" stroke-linejoin="round"/>
<path d="M87.7 203.2L87.7 203.3L87.6 203.4L87.5 203.5L87.4 203.5L87.2 203.5L87.1 203.4L87.1 203.3L87.0 203.2L87.1 203.2L87.1 203.1L87.2 203.0L87.4 203.0L87.5 203.0L87.6 203.1L87.7 203.2Z" fill="#bcb0ea" stroke="#bcb0ea" stroke-width="1.35" stroke-linejoin="round"/>
<path d="M86.9 207.3L87.9 207.8L88.7 208.5L89.2 208.2L88.3 207.5L87.2 207.0ZM88.2 209.3L88.2 209.4L88.1 209.4L88.0 209.5L87.9 209.5L87.8 209.5L87.8 209.4L87.7 209.4L87.7 209.3L87.7 209.2L87.8 209.1L87.8 209.0L87.9 209.0L88.0 209.0L88.1 209.1L88.2 209.2Z" fill="#bcb0ea" stroke="#bcb0ea" stroke-width="1.35" stroke-linejoin="round"/>
<path d="M44.0 210.8L45.0 211.5L45.2 211.4L44.3 210.7ZM50.8 210.1L50.8 210.2L50.7 210.2L50.5 210.3L50.3 210.3L50.2 210.3L50.0 210.2L49.9 210.2L49.9 210.1L49.9 210.0L50.0 210.0L50.2 209.9L50.3 209.9L50.5 209.9L50.7 210.0L50.8 210.0Z" fill="#bcb0ea" stroke="#bcb0ea" stroke-width="1.35" stroke-linejoin="round"/>
<path d="M48.2 211.0L48.1 211.1L48.1 211.1L47.9 211.2L47.8 211.2L47.6 211.2L47.5 211.1L47.4 211.1L47.4 211.0L47.4 211.0L47.5 210.9L47.6 210.9L47.8 210.9L47.9 210.9L48.1 210.9L48.1 211.0Z" fill="#bcb0ea" stroke="#bcb0ea" stroke-width="1.35" stroke-linejoin="round"/>
<path d="M41.90 191.90V222.10H91.20" fill="none" stroke="#000" stroke-width="0.55"/>
<text x="42.80" y="229.40" font-size="4.8" text-anchor="middle">−40</text>
<text x="39.30" y="223.88" font-size="4.8" text-anchor="end">−40</text>
<text x="54.25" y="229.40" font-size="4.8" text-anchor="middle">−20</text>
<text x="39.30" y="216.94" font-size="4.8" text-anchor="end">−20</text>
<text x="66.30" y="229.40" font-size="4.8" text-anchor="middle">0</text>
<text x="39.30" y="210.00" font-size="4.8" text-anchor="end">0</text>
<text x="77.75" y="229.40" font-size="4.8" text-anchor="middle">20</text>
<text x="39.30" y="203.06" font-size="4.8" text-anchor="end">20</text>
<text x="89.20" y="229.40" font-size="4.8" text-anchor="middle">40</text>
<text x="39.30" y="196.12" font-size="4.8" text-anchor="end">40</text>
<path d="M43.40 222.10v1.4M41.90 222.18h-1.4M54.85 222.10v1.4M41.90 215.24h-1.4M66.30 222.10v1.4M41.90 208.30h-1.4M77.75 222.10v1.4M41.90 201.36h-1.4M89.20 222.10v1.4M41.90 194.42h-1.4" stroke="#000" stroke-width="0.5"/>
<text x="66.30" y="237.10" font-size="6" text-anchor="middle">tSNE_1</text>
<text transform="translate(27.90 207.40) rotate(-90)" font-size="6" text-anchor="middle">tSNE_2</text>
<text x="66.30" y="187.90" font-size="6.9" font-weight="bold" text-anchor="middle">IL7R</text>
<rect x="97.75" y="191.90" width="6.4" height="33.7" fill="url(#gb)" stroke="none"/>
<text x="107.00" y="198.30" font-size="4.7">4</text>
<text x="107.00" y="203.60" font-size="4.7">3</text>
<text x="107.00" y="208.90" font-size="4.7">2</text>
<text x="107.00" y="214.20" font-size="4.7">1</text>
<text x="107.00" y="219.60" font-size="4.7">0</text>
<text x="106.70" y="225.00" font-size="4.7">−1</text>
</g>
<g stroke="#000" stroke-width="0.1">
<path d="M145.7 201.2L146.5 200.5L147.7 199.9L149.0 199.3L150.6 198.9L152.5 198.3L154.3 198.4L155.1 198.7L156.6 199.1L157.9 199.6L159.7 199.8L161.3 200.1L163.1 200.4L164.6 200.8L165.6 201.4L165.8 202.0L165.6 202.7L165.3 203.4L165.0 204.1L164.6 204.8L164.2 205.4L163.7 205.8L162.5 206.4L161.3 206.8L159.7 207.1L157.9 206.9L156.4 206.5L155.1 206.1L153.7 206.1L152.7 205.7L151.8 205.0L150.8 204.4L149.5 203.9L147.9 203.3L146.8 202.7L146.1 202.2Z" fill="#c2b7eb" stroke="#c2b7eb" stroke-width="1.35" stroke-linejoin="round"/>
<path d="M142.3 206.5L142.5 205.4L142.7 204.8L143.2 204.0L143.9 203.4L144.6 202.9L145.5 202.5L146.5 202.5L148.0 202.8L149.2 203.2L150.2 203.9L150.9 204.6L151.9 205.3L152.8 205.9L153.0 206.6L152.0 207.1L150.5 207.5L149.0 207.7L147.4 208.0L145.9 208.2L144.4 208.2L143.2 207.9L142.5 207.3Z" fill="#a689f2" stroke="#a689f2" stroke-width="1.35" stroke-linejoin="round"/>
<path d="M144.4 211.6L144.7 210.9L145.1 210.4L145.9 210.2L146.8 210.2L147.4 210.7L148.2 211.3L148.7 210.6L149.5 210.0L150.6 209.5L151.6 209.2L153.0 209.0L154.3 209.0L155.1 209.2L156.2 209.2L157.5 209.2L158.7 209.5L159.8 209.9L161.2 210.1L162.7 210.2L163.9 210.5L164.8 210.9L164.2 211.4L163.7 212.0L162.7 212.5L161.8 213.0L161.0 213.6L160.3 214.1L159.3 214.5L158.4 214.9L157.4 215.2L156.5 215.4L155.1 215.9L153.2 215.9L151.5 215.6L150.5 215.2L149.6 214.8L149.1 214.0L148.7 213.4L148.5 212.6L147.7 213.0L147.1 213.5L146.3 213.7L145.5 213.6L144.9 213.4L144.5 212.6ZM156.3 216.8L156.2 217.0L155.9 217.2L155.4 217.3L154.9 217.3L154.3 217.3L153.9 217.2L153.6 217.0L153.5 216.8L153.6 216.6L153.9 216.5L154.3 216.4L154.9 216.3L155.4 216.4L155.9 216.5L156.2 216.6Z" fill="#c5bdea" stroke="#c5bdea" stroke-width="1.35" stroke-linejoin="round"/>
<path d="M144.4 213.9L145.3 213.8L146.3 214.1L146.7 214.5L147.0 215.1L147.6 215.7L148.2 216.1L149.0 216.5L149.6 216.8L149.7 217.3L149.4 217.9L148.8 218.3L148.0 218.6L147.1 218.5L146.3 218.2L145.9 217.7L145.6 217.2L145.2 216.5L144.9 215.8L144.6 215.2L144.4 214.8Z" fill="#c5bdea" stroke="#c5bdea" stroke-width="1.35" stroke-linejoin="round"/>
<path d="M157.4 208.9L158.9 208.2L160.3 207.9L161.6 207.3L163.2 206.8L164.4 206.4L165.6 206.1L166.9 205.9L167.5 206.5L167.2 207.6L166.5 208.3L165.6 208.9L164.7 209.5L163.9 210.0L162.5 210.2L161.3 210.2L159.8 209.9L158.3 209.5Z" fill="#c5bdea" stroke="#c5bdea" stroke-width="1.35" stroke-linejoin="round"/>
<path d="M160.8 215.6L161.8 214.9L163.2 214.2L164.0 213.6L164.6 213.0L165.1 212.3L165.3 211.6L165.6 210.9L165.8 210.2L166.1 209.7L166.5 209.4L167.7 209.2L168.9 209.2L170.0 209.4L170.8 209.5L171.7 209.1L172.7 208.9L173.8 209.2L174.6 209.8L175.5 210.4L176.1 211.1L175.7 212.0L175.1 212.9L175.6 213.6L175.8 214.3L175.5 215.1L175.1 216.0L174.9 216.9L174.6 217.7L175.2 218.4L175.6 219.0L174.9 219.5L174.2 219.8L173.2 220.3L172.3 220.7L170.3 220.5L169.4 220.3L167.9 220.5L166.5 220.5L165.4 220.4L164.6 220.1L165.6 219.6L166.7 219.2L168.0 218.9L169.0 218.5L169.8 218.2L170.3 217.7L169.7 217.2L168.9 216.8L167.9 216.5L167.0 216.3L165.8 216.4L164.6 216.7L163.7 216.8L162.7 216.8L161.8 216.6L160.8 216.3L160.5 215.9Z" fill="#ad95f1" stroke="#ad95f1" stroke-width="1.35" stroke-linejoin="round"/>
<path d="M159.4 219.4L159.3 219.7L159.1 219.9L158.7 220.1L158.3 220.1L157.9 220.1L157.5 219.9L157.3 219.7L157.2 219.4L157.3 219.2L157.5 218.9L157.9 218.8L158.3 218.7L158.7 218.8L159.1 218.9L159.3 219.2Z" fill="#c5bdea" stroke="#c5bdea" stroke-width="1.35" stroke-linejoin="round"/>
<path d="M167.6 203.3L167.4 203.6L167.2 203.8L166.9 203.9L166.7 203.8L166.5 203.7L166.4 203.5L166.3 203.3L166.4 203.0L166.6 202.8L166.8 202.6L167.1 202.5L167.3 202.5L167.5 202.6L167.6 202.8L167.6 203.1Z" fill="#c5bdea" stroke="#c5bdea" stroke-width="1.35" stroke-linejoin="round"/>
<path d="M176.7 208.0L177.8 208.6L178.9 209.5L179.7 210.2L180.1 210.0L179.3 209.3L178.1 208.3L176.9 207.7Z" fill="#c5bdea" stroke="#c5bdea" stroke-width="1.35" stroke-linejoin="round"/>
<path d="M178.7 212.4L179.9 212.3L181.3 212.4L181.3 212.1L179.9 212.0L178.7 212.0Z" fill="#c5bdea" stroke="#c5bdea" stroke-width="1.35" stroke-linejoin="round"/>
<path d="M177.0 215.7L177.0 215.8L176.9 215.9L176.7 215.9L176.6 215.9L176.4 215.9L176.2 215.9L176.1 215.8L176.1 215.7L176.1 215.6L176.2 215.5L176.4 215.4L176.6 215.4L176.7 215.4L176.9 215.5L177.0 215.6Z" fill="#c5bdea" stroke="#c5bdea" stroke-width="1.35" stroke-linejoin="round"/>
<path d="M162.2 197.1L163.1 196.7L164.6 196.6L165.8 196.9L167.0 197.3L168.2 197.6L169.4 198.0L170.7 198.4L172.1 198.8L173.4 199.1L174.5 199.1L175.7 199.4L176.7 200.1L176.6 200.9L175.8 202.0L174.5 202.3L173.4 202.3L172.3 202.1L171.1 201.6L170.3 201.3L170.5 200.7L170.8 200.1L170.2 199.7L169.4 199.6L168.2 199.6L167.0 199.6L165.8 199.3L164.6 199.0L163.7 198.6L162.7 198.2L162.3 197.6ZM169.4 201.2L169.3 201.4L169.1 201.5L168.8 201.6L168.4 201.6L168.1 201.6L167.8 201.5L167.6 201.4L167.5 201.2L167.6 201.1L167.8 200.9L168.1 200.9L168.4 200.8L168.8 200.9L169.1 200.9L169.3 201.1Z" fill="#c5bdea" stroke="#c5bdea" stroke-width="1.35" stroke-linejoin="round"/>
<path d="M162.6 195.0L163.6 194.6L164.7 194.5L165.6 194.4L166.6 194.5L167.7 194.8L168.6 195.1L169.1 195.5L169.6 195.2L169.0 194.7L168.0 194.4L166.8 194.1L165.6 193.9L164.6 194.0L163.4 194.2L162.3 194.5Z" fill="#c5bdea" stroke="#c5bdea" stroke-width="1.35" stroke-linejoin="round"/>
<path d="M171.4 203.8L171.3 203.9L171.1 204.0L170.8 204.1L170.3 204.1L169.9 204.1L169.6 204.0L169.4 203.9L169.3 203.8L169.4 203.6L169.6 203.5L169.9 203.4L170.3 203.4L170.8 203.4L171.1 203.5L171.3 203.6ZM171.1 204.0L173.2 204.2L173.2 203.9L171.1 203.7Z" fill="#c5bdea" stroke="#c5bdea" stroke-width="1.35" stroke-linejoin="round"/>
<path d="M169.2 205.8L170.3 205.4L171.9 205.5L173.4 205.8L174.8 206.2L174.5 206.8L173.0 206.9L171.1 206.8L169.6 206.5Z" fill="#c5bdea" stroke="#c5bdea" stroke-width="1.35" stroke-linejoin="round"/>
<path d="M170.7 208.3L170.6 208.6L170.4 208.9L170.0 209.1L169.6 209.2L169.1 209.1L168.8 208.9L168.5 208.6L168.4 208.3L168.5 208.0L168.8 207.7L169.1 207.5L169.6 207.4L170.0 207.5L170.4 207.7L170.6 208.0Z" fill="#c5bdea" stroke="#c5bdea" stroke-width="1.35" stroke-linejoin="round"/>
<path d="M181.0 205.2L180.9 205.6L180.4 206.1L179.7 206.4L178.7 206.6L177.7 206.7L176.8 206.5L176.2 206.2L175.9 205.9L176.0 205.4L176.4 205.0L177.2 204.6L178.2 204.4L179.2 204.4L180.1 204.5L180.7 204.8ZM179.7 204.6L179.6 204.8L179.4 204.9L179.0 205.1L178.6 205.1L178.1 205.1L177.7 204.9L177.5 204.8L177.4 204.6L177.5 204.3L177.7 204.2L178.1 204.0L178.6 204.0L179.0 204.0L179.4 204.2L179.6 204.3Z" fill="#c5bdea" stroke="#c5bdea" stroke-width="1.35" stroke-linejoin="round"/>
<path d="M182.7 203.2L182.7 203.3L182.6 203.4L182.5 203.5L182.4 203.5L182.2 203.5L182.1 203.4L182.1 203.3L182.0 203.2L182.1 203.2L182.1 203.1L182.2 203.0L182.4 203.0L182.5 203.0L182.6 203.1L182.7 203.2Z" fill="#c5bdea" stroke="#c5bdea" stroke-width="1.35" stroke-linejoin="round"/>
<path d="M181.9 207.3L182.9 207.8L183.7 208.5L184.2 208.2L183.3 207.5L182.2 207.0ZM183.2 209.3L183.2 209.4L183.1 209.4L183.0 209.5L182.9 209.5L182.8 209.5L182.8 209.4L182.7 209.4L182.7 209.3L182.7 209.2L182.8 209.1L182.8 209.0L182.9 209.0L183.0 209.0L183.1 209.1L183.2 209.2Z" fill="#c5bdea" stroke="#c5bdea" stroke-width="1.35" stroke-linejoin="round"/>
<path d="M139.0 210.8L140.0 211.5L140.2 211.4L139.3 210.7ZM145.8 210.1L145.8 210.2L145.7 210.2L145.5 210.3L145.3 210.3L145.2 210.3L145.0 210.2L144.9 210.2L144.9 210.1L144.9 210.0L145.0 210.0L145.2 209.9L145.3 209.9L145.5 209.9L145.7 210.0L145.8 210.0Z" fill="#c5bdea" stroke="#c5bdea" stroke-width="1.35" stroke-linejoin="round"/>
<path d="M143.2 211.0L143.1 211.1L143.1 211.1L142.9 211.2L142.8 211.2L142.6 211.2L142.5 211.1L142.4 211.1L142.4 211.0L142.4 211.0L142.5 210.9L142.6 210.9L142.8 210.9L142.9 210.9L143.1 210.9L143.1 211.0Z" fill="#c5bdea" stroke="#c5bdea" stroke-width="1.35" stroke-linejoin="round"/>
<path d="M137.00 191.90V222.10H186.30" fill="none" stroke="#000" stroke-width="0.55"/>
<text x="137.80" y="229.40" font-size="4.8" text-anchor="middle">−40</text>
<text x="134.40" y="223.88" font-size="4.8" text-anchor="end">−40</text>
<text x="149.25" y="229.40" font-size="4.8" text-anchor="middle">−20</text>
<text x="134.40" y="216.94" font-size="4.8" text-anchor="end">−20</text>
<text x="161.30" y="229.40" font-size="4.8" text-anchor="middle">0</text>
<text x="134.40" y="210.00" font-size="4.8" text-anchor="end">0</text>
<text x="172.75" y="229.40" font-size="4.8" text-anchor="middle">20</text>
<text x="134.40" y="203.06" font-size="4.8" text-anchor="end">20</text>
<text x="184.20" y="229.40" font-size="4.8" text-anchor="middle">40</text>
<text x="134.40" y="196.12" font-size="4.8" text-anchor="end">40</text>
<path d="M138.40 222.10v1.4M137.00 222.18h-1.4M149.85 222.10v1.4M137.00 215.24h-1.4M161.30 222.10v1.4M137.00 208.30h-1.4M172.75 222.10v1.4M137.00 201.36h-1.4M184.20 222.10v1.4M137.00 194.42h-1.4" stroke="#000" stroke-width="0.5"/>
<text x="161.30" y="237.10" font-size="6" text-anchor="middle">tSNE_1</text>
<text transform="translate(123.00 207.40) rotate(-90)" font-size="6" text-anchor="middle">tSNE_2</text>
<text x="161.30" y="187.90" font-size="6.9" font-weight="bold" text-anchor="middle">CD8A</text>
<rect x="193.25" y="191.90" width="6.4" height="33.7" fill="url(#gb)" stroke="none"/>
<text x="202.50" y="195.20" font-size="4.7">4</text>
<text x="202.50" y="202.25" font-size="4.7">3</text>
<text x="202.50" y="209.30" font-size="4.7">2</text>
<text x="202.50" y="216.35" font-size="4.7">1</text>
<text x="202.50" y="223.40" font-size="4.7">0</text>
</g>
<g stroke="#000" stroke-width="0.1">
<path d="M239.0 201.2L239.8 200.5L241.0 199.9L242.3 199.3L243.9 198.9L245.8 198.3L247.6 198.4L248.4 198.7L249.9 199.1L251.2 199.6L253.0 199.8L254.6 200.1L256.4 200.4L257.9 200.8L258.9 201.4L259.1 202.0L258.9 202.7L258.6 203.4L258.3 204.1L257.9 204.8L257.5 205.4L257.0 205.8L255.8 206.4L254.6 206.8L253.0 207.1L251.2 206.9L249.7 206.5L248.4 206.1L247.0 206.1L246.0 205.7L245.1 205.0L244.1 204.4L242.8 203.9L241.2 203.3L240.1 202.7L239.4 202.2Z" fill="#c5bcea" stroke="#c5bcea" stroke-width="1.35" stroke-linejoin="round"/>
<path d="M235.6 206.5L235.8 205.4L236.0 204.8L236.5 204.0L237.2 203.4L237.9 202.9L238.8 202.5L239.8 202.5L241.3 202.8L242.5 203.2L243.5 203.9L244.2 204.6L245.2 205.3L246.1 205.9L246.3 206.6L245.3 207.1L243.8 207.5L242.3 207.7L240.7 208.0L239.2 208.2L237.7 208.2L236.5 207.9L235.8 207.3Z" fill="#c5bcea" stroke="#c5bcea" stroke-width="1.35" stroke-linejoin="round"/>
<path d="M237.7 211.6L238.0 210.9L238.4 210.4L239.2 210.2L240.1 210.2L240.7 210.7L241.5 211.3L242.0 210.6L242.8 210.0L243.9 209.5L244.9 209.2L246.3 209.0L247.6 209.0L248.4 209.2L249.5 209.2L250.8 209.2L252.0 209.5L253.1 209.9L254.5 210.1L256.0 210.2L257.2 210.5L258.1 210.9L257.5 211.4L257.0 212.0L256.0 212.5L255.1 213.0L254.3 213.6L253.6 214.1L252.6 214.5L251.7 214.9L250.7 215.2L249.8 215.4L248.4 215.9L246.5 215.9L244.8 215.6L243.8 215.2L242.9 214.8L242.4 214.0L242.0 213.4L241.8 212.6L241.0 213.0L240.4 213.5L239.6 213.7L238.8 213.6L238.2 213.4L237.8 212.6ZM249.6 216.8L249.5 217.0L249.2 217.2L248.7 217.3L248.2 217.3L247.6 217.3L247.2 217.2L246.9 217.0L246.8 216.8L246.9 216.6L247.2 216.5L247.6 216.4L248.2 216.3L248.7 216.4L249.2 216.5L249.5 216.6Z" fill="#9f7ff4" stroke="#9f7ff4" stroke-width="1.35" stroke-linejoin="round"/>
<path d="M237.7 213.9L238.6 213.8L239.6 214.1L240.0 214.5L240.3 215.1L240.9 215.7L241.5 216.1L242.3 216.5L242.9 216.8L243.0 217.3L242.7 217.9L242.1 218.3L241.3 218.6L240.4 218.5L239.6 218.2L239.2 217.7L238.9 217.2L238.5 216.5L238.2 215.8L237.9 215.2L237.7 214.8Z" fill="#b9a7ee" stroke="#b9a7ee" stroke-width="1.35" stroke-linejoin="round"/>
<path d="M250.7 208.9L252.2 208.2L253.6 207.9L254.9 207.3L256.5 206.8L257.7 206.4L258.9 206.1L260.2 205.9L260.8 206.5L260.5 207.6L259.8 208.3L258.9 208.9L258.0 209.5L257.2 210.0L255.8 210.2L254.6 210.2L253.1 209.9L251.6 209.5Z" fill="#baa9ed" stroke="#baa9ed" stroke-width="1.35" stroke-linejoin="round"/>
<path d="M254.1 215.6L255.1 214.9L256.5 214.2L257.3 213.6L257.9 213.0L258.4 212.3L258.6 211.6L258.9 210.9L259.1 210.2L259.4 209.7L259.8 209.4L261.0 209.2L262.2 209.2L263.3 209.4L264.1 209.5L265.0 209.1L266.0 208.9L267.1 209.2L267.9 209.8L268.8 210.4L269.4 211.1L269.0 212.0L268.4 212.9L268.9 213.6L269.1 214.3L268.8 215.1L268.4 216.0L268.2 216.9L267.9 217.7L268.5 218.4L268.9 219.0L268.2 219.5L267.5 219.8L266.5 220.3L265.6 220.7L263.6 220.5L262.7 220.3L261.2 220.5L259.8 220.5L258.7 220.4L257.9 220.1L258.9 219.6L260.0 219.2L261.3 218.9L262.3 218.5L263.1 218.2L263.6 217.7L263.0 217.2L262.2 216.8L261.2 216.5L260.3 216.3L259.1 216.4L257.9 216.7L257.0 216.8L256.0 216.8L255.1 216.6L254.1 216.3L253.8 215.9Z" fill="#c5bcea" stroke="#c5bcea" stroke-width="1.35" stroke-linejoin="round"/>
<path d="M252.7 219.4L252.6 219.7L252.4 219.9L252.0 220.1L251.6 220.1L251.2 220.1L250.8 219.9L250.6 219.7L250.5 219.4L250.6 219.2L250.8 218.9L251.2 218.8L251.6 218.7L252.0 218.8L252.4 218.9L252.6 219.2Z" fill="#c5bcea" stroke="#c5bcea" stroke-width="1.35" stroke-linejoin="round"/>
<path d="M260.9 203.3L260.7 203.6L260.5 203.8L260.2 203.9L260.0 203.8L259.8 203.7L259.7 203.5L259.6 203.3L259.7 203.0L259.9 202.8L260.1 202.6L260.4 202.5L260.6 202.5L260.8 202.6L260.9 202.8L260.9 203.1Z" fill="#c5bcea" stroke="#c5bcea" stroke-width="1.35" stroke-linejoin="round"/>
<path d="M270.0 208.0L271.1 208.6L272.2 209.5L273.0 210.2L273.4 210.0L272.6 209.3L271.4 208.3L270.2 207.7Z" fill="#c5bcea" stroke="#c5bcea" stroke-width="1.35" stroke-linejoin="round"/>
<path d="M272.0 212.4L273.2 212.3L274.6 212.4L274.6 212.1L273.2 212.0L272.0 212.0Z" fill="#c5bcea" stroke="#c5bcea" stroke-width="1.35" stroke-linejoin="round"/>
<path d="M270.3 215.7L270.3 215.8L270.2 215.9L270.0 215.9L269.9 215.9L269.7 215.9L269.5 215.9L269.4 215.8L269.4 215.7L269.4 215.6L269.5 215.5L269.7 215.4L269.9 215.4L270.0 215.4L270.2 215.5L270.3 215.6Z" fill="#c5bcea" stroke="#c5bcea" stroke-width="1.35" stroke-linejoin="round"/>
<path d="M255.5 197.1L256.4 196.7L257.9 196.6L259.1 196.9L260.3 197.3L261.5 197.6L262.7 198.0L264.0 198.4L265.4 198.8L266.7 199.1L267.8 199.1L269.0 199.4L270.0 200.1L269.9 200.9L269.1 202.0L267.8 202.3L266.7 202.3L265.6 202.1L264.4 201.6L263.6 201.3L263.8 200.7L264.1 200.1L263.5 199.7L262.7 199.6L261.5 199.6L260.3 199.6L259.1 199.3L257.9 199.0L257.0 198.6L256.0 198.2L255.6 197.6ZM262.7 201.2L262.6 201.4L262.4 201.5L262.1 201.6L261.7 201.6L261.4 201.6L261.1 201.5L260.9 201.4L260.8 201.2L260.9 201.1L261.1 200.9L261.4 200.9L261.7 200.8L262.1 200.9L262.4 200.9L262.6 201.1Z" fill="#c5bcea" stroke="#c5bcea" stroke-width="1.35" stroke-linejoin="round"/>
<path d="M255.9 195.0L256.9 194.6L258.0 194.5L258.9 194.4L259.9 194.5L261.0 194.8L261.9 195.1L262.4 195.5L262.9 195.2L262.3 194.7L261.3 194.4L260.1 194.1L258.9 193.9L257.9 194.0L256.7 194.2L255.6 194.5Z" fill="#c5bcea" stroke="#c5bcea" stroke-width="1.35" stroke-linejoin="round"/>
<path d="M264.7 203.8L264.6 203.9L264.4 204.0L264.1 204.1L263.6 204.1L263.2 204.1L262.9 204.0L262.7 203.9L262.6 203.8L262.7 203.6L262.9 203.5L263.2 203.4L263.6 203.4L264.1 203.4L264.4 203.5L264.6 203.6ZM264.4 204.0L266.5 204.2L266.5 203.9L264.4 203.7Z" fill="#c5bcea" stroke="#c5bcea" stroke-width="1.35" stroke-linejoin="round"/>
<path d="M262.5 205.8L263.6 205.4L265.2 205.5L266.7 205.8L268.1 206.2L267.8 206.8L266.3 206.9L264.4 206.8L262.9 206.5Z" fill="#c5bcea" stroke="#c5bcea" stroke-width="1.35" stroke-linejoin="round"/>
<path d="M264.0 208.3L263.9 208.6L263.7 208.9L263.3 209.1L262.9 209.2L262.4 209.1L262.1 208.9L261.8 208.6L261.7 208.3L261.8 208.0L262.1 207.7L262.4 207.5L262.9 207.4L263.3 207.5L263.7 207.7L263.9 208.0Z" fill="#c5bcea" stroke="#c5bcea" stroke-width="1.35" stroke-linejoin="round"/>
<path d="M274.3 205.2L274.2 205.6L273.7 206.1L273.0 206.4L272.0 206.6L271.0 206.7L270.1 206.5L269.5 206.2L269.2 205.9L269.3 205.4L269.7 205.0L270.5 204.6L271.5 204.4L272.5 204.4L273.4 204.5L274.0 204.8ZM273.0 204.6L272.9 204.8L272.7 204.9L272.3 205.1L271.9 205.1L271.4 205.1L271.0 204.9L270.8 204.8L270.7 204.6L270.8 204.3L271.0 204.2L271.4 204.0L271.9 204.0L272.3 204.0L272.7 204.2L272.9 204.3Z" fill="#c5bcea" stroke="#c5bcea" stroke-width="1.35" stroke-linejoin="round"/>
<path d="M276.0 203.2L276.0 203.3L275.9 203.4L275.8 203.5L275.7 203.5L275.5 203.5L275.4 203.4L275.4 203.3L275.3 203.2L275.4 203.2L275.4 203.1L275.5 203.0L275.7 203.0L275.8 203.0L275.9 203.1L276.0 203.2Z" fill="#c5bcea" stroke="#c5bcea" stroke-width="1.35" stroke-linejoin="round"/>
<path d="M275.2 207.3L276.2 207.8L277.0 208.5L277.5 208.2L276.6 207.5L275.5 207.0ZM276.5 209.3L276.5 209.4L276.4 209.4L276.3 209.5L276.2 209.5L276.1 209.5L276.1 209.4L276.0 209.4L276.0 209.3L276.0 209.2L276.1 209.1L276.1 209.0L276.2 209.0L276.3 209.0L276.4 209.1L276.5 209.2Z" fill="#c5bcea" stroke="#c5bcea" stroke-width="1.35" stroke-linejoin="round"/>
<path d="M232.3 210.8L233.3 211.5L233.5 211.4L232.6 210.7ZM239.1 210.1L239.1 210.2L239.0 210.2L238.8 210.3L238.6 210.3L238.5 210.3L238.3 210.2L238.2 210.2L238.2 210.1L238.2 210.0L238.3 210.0L238.5 209.9L238.6 209.9L238.8 209.9L239.0 210.0L239.1 210.0Z" fill="#c5bcea" stroke="#c5bcea" stroke-width="1.35" stroke-linejoin="round"/>
<path d="M236.5 211.0L236.4 211.1L236.4 211.1L236.2 211.2L236.1 211.2L235.9 211.2L235.8 211.1L235.7 211.1L235.7 211.0L235.7 211.0L235.8 210.9L235.9 210.9L236.1 210.9L236.2 210.9L236.4 210.9L236.4 211.0Z" fill="#a88cf2" stroke="#a88cf2" stroke-width="1.35" stroke-linejoin="round"/>
<path d="M230.25 191.90V222.10H279.55" fill="none" stroke="#000" stroke-width="0.55"/>
<text x="231.10" y="229.40" font-size="4.8" text-anchor="middle">−40</text>
<text x="227.65" y="223.88" font-size="4.8" text-anchor="end">−40</text>
<text x="242.55" y="229.40" font-size="4.8" text-anchor="middle">−20</text>
<text x="227.65" y="216.94" font-size="4.8" text-anchor="end">−20</text>
<text x="254.60" y="229.40" font-size="4.8" text-anchor="middle">0</text>
<text x="227.65" y="210.00" font-size="4.8" text-anchor="end">0</text>
<text x="266.05" y="229.40" font-size="4.8" text-anchor="middle">20</text>
<text x="227.65" y="203.06" font-size="4.8" text-anchor="end">20</text>
<text x="277.50" y="229.40" font-size="4.8" text-anchor="middle">40</text>
<text x="227.65" y="196.12" font-size="4.8" text-anchor="end">40</text>
<path d="M231.70 222.10v1.4M230.25 222.18h-1.4M243.15 222.10v1.4M230.25 215.24h-1.4M254.60 222.10v1.4M230.25 208.30h-1.4M266.05 222.10v1.4M230.25 201.36h-1.4M277.50 222.10v1.4M230.25 194.42h-1.4" stroke="#000" stroke-width="0.5"/>
<text x="254.60" y="237.10" font-size="6" text-anchor="middle">tSNE_1</text>
<text transform="translate(216.25 207.40) rotate(-90)" font-size="6" text-anchor="middle">tSNE_2</text>
<text x="254.60" y="187.90" font-size="6.9" font-weight="bold" text-anchor="middle">CD14</text>
<rect x="286.25" y="191.90" width="6.4" height="33.7" fill="url(#gb)" stroke="none"/>
<text x="295.50" y="195.50" font-size="4.7">5</text>
<text x="295.50" y="200.60" font-size="4.7">4</text>
<text x="295.50" y="205.70" font-size="4.7">3</text>
<text x="295.50" y="210.80" font-size="4.7">2</text>
<text x="295.50" y="215.90" font-size="4.7">1</text>
<text x="295.50" y="221.00" font-size="4.7">0</text>
<text x="295.20" y="226.10" font-size="4.7">−1</text>
</g>
<g stroke="#000" stroke-width="0.1">
<path d="M50.7 264.0L51.5 263.3L52.7 262.7L54.0 262.0L55.6 261.6L57.5 261.1L59.3 261.2L60.1 261.5L61.6 261.9L62.9 262.3L64.7 262.6L66.3 262.8L68.1 263.1L69.6 263.5L70.6 264.1L70.8 264.7L70.6 265.5L70.3 266.1L70.0 266.9L69.6 267.5L69.2 268.1L68.7 268.6L67.5 269.1L66.3 269.5L64.7 269.8L62.9 269.7L61.4 269.2L60.1 268.9L58.7 268.8L57.7 268.5L56.8 267.7L55.8 267.1L54.5 266.6L52.9 266.1L51.8 265.5L51.1 264.9Z" fill="#c2b9ea" stroke="#c2b9ea" stroke-width="1.35" stroke-linejoin="round"/>
<path d="M47.3 269.2L47.5 268.1L47.7 267.5L48.2 266.7L48.9 266.1L49.6 265.6L50.5 265.2L51.5 265.3L53.0 265.6L54.2 266.0L55.2 266.7L55.9 267.3L56.9 268.1L57.8 268.7L58.0 269.4L57.0 269.8L55.5 270.2L54.0 270.5L52.4 270.8L50.9 271.0L49.4 270.9L48.2 270.6L47.5 270.1Z" fill="#c2b9ea" stroke="#c2b9ea" stroke-width="1.35" stroke-linejoin="round"/>
<path d="M49.4 274.4L49.7 273.7L50.1 273.2L50.9 272.9L51.8 273.0L52.4 273.4L53.2 274.0L53.7 273.3L54.5 272.7L55.6 272.3L56.6 272.0L58.0 271.8L59.3 271.7L60.1 272.0L61.2 272.0L62.5 272.0L63.7 272.3L64.8 272.6L66.2 272.9L67.7 273.0L68.9 273.2L69.8 273.6L69.2 274.1L68.7 274.7L67.7 275.2L66.8 275.8L66.0 276.3L65.3 276.8L64.3 277.3L63.4 277.7L62.4 278.0L61.5 278.2L60.1 278.6L58.2 278.6L56.5 278.4L55.5 278.0L54.6 277.5L54.1 276.7L53.7 276.1L53.5 275.4L52.7 275.8L52.1 276.3L51.3 276.5L50.5 276.3L49.9 276.1L49.5 275.4ZM61.3 279.6L61.2 279.8L60.9 279.9L60.4 280.0L59.9 280.1L59.3 280.0L58.9 279.9L58.6 279.8L58.5 279.6L58.6 279.4L58.9 279.2L59.3 279.1L59.9 279.1L60.4 279.1L60.9 279.2L61.2 279.4Z" fill="#bfb3eb" stroke="#bfb3eb" stroke-width="1.35" stroke-linejoin="round"/>
<path d="M49.4 276.6L50.3 276.5L51.3 276.8L51.7 277.3L52.0 277.9L52.6 278.4L53.2 278.9L54.0 279.2L54.6 279.6L54.7 280.1L54.4 280.6L53.8 281.0L53.0 281.3L52.1 281.3L51.3 281.0L50.9 280.5L50.6 279.9L50.2 279.2L49.9 278.5L49.6 278.0L49.4 277.5Z" fill="#7d57f8" stroke="#7d57f8" stroke-width="1.35" stroke-linejoin="round"/>
<path d="M62.4 271.6L63.9 271.0L65.3 270.6L66.6 270.1L68.2 269.6L69.4 269.2L70.6 268.9L71.9 268.7L72.5 269.2L72.2 270.3L71.5 271.1L70.6 271.7L69.7 272.3L68.9 272.8L67.5 273.0L66.3 272.9L64.8 272.7L63.3 272.2Z" fill="#c2b9ea" stroke="#c2b9ea" stroke-width="1.35" stroke-linejoin="round"/>
<path d="M65.8 278.4L66.8 277.7L68.2 277.0L69.0 276.3L69.6 275.8L70.1 275.1L70.3 274.4L70.6 273.7L70.8 273.0L71.1 272.5L71.5 272.1L72.7 272.0L73.9 272.0L75.0 272.1L75.8 272.3L76.7 271.9L77.7 271.6L78.8 272.0L79.6 272.5L80.5 273.1L81.1 273.9L80.7 274.8L80.1 275.6L80.6 276.3L80.8 277.0L80.5 277.9L80.1 278.8L79.9 279.7L79.6 280.5L80.2 281.1L80.6 281.7L79.9 282.2L79.2 282.6L78.2 283.1L77.3 283.4L75.3 283.3L74.4 283.1L72.9 283.3L71.5 283.2L70.4 283.1L69.6 282.9L70.6 282.4L71.7 282.0L73.0 281.7L74.0 281.3L74.8 280.9L75.3 280.5L74.7 280.0L73.9 279.6L72.9 279.2L72.0 279.1L70.8 279.2L69.6 279.4L68.7 279.6L67.7 279.6L66.8 279.4L65.8 279.1L65.5 278.7Z" fill="#b29def" stroke="#b29def" stroke-width="1.35" stroke-linejoin="round"/>
<path d="M64.4 282.2L64.3 282.4L64.1 282.7L63.7 282.8L63.3 282.9L62.9 282.8L62.5 282.7L62.3 282.4L62.2 282.2L62.3 281.9L62.5 281.7L62.9 281.5L63.3 281.5L63.7 281.5L64.1 281.7L64.3 281.9Z" fill="#c2b9ea" stroke="#c2b9ea" stroke-width="1.35" stroke-linejoin="round"/>
<path d="M72.6 266.1L72.4 266.3L72.2 266.5L71.9 266.6L71.7 266.6L71.5 266.5L71.4 266.3L71.3 266.1L71.4 265.8L71.6 265.6L71.8 265.4L72.1 265.3L72.3 265.3L72.5 265.4L72.6 265.6L72.6 265.8Z" fill="#c2b9ea" stroke="#c2b9ea" stroke-width="1.35" stroke-linejoin="round"/>
<path d="M81.7 270.8L82.8 271.3L83.9 272.3L84.7 273.0L85.1 272.7L84.3 272.0L83.1 271.1L81.9 270.5Z" fill="#c2b9ea" stroke="#c2b9ea" stroke-width="1.35" stroke-linejoin="round"/>
<path d="M83.7 275.1L84.9 275.0L86.3 275.2L86.3 274.9L84.9 274.7L83.7 274.8Z" fill="#c2b9ea" stroke="#c2b9ea" stroke-width="1.35" stroke-linejoin="round"/>
<path d="M82.0 278.4L82.0 278.5L81.9 278.6L81.7 278.7L81.6 278.7L81.4 278.7L81.2 278.6L81.1 278.5L81.1 278.4L81.1 278.3L81.2 278.2L81.4 278.1L81.6 278.1L81.7 278.1L81.9 278.2L82.0 278.3Z" fill="#c2b9ea" stroke="#c2b9ea" stroke-width="1.35" stroke-linejoin="round"/>
<path d="M67.2 259.9L68.1 259.5L69.6 259.4L70.8 259.7L72.0 260.1L73.2 260.4L74.4 260.8L75.7 261.1L77.1 261.5L78.4 261.9L79.5 261.9L80.7 262.2L81.7 262.8L81.6 263.7L80.8 264.7L79.5 265.0L78.4 265.1L77.3 264.8L76.1 264.4L75.3 264.0L75.5 263.4L75.8 262.8L75.2 262.4L74.4 262.3L73.2 262.4L72.0 262.3L70.8 262.1L69.6 261.8L68.7 261.4L67.7 260.9L67.3 260.4ZM74.4 264.0L74.3 264.1L74.1 264.2L73.8 264.3L73.4 264.4L73.1 264.3L72.8 264.2L72.6 264.1L72.5 264.0L72.6 263.8L72.8 263.7L73.1 263.6L73.4 263.6L73.8 263.6L74.1 263.7L74.3 263.8Z" fill="#c2b9ea" stroke="#c2b9ea" stroke-width="1.35" stroke-linejoin="round"/>
<path d="M67.6 257.7L68.6 257.4L69.7 257.2L70.6 257.2L71.6 257.3L72.7 257.6L73.6 257.9L74.1 258.3L74.6 258.0L74.0 257.5L73.0 257.1L71.8 256.8L70.6 256.7L69.6 256.8L68.4 256.9L67.3 257.3Z" fill="#c2b9ea" stroke="#c2b9ea" stroke-width="1.35" stroke-linejoin="round"/>
<path d="M76.4 266.5L76.3 266.7L76.1 266.8L75.8 266.9L75.3 266.9L74.9 266.9L74.6 266.8L74.4 266.7L74.3 266.5L74.4 266.4L74.6 266.3L74.9 266.2L75.3 266.2L75.8 266.2L76.1 266.3L76.3 266.4ZM76.1 266.7L78.2 266.9L78.2 266.7L76.1 266.5Z" fill="#c2b9ea" stroke="#c2b9ea" stroke-width="1.35" stroke-linejoin="round"/>
<path d="M74.2 268.6L75.3 268.1L76.9 268.3L78.4 268.6L79.8 269.0L79.5 269.5L78.0 269.7L76.1 269.5L74.6 269.2Z" fill="#c2b9ea" stroke="#c2b9ea" stroke-width="1.35" stroke-linejoin="round"/>
<path d="M75.7 271.1L75.6 271.4L75.4 271.7L75.0 271.9L74.6 271.9L74.1 271.9L73.8 271.7L73.5 271.4L73.4 271.1L73.5 270.7L73.8 270.4L74.1 270.2L74.6 270.2L75.0 270.2L75.4 270.4L75.6 270.7Z" fill="#c2b9ea" stroke="#c2b9ea" stroke-width="1.35" stroke-linejoin="round"/>
<path d="M86.0 267.9L85.9 268.4L85.4 268.8L84.7 269.2L83.7 269.4L82.7 269.4L81.8 269.3L81.2 269.0L80.9 268.6L81.0 268.2L81.4 267.7L82.2 267.4L83.2 267.2L84.2 267.1L85.1 267.3L85.7 267.6ZM84.7 267.3L84.6 267.5L84.4 267.7L84.0 267.8L83.6 267.9L83.1 267.8L82.7 267.7L82.5 267.5L82.4 267.3L82.5 267.1L82.7 266.9L83.1 266.8L83.6 266.7L84.0 266.8L84.4 266.9L84.6 267.1Z" fill="#c2b9ea" stroke="#c2b9ea" stroke-width="1.35" stroke-linejoin="round"/>
<path d="M87.7 266.0L87.7 266.1L87.6 266.2L87.5 266.2L87.4 266.2L87.2 266.2L87.1 266.2L87.1 266.1L87.0 266.0L87.1 265.9L87.1 265.8L87.2 265.8L87.4 265.7L87.5 265.8L87.6 265.8L87.7 265.9Z" fill="#c2b9ea" stroke="#c2b9ea" stroke-width="1.35" stroke-linejoin="round"/>
<path d="M86.9 270.1L87.9 270.6L88.7 271.3L89.2 271.0L88.3 270.3L87.2 269.7ZM88.2 272.0L88.2 272.1L88.1 272.2L88.0 272.3L87.9 272.3L87.8 272.3L87.8 272.2L87.7 272.1L87.7 272.0L87.7 271.9L87.8 271.8L87.8 271.8L87.9 271.8L88.0 271.8L88.1 271.8L88.2 271.9Z" fill="#c2b9ea" stroke="#c2b9ea" stroke-width="1.35" stroke-linejoin="round"/>
<path d="M44.0 273.6L45.0 274.3L45.2 274.1L44.3 273.4ZM50.8 272.9L50.8 272.9L50.7 273.0L50.5 273.0L50.3 273.0L50.2 273.0L50.0 273.0L49.9 272.9L49.9 272.9L49.9 272.8L50.0 272.7L50.2 272.7L50.3 272.7L50.5 272.7L50.7 272.7L50.8 272.8Z" fill="#c2b9ea" stroke="#c2b9ea" stroke-width="1.35" stroke-linejoin="round"/>
<path d="M48.2 273.8L48.1 273.8L48.1 273.9L47.9 273.9L47.8 273.9L47.6 273.9L47.5 273.9L47.4 273.8L47.4 273.8L47.4 273.7L47.5 273.7L47.6 273.6L47.8 273.6L47.9 273.6L48.1 273.7L48.1 273.7Z" fill="#c2b9ea" stroke="#c2b9ea" stroke-width="1.35" stroke-linejoin="round"/>
<path d="M41.90 254.65V284.85H91.20" fill="none" stroke="#000" stroke-width="0.55"/>
<text x="42.80" y="292.15" font-size="4.8" text-anchor="middle">−40</text>
<text x="39.30" y="286.63" font-size="4.8" text-anchor="end">−40</text>
<text x="54.25" y="292.15" font-size="4.8" text-anchor="middle">−20</text>
<text x="39.30" y="279.69" font-size="4.8" text-anchor="end">−20</text>
<text x="66.30" y="292.15" font-size="4.8" text-anchor="middle">0</text>
<text x="39.30" y="272.75" font-size="4.8" text-anchor="end">0</text>
<text x="77.75" y="292.15" font-size="4.8" text-anchor="middle">20</text>
<text x="39.30" y="265.81" font-size="4.8" text-anchor="end">20</text>
<text x="89.20" y="292.15" font-size="4.8" text-anchor="middle">40</text>
<text x="39.30" y="258.87" font-size="4.8" text-anchor="end">40</text>
<path d="M43.40 284.85v1.4M41.90 284.93h-1.4M54.85 284.85v1.4M41.90 277.99h-1.4M66.30 284.85v1.4M41.90 271.05h-1.4M77.75 284.85v1.4M41.90 264.11h-1.4M89.20 284.85v1.4M41.90 257.17h-1.4" stroke="#000" stroke-width="0.5"/>
<text x="66.30" y="299.85" font-size="6" text-anchor="middle">tSNE_1</text>
<text transform="translate(27.90 270.15) rotate(-90)" font-size="6" text-anchor="middle">tSNE_2</text>
<text x="66.30" y="250.65" font-size="6.9" font-weight="bold" text-anchor="middle">FCGR3A</text>
<rect x="97.75" y="254.65" width="6.4" height="33.7" fill="url(#gb)" stroke="none"/>
<text x="107.00" y="261.05" font-size="4.7">4</text>
<text x="107.00" y="266.35" font-size="4.7">3</text>
<text x="107.00" y="271.65" font-size="4.7">2</text>
<text x="107.00" y="276.95" font-size="4.7">1</text>
<text x="107.00" y="282.35" font-size="4.7">0</text>
<text x="106.70" y="287.75" font-size="4.7">−1</text>
</g>
<g stroke="#000" stroke-width="0.1">
<path d="M145.7 264.0L146.5 263.3L147.7 262.7L149.0 262.0L150.6 261.6L152.5 261.1L154.3 261.2L155.1 261.5L156.6 261.9L157.9 262.3L159.7 262.6L161.3 262.8L163.1 263.1L164.6 263.5L165.6 264.1L165.8 264.7L165.6 265.5L165.3 266.1L165.0 266.9L164.6 267.5L164.2 268.1L163.7 268.6L162.5 269.1L161.3 269.5L159.7 269.8L157.9 269.7L156.4 269.2L155.1 268.9L153.7 268.8L152.7 268.5L151.8 267.7L150.8 267.1L149.5 266.6L147.9 266.1L146.8 265.5L146.1 264.9Z" fill="#c5bfe9" stroke="#c5bfe9" stroke-width="1.35" stroke-linejoin="round"/>
<path d="M142.3 269.2L142.5 268.1L142.7 267.5L143.2 266.7L143.9 266.1L144.6 265.6L145.5 265.2L146.5 265.3L148.0 265.6L149.2 266.0L150.2 266.7L150.9 267.3L151.9 268.1L152.8 268.7L153.0 269.4L152.0 269.8L150.5 270.2L149.0 270.5L147.4 270.8L145.9 271.0L144.4 270.9L143.2 270.6L142.5 270.1Z" fill="#baabec" stroke="#baabec" stroke-width="1.35" stroke-linejoin="round"/>
<path d="M144.4 274.4L144.7 273.7L145.1 273.2L145.9 272.9L146.8 273.0L147.4 273.4L148.2 274.0L148.7 273.3L149.5 272.7L150.6 272.3L151.6 272.0L153.0 271.8L154.3 271.7L155.1 272.0L156.2 272.0L157.5 272.0L158.7 272.3L159.8 272.6L161.2 272.9L162.7 273.0L163.9 273.2L164.8 273.6L164.2 274.1L163.7 274.7L162.7 275.2L161.8 275.8L161.0 276.3L160.3 276.8L159.3 277.3L158.4 277.7L157.4 278.0L156.5 278.2L155.1 278.6L153.2 278.6L151.5 278.4L150.5 278.0L149.6 277.5L149.1 276.7L148.7 276.1L148.5 275.4L147.7 275.8L147.1 276.3L146.3 276.5L145.5 276.3L144.9 276.1L144.5 275.4ZM156.3 279.6L156.2 279.8L155.9 279.9L155.4 280.0L154.9 280.1L154.3 280.0L153.9 279.9L153.6 279.8L153.5 279.6L153.6 279.4L153.9 279.2L154.3 279.1L154.9 279.1L155.4 279.1L155.9 279.2L156.2 279.4Z" fill="#c5bfe9" stroke="#c5bfe9" stroke-width="1.35" stroke-linejoin="round"/>
<path d="M144.4 276.6L145.3 276.5L146.3 276.8L146.7 277.3L147.0 277.9L147.6 278.4L148.2 278.9L149.0 279.2L149.6 279.6L149.7 280.1L149.4 280.6L148.8 281.0L148.0 281.3L147.1 281.3L146.3 281.0L145.9 280.5L145.6 279.9L145.2 279.2L144.9 278.5L144.6 278.0L144.4 277.5Z" fill="#c5bfe9" stroke="#c5bfe9" stroke-width="1.35" stroke-linejoin="round"/>
<path d="M157.4 271.6L158.9 271.0L160.3 270.6L161.6 270.1L163.2 269.6L164.4 269.2L165.6 268.9L166.9 268.7L167.5 269.2L167.2 270.3L166.5 271.1L165.6 271.7L164.7 272.3L163.9 272.8L162.5 273.0L161.3 272.9L159.8 272.7L158.3 272.2Z" fill="#b19bef" stroke="#b19bef" stroke-width="1.35" stroke-linejoin="round"/>
<path d="M160.8 278.4L161.8 277.7L163.2 277.0L164.0 276.3L164.6 275.8L165.1 275.1L165.3 274.4L165.6 273.7L165.8 273.0L166.1 272.5L166.5 272.1L167.7 272.0L168.9 272.0L170.0 272.1L170.8 272.3L171.7 271.9L172.7 271.6L173.8 272.0L174.6 272.5L175.5 273.1L176.1 273.9L175.7 274.8L175.1 275.6L175.6 276.3L175.8 277.0L175.5 277.9L175.1 278.8L174.9 279.7L174.6 280.5L175.2 281.1L175.6 281.7L174.9 282.2L174.2 282.6L173.2 283.1L172.3 283.4L170.3 283.3L169.4 283.1L167.9 283.3L166.5 283.2L165.4 283.1L164.6 282.9L165.6 282.4L166.7 282.0L168.0 281.7L169.0 281.3L169.8 280.9L170.3 280.5L169.7 280.0L168.9 279.6L167.9 279.2L167.0 279.1L165.8 279.2L164.6 279.4L163.7 279.6L162.7 279.6L161.8 279.4L160.8 279.1L160.5 278.7Z" fill="#7f59f8" stroke="#7f59f8" stroke-width="1.35" stroke-linejoin="round"/>
<path d="M159.4 282.2L159.3 282.4L159.1 282.7L158.7 282.8L158.3 282.9L157.9 282.8L157.5 282.7L157.3 282.4L157.2 282.2L157.3 281.9L157.5 281.7L157.9 281.5L158.3 281.5L158.7 281.5L159.1 281.7L159.3 281.9Z" fill="#8965f7" stroke="#8965f7" stroke-width="1.35" stroke-linejoin="round"/>
<path d="M167.6 266.1L167.4 266.3L167.2 266.5L166.9 266.6L166.7 266.6L166.5 266.5L166.4 266.3L166.3 266.1L166.4 265.8L166.6 265.6L166.8 265.4L167.1 265.3L167.3 265.3L167.5 265.4L167.6 265.6L167.6 265.8Z" fill="#9d7ef4" stroke="#9d7ef4" stroke-width="1.35" stroke-linejoin="round"/>
<path d="M176.7 270.8L177.8 271.3L178.9 272.3L179.7 273.0L180.1 272.7L179.3 272.0L178.1 271.1L176.9 270.5Z" fill="#906df6" stroke="#906df6" stroke-width="1.35" stroke-linejoin="round"/>
<path d="M178.7 275.1L179.9 275.0L181.3 275.2L181.3 274.9L179.9 274.7L178.7 274.8Z" fill="#906df6" stroke="#906df6" stroke-width="1.35" stroke-linejoin="round"/>
<path d="M177.0 278.4L177.0 278.5L176.9 278.6L176.7 278.7L176.6 278.7L176.4 278.7L176.2 278.6L176.1 278.5L176.1 278.4L176.1 278.3L176.2 278.2L176.4 278.1L176.6 278.1L176.7 278.1L176.9 278.2L177.0 278.3Z" fill="#906df6" stroke="#906df6" stroke-width="1.35" stroke-linejoin="round"/>
<path d="M162.2 259.9L163.1 259.5L164.6 259.4L165.8 259.7L167.0 260.1L168.2 260.4L169.4 260.8L170.7 261.1L172.1 261.5L173.4 261.9L174.5 261.9L175.7 262.2L176.7 262.8L176.6 263.7L175.8 264.7L174.5 265.0L173.4 265.1L172.3 264.8L171.1 264.4L170.3 264.0L170.5 263.4L170.8 262.8L170.2 262.4L169.4 262.3L168.2 262.4L167.0 262.3L165.8 262.1L164.6 261.8L163.7 261.4L162.7 260.9L162.3 260.4ZM169.4 264.0L169.3 264.1L169.1 264.2L168.8 264.3L168.4 264.4L168.1 264.3L167.8 264.2L167.6 264.1L167.5 264.0L167.6 263.8L167.8 263.7L168.1 263.6L168.4 263.6L168.8 263.6L169.1 263.7L169.3 263.8Z" fill="#c5bfe9" stroke="#c5bfe9" stroke-width="1.35" stroke-linejoin="round"/>
<path d="M162.6 257.7L163.6 257.4L164.7 257.2L165.6 257.2L166.6 257.3L167.7 257.6L168.6 257.9L169.1 258.3L169.6 258.0L169.0 257.5L168.0 257.1L166.8 256.8L165.6 256.7L164.6 256.8L163.4 256.9L162.3 257.3Z" fill="#c5bfe9" stroke="#c5bfe9" stroke-width="1.35" stroke-linejoin="round"/>
<path d="M171.4 266.5L171.3 266.7L171.1 266.8L170.8 266.9L170.3 266.9L169.9 266.9L169.6 266.8L169.4 266.7L169.3 266.5L169.4 266.4L169.6 266.3L169.9 266.2L170.3 266.2L170.8 266.2L171.1 266.3L171.3 266.4ZM171.1 266.7L173.2 266.9L173.2 266.7L171.1 266.5Z" fill="#c5bfe9" stroke="#c5bfe9" stroke-width="1.35" stroke-linejoin="round"/>
<path d="M169.2 268.6L170.3 268.1L171.9 268.3L173.4 268.6L174.8 269.0L174.5 269.5L173.0 269.7L171.1 269.5L169.6 269.2Z" fill="#b8a6ed" stroke="#b8a6ed" stroke-width="1.35" stroke-linejoin="round"/>
<path d="M170.7 271.1L170.6 271.4L170.4 271.7L170.0 271.9L169.6 271.9L169.1 271.9L168.8 271.7L168.5 271.4L168.4 271.1L168.5 270.7L168.8 270.4L169.1 270.2L169.6 270.2L170.0 270.2L170.4 270.4L170.6 270.7Z" fill="#9d7ef4" stroke="#9d7ef4" stroke-width="1.35" stroke-linejoin="round"/>
<path d="M181.0 267.9L180.9 268.4L180.4 268.8L179.7 269.2L178.7 269.4L177.7 269.4L176.8 269.3L176.2 269.0L175.9 268.6L176.0 268.2L176.4 267.7L177.2 267.4L178.2 267.2L179.2 267.1L180.1 267.3L180.7 267.6ZM179.7 267.3L179.6 267.5L179.4 267.7L179.0 267.8L178.6 267.9L178.1 267.8L177.7 267.7L177.5 267.5L177.4 267.3L177.5 267.1L177.7 266.9L178.1 266.8L178.6 266.7L179.0 266.8L179.4 266.9L179.6 267.1Z" fill="#b39eef" stroke="#b39eef" stroke-width="1.35" stroke-linejoin="round"/>
<path d="M182.7 266.0L182.7 266.1L182.6 266.2L182.5 266.2L182.4 266.2L182.2 266.2L182.1 266.2L182.1 266.1L182.0 266.0L182.1 265.9L182.1 265.8L182.2 265.8L182.4 265.7L182.5 265.8L182.6 265.8L182.7 265.9Z" fill="#c5bfe9" stroke="#c5bfe9" stroke-width="1.35" stroke-linejoin="round"/>
<path d="M181.9 270.1L182.9 270.6L183.7 271.3L184.2 271.0L183.3 270.3L182.2 269.7ZM183.2 272.0L183.2 272.1L183.1 272.2L183.0 272.3L182.9 272.3L182.8 272.3L182.8 272.2L182.7 272.1L182.7 272.0L182.7 271.9L182.8 271.8L182.8 271.8L182.9 271.8L183.0 271.8L183.1 271.8L183.2 271.9Z" fill="#ae96f0" stroke="#ae96f0" stroke-width="1.35" stroke-linejoin="round"/>
<path d="M139.0 273.6L140.0 274.3L140.2 274.1L139.3 273.4ZM145.8 272.9L145.8 272.9L145.7 273.0L145.5 273.0L145.3 273.0L145.2 273.0L145.0 273.0L144.9 272.9L144.9 272.9L144.9 272.8L145.0 272.7L145.2 272.7L145.3 272.7L145.5 272.7L145.7 272.7L145.8 272.8Z" fill="#c5bfe9" stroke="#c5bfe9" stroke-width="1.35" stroke-linejoin="round"/>
<path d="M143.2 273.8L143.1 273.8L143.1 273.9L142.9 273.9L142.8 273.9L142.6 273.9L142.5 273.9L142.4 273.8L142.4 273.8L142.4 273.7L142.5 273.7L142.6 273.6L142.8 273.6L142.9 273.6L143.1 273.7L143.1 273.7Z" fill="#c5bfe9" stroke="#c5bfe9" stroke-width="1.35" stroke-linejoin="round"/>
<path d="M137.00 254.65V284.85H186.30" fill="none" stroke="#000" stroke-width="0.55"/>
<text x="137.80" y="292.15" font-size="4.8" text-anchor="middle">−40</text>
<text x="134.40" y="286.63" font-size="4.8" text-anchor="end">−40</text>
<text x="149.25" y="292.15" font-size="4.8" text-anchor="middle">−20</text>
<text x="134.40" y="279.69" font-size="4.8" text-anchor="end">−20</text>
<text x="161.30" y="292.15" font-size="4.8" text-anchor="middle">0</text>
<text x="134.40" y="272.75" font-size="4.8" text-anchor="end">0</text>
<text x="172.75" y="292.15" font-size="4.8" text-anchor="middle">20</text>
<text x="134.40" y="265.81" font-size="4.8" text-anchor="end">20</text>
<text x="184.20" y="292.15" font-size="4.8" text-anchor="middle">40</text>
<text x="134.40" y="258.87" font-size="4.8" text-anchor="end">40</text>
<path d="M138.40 284.85v1.4M137.00 284.93h-1.4M149.85 284.85v1.4M137.00 277.99h-1.4M161.30 284.85v1.4M137.00 271.05h-1.4M172.75 284.85v1.4M137.00 264.11h-1.4M184.20 284.85v1.4M137.00 257.17h-1.4" stroke="#000" stroke-width="0.5"/>
<text x="161.30" y="299.85" font-size="6" text-anchor="middle">tSNE_1</text>
<text transform="translate(123.00 270.15) rotate(-90)" font-size="6" text-anchor="middle">tSNE_2</text>
<text x="161.30" y="250.65" font-size="6.9" font-weight="bold" text-anchor="middle">NKG7</text>
<rect x="193.25" y="254.65" width="6.4" height="33.7" fill="url(#gb)" stroke="none"/>
<text x="202.50" y="257.15" font-size="4.7">6</text>
<text x="202.50" y="266.65" font-size="4.7">4</text>
<text x="202.50" y="276.15" font-size="4.7">2</text>
<text x="202.50" y="285.45" font-size="4.7">0</text>
</g>
<g stroke="#000" stroke-width="0.1">
<path d="M239.0 264.0L239.8 263.3L241.0 262.7L242.3 262.0L243.9 261.6L245.8 261.1L247.6 261.2L248.4 261.5L249.9 261.9L251.2 262.3L253.0 262.6L254.6 262.8L256.4 263.1L257.9 263.5L258.9 264.1L259.1 264.7L258.9 265.5L258.6 266.1L258.3 266.9L257.9 267.5L257.5 268.1L257.0 268.6L255.8 269.1L254.6 269.5L253.0 269.8L251.2 269.7L249.7 269.2L248.4 268.9L247.0 268.8L246.0 268.5L245.1 267.7L244.1 267.1L242.8 266.6L241.2 266.1L240.1 265.5L239.4 264.9Z" fill="#c8c2e8" stroke="#c8c2e8" stroke-width="1.35" stroke-linejoin="round"/>
<path d="M235.6 269.2L235.8 268.1L236.0 267.5L236.5 266.7L237.2 266.1L237.9 265.6L238.8 265.2L239.8 265.3L241.3 265.6L242.5 266.0L243.5 266.7L244.2 267.3L245.2 268.1L246.1 268.7L246.3 269.4L245.3 269.8L243.8 270.2L242.3 270.5L240.7 270.8L239.2 271.0L237.7 270.9L236.5 270.6L235.8 270.1Z" fill="#c8c2e8" stroke="#c8c2e8" stroke-width="1.35" stroke-linejoin="round"/>
<path d="M237.7 274.4L238.0 273.7L238.4 273.2L239.2 272.9L240.1 273.0L240.7 273.4L241.5 274.0L242.0 273.3L242.8 272.7L243.9 272.3L244.9 272.0L246.3 271.8L247.6 271.7L248.4 272.0L249.5 272.0L250.8 272.0L252.0 272.3L253.1 272.6L254.5 272.9L256.0 273.0L257.2 273.2L258.1 273.6L257.5 274.1L257.0 274.7L256.0 275.2L255.1 275.8L254.3 276.3L253.6 276.8L252.6 277.3L251.7 277.7L250.7 278.0L249.8 278.2L248.4 278.6L246.5 278.6L244.8 278.4L243.8 278.0L242.9 277.5L242.4 276.7L242.0 276.1L241.8 275.4L241.0 275.8L240.4 276.3L239.6 276.5L238.8 276.3L238.2 276.1L237.8 275.4ZM249.6 279.6L249.5 279.8L249.2 279.9L248.7 280.0L248.2 280.1L247.6 280.0L247.2 279.9L246.9 279.8L246.8 279.6L246.9 279.4L247.2 279.2L247.6 279.1L248.2 279.1L248.7 279.1L249.2 279.2L249.5 279.4Z" fill="#bdaeec" stroke="#bdaeec" stroke-width="1.35" stroke-linejoin="round"/>
<path d="M237.7 276.6L238.6 276.5L239.6 276.8L240.0 277.3L240.3 277.9L240.9 278.4L241.5 278.9L242.3 279.2L242.9 279.6L243.0 280.1L242.7 280.6L242.1 281.0L241.3 281.3L240.4 281.3L239.6 281.0L239.2 280.5L238.9 279.9L238.5 279.2L238.2 278.5L237.9 278.0L237.7 277.5Z" fill="#c8c2e8" stroke="#c8c2e8" stroke-width="1.35" stroke-linejoin="round"/>
<path d="M250.7 271.6L252.2 271.0L253.6 270.6L254.9 270.1L256.5 269.6L257.7 269.2L258.9 268.9L260.2 268.7L260.8 269.2L260.5 270.3L259.8 271.1L258.9 271.7L258.0 272.3L257.2 272.8L255.8 273.0L254.6 272.9L253.1 272.7L251.6 272.2Z" fill="#c8c2e8" stroke="#c8c2e8" stroke-width="1.35" stroke-linejoin="round"/>
<path d="M254.1 278.4L255.1 277.7L256.5 277.0L257.3 276.3L257.9 275.8L258.4 275.1L258.6 274.4L258.9 273.7L259.1 273.0L259.4 272.5L259.8 272.1L261.0 272.0L262.2 272.0L263.3 272.1L264.1 272.3L265.0 271.9L266.0 271.6L267.1 272.0L267.9 272.5L268.8 273.1L269.4 273.9L269.0 274.8L268.4 275.6L268.9 276.3L269.1 277.0L268.8 277.9L268.4 278.8L268.2 279.7L267.9 280.5L268.5 281.1L268.9 281.7L268.2 282.2L267.5 282.6L266.5 283.1L265.6 283.4L263.6 283.3L262.7 283.1L261.2 283.3L259.8 283.2L258.7 283.1L257.9 282.9L258.9 282.4L260.0 282.0L261.3 281.7L262.3 281.3L263.1 280.9L263.6 280.5L263.0 280.0L262.2 279.6L261.2 279.2L260.3 279.1L259.1 279.2L257.9 279.4L257.0 279.6L256.0 279.6L255.1 279.4L254.1 279.1L253.8 278.7Z" fill="#c8c2e8" stroke="#c8c2e8" stroke-width="1.35" stroke-linejoin="round"/>
<path d="M252.7 282.2L252.6 282.4L252.4 282.7L252.0 282.8L251.6 282.9L251.2 282.8L250.8 282.7L250.6 282.4L250.5 282.2L250.6 281.9L250.8 281.7L251.2 281.5L251.6 281.5L252.0 281.5L252.4 281.7L252.6 281.9Z" fill="#c8c2e8" stroke="#c8c2e8" stroke-width="1.35" stroke-linejoin="round"/>
<path d="M260.9 266.1L260.7 266.3L260.5 266.5L260.2 266.6L260.0 266.6L259.8 266.5L259.7 266.3L259.6 266.1L259.7 265.8L259.9 265.6L260.1 265.4L260.4 265.3L260.6 265.3L260.8 265.4L260.9 265.6L260.9 265.8Z" fill="#c8c2e8" stroke="#c8c2e8" stroke-width="1.35" stroke-linejoin="round"/>
<path d="M270.0 270.8L271.1 271.3L272.2 272.3L273.0 273.0L273.4 272.7L272.6 272.0L271.4 271.1L270.2 270.5Z" fill="#c8c2e8" stroke="#c8c2e8" stroke-width="1.35" stroke-linejoin="round"/>
<path d="M272.0 275.1L273.2 275.0L274.6 275.2L274.6 274.9L273.2 274.7L272.0 274.8Z" fill="#c8c2e8" stroke="#c8c2e8" stroke-width="1.35" stroke-linejoin="round"/>
<path d="M270.3 278.4L270.3 278.5L270.2 278.6L270.0 278.7L269.9 278.7L269.7 278.7L269.5 278.6L269.4 278.5L269.4 278.4L269.4 278.3L269.5 278.2L269.7 278.1L269.9 278.1L270.0 278.1L270.2 278.2L270.3 278.3Z" fill="#c8c2e8" stroke="#c8c2e8" stroke-width="1.35" stroke-linejoin="round"/>
<path d="M255.5 259.9L256.4 259.5L257.9 259.4L259.1 259.7L260.3 260.1L261.5 260.4L262.7 260.8L264.0 261.1L265.4 261.5L266.7 261.9L267.8 261.9L269.0 262.2L270.0 262.8L269.9 263.7L269.1 264.7L267.8 265.0L266.7 265.1L265.6 264.8L264.4 264.4L263.6 264.0L263.8 263.4L264.1 262.8L263.5 262.4L262.7 262.3L261.5 262.4L260.3 262.3L259.1 262.1L257.9 261.8L257.0 261.4L256.0 260.9L255.6 260.4ZM262.7 264.0L262.6 264.1L262.4 264.2L262.1 264.3L261.7 264.4L261.4 264.3L261.1 264.2L260.9 264.1L260.8 264.0L260.9 263.8L261.1 263.7L261.4 263.6L261.7 263.6L262.1 263.6L262.4 263.7L262.6 263.8Z" fill="#c8c2e8" stroke="#c8c2e8" stroke-width="1.35" stroke-linejoin="round"/>
<path d="M255.9 257.7L256.9 257.4L258.0 257.2L258.9 257.2L259.9 257.3L261.0 257.6L261.9 257.9L262.4 258.3L262.9 258.0L262.3 257.5L261.3 257.1L260.1 256.8L258.9 256.7L257.9 256.8L256.7 256.9L255.6 257.3Z" fill="#c8c2e8" stroke="#c8c2e8" stroke-width="1.35" stroke-linejoin="round"/>
<path d="M264.7 266.5L264.6 266.7L264.4 266.8L264.1 266.9L263.6 266.9L263.2 266.9L262.9 266.8L262.7 266.7L262.6 266.5L262.7 266.4L262.9 266.3L263.2 266.2L263.6 266.2L264.1 266.2L264.4 266.3L264.6 266.4ZM264.4 266.7L266.5 266.9L266.5 266.7L264.4 266.5Z" fill="#c8c2e8" stroke="#c8c2e8" stroke-width="1.35" stroke-linejoin="round"/>
<path d="M262.5 268.6L263.6 268.1L265.2 268.3L266.7 268.6L268.1 269.0L267.8 269.5L266.3 269.7L264.4 269.5L262.9 269.2Z" fill="#c8c2e8" stroke="#c8c2e8" stroke-width="1.35" stroke-linejoin="round"/>
<path d="M264.0 271.1L263.9 271.4L263.7 271.7L263.3 271.9L262.9 271.9L262.4 271.9L262.1 271.7L261.8 271.4L261.7 271.1L261.8 270.7L262.1 270.4L262.4 270.2L262.9 270.2L263.3 270.2L263.7 270.4L263.9 270.7Z" fill="#c8c2e8" stroke="#c8c2e8" stroke-width="1.35" stroke-linejoin="round"/>
<path d="M274.3 267.9L274.2 268.4L273.7 268.8L273.0 269.2L272.0 269.4L271.0 269.4L270.1 269.3L269.5 269.0L269.2 268.6L269.3 268.2L269.7 267.7L270.5 267.4L271.5 267.2L272.5 267.1L273.4 267.3L274.0 267.6ZM273.0 267.3L272.9 267.5L272.7 267.7L272.3 267.8L271.9 267.9L271.4 267.8L271.0 267.7L270.8 267.5L270.7 267.3L270.8 267.1L271.0 266.9L271.4 266.8L271.9 266.7L272.3 266.8L272.7 266.9L272.9 267.1Z" fill="#c8c2e8" stroke="#c8c2e8" stroke-width="1.35" stroke-linejoin="round"/>
<path d="M276.0 266.0L276.0 266.1L275.9 266.2L275.8 266.2L275.7 266.2L275.5 266.2L275.4 266.2L275.4 266.1L275.3 266.0L275.4 265.9L275.4 265.8L275.5 265.8L275.7 265.7L275.8 265.8L275.9 265.8L276.0 265.9Z" fill="#c8c2e8" stroke="#c8c2e8" stroke-width="1.35" stroke-linejoin="round"/>
<path d="M275.2 270.1L276.2 270.6L277.0 271.3L277.5 271.0L276.6 270.3L275.5 269.7ZM276.5 272.0L276.5 272.1L276.4 272.2L276.3 272.3L276.2 272.3L276.1 272.3L276.1 272.2L276.0 272.1L276.0 272.0L276.0 271.9L276.1 271.8L276.1 271.8L276.2 271.8L276.3 271.8L276.4 271.8L276.5 271.9Z" fill="#c8c2e8" stroke="#c8c2e8" stroke-width="1.35" stroke-linejoin="round"/>
<path d="M232.3 273.6L233.3 274.3L233.5 274.1L232.6 273.4ZM239.1 272.9L239.1 272.9L239.0 273.0L238.8 273.0L238.6 273.0L238.5 273.0L238.3 273.0L238.2 272.9L238.2 272.9L238.2 272.8L238.3 272.7L238.5 272.7L238.6 272.7L238.8 272.7L239.0 272.7L239.1 272.8Z" fill="#c8c2e8" stroke="#c8c2e8" stroke-width="1.35" stroke-linejoin="round"/>
<path d="M236.5 273.8L236.4 273.8L236.4 273.9L236.2 273.9L236.1 273.9L235.9 273.9L235.8 273.9L235.7 273.8L235.7 273.8L235.7 273.7L235.8 273.7L235.9 273.6L236.1 273.6L236.2 273.6L236.4 273.7L236.4 273.7Z" fill="#c8c2e8" stroke="#c8c2e8" stroke-width="1.35" stroke-linejoin="round"/>
<path d="M230.25 254.65V284.85H279.55" fill="none" stroke="#000" stroke-width="0.55"/>
<text x="231.10" y="292.15" font-size="4.8" text-anchor="middle">−40</text>
<text x="227.65" y="286.63" font-size="4.8" text-anchor="end">−40</text>
<text x="242.55" y="292.15" font-size="4.8" text-anchor="middle">−20</text>
<text x="227.65" y="279.69" font-size="4.8" text-anchor="end">−20</text>
<text x="254.60" y="292.15" font-size="4.8" text-anchor="middle">0</text>
<text x="227.65" y="272.75" font-size="4.8" text-anchor="end">0</text>
<text x="266.05" y="292.15" font-size="4.8" text-anchor="middle">20</text>
<text x="227.65" y="265.81" font-size="4.8" text-anchor="end">20</text>
<text x="277.50" y="292.15" font-size="4.8" text-anchor="middle">40</text>
<text x="227.65" y="258.87" font-size="4.8" text-anchor="end">40</text>
<path d="M231.70 284.85v1.4M230.25 284.93h-1.4M243.15 284.85v1.4M230.25 277.99h-1.4M254.60 284.85v1.4M230.25 271.05h-1.4M266.05 284.85v1.4M230.25 264.11h-1.4M277.50 284.85v1.4M230.25 257.17h-1.4" stroke="#000" stroke-width="0.5"/>
<text x="254.60" y="299.85" font-size="6" text-anchor="middle">tSNE_1</text>
<text transform="translate(216.25 270.15) rotate(-90)" font-size="6" text-anchor="middle">tSNE_2</text>
<text x="254.60" y="250.65" font-size="6.9" font-weight="bold" text-anchor="middle">FCGR1A</text>
<rect x="286.25" y="254.65" width="6.4" height="33.7" fill="url(#gb)" stroke="none"/>
<text x="295.50" y="259.65" font-size="4.7">3</text>
<text x="295.50" y="268.45" font-size="4.7">2</text>
<text x="295.50" y="277.15" font-size="4.7">1</text>
<text x="295.50" y="285.95" font-size="4.7">0</text>
</g>
<g stroke="#000" stroke-width="0.1">
<path d="M50.7 326.7L51.5 326.0L52.7 325.4L54.0 324.8L55.6 324.4L57.5 323.8L59.3 323.9L60.1 324.2L61.6 324.6L62.9 325.1L64.7 325.3L66.3 325.6L68.1 325.9L69.6 326.3L70.6 326.9L70.8 327.5L70.6 328.2L70.3 328.9L70.0 329.6L69.6 330.3L69.2 330.9L68.7 331.3L67.5 331.9L66.3 332.3L64.7 332.6L62.9 332.4L61.4 332.0L60.1 331.6L58.7 331.6L57.7 331.2L56.8 330.5L55.8 329.9L54.5 329.4L52.9 328.8L51.8 328.2L51.1 327.7Z" fill="#c7c1e9" stroke="#c7c1e9" stroke-width="1.35" stroke-linejoin="round"/>
<path d="M47.3 332.0L47.5 330.9L47.7 330.3L48.2 329.5L48.9 328.9L49.6 328.4L50.5 328.0L51.5 328.0L53.0 328.3L54.2 328.7L55.2 329.4L55.9 330.1L56.9 330.8L57.8 331.4L58.0 332.1L57.0 332.6L55.5 333.0L54.0 333.2L52.4 333.5L50.9 333.7L49.4 333.7L48.2 333.4L47.5 332.8Z" fill="#c7c1e9" stroke="#c7c1e9" stroke-width="1.35" stroke-linejoin="round"/>
<path d="M49.4 337.1L49.7 336.4L50.1 335.9L50.9 335.7L51.8 335.7L52.4 336.2L53.2 336.8L53.7 336.1L54.5 335.5L55.6 335.0L56.6 334.7L58.0 334.5L59.3 334.5L60.1 334.7L61.2 334.7L62.5 334.7L63.7 335.0L64.8 335.4L66.2 335.6L67.7 335.7L68.9 336.0L69.8 336.4L69.2 336.9L68.7 337.5L67.7 338.0L66.8 338.5L66.0 339.1L65.3 339.6L64.3 340.0L63.4 340.4L62.4 340.7L61.5 340.9L60.1 341.4L58.2 341.4L56.5 341.1L55.5 340.7L54.6 340.3L54.1 339.5L53.7 338.9L53.5 338.1L52.7 338.5L52.1 339.0L51.3 339.2L50.5 339.1L49.9 338.9L49.5 338.1ZM61.3 342.3L61.2 342.5L60.9 342.7L60.4 342.8L59.9 342.8L59.3 342.8L58.9 342.7L58.6 342.5L58.5 342.3L58.6 342.1L58.9 342.0L59.3 341.9L59.9 341.8L60.4 341.9L60.9 342.0L61.2 342.1Z" fill="#c7c1e9" stroke="#c7c1e9" stroke-width="1.35" stroke-linejoin="round"/>
<path d="M49.4 339.4L50.3 339.3L51.3 339.6L51.7 340.0L52.0 340.6L52.6 341.2L53.2 341.6L54.0 342.0L54.6 342.3L54.7 342.8L54.4 343.4L53.8 343.8L53.0 344.1L52.1 344.0L51.3 343.7L50.9 343.2L50.6 342.7L50.2 342.0L49.9 341.3L49.6 340.7L49.4 340.3Z" fill="#c7c1e9" stroke="#c7c1e9" stroke-width="1.35" stroke-linejoin="round"/>
<path d="M62.4 334.4L63.9 333.7L65.3 333.4L66.6 332.8L68.2 332.3L69.4 331.9L70.6 331.6L71.9 331.4L72.5 332.0L72.2 333.1L71.5 333.8L70.6 334.4L69.7 335.0L68.9 335.5L67.5 335.7L66.3 335.7L64.8 335.4L63.3 335.0Z" fill="#c7c1e9" stroke="#c7c1e9" stroke-width="1.35" stroke-linejoin="round"/>
<path d="M65.8 341.1L66.8 340.4L68.2 339.7L69.0 339.1L69.6 338.5L70.1 337.8L70.3 337.1L70.6 336.4L70.8 335.7L71.1 335.2L71.5 334.9L72.7 334.7L73.9 334.7L75.0 334.9L75.8 335.0L76.7 334.6L77.7 334.4L78.8 334.7L79.6 335.3L80.5 335.9L81.1 336.6L80.7 337.5L80.1 338.4L80.6 339.1L80.8 339.8L80.5 340.6L80.1 341.5L79.9 342.4L79.6 343.2L80.2 343.9L80.6 344.5L79.9 345.0L79.2 345.3L78.2 345.8L77.3 346.2L75.3 346.0L74.4 345.8L72.9 346.0L71.5 346.0L70.4 345.9L69.6 345.6L70.6 345.1L71.7 344.7L73.0 344.4L74.0 344.0L74.8 343.7L75.3 343.2L74.7 342.7L73.9 342.3L72.9 342.0L72.0 341.8L70.8 341.9L69.6 342.2L68.7 342.3L67.7 342.3L66.8 342.1L65.8 341.8L65.5 341.4Z" fill="#c7c1e9" stroke="#c7c1e9" stroke-width="1.35" stroke-linejoin="round"/>
<path d="M64.4 344.9L64.3 345.2L64.1 345.4L63.7 345.6L63.3 345.6L62.9 345.6L62.5 345.4L62.3 345.2L62.2 344.9L62.3 344.7L62.5 344.4L62.9 344.3L63.3 344.2L63.7 344.3L64.1 344.4L64.3 344.7Z" fill="#c7c1e9" stroke="#c7c1e9" stroke-width="1.35" stroke-linejoin="round"/>
<path d="M72.6 328.8L72.4 329.1L72.2 329.3L71.9 329.4L71.7 329.3L71.5 329.2L71.4 329.0L71.3 328.8L71.4 328.5L71.6 328.3L71.8 328.1L72.1 328.0L72.3 328.0L72.5 328.1L72.6 328.3L72.6 328.6Z" fill="#c7c1e9" stroke="#c7c1e9" stroke-width="1.35" stroke-linejoin="round"/>
<path d="M81.7 333.5L82.8 334.1L83.9 335.0L84.7 335.7L85.1 335.5L84.3 334.8L83.1 333.8L81.9 333.2Z" fill="#c7c1e9" stroke="#c7c1e9" stroke-width="1.35" stroke-linejoin="round"/>
<path d="M83.7 337.9L84.9 337.8L86.3 337.9L86.3 337.6L84.9 337.5L83.7 337.5Z" fill="#c7c1e9" stroke="#c7c1e9" stroke-width="1.35" stroke-linejoin="round"/>
<path d="M82.0 341.2L82.0 341.3L81.9 341.4L81.7 341.4L81.6 341.4L81.4 341.4L81.2 341.4L81.1 341.3L81.1 341.2L81.1 341.1L81.2 341.0L81.4 340.9L81.6 340.9L81.7 340.9L81.9 341.0L82.0 341.1Z" fill="#c7c1e9" stroke="#c7c1e9" stroke-width="1.35" stroke-linejoin="round"/>
<path d="M67.2 322.6L68.1 322.2L69.6 322.1L70.8 322.4L72.0 322.8L73.2 323.1L74.4 323.5L75.7 323.9L77.1 324.3L78.4 324.6L79.5 324.6L80.7 324.9L81.7 325.6L81.6 326.4L80.8 327.5L79.5 327.8L78.4 327.8L77.3 327.6L76.1 327.1L75.3 326.8L75.5 326.2L75.8 325.6L75.2 325.2L74.4 325.1L73.2 325.1L72.0 325.1L70.8 324.8L69.6 324.5L68.7 324.1L67.7 323.7L67.3 323.1ZM74.4 326.7L74.3 326.9L74.1 327.0L73.8 327.1L73.4 327.1L73.1 327.1L72.8 327.0L72.6 326.9L72.5 326.7L72.6 326.6L72.8 326.4L73.1 326.4L73.4 326.3L73.8 326.4L74.1 326.4L74.3 326.6Z" fill="#c7c1e9" stroke="#c7c1e9" stroke-width="1.35" stroke-linejoin="round"/>
<path d="M67.6 320.5L68.6 320.1L69.7 320.0L70.6 319.9L71.6 320.0L72.7 320.3L73.6 320.6L74.1 321.0L74.6 320.7L74.0 320.2L73.0 319.9L71.8 319.6L70.6 319.4L69.6 319.5L68.4 319.7L67.3 320.0Z" fill="#522ffd" stroke="#522ffd" stroke-width="1.35" stroke-linejoin="round"/>
<path d="M76.4 329.3L76.3 329.4L76.1 329.5L75.8 329.6L75.3 329.6L74.9 329.6L74.6 329.5L74.4 329.4L74.3 329.3L74.4 329.1L74.6 329.0L74.9 328.9L75.3 328.9L75.8 328.9L76.1 329.0L76.3 329.1ZM76.1 329.5L78.2 329.7L78.2 329.4L76.1 329.2Z" fill="#c7c1e9" stroke="#c7c1e9" stroke-width="1.35" stroke-linejoin="round"/>
<path d="M74.2 331.3L75.3 330.9L76.9 331.0L78.4 331.3L79.8 331.7L79.5 332.3L78.0 332.4L76.1 332.3L74.6 332.0Z" fill="#c7c1e9" stroke="#c7c1e9" stroke-width="1.35" stroke-linejoin="round"/>
<path d="M75.7 333.8L75.6 334.1L75.4 334.4L75.0 334.6L74.6 334.7L74.1 334.6L73.8 334.4L73.5 334.1L73.4 333.8L73.5 333.5L73.8 333.2L74.1 333.0L74.6 332.9L75.0 333.0L75.4 333.2L75.6 333.5Z" fill="#c7c1e9" stroke="#c7c1e9" stroke-width="1.35" stroke-linejoin="round"/>
<path d="M86.0 330.7L85.9 331.1L85.4 331.6L84.7 331.9L83.7 332.1L82.7 332.2L81.8 332.0L81.2 331.7L80.9 331.4L81.0 330.9L81.4 330.5L82.2 330.1L83.2 329.9L84.2 329.9L85.1 330.0L85.7 330.3ZM84.7 330.1L84.6 330.3L84.4 330.4L84.0 330.6L83.6 330.6L83.1 330.6L82.7 330.4L82.5 330.3L82.4 330.1L82.5 329.8L82.7 329.7L83.1 329.5L83.6 329.5L84.0 329.5L84.4 329.7L84.6 329.8Z" fill="#c7c1e9" stroke="#c7c1e9" stroke-width="1.35" stroke-linejoin="round"/>
<path d="M87.7 328.7L87.7 328.8L87.6 328.9L87.5 329.0L87.4 329.0L87.2 329.0L87.1 328.9L87.1 328.8L87.0 328.7L87.1 328.7L87.1 328.6L87.2 328.5L87.4 328.5L87.5 328.5L87.6 328.6L87.7 328.7Z" fill="#c7c1e9" stroke="#c7c1e9" stroke-width="1.35" stroke-linejoin="round"/>
<path d="M86.9 332.8L87.9 333.3L88.7 334.0L89.2 333.7L88.3 333.0L87.2 332.5ZM88.2 334.8L88.2 334.9L88.1 334.9L88.0 335.0L87.9 335.0L87.8 335.0L87.8 334.9L87.7 334.9L87.7 334.8L87.7 334.7L87.8 334.6L87.8 334.5L87.9 334.5L88.0 334.5L88.1 334.6L88.2 334.7Z" fill="#c7c1e9" stroke="#c7c1e9" stroke-width="1.35" stroke-linejoin="round"/>
<path d="M44.0 336.3L45.0 337.0L45.2 336.9L44.3 336.2ZM50.8 335.6L50.8 335.7L50.7 335.7L50.5 335.8L50.3 335.8L50.2 335.8L50.0 335.7L49.9 335.7L49.9 335.6L49.9 335.5L50.0 335.5L50.2 335.4L50.3 335.4L50.5 335.4L50.7 335.5L50.8 335.5Z" fill="#c7c1e9" stroke="#c7c1e9" stroke-width="1.35" stroke-linejoin="round"/>
<path d="M48.2 336.5L48.1 336.6L48.1 336.6L47.9 336.7L47.8 336.7L47.6 336.7L47.5 336.6L47.4 336.6L47.4 336.5L47.4 336.5L47.5 336.4L47.6 336.4L47.8 336.4L47.9 336.4L48.1 336.4L48.1 336.5Z" fill="#c7c1e9" stroke="#c7c1e9" stroke-width="1.35" stroke-linejoin="round"/>
<path d="M41.90 317.40V347.60H91.20" fill="none" stroke="#000" stroke-width="0.55"/>
<text x="42.80" y="354.90" font-size="4.8" text-anchor="middle">−40</text>
<text x="39.30" y="349.38" font-size="4.8" text-anchor="end">−40</text>
<text x="54.25" y="354.90" font-size="4.8" text-anchor="middle">−20</text>
<text x="39.30" y="342.44" font-size="4.8" text-anchor="end">−20</text>
<text x="66.30" y="354.90" font-size="4.8" text-anchor="middle">0</text>
<text x="39.30" y="335.50" font-size="4.8" text-anchor="end">0</text>
<text x="77.75" y="354.90" font-size="4.8" text-anchor="middle">20</text>
<text x="39.30" y="328.56" font-size="4.8" text-anchor="end">20</text>
<text x="89.20" y="354.90" font-size="4.8" text-anchor="middle">40</text>
<text x="39.30" y="321.62" font-size="4.8" text-anchor="end">40</text>
<path d="M43.40 347.60v1.4M41.90 347.68h-1.4M54.85 347.60v1.4M41.90 340.74h-1.4M66.30 347.60v1.4M41.90 333.80h-1.4M77.75 347.60v1.4M41.90 326.86h-1.4M89.20 347.60v1.4M41.90 319.92h-1.4" stroke="#000" stroke-width="0.5"/>
<text x="66.30" y="362.60" font-size="6" text-anchor="middle">tSNE_1</text>
<text transform="translate(27.90 332.90) rotate(-90)" font-size="6" text-anchor="middle">tSNE_2</text>
<text x="66.30" y="313.40" font-size="6.9" font-weight="bold" text-anchor="middle">PPBP</text>
<rect x="97.75" y="317.40" width="6.4" height="33.7" fill="url(#gb)" stroke="none"/>
<text x="107.00" y="320.50" font-size="4.7">6</text>
<text x="107.00" y="329.20" font-size="4.7">4</text>
<text x="107.00" y="338.20" font-size="4.7">2</text>
<text x="107.00" y="347.20" font-size="4.7">0</text>
</g>
<g stroke="#000" stroke-width="0.1">
<path d="M145.7 326.7L146.5 326.0L147.7 325.4L149.0 324.8L150.6 324.4L152.5 323.8L154.3 323.9L155.1 324.2L156.6 324.6L157.9 325.1L159.7 325.3L161.3 325.6L163.1 325.9L164.6 326.3L165.6 326.9L165.8 327.5L165.6 328.2L165.3 328.9L165.0 329.6L164.6 330.3L164.2 330.9L163.7 331.3L162.5 331.9L161.3 332.3L159.7 332.6L157.9 332.4L156.4 332.0L155.1 331.6L153.7 331.6L152.7 331.2L151.8 330.5L150.8 329.9L149.5 329.4L147.9 328.8L146.8 328.2L146.1 327.7Z" fill="#cbc7e5" stroke="#cbc7e5" stroke-width="1.35" stroke-linejoin="round"/>
<path d="M142.3 332.0L142.5 330.9L142.7 330.3L143.2 329.5L143.9 328.9L144.6 328.4L145.5 328.0L146.5 328.0L148.0 328.3L149.2 328.7L150.2 329.4L150.9 330.1L151.9 330.8L152.8 331.4L153.0 332.1L152.0 332.6L150.5 333.0L149.0 333.2L147.4 333.5L145.9 333.7L144.4 333.7L143.2 333.4L142.5 332.8Z" fill="#cbc7e5" stroke="#cbc7e5" stroke-width="1.35" stroke-linejoin="round"/>
<path d="M144.4 337.1L144.7 336.4L145.1 335.9L145.9 335.7L146.8 335.7L147.4 336.2L148.2 336.8L148.7 336.1L149.5 335.5L150.6 335.0L151.6 334.7L153.0 334.5L154.3 334.5L155.1 334.7L156.2 334.7L157.5 334.7L158.7 335.0L159.8 335.4L161.2 335.6L162.7 335.7L163.9 336.0L164.8 336.4L164.2 336.9L163.7 337.5L162.7 338.0L161.8 338.5L161.0 339.1L160.3 339.6L159.3 340.0L158.4 340.4L157.4 340.7L156.5 340.9L155.1 341.4L153.2 341.4L151.5 341.1L150.5 340.7L149.6 340.3L149.1 339.5L148.7 338.9L148.5 338.1L147.7 338.5L147.1 339.0L146.3 339.2L145.5 339.1L144.9 338.9L144.5 338.1ZM156.3 342.3L156.2 342.5L155.9 342.7L155.4 342.8L154.9 342.8L154.3 342.8L153.9 342.7L153.6 342.5L153.5 342.3L153.6 342.1L153.9 342.0L154.3 341.9L154.9 341.8L155.4 341.9L155.9 342.0L156.2 342.1Z" fill="#cbc7e5" stroke="#cbc7e5" stroke-width="1.35" stroke-linejoin="round"/>
<path d="M144.4 339.4L145.3 339.3L146.3 339.6L146.7 340.0L147.0 340.6L147.6 341.2L148.2 341.6L149.0 342.0L149.6 342.3L149.7 342.8L149.4 343.4L148.8 343.8L148.0 344.1L147.1 344.0L146.3 343.7L145.9 343.2L145.6 342.7L145.2 342.0L144.9 341.3L144.6 340.7L144.4 340.3Z" fill="#cbc7e5" stroke="#cbc7e5" stroke-width="1.35" stroke-linejoin="round"/>
<path d="M157.4 334.4L158.9 333.7L160.3 333.4L161.6 332.8L163.2 332.3L164.4 331.9L165.6 331.6L166.9 331.4L167.5 332.0L167.2 333.1L166.5 333.8L165.6 334.4L164.7 335.0L163.9 335.5L162.5 335.7L161.3 335.7L159.8 335.4L158.3 335.0Z" fill="#cbc7e5" stroke="#cbc7e5" stroke-width="1.35" stroke-linejoin="round"/>
<path d="M160.8 341.1L161.8 340.4L163.2 339.7L164.0 339.1L164.6 338.5L165.1 337.8L165.3 337.1L165.6 336.4L165.8 335.7L166.1 335.2L166.5 334.9L167.7 334.7L168.9 334.7L170.0 334.9L170.8 335.0L171.7 334.6L172.7 334.4L173.8 334.7L174.6 335.3L175.5 335.9L176.1 336.6L175.7 337.5L175.1 338.4L175.6 339.1L175.8 339.8L175.5 340.6L175.1 341.5L174.9 342.4L174.6 343.2L175.2 343.9L175.6 344.5L174.9 345.0L174.2 345.3L173.2 345.8L172.3 346.2L170.3 346.0L169.4 345.8L167.9 346.0L166.5 346.0L165.4 345.9L164.6 345.6L165.6 345.1L166.7 344.7L168.0 344.4L169.0 344.0L169.8 343.7L170.3 343.2L169.7 342.7L168.9 342.3L167.9 342.0L167.0 341.8L165.8 341.9L164.6 342.2L163.7 342.3L162.7 342.3L161.8 342.1L160.8 341.8L160.5 341.4Z" fill="#cbc7e5" stroke="#cbc7e5" stroke-width="1.35" stroke-linejoin="round"/>
<path d="M159.4 344.9L159.3 345.2L159.1 345.4L158.7 345.6L158.3 345.6L157.9 345.6L157.5 345.4L157.3 345.2L157.2 344.9L157.3 344.7L157.5 344.4L157.9 344.3L158.3 344.2L158.7 344.3L159.1 344.4L159.3 344.7Z" fill="#cbc7e5" stroke="#cbc7e5" stroke-width="1.35" stroke-linejoin="round"/>
<path d="M167.6 328.8L167.4 329.1L167.2 329.3L166.9 329.4L166.7 329.3L166.5 329.2L166.4 329.0L166.3 328.8L166.4 328.5L166.6 328.3L166.8 328.1L167.1 328.0L167.3 328.0L167.5 328.1L167.6 328.3L167.6 328.6Z" fill="#cbc7e5" stroke="#cbc7e5" stroke-width="1.35" stroke-linejoin="round"/>
<path d="M176.7 333.5L177.8 334.1L178.9 335.0L179.7 335.7L180.1 335.5L179.3 334.8L178.1 333.8L176.9 333.2Z" fill="#cbc7e5" stroke="#cbc7e5" stroke-width="1.35" stroke-linejoin="round"/>
<path d="M178.7 337.9L179.9 337.8L181.3 337.9L181.3 337.6L179.9 337.5L178.7 337.5Z" fill="#cbc7e5" stroke="#cbc7e5" stroke-width="1.35" stroke-linejoin="round"/>
<path d="M177.0 341.2L177.0 341.3L176.9 341.4L176.7 341.4L176.6 341.4L176.4 341.4L176.2 341.4L176.1 341.3L176.1 341.2L176.1 341.1L176.2 341.0L176.4 340.9L176.6 340.9L176.7 340.9L176.9 341.0L177.0 341.1Z" fill="#cbc7e5" stroke="#cbc7e5" stroke-width="1.35" stroke-linejoin="round"/>
<path d="M162.2 322.6L163.1 322.2L164.6 322.1L165.8 322.4L167.0 322.8L168.2 323.1L169.4 323.5L170.7 323.9L172.1 324.3L173.4 324.6L174.5 324.6L175.7 324.9L176.7 325.6L176.6 326.4L175.8 327.5L174.5 327.8L173.4 327.8L172.3 327.6L171.1 327.1L170.3 326.8L170.5 326.2L170.8 325.6L170.2 325.2L169.4 325.1L168.2 325.1L167.0 325.1L165.8 324.8L164.6 324.5L163.7 324.1L162.7 323.7L162.3 323.1ZM169.4 326.7L169.3 326.9L169.1 327.0L168.8 327.1L168.4 327.1L168.1 327.1L167.8 327.0L167.6 326.9L167.5 326.7L167.6 326.6L167.8 326.4L168.1 326.4L168.4 326.3L168.8 326.4L169.1 326.4L169.3 326.6Z" fill="#835cf7" stroke="#835cf7" stroke-width="1.35" stroke-linejoin="round"/>
<path d="M162.6 320.5L163.6 320.1L164.7 320.0L165.6 319.9L166.6 320.0L167.7 320.3L168.6 320.6L169.1 321.0L169.6 320.7L169.0 320.2L168.0 319.9L166.8 319.6L165.6 319.4L164.6 319.5L163.4 319.7L162.3 320.0Z" fill="#cbc7e5" stroke="#cbc7e5" stroke-width="1.35" stroke-linejoin="round"/>
<path d="M171.4 329.3L171.3 329.4L171.1 329.5L170.8 329.6L170.3 329.6L169.9 329.6L169.6 329.5L169.4 329.4L169.3 329.3L169.4 329.1L169.6 329.0L169.9 328.9L170.3 328.9L170.8 328.9L171.1 329.0L171.3 329.1ZM171.1 329.5L173.2 329.7L173.2 329.4L171.1 329.2Z" fill="#cbc7e5" stroke="#cbc7e5" stroke-width="1.35" stroke-linejoin="round"/>
<path d="M169.2 331.3L170.3 330.9L171.9 331.0L173.4 331.3L174.8 331.7L174.5 332.3L173.0 332.4L171.1 332.3L169.6 332.0Z" fill="#cbc7e5" stroke="#cbc7e5" stroke-width="1.35" stroke-linejoin="round"/>
<path d="M170.7 333.8L170.6 334.1L170.4 334.4L170.0 334.6L169.6 334.7L169.1 334.6L168.8 334.4L168.5 334.1L168.4 333.8L168.5 333.5L168.8 333.2L169.1 333.0L169.6 332.9L170.0 333.0L170.4 333.2L170.6 333.5Z" fill="#cbc7e5" stroke="#cbc7e5" stroke-width="1.35" stroke-linejoin="round"/>
<path d="M181.0 330.7L180.9 331.1L180.4 331.6L179.7 331.9L178.7 332.1L177.7 332.2L176.8 332.0L176.2 331.7L175.9 331.4L176.0 330.9L176.4 330.5L177.2 330.1L178.2 329.9L179.2 329.9L180.1 330.0L180.7 330.3ZM179.7 330.1L179.6 330.3L179.4 330.4L179.0 330.6L178.6 330.6L178.1 330.6L177.7 330.4L177.5 330.3L177.4 330.1L177.5 329.8L177.7 329.7L178.1 329.5L178.6 329.5L179.0 329.5L179.4 329.7L179.6 329.8Z" fill="#cbc7e5" stroke="#cbc7e5" stroke-width="1.35" stroke-linejoin="round"/>
<path d="M182.7 328.7L182.7 328.8L182.6 328.9L182.5 329.0L182.4 329.0L182.2 329.0L182.1 328.9L182.1 328.8L182.0 328.7L182.1 328.7L182.1 328.6L182.2 328.5L182.4 328.5L182.5 328.5L182.6 328.6L182.7 328.7Z" fill="#cbc7e5" stroke="#cbc7e5" stroke-width="1.35" stroke-linejoin="round"/>
<path d="M181.9 332.8L182.9 333.3L183.7 334.0L184.2 333.7L183.3 333.0L182.2 332.5ZM183.2 334.8L183.2 334.9L183.1 334.9L183.0 335.0L182.9 335.0L182.8 335.0L182.8 334.9L182.7 334.9L182.7 334.8L182.7 334.7L182.8 334.6L182.8 334.5L182.9 334.5L183.0 334.5L183.1 334.6L183.2 334.7Z" fill="#cbc7e5" stroke="#cbc7e5" stroke-width="1.35" stroke-linejoin="round"/>
<path d="M139.0 336.3L140.0 337.0L140.2 336.9L139.3 336.2ZM145.8 335.6L145.8 335.7L145.7 335.7L145.5 335.8L145.3 335.8L145.2 335.8L145.0 335.7L144.9 335.7L144.9 335.6L144.9 335.5L145.0 335.5L145.2 335.4L145.3 335.4L145.5 335.4L145.7 335.5L145.8 335.5Z" fill="#cbc7e5" stroke="#cbc7e5" stroke-width="1.35" stroke-linejoin="round"/>
<path d="M143.2 336.5L143.1 336.6L143.1 336.6L142.9 336.7L142.8 336.7L142.6 336.7L142.5 336.6L142.4 336.6L142.4 336.5L142.4 336.5L142.5 336.4L142.6 336.4L142.8 336.4L142.9 336.4L143.1 336.4L143.1 336.5Z" fill="#cbc7e5" stroke="#cbc7e5" stroke-width="1.35" stroke-linejoin="round"/>
<path d="M137.00 317.40V347.60H186.30" fill="none" stroke="#000" stroke-width="0.55"/>
<text x="137.80" y="354.90" font-size="4.8" text-anchor="middle">−40</text>
<text x="134.40" y="349.38" font-size="4.8" text-anchor="end">−40</text>
<text x="149.25" y="354.90" font-size="4.8" text-anchor="middle">−20</text>
<text x="134.40" y="342.44" font-size="4.8" text-anchor="end">−20</text>
<text x="161.30" y="354.90" font-size="4.8" text-anchor="middle">0</text>
<text x="134.40" y="335.50" font-size="4.8" text-anchor="end">0</text>
<text x="172.75" y="354.90" font-size="4.8" text-anchor="middle">20</text>
<text x="134.40" y="328.56" font-size="4.8" text-anchor="end">20</text>
<text x="184.20" y="354.90" font-size="4.8" text-anchor="middle">40</text>
<text x="134.40" y="321.62" font-size="4.8" text-anchor="end">40</text>
<path d="M138.40 347.60v1.4M137.00 347.68h-1.4M149.85 347.60v1.4M137.00 340.74h-1.4M161.30 347.60v1.4M137.00 333.80h-1.4M172.75 347.60v1.4M137.00 326.86h-1.4M184.20 347.60v1.4M137.00 319.92h-1.4" stroke="#000" stroke-width="0.5"/>
<text x="161.30" y="362.60" font-size="6" text-anchor="middle">tSNE_1</text>
<text transform="translate(123.00 332.90) rotate(-90)" font-size="6" text-anchor="middle">tSNE_2</text>
<text x="161.30" y="313.40" font-size="6.9" font-weight="bold" text-anchor="middle">MS4A1</text>
<rect x="193.25" y="317.40" width="6.4" height="33.7" fill="url(#gb)" stroke="none"/>
<text x="202.50" y="319.70" font-size="4.7">5</text>
<text x="202.50" y="326.20" font-size="4.7">4</text>
<text x="202.50" y="332.70" font-size="4.7">3</text>
<text x="202.50" y="339.20" font-size="4.7">2</text>
<text x="202.50" y="345.70" font-size="4.7">1</text>
<text x="202.50" y="351.70" font-size="4.7">0</text>
</g>
<g id="panelD">
<rect x="81.4" y="385.4" width="141" height="133.9" fill="#fff" stroke="#a6a6a6" stroke-width="0.55"/>
<rect x="84.10" y="391.10" width="17.7" height="6.90" fill="#8DD3C7"/>
<rect x="84.10" y="398.00" width="17.7" height="15.00" fill="#FFFFB3"/>
<rect x="84.10" y="413.00" width="17.7" height="42.00" fill="#BEBADA"/>
<rect x="84.10" y="455.00" width="17.7" height="13.00" fill="#FB8072"/>
<rect x="84.10" y="468.00" width="17.7" height="2.50" fill="#80B1D3"/>
<rect x="84.10" y="470.50" width="17.7" height="2.50" fill="#FDB462"/>
<rect x="84.10" y="473.00" width="17.7" height="8.50" fill="#B3DE69"/>
<rect x="84.10" y="481.50" width="17.7" height="30.25" fill="#FCCDE5"/>
<rect x="84.10" y="511.75" width="17.7" height="1.65" fill="#D9D9D9"/>
<path d="M92.95 519.3v3.9" stroke="#444" stroke-width="0.6"/>
<text transform="translate(93.95 528.3) rotate(-45)" font-size="5.6" text-anchor="middle" fill="#4d4d4d" dy="2">HC1</text>
<rect x="103.75" y="391.10" width="17.7" height="6.90" fill="#8DD3C7"/>
<rect x="103.75" y="398.00" width="17.7" height="8.75" fill="#FFFFB3"/>
<rect x="103.75" y="406.75" width="17.7" height="38.25" fill="#BEBADA"/>
<rect x="103.75" y="445.00" width="17.7" height="5.00" fill="#FB8072"/>
<rect x="103.75" y="450.00" width="17.7" height="1.50" fill="#80B1D3"/>
<rect x="103.75" y="451.50" width="17.7" height="2.75" fill="#FDB462"/>
<rect x="103.75" y="454.25" width="17.7" height="4.25" fill="#B3DE69"/>
<rect x="103.75" y="458.50" width="17.7" height="54.90" fill="#FCCDE5"/>
<path d="M112.60 519.3v3.9" stroke="#444" stroke-width="0.6"/>
<text transform="translate(113.60 528.3) rotate(-45)" font-size="5.6" text-anchor="middle" fill="#4d4d4d" dy="2">HC2</text>
<rect x="123.40" y="391.10" width="17.7" height="10.90" fill="#8DD3C7"/>
<rect x="123.40" y="402.00" width="17.7" height="10.50" fill="#FFFFB3"/>
<rect x="123.40" y="412.50" width="17.7" height="29.00" fill="#BEBADA"/>
<rect x="123.40" y="441.50" width="17.7" height="3.50" fill="#FB8072"/>
<rect x="123.40" y="445.00" width="17.7" height="1.50" fill="#80B1D3"/>
<rect x="123.40" y="446.50" width="17.7" height="3.00" fill="#FDB462"/>
<rect x="123.40" y="449.50" width="17.7" height="5.75" fill="#B3DE69"/>
<rect x="123.40" y="455.25" width="17.7" height="58.15" fill="#FCCDE5"/>
<path d="M132.25 519.3v3.9" stroke="#444" stroke-width="0.6"/>
<text transform="translate(133.25 528.3) rotate(-45)" font-size="5.6" text-anchor="middle" fill="#4d4d4d" dy="2">HC3</text>
<rect x="143.05" y="391.10" width="17.7" height="13.40" fill="#8DD3C7"/>
<rect x="143.05" y="404.50" width="17.7" height="10.50" fill="#FFFFB3"/>
<rect x="143.05" y="415.00" width="17.7" height="32.50" fill="#BEBADA"/>
<rect x="143.05" y="447.50" width="17.7" height="20.50" fill="#FB8072"/>
<rect x="143.05" y="468.00" width="17.7" height="1.50" fill="#80B1D3"/>
<rect x="143.05" y="469.50" width="17.7" height="4.50" fill="#FDB462"/>
<rect x="143.05" y="474.00" width="17.7" height="4.50" fill="#B3DE69"/>
<rect x="143.05" y="478.50" width="17.7" height="34.90" fill="#FCCDE5"/>
<path d="M151.90 519.3v3.9" stroke="#444" stroke-width="0.6"/>
<text transform="translate(152.90 528.3) rotate(-45)" font-size="5.6" text-anchor="middle" fill="#4d4d4d" dy="2">RA</text>
<rect x="162.70" y="391.10" width="17.7" height="15.65" fill="#8DD3C7"/>
<rect x="162.70" y="406.75" width="17.7" height="24.50" fill="#FFFFB3"/>
<rect x="162.70" y="431.25" width="17.7" height="8.00" fill="#BEBADA"/>
<rect x="162.70" y="439.25" width="17.7" height="2.25" fill="#FB8072"/>
<rect x="162.70" y="441.50" width="17.7" height="0.50" fill="#80B1D3"/>
<rect x="162.70" y="442.00" width="17.7" height="1.50" fill="#FDB462"/>
<rect x="162.70" y="443.50" width="17.7" height="50.25" fill="#B3DE69"/>
<rect x="162.70" y="493.75" width="17.7" height="13.00" fill="#FCCDE5"/>
<rect x="162.70" y="506.75" width="17.7" height="6.65" fill="#D9D9D9"/>
<path d="M171.55 519.3v3.9" stroke="#444" stroke-width="0.6"/>
<text transform="translate(172.55 528.3) rotate(-45)" font-size="5.6" text-anchor="middle" fill="#4d4d4d" dy="2">SLE1</text>
<rect x="182.35" y="391.10" width="17.7" height="8.90" fill="#8DD3C7"/>
<rect x="182.35" y="400.00" width="17.7" height="42.00" fill="#FFFFB3"/>
<rect x="182.35" y="442.00" width="17.7" height="6.75" fill="#BEBADA"/>
<rect x="182.35" y="448.75" width="17.7" height="0.75" fill="#FB8072"/>
<rect x="182.35" y="449.50" width="17.7" height="0.75" fill="#80B1D3"/>
<rect x="182.35" y="450.25" width="17.7" height="4.00" fill="#FDB462"/>
<rect x="182.35" y="454.25" width="17.7" height="29.00" fill="#B3DE69"/>
<rect x="182.35" y="483.25" width="17.7" height="19.50" fill="#FCCDE5"/>
<rect x="182.35" y="502.75" width="17.7" height="10.65" fill="#D9D9D9"/>
<path d="M191.20 519.3v3.9" stroke="#444" stroke-width="0.6"/>
<text transform="translate(192.20 528.3) rotate(-45)" font-size="5.6" text-anchor="middle" fill="#4d4d4d" dy="2">SLE2</text>
<rect x="202.00" y="391.10" width="17.7" height="8.90" fill="#8DD3C7"/>
<rect x="202.00" y="400.00" width="17.7" height="56.75" fill="#FFFFB3"/>
<rect x="202.00" y="456.75" width="17.7" height="24.00" fill="#BEBADA"/>
<rect x="202.00" y="480.75" width="17.7" height="8.25" fill="#FB8072"/>
<rect x="202.00" y="489.00" width="17.7" height="1.75" fill="#80B1D3"/>
<rect x="202.00" y="490.75" width="17.7" height="6.00" fill="#FDB462"/>
<rect x="202.00" y="496.75" width="17.7" height="2.75" fill="#B3DE69"/>
<rect x="202.00" y="499.50" width="17.7" height="13.90" fill="#FCCDE5"/>
<path d="M210.85 519.3v3.9" stroke="#444" stroke-width="0.6"/>
<text transform="translate(211.85 528.3) rotate(-45)" font-size="5.6" text-anchor="middle" fill="#4d4d4d" dy="2">SLE3</text>
<path d="M76.5 391.10h4.6" stroke="#444" stroke-width="0.6"/>
<text x="75" y="393.10" font-size="5.6" text-anchor="end" fill="#4d4d4d">1.00</text>
<path d="M76.5 421.70h4.6" stroke="#444" stroke-width="0.6"/>
<text x="75" y="423.70" font-size="5.6" text-anchor="end" fill="#4d4d4d">0.75</text>
<path d="M76.5 452.25h4.6" stroke="#444" stroke-width="0.6"/>
<text x="75" y="454.25" font-size="5.6" text-anchor="end" fill="#4d4d4d">0.50</text>
<path d="M76.5 482.80h4.6" stroke="#444" stroke-width="0.6"/>
<text x="75" y="484.80" font-size="5.6" text-anchor="end" fill="#4d4d4d">0.25</text>
<path d="M76.5 513.40h4.6" stroke="#444" stroke-width="0.6"/>
<text x="75" y="515.40" font-size="5.6" text-anchor="end" fill="#4d4d4d">0.00</text>
<text x="81.4" y="381.6" font-size="7.77" stroke="#000" stroke-width="0.12">the proportions of different cell types in three conditions</text>
<text x="151.4" y="547.2" font-size="8.95" text-anchor="middle" stroke="#000" stroke-width="0.12">condition</text>
<text transform="translate(60.6 452) rotate(-90)" font-size="9.2" text-anchor="middle" stroke="#000" stroke-width="0.12">Freq</text>
<rect x="229" y="418.50" width="6" height="7.1" fill="#8DD3C7"/>
<text x="240.3" y="425.10" font-size="7.75" stroke="#000" stroke-width="0.12">B</text>
<rect x="229" y="426.50" width="6" height="7.1" fill="#FFFFB3"/>
<text x="240.3" y="433.10" font-size="7.75" stroke="#000" stroke-width="0.12">CD14+ mono</text>
<rect x="229" y="434.50" width="6" height="7.1" fill="#BEBADA"/>
<text x="240.3" y="441.10" font-size="7.75" stroke="#000" stroke-width="0.12">CD4+ T</text>
<rect x="229" y="442.50" width="6" height="7.1" fill="#FB8072"/>
<text x="240.3" y="449.10" font-size="7.75" stroke="#000" stroke-width="0.12">CD8+ T</text>
<rect x="229" y="450.50" width="6" height="7.1" fill="#80B1D3"/>
<text x="240.3" y="457.10" font-size="7.75" stroke="#000" stroke-width="0.12">DC</text>
<rect x="229" y="458.50" width="6" height="7.1" fill="#FDB462"/>
<text x="240.3" y="465.10" font-size="7.75" stroke="#000" stroke-width="0.12">FCGR3A+ mono</text>
<rect x="229" y="466.50" width="6" height="7.1" fill="#B3DE69"/>
<text x="240.3" y="473.10" font-size="7.75" stroke="#000" stroke-width="0.12">mixed</text>
<rect x="229" y="474.50" width="6" height="7.1" fill="#FCCDE5"/>
<text x="240.3" y="481.10" font-size="7.75" stroke="#000" stroke-width="0.12">NK</text>
<rect x="229" y="482.50" width="6" height="7.1" fill="#D9D9D9"/>
<text x="240.3" y="489.10" font-size="7.75" stroke="#000" stroke-width="0.12">platelet</text>
</g>
</svg>
</body></html>
